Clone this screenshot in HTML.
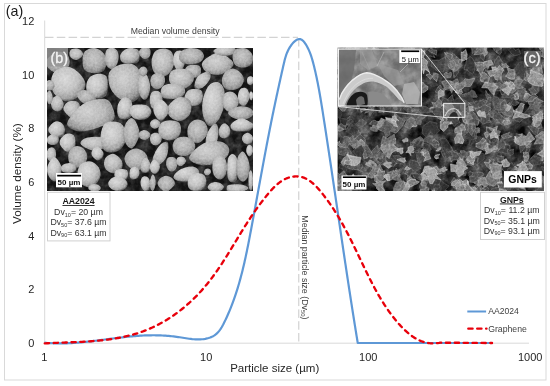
<!DOCTYPE html>
<html><head><meta charset="utf-8"><style>
html,body{margin:0;padding:0;background:#fff;width:550px;height:386px;overflow:hidden}
svg{display:block;filter:blur(0.3px)}
</style></head><body>
<svg width="550" height="386" viewBox="0 0 550 386" font-family="'Liberation Sans', Arial, sans-serif">
<defs>
<radialGradient id="pg" cx="0.42" cy="0.38" r="0.65">
<stop offset="0" stop-color="#d2d2d2"/><stop offset="0.55" stop-color="#bbbbbb"/><stop offset="0.85" stop-color="#989898"/><stop offset="1" stop-color="#5a5a5a"/>
</radialGradient>
<radialGradient id="pg2" cx="0.45" cy="0.4" r="0.65">
<stop offset="0" stop-color="#c8c8c8"/><stop offset="0.55" stop-color="#b0b0b0"/><stop offset="0.85" stop-color="#8e8e8e"/><stop offset="1" stop-color="#525252"/>
</radialGradient>
<radialGradient id="pg3" cx="0.4" cy="0.35" r="0.65">
<stop offset="0" stop-color="#dadada"/><stop offset="0.55" stop-color="#c4c4c4"/><stop offset="0.85" stop-color="#a2a2a2"/><stop offset="1" stop-color="#626262"/>
</radialGradient>
<clipPath id="cb"><rect x="47" y="48" width="206" height="143"/></clipPath>
<clipPath id="cc"><rect x="337.5" y="47.5" width="206.5" height="143.5"/></clipPath>
<clipPath id="ci"><rect x="338.5" y="49" width="83" height="57"/></clipPath>
<filter id="tb" x="0" y="0" width="1" height="1" color-interpolation-filters="sRGB">
<feTurbulence type="fractalNoise" baseFrequency="0.12" numOctaves="3" seed="4"/>
<feColorMatrix type="matrix" values="1.2 0 0 0 -0.42  1.2 0 0 0 -0.42  1.2 0 0 0 -0.42  0 0 0 0 1"/>
</filter>
<filter id="gr" x="0" y="0" width="1" height="1" color-interpolation-filters="sRGB">
<feTurbulence type="fractalNoise" baseFrequency="0.45" numOctaves="2" seed="2"/>
<feColorMatrix type="matrix" values="1 0 0 0 0  1 0 0 0 0  1 0 0 0 0  0 0 0 0 1"/>
</filter>
<filter id="tc" x="0" y="0" width="1" height="1" color-interpolation-filters="sRGB">
<feTurbulence type="fractalNoise" baseFrequency="0.07" numOctaves="4" seed="9"/>
<feColorMatrix type="matrix" values="1.5 0 0 0 -0.4  1.5 0 0 0 -0.4  1.5 0 0 0 -0.4  0 0 0 0 1"/>
</filter>
<filter id="bl" x="-0.1" y="-0.1" width="1.2" height="1.2"><feGaussianBlur stdDeviation="0.6"/></filter>
<filter id="bl2" x="0" y="0" width="1" height="1"><feGaussianBlur stdDeviation="0.55"/></filter>
</defs>
<rect x="4.5" y="3.5" width="541.5" height="376.5" fill="#fff" stroke="#d9d9d9" stroke-width="1"/>
<!-- axes -->
<line x1="44.7" y1="20.5" x2="44.7" y2="343.2" stroke="#d9d9d9" stroke-width="1"/>
<line x1="44.5" y1="343.2" x2="529" y2="343.2" stroke="#d9d9d9" stroke-width="1"/>
<!-- median lines -->
<line x1="45" y1="37.3" x2="298" y2="37.3" stroke="#c8c8c8" stroke-width="1" stroke-dasharray="8.5 3.3"/>
<line x1="298.8" y1="38" x2="298.8" y2="343" stroke="#c8c8c8" stroke-width="1" stroke-dasharray="8.5 3.3"/>
<text x="175.2" y="34" font-size="8.7" fill="#404040" text-anchor="middle">Median volume density</text>
<text transform="translate(302,215.3) rotate(90)" font-size="8.9" fill="#404040">Median particle size (Dv<tspan font-size="5.8" dy="1.5">50</tspan><tspan dy="-1.5">)</tspan></text>
<!-- tick labels -->
<g font-size="11" fill="#262626" text-anchor="end">
<text x="34.3" y="24.8">12</text><text x="34.3" y="78.5">10</text><text x="34.3" y="132.2">8</text>
<text x="34.3" y="185.9">6</text><text x="34.3" y="239.6">4</text><text x="34.3" y="293.3">2</text><text x="34.3" y="347">0</text>
</g>
<g font-size="11" fill="#262626" text-anchor="middle">
<text x="44.2" y="361">1</text><text x="206.2" y="361">10</text><text x="368.2" y="361">100</text><text x="530.2" y="361">1000</text>
</g>
<text x="274.7" y="371.9" font-size="11.5" fill="#262626" text-anchor="middle">Particle size (µm)</text>
<text transform="translate(20.5,173.6) rotate(-90)" font-size="11.7" fill="#262626" text-anchor="middle">Volume density (%)</text>
<text x="5.8" y="16" font-size="14.3" fill="#1a1a1a">(a)</text>
<!-- image b -->
<g clip-path="url(#cb)">
<rect x="47" y="48" width="206" height="143" fill="#1c1c1c"/>
<rect x="47" y="48" width="206" height="143" filter="url(#tb)" opacity="0.35"/>
<g filter="url(#bl)">
<path d="M69.8,62.0 C69.7,64.6 68.4,67.8 66.4,69.6 C64.4,71.5 60.8,73.1 58.0,73.1 C55.2,73.1 51.7,71.4 49.7,69.6 C47.7,67.7 45.6,64.3 45.8,62.0 C46.0,59.7 48.8,57.2 50.8,55.5 C52.8,53.8 55.4,52.1 58.0,51.9 C60.6,51.7 64.7,52.5 66.6,54.1 C68.6,55.8 69.8,59.4 69.8,62.0Z" fill="url(#pg2)"/>
<path d="M83.2,54.0 C83.1,55.3 81.5,57.0 80.3,58.0 C79.1,59.0 77.5,60.1 76.0,60.1 C74.5,60.1 72.7,59.1 71.5,58.1 C70.4,57.1 69.4,55.4 69.3,54.0 C69.3,52.6 70.1,50.5 71.2,49.6 C72.4,48.7 74.5,48.4 76.0,48.5 C77.5,48.5 79.2,49.0 80.4,49.9 C81.6,50.8 83.2,52.7 83.2,54.0Z" fill="url(#pg)"/>
<path d="M106.4,60.6 C106.7,63.6 106.2,68.3 104.1,70.4 C102.1,72.5 97.5,73.2 94.3,73.2 C91.1,73.1 86.6,72.3 84.7,70.2 C82.7,68.1 82.4,63.7 82.5,60.6 C82.5,57.5 82.9,53.4 84.9,51.3 C86.9,49.2 91.3,47.7 94.3,47.9 C97.3,48.0 100.8,50.1 102.8,52.2 C104.8,54.3 106.2,57.6 106.4,60.6Z" fill="url(#pg2)"/>
<path d="M118.7,58.0 C118.6,60.4 117.9,62.9 116.8,64.8 C115.6,66.7 113.7,69.0 112.0,69.2 C110.3,69.3 107.7,67.6 106.6,65.7 C105.4,63.9 105.2,60.6 105.2,58.0 C105.1,55.4 105.3,51.8 106.5,50.1 C107.6,48.4 110.2,47.7 112.0,47.7 C113.8,47.8 116.1,48.8 117.2,50.5 C118.3,52.2 118.8,55.6 118.7,58.0Z" fill="url(#pg)"/>
<path d="M139.6,56.0 C139.6,58.1 139.5,61.0 137.9,62.3 C136.3,63.6 132.6,63.7 130.0,63.7 C127.4,63.7 123.8,63.6 122.1,62.3 C120.5,61.0 119.8,57.9 120.0,56.0 C120.3,54.1 121.8,52.1 123.5,50.8 C125.1,49.4 127.6,48.2 130.0,48.0 C132.4,47.8 136.2,48.4 137.8,49.7 C139.4,51.1 139.5,53.9 139.6,56.0Z" fill="url(#pg)"/>
<path d="M150.6,53.0 C150.5,54.5 150.1,56.1 149.2,57.2 C148.2,58.2 146.3,59.3 145.0,59.2 C143.7,59.2 142.2,57.9 141.1,56.9 C140.0,55.9 138.7,54.3 138.7,53.0 C138.6,51.7 139.8,49.8 140.8,48.8 C141.9,47.8 143.5,47.2 145.0,47.1 C146.5,47.0 148.7,47.4 149.6,48.4 C150.5,49.4 150.7,51.5 150.6,53.0Z" fill="url(#pg2)"/>
<path d="M85.6,85.0 C85.6,88.8 82.1,93.3 79.1,96.1 C76.1,98.9 71.4,101.6 67.6,101.6 C63.8,101.6 58.9,98.8 56.1,96.1 C53.4,93.3 51.4,89.0 51.1,85.0 C50.8,81.0 51.5,75.2 54.3,72.1 C57.0,69.1 63.4,66.5 67.6,66.8 C71.8,67.0 76.5,70.5 79.5,73.5 C82.5,76.5 85.7,81.2 85.6,85.0Z" fill="url(#pg3)"/>
<path d="M107.8,86.0 C107.7,89.3 107.7,93.6 105.9,95.7 C104.1,97.8 99.9,98.7 97.0,98.6 C94.1,98.5 90.2,97.4 88.4,95.3 C86.6,93.2 86.1,88.9 86.2,86.0 C86.4,83.1 87.5,79.7 89.3,77.7 C91.1,75.6 94.2,74.2 97.0,73.9 C99.8,73.6 104.4,74.0 106.2,76.0 C108.0,78.0 107.8,82.7 107.8,86.0Z" fill="url(#pg3)"/>
<path d="M142.3,76.4 C143.8,80.7 144.0,86.1 142.6,90.3 C141.3,94.5 137.9,100.1 134.1,101.6 C130.4,103.1 124.0,101.4 120.1,99.1 C116.1,96.9 112.2,92.5 110.4,88.1 C108.6,83.6 107.5,76.5 109.2,72.6 C111.0,68.6 116.5,65.8 120.6,64.5 C124.8,63.2 130.3,62.9 133.9,64.8 C137.6,66.8 140.9,72.2 142.3,76.4Z" fill="url(#pg)"/>
<path d="M96.3,100.7 C95.7,102.0 92.9,102.5 90.8,102.9 C88.7,103.3 85.8,104.0 83.7,103.3 C81.7,102.5 79.6,100.1 78.4,98.5 C77.3,96.9 76.4,95.0 76.7,93.6 C77.1,92.3 78.7,90.8 80.6,90.3 C82.5,89.8 86.0,89.9 88.3,90.8 C90.5,91.6 92.7,93.8 94.0,95.5 C95.3,97.1 96.8,99.5 96.3,100.7Z" fill="url(#pg2)"/>
<path d="M63.8,104.2 C63.8,105.9 63.0,108.2 61.9,109.4 C60.8,110.6 58.8,111.4 57.3,111.4 C55.8,111.3 54.0,110.3 52.9,109.2 C51.9,108.0 51.1,106.0 51.0,104.2 C50.9,102.4 51.3,100.0 52.4,98.6 C53.4,97.2 55.7,95.7 57.3,95.8 C58.9,95.9 60.7,97.8 61.7,99.2 C62.8,100.6 63.8,102.5 63.8,104.2Z" fill="url(#pg)"/>
<path d="M80.1,108.8 C80.1,110.9 79.8,113.4 78.5,115.0 C77.2,116.5 74.2,118.2 72.3,118.1 C70.4,118.0 68.3,115.8 66.8,114.3 C65.3,112.7 63.4,110.7 63.3,108.8 C63.3,106.9 64.9,104.3 66.4,102.9 C67.9,101.6 70.3,100.7 72.3,100.7 C74.3,100.6 77.2,101.2 78.5,102.6 C79.8,103.9 80.2,106.7 80.1,108.8Z" fill="url(#pg)"/>
<path d="M113.0,108.4 C114.2,111.8 116.1,116.6 113.4,119.9 C110.6,123.2 102.1,126.2 96.4,128.2 C90.7,130.1 84.0,131.9 79.2,131.4 C74.4,130.9 68.4,128.1 67.4,124.9 C66.5,121.8 70.5,116.5 73.7,112.7 C77.0,108.9 81.5,104.2 86.9,102.0 C92.3,99.7 101.6,98.1 106.0,99.2 C110.3,100.3 111.7,104.9 113.0,108.4Z" fill="url(#pg)"/>
<path d="M132.5,109.3 C132.4,111.9 131.9,115.2 130.7,116.9 C129.4,118.6 127.0,119.3 125.0,119.4 C123.0,119.6 120.1,119.2 118.8,117.5 C117.5,115.9 117.1,111.9 117.2,109.3 C117.3,106.7 118.0,103.7 119.3,101.7 C120.6,99.7 123.0,97.4 125.0,97.3 C127.0,97.2 129.9,99.0 131.2,101.0 C132.4,103.0 132.6,106.7 132.5,109.3Z" fill="url(#pg3)"/>
<path d="M151.5,112.0 C151.4,114.0 149.6,116.7 147.7,118.0 C145.8,119.3 142.5,119.9 140.0,119.9 C137.5,119.8 134.6,118.8 132.9,117.5 C131.2,116.2 129.7,114.0 129.6,112.0 C129.4,110.0 130.2,107.0 132.0,105.8 C133.7,104.5 137.3,104.5 140.0,104.5 C142.7,104.5 146.0,104.6 147.9,105.9 C149.8,107.1 151.5,110.0 151.5,112.0Z" fill="url(#pg3)"/>
<path d="M150.3,87.0 C150.3,90.1 149.4,94.2 148.3,96.4 C147.3,98.5 145.4,100.0 144.0,99.8 C142.6,99.7 141.0,97.7 140.0,95.6 C139.1,93.5 138.3,90.1 138.2,87.0 C138.1,83.9 138.5,79.5 139.4,77.1 C140.4,74.7 142.5,72.6 144.0,72.8 C145.5,72.9 147.2,75.5 148.2,77.9 C149.3,80.3 150.3,83.9 150.3,87.0Z" fill="url(#pg)"/>
<path d="M147.5,71.3 C147.4,72.5 146.9,73.9 146.1,74.7 C145.4,75.5 144.0,76.3 143.0,76.2 C142.0,76.2 140.8,75.3 140.1,74.5 C139.3,73.7 138.5,72.4 138.5,71.3 C138.5,70.2 139.4,68.9 140.1,68.1 C140.8,67.3 142.0,66.7 143.0,66.6 C144.0,66.6 145.5,67.0 146.2,67.8 C146.9,68.6 147.5,70.1 147.5,71.3Z" fill="url(#pg2)"/>
<path d="M54.5,85.4 C54.5,86.7 53.5,88.4 52.8,89.3 C52.1,90.2 51.0,90.7 50.0,90.7 C49.0,90.8 47.6,90.6 46.9,89.7 C46.2,88.8 45.9,86.8 45.9,85.4 C45.9,84.0 46.3,82.1 47.0,81.1 C47.6,80.2 49.0,79.8 50.0,79.9 C51.0,80.0 52.0,80.6 52.8,81.5 C53.5,82.5 54.4,84.1 54.5,85.4Z" fill="url(#pg2)"/>
<path d="M52.8,97.5 C52.8,99.1 52.3,101.2 51.7,102.3 C51.2,103.5 50.2,104.6 49.5,104.5 C48.8,104.5 47.9,103.2 47.4,102.0 C46.9,100.9 46.4,99.1 46.4,97.5 C46.3,95.9 46.7,93.8 47.2,92.6 C47.8,91.4 48.8,90.4 49.5,90.4 C50.2,90.5 51.1,91.8 51.6,93.0 C52.1,94.1 52.7,95.9 52.8,97.5Z" fill="url(#pg2)"/>
<path d="M174.4,61.6 C174.4,65.0 172.7,69.2 170.7,71.8 C168.7,74.3 165.4,76.7 162.6,76.8 C159.8,76.9 155.9,74.8 154.1,72.3 C152.3,69.8 151.4,65.0 151.5,61.6 C151.7,58.2 152.9,53.9 154.8,51.7 C156.6,49.6 159.9,48.8 162.6,48.7 C165.3,48.6 168.9,49.0 170.9,51.1 C172.9,53.3 174.5,58.2 174.4,61.6Z" fill="url(#pg)"/>
<path d="M185.4,60.6 C185.2,63.0 184.4,65.4 183.5,67.2 C182.5,69.0 180.9,71.1 179.5,71.1 C178.1,71.2 176.3,69.5 175.2,67.7 C174.2,65.9 173.3,63.1 173.2,60.6 C173.2,58.1 173.8,54.5 174.8,52.8 C175.8,51.1 177.9,50.4 179.5,50.4 C181.1,50.4 183.2,51.1 184.2,52.8 C185.2,54.5 185.5,58.2 185.4,60.6Z" fill="url(#pg3)"/>
<path d="M204.0,56.0 C204.0,58.0 202.6,60.7 200.4,62.1 C198.2,63.5 193.9,64.4 190.7,64.4 C187.5,64.4 183.1,63.4 181.1,62.0 C179.2,60.6 178.8,57.9 179.0,56.0 C179.1,54.1 180.2,52.0 182.2,50.6 C184.1,49.3 187.7,48.0 190.7,47.9 C193.7,47.8 197.9,48.7 200.1,50.1 C202.3,51.4 203.9,54.0 204.0,56.0Z" fill="url(#pg2)"/>
<path d="M233.6,64.0 C233.6,66.3 230.4,69.1 227.8,71.0 C225.2,72.8 221.5,74.8 218.0,75.0 C214.5,75.2 209.2,74.0 206.5,72.2 C203.8,70.3 201.5,66.5 201.8,64.0 C202.1,61.5 205.5,59.0 208.2,57.1 C210.9,55.2 214.8,52.7 218.0,52.7 C221.2,52.7 225.1,55.3 227.6,57.1 C230.2,59.0 233.5,61.7 233.6,64.0Z" fill="url(#pg)"/>
<path d="M236.2,51.0 C236.1,52.2 234.9,53.8 233.0,54.6 C231.1,55.5 227.6,56.0 225.0,56.0 C222.4,56.0 219.2,55.3 217.3,54.5 C215.4,53.7 213.3,52.1 213.4,51.0 C213.5,49.9 215.8,48.5 217.7,47.7 C219.7,46.9 222.4,46.3 225.0,46.2 C227.6,46.1 231.4,46.4 233.3,47.2 C235.1,48.0 236.2,49.8 236.2,51.0Z" fill="url(#pg)"/>
<path d="M253.1,58.0 C253.2,60.3 252.5,63.5 250.8,65.1 C249.1,66.7 245.6,67.7 243.0,67.7 C240.4,67.7 236.9,66.7 235.2,65.1 C233.5,63.5 232.8,60.5 232.6,58.0 C232.5,55.5 232.8,52.0 234.5,50.3 C236.3,48.7 240.4,47.9 243.0,48.1 C245.6,48.2 248.5,49.8 250.2,51.5 C251.9,53.1 253.0,55.7 253.1,58.0Z" fill="url(#pg2)"/>
<path d="M201.0,71.4 C200.9,73.0 200.6,75.1 199.3,76.2 C198.1,77.3 195.4,77.9 193.5,77.9 C191.6,77.9 189.1,77.3 187.6,76.2 C186.2,75.2 184.6,73.1 184.6,71.4 C184.5,69.7 185.9,67.4 187.4,66.3 C188.8,65.2 191.5,64.8 193.5,64.8 C195.5,64.8 198.4,65.2 199.6,66.3 C200.9,67.4 201.1,69.8 201.0,71.4Z" fill="url(#pg2)"/>
<path d="M165.1,80.7 C165.0,82.7 163.8,85.0 162.5,86.4 C161.3,87.8 159.2,89.1 157.5,89.2 C155.8,89.2 153.3,88.2 152.1,86.8 C150.9,85.4 150.2,82.7 150.3,80.7 C150.4,78.7 151.3,76.3 152.5,75.0 C153.7,73.7 155.7,72.9 157.5,72.7 C159.3,72.6 162.0,72.8 163.3,74.2 C164.5,75.5 165.2,78.7 165.1,80.7Z" fill="url(#pg2)"/>
<path d="M194.0,78.5 C194.0,80.8 192.3,83.5 190.2,85.3 C188.1,87.1 184.4,89.3 181.4,89.3 C178.4,89.4 174.3,87.4 172.2,85.6 C170.1,83.8 169.0,81.0 168.9,78.5 C168.8,76.0 169.5,72.6 171.6,70.9 C173.6,69.2 178.3,68.3 181.4,68.4 C184.5,68.5 188.3,69.8 190.4,71.5 C192.5,73.2 194.1,76.2 194.0,78.5Z" fill="url(#pg)"/>
<path d="M206.7,83.9 C205.0,85.9 202.5,87.8 200.6,88.6 C198.7,89.4 196.2,89.7 195.2,88.8 C194.2,88.0 194.2,85.5 194.7,83.5 C195.1,81.4 196.2,78.3 197.8,76.4 C199.4,74.6 202.2,73.3 204.1,72.5 C206.0,71.8 208.3,71.2 209.4,71.9 C210.5,72.7 211.1,74.9 210.7,76.9 C210.2,78.9 208.4,81.9 206.7,83.9Z" fill="url(#pg)"/>
<path d="M243.9,79.4 C244.0,81.9 242.4,85.3 240.6,87.1 C238.7,88.8 235.6,89.9 232.9,90.0 C230.2,90.2 226.2,89.7 224.4,87.9 C222.5,86.2 221.7,82.1 221.9,79.4 C222.1,76.7 223.6,73.8 225.4,71.9 C227.3,70.1 230.5,68.4 232.9,68.4 C235.3,68.5 238.3,70.4 240.1,72.2 C241.9,74.0 243.8,76.9 243.9,79.4Z" fill="url(#pg2)"/>
<path d="M253.9,80.7 C253.9,81.8 253.4,83.0 252.8,83.8 C252.2,84.5 251.3,85.1 250.5,85.1 C249.7,85.2 248.6,84.8 248.0,84.0 C247.4,83.3 247.0,81.8 246.9,80.7 C246.9,79.6 247.4,78.0 247.9,77.3 C248.5,76.5 249.7,76.1 250.5,76.2 C251.3,76.2 252.4,76.6 253.0,77.3 C253.6,78.1 253.9,79.6 253.9,80.7Z" fill="url(#pg3)"/>
<path d="M185.2,91.5 C185.1,93.4 183.7,95.7 181.7,97.0 C179.6,98.3 176.1,99.0 173.0,99.1 C169.9,99.2 165.1,99.1 163.0,97.8 C161.0,96.6 160.6,93.5 160.7,91.5 C160.8,89.5 161.7,87.0 163.7,85.6 C165.8,84.3 169.9,83.4 173.0,83.4 C176.1,83.4 180.3,84.2 182.4,85.6 C184.4,86.9 185.3,89.6 185.2,91.5Z" fill="url(#pg)"/>
<path d="M162.5,100.0 C162.5,102.2 161.8,104.9 160.8,106.5 C159.8,108.1 158.0,109.4 156.5,109.6 C155.0,109.7 152.7,109.0 151.6,107.4 C150.5,105.8 149.7,102.5 149.7,100.0 C149.7,97.5 150.5,94.1 151.6,92.6 C152.7,91.1 154.9,90.9 156.5,91.0 C158.1,91.0 160.0,91.6 161.0,93.1 C162.0,94.7 162.5,97.8 162.5,100.0Z" fill="url(#pg)"/>
<path d="M202.8,97.2 C202.7,99.3 202.1,101.7 200.7,103.2 C199.3,104.7 196.7,106.0 194.5,106.1 C192.3,106.2 189.1,105.6 187.5,104.1 C185.8,102.6 184.5,99.4 184.6,97.2 C184.7,95.0 186.3,92.1 187.9,90.8 C189.6,89.4 192.3,89.1 194.5,89.1 C196.7,89.0 200.0,89.1 201.4,90.5 C202.7,91.9 202.9,95.1 202.8,97.2Z" fill="url(#pg)"/>
<path d="M224.2,104.9 C223.3,110.0 221.0,116.3 218.6,119.8 C216.1,123.3 212.2,126.5 209.6,126.0 C207.1,125.5 204.6,121.2 203.5,117.0 C202.3,112.9 201.7,106.3 202.6,101.0 C203.5,95.8 206.2,88.9 208.7,85.7 C211.2,82.5 214.8,81.5 217.4,82.0 C220.0,82.5 222.9,85.1 224.0,88.9 C225.1,92.7 225.2,99.7 224.2,104.9Z" fill="url(#pg3)"/>
<path d="M238.8,101.8 C238.8,104.2 237.2,107.1 235.7,108.8 C234.3,110.6 231.9,112.4 230.0,112.3 C228.1,112.3 225.7,110.3 224.5,108.6 C223.2,106.8 222.7,104.2 222.7,101.8 C222.6,99.4 222.7,96.0 223.9,94.3 C225.1,92.6 228.0,91.6 230.0,91.6 C232.0,91.7 234.5,92.8 235.9,94.5 C237.4,96.2 238.8,99.4 238.8,101.8Z" fill="url(#pg)"/>
<path d="M249.8,96.6 C249.7,98.8 248.4,101.3 247.4,102.9 C246.3,104.5 244.9,106.1 243.6,106.1 C242.3,106.2 240.5,105.0 239.5,103.4 C238.6,101.9 237.9,98.8 237.9,96.6 C237.9,94.4 238.7,91.5 239.7,90.0 C240.6,88.6 242.3,87.7 243.6,87.7 C244.9,87.6 246.7,88.2 247.7,89.7 C248.7,91.2 249.8,94.4 249.8,96.6Z" fill="url(#pg3)"/>
<path d="M191.4,109.0 C191.2,111.7 190.2,114.6 188.3,116.6 C186.4,118.7 182.9,121.0 180.0,121.2 C177.1,121.3 172.8,119.6 170.7,117.5 C168.5,115.5 166.9,111.6 167.1,109.0 C167.4,106.4 169.9,103.7 172.0,101.7 C174.2,99.7 177.1,97.3 180.0,97.1 C182.9,96.8 187.7,98.2 189.6,100.1 C191.5,102.1 191.6,106.3 191.4,109.0Z" fill="url(#pg)"/>
<path d="M169.2,110.2 C169.1,112.4 167.4,114.9 166.1,116.6 C164.8,118.4 162.9,120.8 161.2,120.9 C159.5,120.9 157.4,118.7 156.1,116.9 C154.8,115.1 153.5,112.6 153.3,110.2 C153.2,107.8 154.0,104.2 155.3,102.5 C156.6,100.8 159.4,99.6 161.2,99.8 C163.0,100.0 164.9,101.9 166.2,103.6 C167.5,105.4 169.2,108.0 169.2,110.2Z" fill="url(#pg3)"/>
<path d="M253.7,113.0 C253.7,114.7 251.7,116.9 249.5,118.0 C247.4,119.1 243.8,119.7 241.0,119.7 C238.2,119.6 235.1,118.8 232.9,117.7 C230.7,116.6 228.0,114.6 228.0,113.0 C228.1,111.4 230.9,109.5 233.1,108.4 C235.3,107.3 238.2,106.4 241.0,106.3 C243.8,106.2 247.6,106.8 249.8,107.9 C251.9,109.0 253.8,111.3 253.7,113.0Z" fill="url(#pg2)"/>
<path d="M253.3,95.7 C253.3,96.8 252.9,98.1 252.6,98.9 C252.2,99.8 251.7,100.6 251.2,100.6 C250.7,100.5 250.2,99.6 249.9,98.8 C249.5,98.0 249.2,96.8 249.2,95.7 C249.2,94.6 249.4,92.9 249.7,92.2 C250.1,91.5 250.7,91.3 251.2,91.4 C251.7,91.4 252.2,91.9 252.5,92.6 C252.9,93.3 253.3,94.6 253.3,95.7Z" fill="url(#pg3)"/>
<path d="M64.9,129.7 C65.0,131.7 64.4,134.7 63.1,136.0 C61.7,137.3 58.7,137.8 56.8,137.7 C54.9,137.5 53.0,136.3 51.5,135.0 C50.1,133.6 48.3,131.5 48.3,129.7 C48.3,127.9 50.0,125.7 51.4,124.3 C52.8,122.9 54.9,121.4 56.8,121.3 C58.7,121.3 61.2,122.5 62.6,123.9 C63.9,125.3 64.9,127.7 64.9,129.7Z" fill="url(#pg3)"/>
<path d="M58.9,139.6 C59.0,140.9 58.4,142.8 57.4,143.7 C56.5,144.6 54.5,145.0 53.0,145.0 C51.5,145.1 49.4,144.7 48.4,143.8 C47.3,142.9 46.7,140.9 46.8,139.6 C46.8,138.3 47.9,136.8 48.9,135.9 C50.0,135.0 51.6,134.2 53.0,134.2 C54.4,134.2 56.3,134.8 57.3,135.7 C58.3,136.6 58.9,138.3 58.9,139.6Z" fill="url(#pg)"/>
<path d="M75.6,142.4 C75.7,144.7 75.3,147.8 74.0,149.5 C72.7,151.1 69.9,152.4 68.0,152.3 C66.1,152.1 64.1,150.3 62.7,148.6 C61.3,147.0 59.6,144.5 59.6,142.4 C59.6,140.3 61.3,137.7 62.7,136.2 C64.1,134.7 66.1,133.6 68.0,133.5 C69.9,133.4 72.6,134.0 73.9,135.5 C75.2,137.0 75.6,140.1 75.6,142.4Z" fill="url(#pg3)"/>
<path d="M108.8,143.3 C108.6,144.9 107.1,146.8 104.8,148.0 C102.5,149.3 98.0,150.7 94.8,150.7 C91.6,150.6 87.9,148.9 85.5,147.7 C83.1,146.5 80.6,144.8 80.4,143.3 C80.3,141.8 82.2,139.6 84.6,138.5 C87.0,137.4 91.3,136.8 94.8,136.7 C98.3,136.7 103.3,137.1 105.6,138.2 C107.9,139.3 108.9,141.7 108.8,143.3Z" fill="url(#pg)"/>
<path d="M126.4,137.0 C126.3,140.9 124.0,145.5 121.8,148.1 C119.7,150.7 116.5,152.1 113.5,152.3 C110.5,152.6 106.0,152.4 103.9,149.9 C101.7,147.3 100.6,141.2 100.6,137.0 C100.7,132.8 102.0,127.1 104.1,124.5 C106.3,121.9 110.4,121.5 113.5,121.6 C116.6,121.6 120.4,122.4 122.5,125.0 C124.7,127.5 126.5,133.1 126.4,137.0Z" fill="url(#pg3)"/>
<path d="M139.5,133.0 C139.5,136.2 137.8,140.1 136.5,142.7 C135.1,145.3 133.1,148.4 131.3,148.5 C129.5,148.6 127.0,146.1 125.7,143.5 C124.3,140.9 123.1,136.4 123.2,133.0 C123.3,129.6 124.7,125.6 126.0,123.1 C127.4,120.7 129.5,118.1 131.3,118.1 C133.1,118.1 135.2,120.7 136.6,123.2 C137.9,125.7 139.5,129.8 139.5,133.0Z" fill="url(#pg2)"/>
<path d="M150.5,134.9 C150.5,136.0 149.4,137.4 148.4,138.2 C147.4,139.1 145.7,140.0 144.4,140.0 C143.1,140.0 141.3,139.2 140.3,138.3 C139.4,137.4 138.6,136.0 138.6,134.9 C138.6,133.8 139.3,132.3 140.3,131.5 C141.3,130.6 143.1,129.9 144.4,129.9 C145.7,129.9 147.3,130.7 148.4,131.6 C149.4,132.4 150.5,133.8 150.5,134.9Z" fill="url(#pg2)"/>
<path d="M56.1,154.6 C56.0,156.3 55.6,158.5 54.9,159.7 C54.2,160.9 52.8,161.7 51.7,161.8 C50.6,161.8 49.2,161.2 48.3,160.0 C47.4,158.8 46.5,156.4 46.5,154.6 C46.5,152.8 47.3,150.3 48.2,149.0 C49.1,147.8 50.6,147.1 51.7,147.2 C52.8,147.2 54.3,148.0 55.0,149.3 C55.8,150.5 56.1,152.9 56.1,154.6Z" fill="url(#pg)"/>
<path d="M87.3,156.5 C87.4,159.2 85.7,162.9 83.9,164.8 C82.2,166.6 79.3,167.8 77.0,167.8 C74.7,167.7 71.7,166.4 70.3,164.5 C68.8,162.6 68.1,159.1 68.2,156.5 C68.2,153.9 69.2,150.8 70.7,149.0 C72.2,147.2 74.8,145.9 77.0,145.9 C79.2,145.8 81.9,146.9 83.6,148.6 C85.3,150.4 87.3,153.8 87.3,156.5Z" fill="url(#pg2)"/>
<path d="M103.7,153.7 C103.8,155.2 102.6,157.2 101.6,158.4 C100.6,159.5 98.9,160.5 97.6,160.4 C96.3,160.3 94.9,159.1 93.9,158.0 C92.9,156.9 91.6,155.2 91.5,153.7 C91.4,152.2 92.3,149.9 93.4,148.8 C94.4,147.6 96.3,146.7 97.6,146.8 C98.9,147.0 100.2,148.3 101.3,149.4 C102.3,150.6 103.7,152.2 103.7,153.7Z" fill="url(#pg3)"/>
<path d="M122.7,164.0 C122.8,166.2 122.0,169.6 120.4,171.1 C118.8,172.7 115.3,173.4 113.0,173.2 C110.7,173.1 108.1,171.7 106.6,170.2 C105.0,168.6 104.1,166.2 104.0,164.0 C103.9,161.8 104.5,159.0 106.0,157.3 C107.5,155.6 110.7,153.7 113.0,153.7 C115.3,153.8 118.0,156.0 119.6,157.7 C121.2,159.4 122.5,161.8 122.7,164.0Z" fill="url(#pg)"/>
<path d="M147.8,158.8 C148.0,161.3 147.0,164.9 145.0,166.9 C143.1,168.8 138.9,170.5 136.0,170.3 C133.1,170.2 129.8,168.0 127.9,166.1 C125.9,164.1 124.4,161.2 124.4,158.8 C124.4,156.4 126.2,153.5 128.1,151.8 C130.0,150.0 133.4,148.4 136.0,148.4 C138.6,148.4 142.0,149.9 144.0,151.7 C146.0,153.4 147.7,156.3 147.8,158.8Z" fill="url(#pg2)"/>
<path d="M61.7,169.5 C61.8,172.2 60.5,175.9 59.3,177.9 C58.0,179.9 55.7,181.5 54.0,181.3 C52.3,181.2 50.4,179.0 49.3,177.1 C48.1,175.1 47.0,172.0 47.1,169.5 C47.1,167.0 48.2,164.2 49.4,162.1 C50.5,160.0 52.4,157.1 54.0,156.9 C55.6,156.8 57.7,159.4 59.0,161.5 C60.3,163.6 61.7,166.8 61.7,169.5Z" fill="url(#pg3)"/>
<path d="M76.6,168.2 C76.6,169.4 75.7,170.9 74.4,171.7 C73.2,172.5 70.9,173.0 69.0,173.0 C67.1,173.1 64.5,172.8 63.1,172.0 C61.7,171.2 60.4,169.4 60.5,168.2 C60.5,167.0 62.1,165.5 63.5,164.6 C64.9,163.7 67.1,163.0 69.0,162.9 C70.9,162.9 73.4,163.6 74.7,164.5 C76.0,165.4 76.7,167.0 76.6,168.2Z" fill="url(#pg)"/>
<path d="M100.7,174.2 C100.7,176.9 99.1,180.0 97.3,182.2 C95.4,184.4 92.4,187.2 89.6,187.5 C86.8,187.7 82.6,185.8 80.6,183.6 C78.6,181.4 77.5,177.4 77.5,174.2 C77.5,171.0 78.4,166.8 80.4,164.6 C82.4,162.5 86.7,161.0 89.6,161.2 C92.5,161.4 95.7,163.7 97.6,165.9 C99.5,168.0 100.8,171.5 100.7,174.2Z" fill="url(#pg3)"/>
<path d="M128.1,174.7 C128.0,176.2 127.6,178.0 126.5,179.1 C125.4,180.1 123.2,181.1 121.5,181.1 C119.8,181.2 117.5,180.3 116.3,179.2 C115.1,178.2 114.4,176.2 114.4,174.7 C114.3,173.2 115.0,171.0 116.2,170.1 C117.4,169.1 119.7,169.0 121.5,169.0 C123.3,169.0 125.8,169.1 126.9,170.0 C128.0,171.0 128.1,173.2 128.1,174.7Z" fill="url(#pg3)"/>
<path d="M139.6,173.3 C139.5,174.8 138.8,176.6 137.9,177.6 C137.1,178.6 135.8,179.2 134.5,179.3 C133.2,179.5 131.2,179.4 130.4,178.4 C129.6,177.4 129.5,174.9 129.5,173.3 C129.6,171.7 129.9,169.7 130.7,168.6 C131.6,167.5 133.2,166.8 134.5,166.8 C135.8,166.8 137.4,167.5 138.3,168.6 C139.1,169.7 139.7,171.8 139.6,173.3Z" fill="url(#pg3)"/>
<path d="M150.5,165.8 C150.5,167.7 149.8,170.4 148.9,171.5 C148.0,172.7 146.5,172.8 145.3,172.8 C144.1,172.9 142.3,172.9 141.6,171.7 C140.8,170.6 140.7,167.6 140.8,165.8 C140.9,164.0 141.5,162.2 142.2,160.9 C142.9,159.5 144.2,157.9 145.3,157.8 C146.4,157.7 147.9,158.9 148.8,160.3 C149.6,161.6 150.5,163.9 150.5,165.8Z" fill="url(#pg)"/>
<path d="M127.7,184.0 C127.7,185.6 126.4,187.8 124.8,189.0 C123.2,190.2 120.2,191.3 118.0,191.2 C115.8,191.2 113.0,190.1 111.4,188.9 C109.7,187.7 108.3,185.7 108.2,184.0 C108.1,182.3 109.3,180.0 110.9,178.7 C112.6,177.4 115.7,176.2 118.0,176.3 C120.3,176.3 122.9,177.9 124.5,179.1 C126.1,180.4 127.6,182.4 127.7,184.0Z" fill="url(#pg3)"/>
<path d="M150.5,183.5 C150.5,185.4 149.9,188.2 149.0,189.4 C148.2,190.7 146.4,191.4 145.3,191.2 C144.2,191.1 143.0,189.8 142.2,188.5 C141.4,187.2 140.6,185.3 140.5,183.5 C140.4,181.7 140.9,179.0 141.7,177.8 C142.5,176.6 144.1,176.1 145.3,176.2 C146.5,176.3 147.8,177.0 148.6,178.2 C149.5,179.4 150.4,181.6 150.5,183.5Z" fill="url(#pg3)"/>
<path d="M100.9,188.0 C100.9,188.9 100.1,190.0 99.1,190.6 C98.1,191.3 96.2,191.9 94.8,191.9 C93.4,191.9 91.6,191.3 90.5,190.6 C89.4,190.0 88.3,188.9 88.3,188.0 C88.2,187.1 89.0,185.7 90.0,185.1 C91.1,184.4 93.3,184.1 94.8,184.1 C96.3,184.2 98.1,184.7 99.1,185.4 C100.1,186.0 100.9,187.1 100.9,188.0Z" fill="url(#pg)"/>
<path d="M181.0,130.3 C180.9,132.8 179.9,135.6 178.0,137.3 C176.1,139.0 172.5,140.3 169.7,140.4 C166.9,140.4 163.0,139.2 161.1,137.5 C159.2,135.9 158.3,132.7 158.3,130.3 C158.2,127.9 159.1,124.7 161.0,123.0 C162.9,121.3 166.7,120.3 169.7,120.2 C172.7,120.1 177.1,120.8 178.9,122.5 C180.8,124.2 181.2,127.8 181.0,130.3Z" fill="url(#pg)"/>
<path d="M161.8,139.1 C161.7,140.7 160.8,142.5 159.8,143.6 C158.7,144.7 157.0,145.7 155.6,145.6 C154.2,145.6 152.4,144.7 151.5,143.6 C150.6,142.5 150.0,140.6 150.0,139.1 C149.9,137.6 150.4,135.5 151.3,134.4 C152.2,133.4 154.1,132.7 155.6,132.7 C157.1,132.7 159.0,133.2 160.0,134.3 C161.0,135.4 161.8,137.5 161.8,139.1Z" fill="url(#pg)"/>
<path d="M160.5,123.7 C160.5,124.8 159.5,126.1 158.6,126.9 C157.7,127.8 156.2,128.8 155.0,128.8 C153.8,128.8 152.2,127.9 151.3,127.0 C150.5,126.2 150.0,124.8 150.1,123.7 C150.1,122.6 150.8,121.4 151.6,120.6 C152.4,119.9 153.8,119.2 155.0,119.2 C156.2,119.2 157.7,119.7 158.6,120.5 C159.5,121.2 160.5,122.6 160.5,123.7Z" fill="url(#pg)"/>
<path d="M207.8,130.7 C207.8,133.3 206.2,136.3 204.4,138.4 C202.7,140.5 199.8,143.1 197.3,143.3 C194.8,143.4 191.1,141.3 189.4,139.2 C187.8,137.1 187.2,133.4 187.3,130.7 C187.5,128.0 188.5,124.9 190.2,123.0 C191.9,121.2 194.9,119.7 197.3,119.6 C199.7,119.6 203.1,120.7 204.9,122.5 C206.6,124.3 207.9,128.1 207.8,130.7Z" fill="url(#pg2)"/>
<path d="M195.3,146.2 C195.3,148.7 193.3,152.1 191.3,153.8 C189.3,155.5 185.9,156.2 183.3,156.1 C180.7,156.1 177.4,155.2 175.6,153.5 C173.8,151.9 172.6,148.6 172.6,146.2 C172.6,143.8 174.0,140.6 175.8,139.0 C177.6,137.4 180.7,136.8 183.3,136.7 C185.9,136.7 189.2,137.1 191.2,138.6 C193.2,140.2 195.3,143.7 195.3,146.2Z" fill="url(#pg2)"/>
<path d="M217.5,139.7 C216.5,142.8 214.5,145.9 213.0,147.9 C211.4,149.8 209.4,152.0 208.2,151.7 C207.0,151.4 206.2,148.6 205.8,146.1 C205.5,143.6 205.4,139.7 206.2,136.7 C206.9,133.6 208.9,130.0 210.5,127.8 C212.1,125.6 214.4,123.4 215.7,123.6 C217.0,123.9 218.3,126.6 218.5,129.3 C218.8,131.9 218.4,136.6 217.5,139.7Z" fill="url(#pg)"/>
<path d="M230.4,131.2 C230.5,132.9 229.8,135.3 228.8,136.6 C227.8,137.8 225.9,138.4 224.5,138.4 C223.1,138.5 221.0,137.9 220.1,136.7 C219.1,135.5 218.7,132.9 218.8,131.2 C218.9,129.5 219.6,127.6 220.6,126.3 C221.5,125.0 223.2,123.3 224.5,123.3 C225.8,123.3 227.5,124.8 228.5,126.2 C229.5,127.5 230.4,129.5 230.4,131.2Z" fill="url(#pg)"/>
<path d="M254.2,125.5 C254.3,127.0 252.0,129.3 249.9,130.3 C247.9,131.3 244.5,131.6 241.7,131.6 C238.9,131.6 235.0,131.5 233.1,130.5 C231.2,129.5 230.3,127.0 230.5,125.5 C230.7,124.0 232.5,122.4 234.3,121.2 C236.2,120.0 239.3,118.2 241.7,118.2 C244.1,118.2 246.9,120.0 249.0,121.2 C251.1,122.5 254.0,124.0 254.2,125.5Z" fill="url(#pg3)"/>
<path d="M253.1,138.6 C253.2,140.0 252.7,142.0 251.7,142.9 C250.8,143.9 248.8,144.3 247.4,144.2 C246.0,144.1 244.5,143.3 243.6,142.4 C242.7,141.5 241.9,139.9 241.9,138.6 C241.9,137.3 242.7,135.8 243.6,134.8 C244.5,133.8 246.1,132.8 247.4,132.8 C248.7,132.8 250.4,133.7 251.3,134.7 C252.3,135.6 253.0,137.2 253.1,138.6Z" fill="url(#pg)"/>
<path d="M228.8,147.7 C229.7,150.2 229.3,154.2 226.7,157.0 C224.1,159.7 217.9,163.0 213.1,164.2 C208.3,165.5 202.0,165.4 198.0,164.4 C194.0,163.4 189.5,160.9 189.1,158.3 C188.7,155.7 192.7,151.8 195.7,149.0 C198.7,146.3 202.8,143.1 207.1,141.9 C211.4,140.7 217.6,140.8 221.3,141.7 C224.9,142.7 227.9,145.1 228.8,147.7Z" fill="url(#pg)"/>
<path d="M166.0,157.9 C164.5,160.5 161.3,163.7 159.3,164.9 C157.4,166.1 155.4,165.9 154.2,165.1 C153.1,164.3 152.2,162.4 152.4,160.2 C152.6,158.0 153.9,154.5 155.4,151.8 C156.9,149.0 159.3,145.4 161.3,143.8 C163.3,142.2 166.4,141.2 167.5,142.1 C168.7,143.0 168.5,146.3 168.3,148.9 C168.0,151.6 167.4,155.2 166.0,157.9Z" fill="url(#pg)"/>
<path d="M177.2,164.0 C177.2,165.8 176.5,168.1 175.5,169.4 C174.6,170.7 172.8,171.8 171.5,171.7 C170.2,171.6 168.7,170.3 167.8,169.0 C166.9,167.7 166.2,165.8 166.1,164.0 C166.1,162.2 166.4,159.6 167.3,158.4 C168.2,157.2 170.1,156.9 171.5,157.0 C172.9,157.0 174.7,157.3 175.6,158.5 C176.6,159.7 177.2,162.2 177.2,164.0Z" fill="url(#pg2)"/>
<path d="M186.0,161.2 C185.9,162.3 184.8,163.4 184.0,164.3 C183.1,165.1 182.0,166.1 180.9,166.2 C179.8,166.2 178.2,165.5 177.4,164.7 C176.6,163.8 176.1,162.3 176.1,161.2 C176.1,160.1 176.7,158.6 177.5,157.8 C178.3,157.0 179.7,156.4 180.9,156.4 C182.1,156.3 183.6,156.9 184.4,157.7 C185.3,158.5 186.1,160.1 186.0,161.2Z" fill="url(#pg)"/>
<path d="M160.0,166.8 C160.0,168.4 159.2,170.6 158.3,171.8 C157.4,173.0 155.9,174.0 154.7,174.0 C153.5,174.0 152.0,172.9 151.2,171.7 C150.4,170.5 149.7,168.4 149.7,166.8 C149.8,165.2 150.5,163.2 151.3,162.1 C152.1,160.9 153.6,159.7 154.7,159.8 C155.8,159.8 157.1,161.1 158.0,162.2 C158.9,163.4 159.9,165.2 160.0,166.8Z" fill="url(#pg3)"/>
<path d="M227.2,167.7 C227.2,170.7 226.1,174.6 224.7,176.5 C223.4,178.5 221.0,179.7 219.3,179.6 C217.6,179.5 215.5,177.7 214.3,175.8 C213.2,173.8 212.3,170.5 212.3,167.7 C212.2,164.9 212.9,161.3 214.0,159.2 C215.2,157.0 217.5,155.2 219.3,155.1 C221.1,154.9 223.7,156.3 225.0,158.4 C226.3,160.6 227.3,164.7 227.2,167.7Z" fill="url(#pg)"/>
<path d="M237.9,168.7 C237.9,172.4 237.7,177.4 236.8,179.7 C235.9,181.9 233.8,182.4 232.4,182.3 C231.0,182.3 229.1,181.5 228.2,179.2 C227.3,177.0 227.2,172.2 227.2,168.7 C227.2,165.2 227.3,160.6 228.2,158.1 C229.0,155.6 231.0,154.0 232.4,153.9 C233.8,153.9 235.9,155.2 236.8,157.7 C237.7,160.1 237.9,165.0 237.9,168.7Z" fill="url(#pg3)"/>
<path d="M249.7,166.8 C249.8,170.2 248.9,175.1 247.8,177.6 C246.6,180.1 244.4,181.8 242.7,181.8 C241.0,181.7 238.9,179.6 237.8,177.1 C236.8,174.6 236.3,170.2 236.4,166.8 C236.4,163.4 236.9,159.2 237.9,156.7 C239.0,154.1 241.2,151.3 242.7,151.4 C244.2,151.5 246.0,154.7 247.2,157.2 C248.4,159.8 249.6,163.4 249.7,166.8Z" fill="url(#pg2)"/>
<path d="M253.0,150.9 C252.9,152.2 252.4,153.6 251.8,154.5 C251.3,155.5 250.4,156.5 249.7,156.5 C249.0,156.5 248.1,155.6 247.5,154.7 C246.9,153.7 246.3,152.3 246.2,150.9 C246.2,149.5 246.6,147.6 247.1,146.5 C247.7,145.5 248.9,144.7 249.7,144.7 C250.5,144.8 251.6,145.7 252.1,146.8 C252.7,147.8 253.0,149.6 253.0,150.9Z" fill="url(#pg3)"/>
<path d="M199.0,170.6 C199.6,172.2 199.4,174.7 197.8,176.5 C196.1,178.3 192.1,180.4 189.0,181.2 C185.9,182.0 181.8,181.9 179.2,181.3 C176.6,180.7 173.7,179.1 173.4,177.4 C173.1,175.8 175.4,173.1 177.4,171.4 C179.4,169.7 182.5,168.2 185.3,167.5 C188.1,166.7 191.9,166.3 194.2,166.9 C196.4,167.4 198.4,169.0 199.0,170.6Z" fill="url(#pg3)"/>
<path d="M175.0,183.6 C174.9,185.3 173.0,187.2 171.4,188.6 C169.9,189.9 167.7,191.9 165.9,191.9 C164.1,191.9 161.8,189.9 160.4,188.6 C159.0,187.2 157.5,185.3 157.5,183.6 C157.5,181.9 158.8,179.8 160.2,178.5 C161.6,177.2 163.9,175.8 165.9,175.7 C167.9,175.6 170.5,176.8 172.0,178.1 C173.6,179.4 175.1,181.9 175.0,183.6Z" fill="url(#pg2)"/>
<path d="M206.3,182.2 C206.2,184.4 205.2,187.0 203.6,188.5 C202.0,190.0 199.2,191.2 196.9,191.3 C194.6,191.4 191.1,190.7 189.6,189.1 C188.0,187.6 187.6,184.4 187.7,182.2 C187.8,180.0 188.9,177.6 190.4,176.1 C192.0,174.5 194.6,173.1 196.9,172.9 C199.2,172.8 202.7,173.6 204.3,175.2 C205.9,176.7 206.5,180.0 206.3,182.2Z" fill="url(#pg3)"/>
<path d="M224.0,187.0 C224.0,188.1 222.7,189.5 221.4,190.4 C220.0,191.2 217.9,191.8 216.0,191.9 C214.1,191.9 211.5,191.5 210.2,190.6 C208.8,189.8 207.7,188.2 207.7,187.0 C207.8,185.8 208.9,184.3 210.3,183.4 C211.7,182.6 214.2,182.0 216.0,182.1 C217.8,182.1 220.0,182.9 221.3,183.7 C222.6,184.5 224.0,185.9 224.0,187.0Z" fill="url(#pg)"/>
<path d="M155.8,183.0 C155.7,184.8 155.1,186.9 154.6,188.2 C154.1,189.5 153.5,190.9 152.8,191.0 C152.1,191.2 151.2,190.4 150.6,189.1 C150.1,187.7 149.6,184.9 149.7,183.0 C149.7,181.1 150.3,178.9 150.9,177.5 C151.4,176.1 152.1,174.4 152.8,174.4 C153.5,174.3 154.4,175.7 154.9,177.1 C155.4,178.6 155.8,181.2 155.8,183.0Z" fill="url(#pg2)"/>
<path d="M248.5,188.0 C248.6,189.0 246.5,190.2 244.6,191.0 C242.6,191.7 239.3,192.3 236.6,192.3 C233.9,192.3 229.9,191.8 228.3,191.1 C226.6,190.4 226.6,189.0 226.7,188.0 C226.7,187.0 226.9,185.6 228.5,185.0 C230.2,184.4 234.0,184.2 236.6,184.2 C239.2,184.3 242.2,184.6 244.1,185.2 C246.1,185.8 248.4,187.0 248.5,188.0Z" fill="url(#pg)"/>
<path d="M211.0,171.9 C211.0,172.7 210.4,173.5 209.8,174.1 C209.2,174.7 208.4,175.4 207.6,175.4 C206.8,175.5 205.7,175.0 205.1,174.4 C204.5,173.8 204.0,172.7 204.0,171.9 C204.0,171.1 204.5,170.0 205.1,169.4 C205.7,168.8 206.7,168.4 207.6,168.4 C208.5,168.4 209.6,168.7 210.2,169.3 C210.8,169.9 211.1,171.1 211.0,171.9Z" fill="url(#pg2)"/>
<path d="M253.1,181.2 C253.1,183.7 252.9,187.1 252.5,188.7 C252.1,190.3 251.3,190.7 250.7,190.6 C250.1,190.5 249.4,189.6 249.0,188.0 C248.6,186.5 248.4,183.6 248.4,181.2 C248.4,178.8 248.5,175.4 248.8,173.6 C249.2,171.8 250.1,170.2 250.7,170.2 C251.3,170.3 252.1,171.9 252.5,173.8 C252.9,175.6 253.1,178.7 253.1,181.2Z" fill="url(#pg)"/>
</g>
<rect x="47" y="48" width="206" height="143" filter="url(#gr)" opacity="0.25" style="mix-blend-mode:overlay"/>
<rect x="47" y="48" width="21" height="18.5" fill="#939393" opacity="0.85"/>
<text x="50.4" y="63" font-size="14.4" fill="#f4f4f4" stroke="#f4f4f4" stroke-width="0.3">(b)</text>
<rect x="56" y="173" width="26" height="14.3" fill="#fff"/>
<rect x="57.2" y="174.8" width="23.9" height="1.7" fill="#000"/>
<text x="69" y="184.8" font-size="8" font-weight="bold" fill="#111" text-anchor="middle">50 µm</text>
</g>
<!-- image c -->
<g clip-path="url(#cc)">
<rect x="337.5" y="47.5" width="206.5" height="143.5" fill="#0e0e0e"/>
<rect x="337.5" y="47.5" width="206.5" height="143.5" filter="url(#tc)" opacity="0.5"/>
<g filter="url(#bl2)">
<polygon points="422.0,132.8 423.0,126.3 426.1,124.0 429.7,121.5 437.1,123.1 437.1,126.9 439.6,130.9 435.0,135.2 430.1,132.1 426.5,137.6" fill="rgb(57,57,57)" fill-opacity="0.87" stroke="rgb(117,117,117)" stroke-opacity="0.55" stroke-width="0.7" stroke-linejoin="round"/>
<line x1="426.5" y1="137.6" x2="428.5" y2="133.4" stroke="rgb(117,117,117)" stroke-opacity="0.5" stroke-width="0.6"/>
<line x1="430.1" y1="132.1" x2="430.6" y2="129.6" stroke="rgb(117,117,117)" stroke-opacity="0.5" stroke-width="0.6"/>
<polygon points="395.6,45.3 393.6,45.1 396.2,43.9 397.0,43.3 398.0,42.9 398.1,44.1 398.4,45.4 397.1,45.9 395.9,47.6" fill="rgb(157,157,157)" fill-opacity="0.63" stroke="rgb(235,235,235)" stroke-opacity="0.55" stroke-width="0.7" stroke-linejoin="round"/>
<line x1="398.0" y1="42.9" x2="397.3" y2="44.1" stroke="rgb(235,235,235)" stroke-opacity="0.5" stroke-width="0.6"/>
<polygon points="404.1,48.9 400.1,51.3 397.4,48.7 396.0,42.7 399.2,42.7 403.7,41.0 406.1,44.9" fill="rgb(127,127,127)" fill-opacity="0.95" stroke="rgb(168,168,168)" stroke-opacity="0.55" stroke-width="0.7" stroke-linejoin="round"/>
<line x1="400.1" y1="51.3" x2="400.4" y2="48.1" stroke="rgb(168,168,168)" stroke-opacity="0.5" stroke-width="0.6"/>
<polygon points="517.2,143.2 516.5,142.2 515.0,142.0 514.8,139.4 516.1,138.3 518.0,139.1 519.5,140.4 518.0,141.7" fill="rgb(108,108,108)" fill-opacity="0.89" stroke="rgb(163,163,163)" stroke-opacity="0.55" stroke-width="0.7" stroke-linejoin="round"/>
<line x1="514.8" y1="139.4" x2="516.3" y2="140.5" stroke="rgb(163,163,163)" stroke-opacity="0.5" stroke-width="0.6"/>
<line x1="514.8" y1="139.4" x2="515.8" y2="140.2" stroke="rgb(163,163,163)" stroke-opacity="0.5" stroke-width="0.6"/>
<line x1="519.5" y1="140.4" x2="518.3" y2="140.7" stroke="rgb(163,163,163)" stroke-opacity="0.5" stroke-width="0.6"/>
<polygon points="460.7,107.2 460.6,105.3 463.9,105.8 467.5,107.3 465.8,108.3 463.5,109.8 462.2,108.7" fill="rgb(102,102,102)" fill-opacity="0.86" stroke="rgb(146,146,146)" stroke-opacity="0.55" stroke-width="0.7" stroke-linejoin="round"/>
<line x1="467.5" y1="107.3" x2="464.8" y2="107.5" stroke="rgb(146,146,146)" stroke-opacity="0.5" stroke-width="0.6"/>
<line x1="460.7" y1="107.2" x2="462.6" y2="107.6" stroke="rgb(146,146,146)" stroke-opacity="0.5" stroke-width="0.6"/>
<polygon points="387.2,129.5 386.4,123.4 391.7,121.8 394.8,113.4 405.0,120.4 402.5,126.0 396.0,133.3" fill="rgb(131,131,131)" fill-opacity="0.65" stroke="rgb(175,175,175)" stroke-opacity="0.55" stroke-width="0.7" stroke-linejoin="round"/>
<line x1="394.8" y1="113.4" x2="394.5" y2="119.7" stroke="rgb(175,175,175)" stroke-opacity="0.5" stroke-width="0.6"/>
<polygon points="493.2,172.5 499.9,177.1 499.5,181.7 493.8,186.3 489.9,185.1 485.6,183.2 484.7,179.6 489.5,171.3" fill="rgb(134,134,134)" fill-opacity="0.74" stroke="rgb(221,221,221)" stroke-opacity="0.55" stroke-width="0.7" stroke-linejoin="round"/>
<line x1="489.5" y1="171.3" x2="490.9" y2="176.7" stroke="rgb(221,221,221)" stroke-opacity="0.5" stroke-width="0.6"/>
<line x1="499.9" y1="177.1" x2="495.1" y2="178.8" stroke="rgb(221,221,221)" stroke-opacity="0.5" stroke-width="0.6"/>
<line x1="493.2" y1="172.5" x2="492.2" y2="177.5" stroke="rgb(221,221,221)" stroke-opacity="0.5" stroke-width="0.6"/>
<polygon points="347.4,46.5 348.1,44.5 354.3,43.4 361.6,42.0 358.9,50.2 353.0,52.4 349.4,50.5" fill="rgb(160,160,160)" fill-opacity="0.88" stroke="rgb(235,235,235)" stroke-opacity="0.55" stroke-width="0.7" stroke-linejoin="round"/>
<line x1="348.1" y1="44.5" x2="351.1" y2="46.4" stroke="rgb(235,235,235)" stroke-opacity="0.5" stroke-width="0.6"/>
<polygon points="458.1,93.3 454.8,92.2 455.9,91.5 457.3,88.1 458.7,88.7 461.3,88.9 462.1,91.2 462.7,92.6 461.0,94.2 458.5,94.1" fill="rgb(140,140,140)" fill-opacity="0.71" stroke="rgb(230,230,230)" stroke-opacity="0.55" stroke-width="0.7" stroke-linejoin="round"/>
<line x1="458.1" y1="93.3" x2="458.5" y2="92.5" stroke="rgb(230,230,230)" stroke-opacity="0.5" stroke-width="0.6"/>
<line x1="462.1" y1="91.2" x2="460.1" y2="91.6" stroke="rgb(230,230,230)" stroke-opacity="0.5" stroke-width="0.6"/>
<line x1="458.1" y1="93.3" x2="458.5" y2="92.5" stroke="rgb(230,230,230)" stroke-opacity="0.5" stroke-width="0.6"/>
<polygon points="382.5,164.1 385.8,157.1 389.7,156.4 392.9,159.4 399.0,161.9 394.1,164.7 388.6,168.4" fill="rgb(183,183,183)" fill-opacity="0.78" stroke="rgb(235,235,235)" stroke-opacity="0.55" stroke-width="0.7" stroke-linejoin="round"/>
<line x1="392.9" y1="159.4" x2="392.0" y2="160.5" stroke="rgb(235,235,235)" stroke-opacity="0.5" stroke-width="0.6"/>
<polygon points="488.0,82.8 485.1,82.2 481.0,81.5 480.2,78.1 481.1,76.7 479.9,73.0 482.8,72.8 485.0,72.7 489.5,77.4 489.0,79.6" fill="rgb(132,132,132)" fill-opacity="0.69" stroke="rgb(217,217,217)" stroke-opacity="0.55" stroke-width="0.7" stroke-linejoin="round"/>
<line x1="479.9" y1="73.0" x2="482.2" y2="75.9" stroke="rgb(217,217,217)" stroke-opacity="0.5" stroke-width="0.6"/>
<polygon points="339.6,95.6 339.9,94.6 340.1,92.5 342.8,94.1 347.3,94.1 346.9,96.8 343.5,98.0 341.1,97.0 338.9,97.9" fill="rgb(124,124,124)" fill-opacity="0.89" stroke="rgb(199,199,199)" stroke-opacity="0.55" stroke-width="0.7" stroke-linejoin="round"/>
<line x1="340.1" y1="92.5" x2="341.2" y2="94.4" stroke="rgb(199,199,199)" stroke-opacity="0.5" stroke-width="0.6"/>
<line x1="338.9" y1="97.9" x2="341.0" y2="96.3" stroke="rgb(199,199,199)" stroke-opacity="0.5" stroke-width="0.6"/>
<line x1="343.5" y1="98.0" x2="342.8" y2="97.0" stroke="rgb(199,199,199)" stroke-opacity="0.5" stroke-width="0.6"/>
<polygon points="522.8,135.6 523.4,137.7 520.4,137.5 517.1,138.3 515.1,137.3 517.1,134.4 520.1,134.4 522.3,133.6" fill="rgb(153,153,153)" fill-opacity="0.69" stroke="rgb(223,223,223)" stroke-opacity="0.55" stroke-width="0.7" stroke-linejoin="round"/>
<line x1="520.4" y1="137.5" x2="520.3" y2="136.5" stroke="rgb(223,223,223)" stroke-opacity="0.5" stroke-width="0.6"/>
<line x1="522.3" y1="133.6" x2="521.1" y2="135.0" stroke="rgb(223,223,223)" stroke-opacity="0.5" stroke-width="0.6"/>
<polygon points="358.6,108.3 357.9,110.2 356.3,109.0 355.9,107.5 356.0,106.5 356.5,105.7 357.5,104.9 358.8,106.3 359.7,107.7" fill="rgb(90,90,90)" fill-opacity="0.79" stroke="rgb(170,170,170)" stroke-opacity="0.55" stroke-width="0.7" stroke-linejoin="round"/>
<line x1="355.9" y1="107.5" x2="356.7" y2="107.4" stroke="rgb(170,170,170)" stroke-opacity="0.5" stroke-width="0.6"/>
<line x1="359.7" y1="107.7" x2="358.3" y2="107.5" stroke="rgb(170,170,170)" stroke-opacity="0.5" stroke-width="0.6"/>
<line x1="356.3" y1="109.0" x2="357.0" y2="107.8" stroke="rgb(170,170,170)" stroke-opacity="0.5" stroke-width="0.6"/>
<polygon points="484.3,161.9 491.0,162.7 495.1,163.2 497.5,163.0 502.8,169.3 497.3,173.8 492.9,174.4 489.3,168.5 486.5,166.3" fill="rgb(142,142,142)" fill-opacity="0.64" stroke="rgb(214,214,214)" stroke-opacity="0.55" stroke-width="0.7" stroke-linejoin="round"/>
<line x1="497.3" y1="173.8" x2="494.4" y2="169.4" stroke="rgb(214,214,214)" stroke-opacity="0.5" stroke-width="0.6"/>
<line x1="497.5" y1="163.0" x2="495.1" y2="164.6" stroke="rgb(214,214,214)" stroke-opacity="0.5" stroke-width="0.6"/>
<line x1="489.3" y1="168.5" x2="491.7" y2="166.9" stroke="rgb(214,214,214)" stroke-opacity="0.5" stroke-width="0.6"/>
<polygon points="338.9,128.1 338.3,126.8 339.8,124.2 341.3,123.5 343.2,125.6 346.3,125.8 345.5,127.4 346.4,129.5 343.5,129.2 340.7,130.0 336.4,130.8" fill="rgb(92,92,92)" fill-opacity="0.63" stroke="rgb(182,182,182)" stroke-opacity="0.55" stroke-width="0.7" stroke-linejoin="round"/>
<line x1="346.3" y1="125.8" x2="344.4" y2="126.5" stroke="rgb(182,182,182)" stroke-opacity="0.5" stroke-width="0.6"/>
<polygon points="500.4,147.8 503.1,146.7 503.8,144.1 509.7,145.1 510.2,149.7 511.0,153.0 508.3,153.5 506.3,153.6 502.0,152.2 497.5,151.8" fill="rgb(62,62,62)" fill-opacity="0.68" stroke="rgb(144,144,144)" stroke-opacity="0.55" stroke-width="0.7" stroke-linejoin="round"/>
<line x1="511.0" y1="153.0" x2="507.1" y2="151.1" stroke="rgb(144,144,144)" stroke-opacity="0.5" stroke-width="0.6"/>
<line x1="508.3" y1="153.5" x2="506.7" y2="151.7" stroke="rgb(144,144,144)" stroke-opacity="0.5" stroke-width="0.6"/>
<polygon points="447.7,99.2 452.3,94.7 453.7,100.2 452.6,104.3 449.6,106.9 444.9,113.1 441.4,104.8 442.2,97.3" fill="rgb(75,75,75)" fill-opacity="0.82" stroke="rgb(156,156,156)" stroke-opacity="0.55" stroke-width="0.7" stroke-linejoin="round"/>
<line x1="447.7" y1="99.2" x2="448.0" y2="101.5" stroke="rgb(156,156,156)" stroke-opacity="0.5" stroke-width="0.6"/>
<polygon points="527.5,100.5 529.9,98.1 533.4,95.8 537.7,98.4 543.5,101.5 538.3,103.6 539.4,108.4 535.1,107.9 532.6,104.7 529.0,104.5" fill="rgb(131,131,131)" fill-opacity="0.63" stroke="rgb(185,185,185)" stroke-opacity="0.55" stroke-width="0.7" stroke-linejoin="round"/>
<line x1="535.1" y1="107.9" x2="534.9" y2="104.0" stroke="rgb(185,185,185)" stroke-opacity="0.5" stroke-width="0.6"/>
<line x1="537.7" y1="98.4" x2="535.5" y2="101.4" stroke="rgb(185,185,185)" stroke-opacity="0.5" stroke-width="0.6"/>
<polygon points="359.3,166.0 360.2,170.4 356.1,169.6 352.4,169.5 346.6,167.7 350.8,163.5 354.5,160.3 360.4,161.4" fill="rgb(85,85,85)" fill-opacity="0.93" stroke="rgb(171,171,171)" stroke-opacity="0.55" stroke-width="0.7" stroke-linejoin="round"/>
<line x1="352.4" y1="169.5" x2="354.0" y2="167.6" stroke="rgb(171,171,171)" stroke-opacity="0.5" stroke-width="0.6"/>
<polygon points="440.1,96.6 439.5,93.6 435.4,91.9 437.9,87.0 440.1,84.9 442.7,88.6 443.4,89.4 444.5,90.8 444.8,95.6" fill="rgb(91,91,91)" fill-opacity="0.79" stroke="rgb(171,171,171)" stroke-opacity="0.55" stroke-width="0.7" stroke-linejoin="round"/>
<line x1="444.5" y1="90.8" x2="442.8" y2="90.7" stroke="rgb(171,171,171)" stroke-opacity="0.5" stroke-width="0.6"/>
<line x1="437.9" y1="87.0" x2="440.4" y2="89.4" stroke="rgb(171,171,171)" stroke-opacity="0.5" stroke-width="0.6"/>
<polygon points="430.8,65.7 432.3,60.1 439.2,60.2 445.5,56.7 445.1,64.8 443.5,72.1 438.1,71.7" fill="rgb(74,74,74)" fill-opacity="0.76" stroke="rgb(134,134,134)" stroke-opacity="0.55" stroke-width="0.7" stroke-linejoin="round"/>
<line x1="445.1" y1="64.8" x2="441.0" y2="64.3" stroke="rgb(134,134,134)" stroke-opacity="0.5" stroke-width="0.6"/>
<polygon points="458.2,109.2 459.6,113.6 459.2,117.9 457.0,122.4 453.6,123.6 449.9,124.2 451.0,119.0 451.4,113.4 455.1,113.2" fill="rgb(185,185,185)" fill-opacity="0.88" stroke="rgb(235,235,235)" stroke-opacity="0.55" stroke-width="0.7" stroke-linejoin="round"/>
<line x1="449.9" y1="124.2" x2="453.3" y2="119.2" stroke="rgb(235,235,235)" stroke-opacity="0.5" stroke-width="0.6"/>
<line x1="455.1" y1="113.2" x2="454.9" y2="116.0" stroke="rgb(235,235,235)" stroke-opacity="0.5" stroke-width="0.6"/>
<polygon points="408.5,97.0 410.1,96.9 412.0,96.7 413.7,96.2 417.0,99.9 413.4,100.1 413.3,101.9 411.8,104.7 408.2,102.1 407.1,99.8" fill="rgb(135,135,135)" fill-opacity="0.63" stroke="rgb(222,222,222)" stroke-opacity="0.55" stroke-width="0.7" stroke-linejoin="round"/>
<line x1="413.4" y1="100.1" x2="411.9" y2="99.4" stroke="rgb(222,222,222)" stroke-opacity="0.5" stroke-width="0.6"/>
<polygon points="469.3,72.2 467.3,69.9 464.0,69.6 465.9,63.4 466.6,59.3 470.1,56.5 472.6,58.4 475.2,63.5 474.9,69.5 472.6,74.3" fill="rgb(56,56,56)" fill-opacity="0.78" stroke="rgb(141,141,141)" stroke-opacity="0.55" stroke-width="0.7" stroke-linejoin="round"/>
<line x1="467.3" y1="69.9" x2="468.8" y2="67.3" stroke="rgb(141,141,141)" stroke-opacity="0.5" stroke-width="0.6"/>
<polygon points="421.1,60.2 423.6,57.6 427.7,61.6 426.8,65.8 429.8,72.7 424.9,68.9 423.6,73.7 422.2,68.7 419.0,66.4 419.8,62.3" fill="rgb(180,180,180)" fill-opacity="0.68" stroke="rgb(231,231,231)" stroke-opacity="0.55" stroke-width="0.7" stroke-linejoin="round"/>
<line x1="423.6" y1="73.7" x2="423.9" y2="68.1" stroke="rgb(231,231,231)" stroke-opacity="0.5" stroke-width="0.6"/>
<line x1="429.8" y1="72.7" x2="426.6" y2="69.1" stroke="rgb(231,231,231)" stroke-opacity="0.5" stroke-width="0.6"/>
<polygon points="540.8,121.9 542.2,128.0 538.7,128.4 537.0,136.0 534.2,134.0 531.6,130.5 527.7,126.0 532.7,125.9 533.4,121.8 538.9,119.3" fill="rgb(90,90,90)" fill-opacity="0.75" stroke="rgb(179,179,179)" stroke-opacity="0.55" stroke-width="0.7" stroke-linejoin="round"/>
<line x1="538.7" y1="128.4" x2="536.5" y2="127.5" stroke="rgb(179,179,179)" stroke-opacity="0.5" stroke-width="0.6"/>
<line x1="533.4" y1="121.8" x2="535.0" y2="125.8" stroke="rgb(179,179,179)" stroke-opacity="0.5" stroke-width="0.6"/>
<polygon points="497.9,142.1 490.2,143.4 489.9,139.5 490.4,135.9 491.6,132.8 496.8,134.6 496.4,138.6" fill="rgb(98,98,98)" fill-opacity="0.75" stroke="rgb(181,181,181)" stroke-opacity="0.55" stroke-width="0.7" stroke-linejoin="round"/>
<line x1="496.4" y1="138.6" x2="494.7" y2="138.1" stroke="rgb(181,181,181)" stroke-opacity="0.5" stroke-width="0.6"/>
<polygon points="382.8,124.1 385.7,129.6 379.3,128.6 377.9,129.1 372.6,127.6 372.9,122.5 376.2,121.9 382.4,120.9" fill="rgb(171,171,171)" fill-opacity="0.68" stroke="rgb(235,235,235)" stroke-opacity="0.55" stroke-width="0.7" stroke-linejoin="round"/>
<line x1="382.4" y1="120.9" x2="380.5" y2="123.5" stroke="rgb(235,235,235)" stroke-opacity="0.5" stroke-width="0.6"/>
<polygon points="520.5,178.7 516.5,178.8 515.8,174.1 513.6,174.2 512.9,171.6 512.4,168.1 515.4,166.1 517.5,168.3 519.5,169.5 520.7,171.4 519.9,172.4" fill="rgb(168,168,168)" fill-opacity="0.81" stroke="rgb(213,213,213)" stroke-opacity="0.55" stroke-width="0.7" stroke-linejoin="round"/>
<line x1="513.6" y1="174.2" x2="516.4" y2="172.1" stroke="rgb(213,213,213)" stroke-opacity="0.5" stroke-width="0.6"/>
<polygon points="552.0,105.9 552.8,110.9 548.2,112.3 545.0,111.9 540.0,115.0 537.4,109.8 540.2,106.7 543.1,106.2 548.1,103.4" fill="rgb(77,77,77)" fill-opacity="0.80" stroke="rgb(130,130,130)" stroke-opacity="0.55" stroke-width="0.7" stroke-linejoin="round"/>
<line x1="537.4" y1="109.8" x2="541.2" y2="109.7" stroke="rgb(130,130,130)" stroke-opacity="0.5" stroke-width="0.6"/>
<line x1="552.8" y1="110.9" x2="548.6" y2="110.1" stroke="rgb(130,130,130)" stroke-opacity="0.5" stroke-width="0.6"/>
<line x1="548.2" y1="112.3" x2="546.2" y2="110.3" stroke="rgb(130,130,130)" stroke-opacity="0.5" stroke-width="0.6"/>
<polygon points="443.8,88.7 445.6,87.6 448.7,87.6 450.8,86.7 450.4,88.1 452.9,88.1 452.0,89.7 450.8,90.7 449.6,90.4 448.0,90.1 445.8,89.9" fill="rgb(66,66,66)" fill-opacity="0.80" stroke="rgb(122,122,122)" stroke-opacity="0.55" stroke-width="0.7" stroke-linejoin="round"/>
<line x1="452.9" y1="88.1" x2="450.9" y2="88.6" stroke="rgb(122,122,122)" stroke-opacity="0.5" stroke-width="0.6"/>
<polygon points="360.1,171.1 359.2,170.1 358.4,169.6 356.7,164.7 359.4,165.6 361.7,164.0 363.0,166.0 361.7,169.0 362.7,170.9" fill="rgb(86,86,86)" fill-opacity="0.78" stroke="rgb(133,133,133)" stroke-opacity="0.55" stroke-width="0.7" stroke-linejoin="round"/>
<line x1="363.0" y1="166.0" x2="361.0" y2="167.8" stroke="rgb(133,133,133)" stroke-opacity="0.5" stroke-width="0.6"/>
<line x1="362.7" y1="170.9" x2="360.9" y2="169.1" stroke="rgb(133,133,133)" stroke-opacity="0.5" stroke-width="0.6"/>
<line x1="356.7" y1="164.7" x2="358.7" y2="166.9" stroke="rgb(133,133,133)" stroke-opacity="0.5" stroke-width="0.6"/>
<polygon points="403.6,142.3 402.0,140.1 404.1,139.4 405.7,137.8 408.0,138.8 408.0,141.3 405.9,141.6 404.1,142.6" fill="rgb(183,183,183)" fill-opacity="0.75" stroke="rgb(224,224,224)" stroke-opacity="0.55" stroke-width="0.7" stroke-linejoin="round"/>
<line x1="403.6" y1="142.3" x2="404.6" y2="141.4" stroke="rgb(224,224,224)" stroke-opacity="0.5" stroke-width="0.6"/>
<line x1="405.9" y1="141.6" x2="405.5" y2="141.3" stroke="rgb(224,224,224)" stroke-opacity="0.5" stroke-width="0.6"/>
<polygon points="464.1,155.8 466.9,156.4 463.5,157.8 462.7,160.4 460.8,162.4 457.8,162.1 457.2,160.1 458.4,158.2 460.5,156.6 461.7,154.8 462.3,155.8" fill="rgb(183,183,183)" fill-opacity="0.88" stroke="rgb(230,230,230)" stroke-opacity="0.55" stroke-width="0.7" stroke-linejoin="round"/>
<line x1="461.7" y1="154.8" x2="461.7" y2="156.0" stroke="rgb(230,230,230)" stroke-opacity="0.5" stroke-width="0.6"/>
<line x1="464.1" y1="155.8" x2="462.6" y2="157.0" stroke="rgb(230,230,230)" stroke-opacity="0.5" stroke-width="0.6"/>
<line x1="460.8" y1="162.4" x2="461.6" y2="158.6" stroke="rgb(230,230,230)" stroke-opacity="0.5" stroke-width="0.6"/>
<polygon points="368.9,111.9 364.7,113.2 367.1,109.7 369.9,105.2 371.4,107.9 374.8,105.2 373.7,109.7 373.9,111.2 372.5,112.0 370.0,116.5 369.1,115.1" fill="rgb(99,99,99)" fill-opacity="0.93" stroke="rgb(142,142,142)" stroke-opacity="0.55" stroke-width="0.7" stroke-linejoin="round"/>
<line x1="364.7" y1="113.2" x2="368.8" y2="111.4" stroke="rgb(142,142,142)" stroke-opacity="0.5" stroke-width="0.6"/>
<line x1="374.8" y1="105.2" x2="373.2" y2="107.4" stroke="rgb(142,142,142)" stroke-opacity="0.5" stroke-width="0.6"/>
<line x1="371.4" y1="107.9" x2="371.1" y2="109.1" stroke="rgb(142,142,142)" stroke-opacity="0.5" stroke-width="0.6"/>
<polygon points="483.4,65.8 482.7,64.5 483.6,61.8 486.0,61.5 490.5,60.0 491.5,60.6 493.6,65.1 489.5,65.4 488.1,68.7 485.0,66.8" fill="rgb(185,185,185)" fill-opacity="0.63" stroke="rgb(227,227,227)" stroke-opacity="0.55" stroke-width="0.7" stroke-linejoin="round"/>
<line x1="485.0" y1="66.8" x2="485.9" y2="65.4" stroke="rgb(227,227,227)" stroke-opacity="0.5" stroke-width="0.6"/>
<polygon points="448.5,112.0 446.2,109.8 442.3,104.8 445.7,104.4 450.5,103.5 453.6,106.0 454.1,108.1 450.8,111.9" fill="rgb(173,173,173)" fill-opacity="0.87" stroke="rgb(235,235,235)" stroke-opacity="0.55" stroke-width="0.7" stroke-linejoin="round"/>
<line x1="442.3" y1="104.8" x2="446.0" y2="106.5" stroke="rgb(235,235,235)" stroke-opacity="0.5" stroke-width="0.6"/>
<line x1="442.3" y1="104.8" x2="447.3" y2="107.2" stroke="rgb(235,235,235)" stroke-opacity="0.5" stroke-width="0.6"/>
<polygon points="427.8,139.7 431.0,140.8 429.6,145.0 431.3,149.5 427.6,152.3 425.9,147.9 423.0,147.7 423.0,143.2 423.8,139.2" fill="rgb(68,68,68)" fill-opacity="0.64" stroke="rgb(119,119,119)" stroke-opacity="0.55" stroke-width="0.7" stroke-linejoin="round"/>
<line x1="423.8" y1="139.2" x2="425.7" y2="142.5" stroke="rgb(119,119,119)" stroke-opacity="0.5" stroke-width="0.6"/>
<line x1="431.3" y1="149.5" x2="429.0" y2="147.0" stroke="rgb(119,119,119)" stroke-opacity="0.5" stroke-width="0.6"/>
<line x1="427.8" y1="139.7" x2="427.4" y2="143.2" stroke="rgb(119,119,119)" stroke-opacity="0.5" stroke-width="0.6"/>
<polygon points="344.3,85.0 346.2,87.9 347.9,89.4 348.2,93.9 345.6,94.9 343.6,98.3 338.7,98.7 338.0,96.3 340.0,91.2 339.3,87.6 342.8,88.9" fill="rgb(154,154,154)" fill-opacity="0.91" stroke="rgb(203,203,203)" stroke-opacity="0.55" stroke-width="0.7" stroke-linejoin="round"/>
<line x1="338.7" y1="98.7" x2="341.2" y2="94.5" stroke="rgb(203,203,203)" stroke-opacity="0.5" stroke-width="0.6"/>
<polygon points="435.6,190.7 432.3,195.2 431.7,188.7 429.4,182.8 430.6,182.6 434.0,181.5 435.1,176.2 439.2,180.5 439.8,185.0 441.9,188.2 439.9,192.7" fill="rgb(105,105,105)" fill-opacity="0.75" stroke="rgb(160,160,160)" stroke-opacity="0.55" stroke-width="0.7" stroke-linejoin="round"/>
<line x1="439.8" y1="185.0" x2="437.5" y2="185.1" stroke="rgb(160,160,160)" stroke-opacity="0.5" stroke-width="0.6"/>
<polygon points="433.2,104.9 431.9,102.4 435.8,102.5 439.0,98.1 441.9,102.3 442.0,105.5 440.5,108.2 437.1,106.8 433.4,109.3" fill="rgb(142,142,142)" fill-opacity="0.65" stroke="rgb(197,197,197)" stroke-opacity="0.55" stroke-width="0.7" stroke-linejoin="round"/>
<line x1="431.9" y1="102.4" x2="435.7" y2="104.0" stroke="rgb(197,197,197)" stroke-opacity="0.5" stroke-width="0.6"/>
<line x1="442.0" y1="105.5" x2="439.6" y2="105.0" stroke="rgb(197,197,197)" stroke-opacity="0.5" stroke-width="0.6"/>
<line x1="437.1" y1="106.8" x2="436.8" y2="105.0" stroke="rgb(197,197,197)" stroke-opacity="0.5" stroke-width="0.6"/>
<polygon points="519.9,87.4 521.5,86.9 523.8,89.7 526.9,91.5 527.9,95.8 526.1,97.0 524.6,98.3 520.4,99.6 519.6,95.8 518.2,93.9 520.1,91.3" fill="rgb(144,144,144)" fill-opacity="0.72" stroke="rgb(197,197,197)" stroke-opacity="0.55" stroke-width="0.7" stroke-linejoin="round"/>
<line x1="519.9" y1="87.4" x2="521.3" y2="90.0" stroke="rgb(197,197,197)" stroke-opacity="0.5" stroke-width="0.6"/>
<polygon points="492.8,114.7 493.7,115.7 494.8,116.2 495.1,117.4 494.7,118.0 494.7,119.0 493.3,117.9 492.9,117.0 492.8,115.9" fill="rgb(92,92,92)" fill-opacity="0.72" stroke="rgb(177,177,177)" stroke-opacity="0.55" stroke-width="0.7" stroke-linejoin="round"/>
<line x1="492.8" y1="115.9" x2="493.6" y2="116.7" stroke="rgb(177,177,177)" stroke-opacity="0.5" stroke-width="0.6"/>
<polygon points="407.4,112.3 405.9,109.0 403.0,108.6 404.6,107.6 405.8,105.8 406.6,103.3 407.3,106.2 409.0,105.9 411.0,106.9 409.8,110.0 408.5,109.9" fill="rgb(142,142,142)" fill-opacity="0.61" stroke="rgb(227,227,227)" stroke-opacity="0.55" stroke-width="0.7" stroke-linejoin="round"/>
<line x1="405.9" y1="109.0" x2="406.6" y2="108.3" stroke="rgb(227,227,227)" stroke-opacity="0.5" stroke-width="0.6"/>
<polygon points="473.2,108.8 470.2,110.6 466.0,108.5 463.6,107.8 462.1,106.2 464.1,104.2 465.4,102.3 471.3,102.7 470.6,104.5" fill="rgb(70,70,70)" fill-opacity="0.82" stroke="rgb(145,145,145)" stroke-opacity="0.55" stroke-width="0.7" stroke-linejoin="round"/>
<line x1="464.1" y1="104.2" x2="466.0" y2="105.5" stroke="rgb(145,145,145)" stroke-opacity="0.5" stroke-width="0.6"/>
<line x1="470.2" y1="110.6" x2="468.7" y2="108.6" stroke="rgb(145,145,145)" stroke-opacity="0.5" stroke-width="0.6"/>
<line x1="464.1" y1="104.2" x2="465.4" y2="105.1" stroke="rgb(145,145,145)" stroke-opacity="0.5" stroke-width="0.6"/>
<polygon points="380.0,101.1 380.4,102.7 380.9,104.6 378.6,105.7 377.5,106.2 376.3,105.6 377.5,103.7 378.1,102.5" fill="rgb(129,129,129)" fill-opacity="0.64" stroke="rgb(197,197,197)" stroke-opacity="0.55" stroke-width="0.7" stroke-linejoin="round"/>
<line x1="378.1" y1="102.5" x2="378.4" y2="103.6" stroke="rgb(197,197,197)" stroke-opacity="0.5" stroke-width="0.6"/>
<line x1="377.5" y1="103.7" x2="377.9" y2="103.7" stroke="rgb(197,197,197)" stroke-opacity="0.5" stroke-width="0.6"/>
<line x1="380.0" y1="101.1" x2="379.0" y2="102.9" stroke="rgb(197,197,197)" stroke-opacity="0.5" stroke-width="0.6"/>
<polygon points="418.3,150.8 420.6,148.8 424.4,154.5 422.7,157.9 421.6,162.0 418.0,163.1 417.2,159.6 416.1,155.2 417.3,154.1" fill="rgb(84,84,84)" fill-opacity="0.69" stroke="rgb(141,141,141)" stroke-opacity="0.55" stroke-width="0.7" stroke-linejoin="round"/>
<line x1="421.6" y1="162.0" x2="420.2" y2="158.5" stroke="rgb(141,141,141)" stroke-opacity="0.5" stroke-width="0.6"/>
<line x1="417.2" y1="159.6" x2="418.4" y2="157.1" stroke="rgb(141,141,141)" stroke-opacity="0.5" stroke-width="0.6"/>
<polygon points="481.5,62.4 481.5,65.0 480.0,68.0 478.3,66.6 477.1,66.8 477.6,63.4 479.2,62.0" fill="rgb(154,154,154)" fill-opacity="0.87" stroke="rgb(230,230,230)" stroke-opacity="0.55" stroke-width="0.7" stroke-linejoin="round"/>
<line x1="477.6" y1="63.4" x2="478.5" y2="64.2" stroke="rgb(230,230,230)" stroke-opacity="0.5" stroke-width="0.6"/>
<line x1="477.1" y1="66.8" x2="478.7" y2="65.5" stroke="rgb(230,230,230)" stroke-opacity="0.5" stroke-width="0.6"/>
<polygon points="523.1,109.1 522.5,110.5 522.0,112.5 519.9,114.3 517.6,115.7 515.6,113.8 516.1,112.1 515.7,109.0 516.9,108.9 520.8,103.2 524.3,104.0" fill="rgb(173,173,173)" fill-opacity="0.61" stroke="rgb(235,235,235)" stroke-opacity="0.55" stroke-width="0.7" stroke-linejoin="round"/>
<line x1="516.1" y1="112.1" x2="518.1" y2="111.3" stroke="rgb(235,235,235)" stroke-opacity="0.5" stroke-width="0.6"/>
<line x1="519.9" y1="114.3" x2="519.6" y2="112.2" stroke="rgb(235,235,235)" stroke-opacity="0.5" stroke-width="0.6"/>
<line x1="524.3" y1="104.0" x2="522.1" y2="107.2" stroke="rgb(235,235,235)" stroke-opacity="0.5" stroke-width="0.6"/>
<polygon points="392.8,72.9 389.6,73.2 388.5,74.1 386.3,74.6 384.9,72.3 386.7,71.6 387.0,68.2 390.0,69.8" fill="rgb(112,112,112)" fill-opacity="0.88" stroke="rgb(199,199,199)" stroke-opacity="0.55" stroke-width="0.7" stroke-linejoin="round"/>
<line x1="387.0" y1="68.2" x2="387.7" y2="71.1" stroke="rgb(199,199,199)" stroke-opacity="0.5" stroke-width="0.6"/>
<line x1="389.6" y1="73.2" x2="388.9" y2="72.9" stroke="rgb(199,199,199)" stroke-opacity="0.5" stroke-width="0.6"/>
<polygon points="441.1,171.0 441.5,173.6 437.8,174.0 435.9,173.7 432.8,174.6 434.7,171.2 431.7,169.1 433.3,167.2 437.2,166.4 438.1,168.9 440.2,169.2" fill="rgb(160,160,160)" fill-opacity="0.61" stroke="rgb(225,225,225)" stroke-opacity="0.55" stroke-width="0.7" stroke-linejoin="round"/>
<line x1="441.1" y1="171.0" x2="438.6" y2="170.9" stroke="rgb(225,225,225)" stroke-opacity="0.5" stroke-width="0.6"/>
<line x1="434.7" y1="171.2" x2="435.8" y2="171.1" stroke="rgb(225,225,225)" stroke-opacity="0.5" stroke-width="0.6"/>
<line x1="435.9" y1="173.7" x2="436.9" y2="171.4" stroke="rgb(225,225,225)" stroke-opacity="0.5" stroke-width="0.6"/>
<polygon points="375.1,54.4 377.4,56.1 373.9,56.4 370.0,60.1 369.4,56.4 363.6,56.9 365.0,54.0 366.6,51.0 369.2,49.8 375.4,49.1 376.0,51.6" fill="rgb(79,79,79)" fill-opacity="0.64" stroke="rgb(166,166,166)" stroke-opacity="0.55" stroke-width="0.7" stroke-linejoin="round"/>
<line x1="366.6" y1="51.0" x2="369.6" y2="52.9" stroke="rgb(166,166,166)" stroke-opacity="0.5" stroke-width="0.6"/>
<line x1="366.6" y1="51.0" x2="369.6" y2="52.9" stroke="rgb(166,166,166)" stroke-opacity="0.5" stroke-width="0.6"/>
<line x1="365.0" y1="54.0" x2="368.8" y2="54.0" stroke="rgb(166,166,166)" stroke-opacity="0.5" stroke-width="0.6"/>
<polygon points="413.1,125.6 412.9,124.5 415.1,124.3 417.0,125.0 416.6,126.7 414.4,126.7 411.6,126.8" fill="rgb(175,175,175)" fill-opacity="0.64" stroke="rgb(226,226,226)" stroke-opacity="0.55" stroke-width="0.7" stroke-linejoin="round"/>
<line x1="411.6" y1="126.8" x2="412.7" y2="126.3" stroke="rgb(226,226,226)" stroke-opacity="0.5" stroke-width="0.6"/>
<line x1="411.6" y1="126.8" x2="413.7" y2="126.0" stroke="rgb(226,226,226)" stroke-opacity="0.5" stroke-width="0.6"/>
<line x1="413.1" y1="125.6" x2="413.8" y2="125.7" stroke="rgb(226,226,226)" stroke-opacity="0.5" stroke-width="0.6"/>
<polygon points="546.8,61.1 543.3,56.8 539.5,56.1 540.2,51.5 545.4,47.0 548.5,44.7 554.5,50.7 555.8,55.8 548.7,57.5" fill="rgb(143,143,143)" fill-opacity="0.66" stroke="rgb(204,204,204)" stroke-opacity="0.55" stroke-width="0.7" stroke-linejoin="round"/>
<line x1="548.5" y1="44.7" x2="547.8" y2="48.5" stroke="rgb(204,204,204)" stroke-opacity="0.5" stroke-width="0.6"/>
<polygon points="375.7,91.5 374.5,90.1 376.2,86.3 379.2,82.5 380.4,82.4 382.1,85.8 384.2,85.8 384.3,88.2 384.7,91.2 382.0,89.9 379.2,91.5" fill="rgb(83,83,83)" fill-opacity="0.70" stroke="rgb(139,139,139)" stroke-opacity="0.55" stroke-width="0.7" stroke-linejoin="round"/>
<line x1="382.0" y1="89.9" x2="381.5" y2="88.6" stroke="rgb(139,139,139)" stroke-opacity="0.5" stroke-width="0.6"/>
<line x1="380.4" y1="82.4" x2="380.8" y2="86.1" stroke="rgb(139,139,139)" stroke-opacity="0.5" stroke-width="0.6"/>
<polygon points="548.8,145.7 552.0,147.0 550.4,150.9 548.3,151.5 545.4,154.5 541.6,151.6 543.4,148.5 543.4,140.6 546.2,141.6" fill="rgb(107,107,107)" fill-opacity="0.93" stroke="rgb(171,171,171)" stroke-opacity="0.55" stroke-width="0.7" stroke-linejoin="round"/>
<line x1="543.4" y1="148.5" x2="545.4" y2="148.5" stroke="rgb(171,171,171)" stroke-opacity="0.5" stroke-width="0.6"/>
<polygon points="425.0,51.4 426.9,49.7 430.1,50.2 435.3,51.5 433.3,54.3 435.1,57.6 429.8,56.0 427.2,56.2 424.5,55.0" fill="rgb(54,54,54)" fill-opacity="0.73" stroke="rgb(140,140,140)" stroke-opacity="0.55" stroke-width="0.7" stroke-linejoin="round"/>
<line x1="435.1" y1="57.6" x2="433.0" y2="56.1" stroke="rgb(140,140,140)" stroke-opacity="0.5" stroke-width="0.6"/>
<line x1="425.0" y1="51.4" x2="427.7" y2="52.6" stroke="rgb(140,140,140)" stroke-opacity="0.5" stroke-width="0.6"/>
<line x1="430.1" y1="50.2" x2="430.0" y2="52.4" stroke="rgb(140,140,140)" stroke-opacity="0.5" stroke-width="0.6"/>
<polygon points="416.5,115.4 413.3,116.0 411.7,115.8 410.4,118.1 407.0,115.0 407.5,112.8 408.2,112.0 410.3,111.3 411.0,110.5 413.9,111.0 416.4,114.5" fill="rgb(114,114,114)" fill-opacity="0.83" stroke="rgb(200,200,200)" stroke-opacity="0.55" stroke-width="0.7" stroke-linejoin="round"/>
<line x1="413.3" y1="116.0" x2="412.1" y2="114.9" stroke="rgb(200,200,200)" stroke-opacity="0.5" stroke-width="0.6"/>
<line x1="411.7" y1="115.8" x2="411.5" y2="114.5" stroke="rgb(200,200,200)" stroke-opacity="0.5" stroke-width="0.6"/>
<polygon points="526.3,193.7 518.0,189.9 512.1,188.3 513.4,185.9 514.8,180.6 519.2,182.2 524.3,185.4" fill="rgb(169,169,169)" fill-opacity="0.62" stroke="rgb(222,222,222)" stroke-opacity="0.55" stroke-width="0.7" stroke-linejoin="round"/>
<line x1="513.4" y1="185.9" x2="516.7" y2="186.4" stroke="rgb(222,222,222)" stroke-opacity="0.5" stroke-width="0.6"/>
<line x1="526.3" y1="193.7" x2="521.2" y2="189.3" stroke="rgb(222,222,222)" stroke-opacity="0.5" stroke-width="0.6"/>
<line x1="524.3" y1="185.4" x2="521.5" y2="185.9" stroke="rgb(222,222,222)" stroke-opacity="0.5" stroke-width="0.6"/>
<polygon points="503.0,119.2 505.6,118.3 506.3,118.8 508.8,117.5 508.8,119.3 508.7,120.0 509.6,120.6 508.6,122.6 507.0,121.2 506.5,121.1 505.8,120.7" fill="rgb(157,157,157)" fill-opacity="0.72" stroke="rgb(228,228,228)" stroke-opacity="0.55" stroke-width="0.7" stroke-linejoin="round"/>
<line x1="505.8" y1="120.7" x2="506.4" y2="120.4" stroke="rgb(228,228,228)" stroke-opacity="0.5" stroke-width="0.6"/>
<polygon points="449.2,67.9 447.9,64.9 452.3,60.6 457.5,59.1 462.9,59.8 459.5,66.6 452.6,70.3" fill="rgb(107,107,107)" fill-opacity="0.84" stroke="rgb(192,192,192)" stroke-opacity="0.55" stroke-width="0.7" stroke-linejoin="round"/>
<line x1="449.2" y1="67.9" x2="452.3" y2="65.8" stroke="rgb(192,192,192)" stroke-opacity="0.5" stroke-width="0.6"/>
<line x1="457.5" y1="59.1" x2="456.0" y2="61.5" stroke="rgb(192,192,192)" stroke-opacity="0.5" stroke-width="0.6"/>
<polygon points="440.6,128.7 440.2,121.8 441.8,119.5 444.2,116.7 448.4,119.7 451.5,122.0 447.9,125.3 447.9,127.2 443.8,131.7" fill="rgb(158,158,158)" fill-opacity="0.83" stroke="rgb(221,221,221)" stroke-opacity="0.55" stroke-width="0.7" stroke-linejoin="round"/>
<line x1="440.2" y1="121.8" x2="443.7" y2="123.0" stroke="rgb(221,221,221)" stroke-opacity="0.5" stroke-width="0.6"/>
<line x1="440.2" y1="121.8" x2="444.1" y2="123.1" stroke="rgb(221,221,221)" stroke-opacity="0.5" stroke-width="0.6"/>
<polygon points="546.6,171.9 544.3,172.7 543.8,170.8 542.3,169.8 541.4,166.3 543.7,167.1 545.5,165.6 546.6,168.8 549.2,172.1" fill="rgb(69,69,69)" fill-opacity="0.66" stroke="rgb(114,114,114)" stroke-opacity="0.55" stroke-width="0.7" stroke-linejoin="round"/>
<line x1="543.8" y1="170.8" x2="544.3" y2="170.0" stroke="rgb(114,114,114)" stroke-opacity="0.5" stroke-width="0.6"/>
<line x1="546.6" y1="168.8" x2="545.5" y2="169.2" stroke="rgb(114,114,114)" stroke-opacity="0.5" stroke-width="0.6"/>
<polygon points="509.8,102.4 514.1,110.8 511.9,116.8 504.8,115.3 501.8,112.8 501.3,110.3 504.9,106.8" fill="rgb(120,120,120)" fill-opacity="0.77" stroke="rgb(162,162,162)" stroke-opacity="0.55" stroke-width="0.7" stroke-linejoin="round"/>
<line x1="504.8" y1="115.3" x2="505.3" y2="112.3" stroke="rgb(162,162,162)" stroke-opacity="0.5" stroke-width="0.6"/>
<line x1="501.3" y1="110.3" x2="503.1" y2="110.7" stroke="rgb(162,162,162)" stroke-opacity="0.5" stroke-width="0.6"/>
<polygon points="443.8,150.5 441.3,151.3 439.2,151.5 436.1,150.1 435.1,148.0 437.1,145.4 438.4,144.2 441.4,145.5 442.2,146.9 444.9,148.0" fill="rgb(61,61,61)" fill-opacity="0.69" stroke="rgb(105,105,105)" stroke-opacity="0.55" stroke-width="0.7" stroke-linejoin="round"/>
<line x1="438.4" y1="144.2" x2="439.3" y2="146.9" stroke="rgb(105,105,105)" stroke-opacity="0.5" stroke-width="0.6"/>
<line x1="436.1" y1="150.1" x2="438.3" y2="148.9" stroke="rgb(105,105,105)" stroke-opacity="0.5" stroke-width="0.6"/>
<polygon points="457.2,132.1 460.3,128.4 464.5,126.1 466.4,122.1 469.2,123.9 474.9,121.9 476.0,129.0 475.1,130.8 468.6,131.7 464.3,135.2 460.8,135.5" fill="rgb(93,93,93)" fill-opacity="0.91" stroke="rgb(156,156,156)" stroke-opacity="0.55" stroke-width="0.7" stroke-linejoin="round"/>
<line x1="474.9" y1="121.9" x2="469.2" y2="126.2" stroke="rgb(156,156,156)" stroke-opacity="0.5" stroke-width="0.6"/>
<line x1="469.2" y1="123.9" x2="467.5" y2="126.5" stroke="rgb(156,156,156)" stroke-opacity="0.5" stroke-width="0.6"/>
<line x1="469.2" y1="123.9" x2="466.9" y2="127.4" stroke="rgb(156,156,156)" stroke-opacity="0.5" stroke-width="0.6"/>
<polygon points="410.1,73.8 405.4,77.5 407.2,69.0 404.9,64.2 410.5,65.9 413.8,61.1 417.4,65.7 416.0,73.5 412.2,75.1" fill="rgb(159,159,159)" fill-opacity="0.93" stroke="rgb(222,222,222)" stroke-opacity="0.55" stroke-width="0.7" stroke-linejoin="round"/>
<line x1="412.2" y1="75.1" x2="411.1" y2="71.5" stroke="rgb(222,222,222)" stroke-opacity="0.5" stroke-width="0.6"/>
<line x1="416.0" y1="73.5" x2="413.2" y2="71.7" stroke="rgb(222,222,222)" stroke-opacity="0.5" stroke-width="0.6"/>
<line x1="413.8" y1="61.1" x2="412.2" y2="65.7" stroke="rgb(222,222,222)" stroke-opacity="0.5" stroke-width="0.6"/>
<polygon points="540.4,116.6 541.2,120.0 537.3,120.9 534.1,126.6 533.8,124.0 533.2,122.0 532.2,118.9 534.0,118.2 537.4,114.4" fill="rgb(183,183,183)" fill-opacity="0.79" stroke="rgb(235,235,235)" stroke-opacity="0.55" stroke-width="0.7" stroke-linejoin="round"/>
<line x1="537.3" y1="120.9" x2="536.3" y2="120.5" stroke="rgb(235,235,235)" stroke-opacity="0.5" stroke-width="0.6"/>
<line x1="533.2" y1="122.0" x2="534.7" y2="121.1" stroke="rgb(235,235,235)" stroke-opacity="0.5" stroke-width="0.6"/>
<line x1="534.1" y1="126.6" x2="534.9" y2="123.8" stroke="rgb(235,235,235)" stroke-opacity="0.5" stroke-width="0.6"/>
<polygon points="357.5,65.8 357.1,67.1 356.5,67.4 354.7,68.3 353.8,65.6 351.4,64.4 352.9,61.7 356.2,61.6 357.5,63.1 359.3,62.7" fill="rgb(90,90,90)" fill-opacity="0.94" stroke="rgb(132,132,132)" stroke-opacity="0.55" stroke-width="0.7" stroke-linejoin="round"/>
<line x1="357.1" y1="67.1" x2="356.2" y2="65.7" stroke="rgb(132,132,132)" stroke-opacity="0.5" stroke-width="0.6"/>
<polygon points="400.8,188.7 403.8,191.8 400.4,193.5 398.8,199.7 395.9,196.4 395.1,194.6 393.3,192.0 396.9,188.8" fill="rgb(184,184,184)" fill-opacity="0.85" stroke="rgb(235,235,235)" stroke-opacity="0.55" stroke-width="0.7" stroke-linejoin="round"/>
<line x1="395.1" y1="194.6" x2="397.1" y2="193.7" stroke="rgb(235,235,235)" stroke-opacity="0.5" stroke-width="0.6"/>
<line x1="398.8" y1="199.7" x2="398.6" y2="196.9" stroke="rgb(235,235,235)" stroke-opacity="0.5" stroke-width="0.6"/>
<line x1="393.3" y1="192.0" x2="397.0" y2="192.8" stroke="rgb(235,235,235)" stroke-opacity="0.5" stroke-width="0.6"/>
<polygon points="368.0,87.4 364.9,87.1 363.9,84.9 361.8,82.5 364.2,79.6 365.0,78.9 368.0,77.1 370.0,81.5 370.6,83.7" fill="rgb(85,85,85)" fill-opacity="0.73" stroke="rgb(147,147,147)" stroke-opacity="0.55" stroke-width="0.7" stroke-linejoin="round"/>
<line x1="364.9" y1="87.1" x2="365.4" y2="85.1" stroke="rgb(147,147,147)" stroke-opacity="0.5" stroke-width="0.6"/>
<polygon points="414.4,68.9 409.1,66.3 409.9,60.3 414.3,58.9 418.5,61.4 420.6,64.2 424.7,67.7 416.5,74.0" fill="rgb(137,137,137)" fill-opacity="0.65" stroke="rgb(185,185,185)" stroke-opacity="0.55" stroke-width="0.7" stroke-linejoin="round"/>
<line x1="420.6" y1="64.2" x2="419.0" y2="64.3" stroke="rgb(185,185,185)" stroke-opacity="0.5" stroke-width="0.6"/>
<polygon points="372.3,66.7 366.7,65.2 369.7,61.4 372.5,61.2 376.1,60.2 380.7,58.6 382.6,62.3 378.1,65.2 376.2,66.8 372.0,72.9" fill="rgb(178,178,178)" fill-opacity="0.67" stroke="rgb(235,235,235)" stroke-opacity="0.55" stroke-width="0.7" stroke-linejoin="round"/>
<line x1="372.0" y1="72.9" x2="374.5" y2="66.5" stroke="rgb(235,235,235)" stroke-opacity="0.5" stroke-width="0.6"/>
<line x1="378.1" y1="65.2" x2="376.7" y2="64.9" stroke="rgb(235,235,235)" stroke-opacity="0.5" stroke-width="0.6"/>
<line x1="372.0" y1="72.9" x2="374.0" y2="67.7" stroke="rgb(235,235,235)" stroke-opacity="0.5" stroke-width="0.6"/>
<polygon points="465.5,175.5 462.9,176.2 461.8,173.1 457.5,170.5 462.0,169.7 462.9,165.2 464.7,170.7 466.4,171.8" fill="rgb(92,92,92)" fill-opacity="0.71" stroke="rgb(134,134,134)" stroke-opacity="0.55" stroke-width="0.7" stroke-linejoin="round"/>
<line x1="462.0" y1="169.7" x2="462.5" y2="170.6" stroke="rgb(134,134,134)" stroke-opacity="0.5" stroke-width="0.6"/>
<line x1="462.9" y1="165.2" x2="463.0" y2="168.6" stroke="rgb(134,134,134)" stroke-opacity="0.5" stroke-width="0.6"/>
<polygon points="390.1,153.8 390.1,156.0 388.5,157.8 386.2,160.1 386.0,157.3 383.2,156.4 386.4,155.1 388.2,154.1" fill="rgb(153,153,153)" fill-opacity="0.66" stroke="rgb(214,214,214)" stroke-opacity="0.55" stroke-width="0.7" stroke-linejoin="round"/>
<line x1="390.1" y1="156.0" x2="388.8" y2="156.1" stroke="rgb(214,214,214)" stroke-opacity="0.5" stroke-width="0.6"/>
<line x1="390.1" y1="153.8" x2="388.5" y2="155.4" stroke="rgb(214,214,214)" stroke-opacity="0.5" stroke-width="0.6"/>
<polygon points="450.2,113.5 452.5,109.4 455.3,116.2 459.8,115.2 457.7,118.8 460.2,122.5 456.7,123.7 454.2,126.7 451.6,121.4 446.7,121.3 448.1,117.7" fill="rgb(64,64,64)" fill-opacity="0.93" stroke="rgb(135,135,135)" stroke-opacity="0.55" stroke-width="0.7" stroke-linejoin="round"/>
<line x1="455.3" y1="116.2" x2="454.2" y2="118.2" stroke="rgb(135,135,135)" stroke-opacity="0.5" stroke-width="0.6"/>
<line x1="448.1" y1="117.7" x2="451.5" y2="118.5" stroke="rgb(135,135,135)" stroke-opacity="0.5" stroke-width="0.6"/>
<polygon points="409.5,70.1 411.1,71.7 411.8,74.5 411.4,75.8 408.2,76.0 406.4,75.1 404.9,75.3 403.5,73.0 403.9,69.8 406.9,71.9" fill="rgb(90,90,90)" fill-opacity="0.64" stroke="rgb(148,148,148)" stroke-opacity="0.55" stroke-width="0.7" stroke-linejoin="round"/>
<line x1="408.2" y1="76.0" x2="407.6" y2="74.4" stroke="rgb(148,148,148)" stroke-opacity="0.5" stroke-width="0.6"/>
<line x1="406.9" y1="71.9" x2="407.1" y2="72.8" stroke="rgb(148,148,148)" stroke-opacity="0.5" stroke-width="0.6"/>
<polygon points="496.1,187.6 500.3,187.3 499.7,191.7 501.3,198.6 497.1,199.7 492.7,199.7 488.8,192.8 491.8,188.9" fill="rgb(80,80,80)" fill-opacity="0.84" stroke="rgb(153,153,153)" stroke-opacity="0.55" stroke-width="0.7" stroke-linejoin="round"/>
<line x1="492.7" y1="199.7" x2="494.9" y2="195.4" stroke="rgb(153,153,153)" stroke-opacity="0.5" stroke-width="0.6"/>
<line x1="499.7" y1="191.7" x2="497.0" y2="192.5" stroke="rgb(153,153,153)" stroke-opacity="0.5" stroke-width="0.6"/>
<polygon points="394.8,158.2 395.2,161.7 392.2,162.5 391.2,163.4 390.1,161.5 388.1,160.4 388.1,158.6 390.4,158.8 392.0,158.7" fill="rgb(133,133,133)" fill-opacity="0.74" stroke="rgb(194,194,194)" stroke-opacity="0.55" stroke-width="0.7" stroke-linejoin="round"/>
<line x1="388.1" y1="160.4" x2="390.2" y2="160.5" stroke="rgb(194,194,194)" stroke-opacity="0.5" stroke-width="0.6"/>
<polygon points="511.5,177.8 513.7,174.1 516.1,169.4 520.1,168.7 524.7,170.2 522.8,172.8 518.8,176.9 516.7,178.5" fill="rgb(64,64,64)" fill-opacity="0.82" stroke="rgb(115,115,115)" stroke-opacity="0.55" stroke-width="0.7" stroke-linejoin="round"/>
<line x1="524.7" y1="170.2" x2="521.5" y2="171.7" stroke="rgb(115,115,115)" stroke-opacity="0.5" stroke-width="0.6"/>
<line x1="522.8" y1="172.8" x2="519.5" y2="173.2" stroke="rgb(115,115,115)" stroke-opacity="0.5" stroke-width="0.6"/>
<line x1="511.5" y1="177.8" x2="514.9" y2="175.5" stroke="rgb(115,115,115)" stroke-opacity="0.5" stroke-width="0.6"/>
<polygon points="432.4,112.3 432.0,112.0 429.6,111.2 429.7,108.4 430.5,107.8 431.2,107.3 432.3,107.2 432.9,107.2 433.8,109.1 433.4,110.8" fill="rgb(150,150,150)" fill-opacity="0.86" stroke="rgb(229,229,229)" stroke-opacity="0.55" stroke-width="0.7" stroke-linejoin="round"/>
<line x1="429.7" y1="108.4" x2="430.5" y2="108.8" stroke="rgb(229,229,229)" stroke-opacity="0.5" stroke-width="0.6"/>
<polygon points="518.6,116.1 522.3,119.4 519.8,122.2 515.3,120.6 514.7,119.9 512.8,118.5 513.7,115.7 515.4,114.5 518.1,110.7" fill="rgb(72,72,72)" fill-opacity="0.76" stroke="rgb(142,142,142)" stroke-opacity="0.55" stroke-width="0.7" stroke-linejoin="round"/>
<line x1="518.1" y1="110.7" x2="517.0" y2="114.9" stroke="rgb(142,142,142)" stroke-opacity="0.5" stroke-width="0.6"/>
<line x1="513.7" y1="115.7" x2="515.1" y2="116.6" stroke="rgb(142,142,142)" stroke-opacity="0.5" stroke-width="0.6"/>
<line x1="518.1" y1="110.7" x2="517.4" y2="113.5" stroke="rgb(142,142,142)" stroke-opacity="0.5" stroke-width="0.6"/>
<polygon points="498.9,110.8 497.6,107.0 498.7,103.3 500.4,98.9 504.5,100.3 504.5,103.5 508.7,106.2 505.4,109.9" fill="rgb(106,106,106)" fill-opacity="0.90" stroke="rgb(165,165,165)" stroke-opacity="0.55" stroke-width="0.7" stroke-linejoin="round"/>
<line x1="508.7" y1="106.2" x2="503.6" y2="105.0" stroke="rgb(165,165,165)" stroke-opacity="0.5" stroke-width="0.6"/>
<polygon points="463.7,170.8 462.5,173.5 458.9,176.2 456.1,171.3 450.9,171.7 450.5,163.9 457.1,165.2 460.0,162.5 463.3,164.9 467.8,168.1" fill="rgb(176,176,176)" fill-opacity="0.83" stroke="rgb(234,234,234)" stroke-opacity="0.55" stroke-width="0.7" stroke-linejoin="round"/>
<line x1="458.9" y1="176.2" x2="458.8" y2="170.0" stroke="rgb(234,234,234)" stroke-opacity="0.5" stroke-width="0.6"/>
<line x1="463.7" y1="170.8" x2="460.6" y2="169.1" stroke="rgb(234,234,234)" stroke-opacity="0.5" stroke-width="0.6"/>
<polygon points="445.5,197.4 441.3,194.8 444.0,191.2 445.5,190.0 448.3,191.3 452.3,189.8 451.4,193.2 451.0,199.9 447.8,196.9" fill="rgb(80,80,80)" fill-opacity="0.92" stroke="rgb(160,160,160)" stroke-opacity="0.55" stroke-width="0.7" stroke-linejoin="round"/>
<line x1="445.5" y1="190.0" x2="446.8" y2="192.5" stroke="rgb(160,160,160)" stroke-opacity="0.5" stroke-width="0.6"/>
<polygon points="440.7,146.8 441.5,147.6 440.3,149.4 439.1,150.6 437.3,151.2 435.7,151.1 437.3,149.3 438.2,148.1 439.4,147.2" fill="rgb(162,162,162)" fill-opacity="0.91" stroke="rgb(213,213,213)" stroke-opacity="0.55" stroke-width="0.7" stroke-linejoin="round"/>
<line x1="440.3" y1="149.4" x2="439.3" y2="149.1" stroke="rgb(213,213,213)" stroke-opacity="0.5" stroke-width="0.6"/>
<polygon points="466.4,93.1 466.1,96.0 465.2,97.9 462.8,102.1 461.5,99.6 459.3,100.2 458.7,94.9 462.7,94.3 463.6,94.1" fill="rgb(95,95,95)" fill-opacity="0.79" stroke="rgb(137,137,137)" stroke-opacity="0.55" stroke-width="0.7" stroke-linejoin="round"/>
<line x1="465.2" y1="97.9" x2="464.2" y2="97.2" stroke="rgb(137,137,137)" stroke-opacity="0.5" stroke-width="0.6"/>
<line x1="459.3" y1="100.2" x2="462.5" y2="97.4" stroke="rgb(137,137,137)" stroke-opacity="0.5" stroke-width="0.6"/>
<line x1="461.5" y1="99.6" x2="462.8" y2="97.4" stroke="rgb(137,137,137)" stroke-opacity="0.5" stroke-width="0.6"/>
<polygon points="337.8,83.7 337.6,82.8 337.6,81.9 338.0,80.6 338.8,78.5 340.1,79.4 340.2,80.7 340.0,82.4 338.6,83.1" fill="rgb(163,163,163)" fill-opacity="0.79" stroke="rgb(235,235,235)" stroke-opacity="0.55" stroke-width="0.7" stroke-linejoin="round"/>
<line x1="338.8" y1="78.5" x2="338.5" y2="81.0" stroke="rgb(235,235,235)" stroke-opacity="0.5" stroke-width="0.6"/>
<polygon points="389.2,51.9 392.6,47.5 392.1,43.5 396.6,43.9 400.9,43.2 406.8,44.8 402.2,48.2 402.7,51.0 401.1,53.7 398.5,52.9 392.0,55.5" fill="rgb(78,78,78)" fill-opacity="0.60" stroke="rgb(127,127,127)" stroke-opacity="0.55" stroke-width="0.7" stroke-linejoin="round"/>
<line x1="392.0" y1="55.5" x2="395.2" y2="52.2" stroke="rgb(127,127,127)" stroke-opacity="0.5" stroke-width="0.6"/>
<line x1="402.7" y1="51.0" x2="400.2" y2="49.7" stroke="rgb(127,127,127)" stroke-opacity="0.5" stroke-width="0.6"/>
<polygon points="543.1,111.1 539.7,114.0 534.3,116.3 529.4,116.5 528.3,111.3 527.3,110.7 530.1,104.8 532.5,105.7 535.1,101.6 541.6,103.9 538.8,108.5" fill="rgb(107,107,107)" fill-opacity="0.87" stroke="rgb(150,150,150)" stroke-opacity="0.55" stroke-width="0.7" stroke-linejoin="round"/>
<line x1="543.1" y1="111.1" x2="539.0" y2="110.4" stroke="rgb(150,150,150)" stroke-opacity="0.5" stroke-width="0.6"/>
<line x1="534.3" y1="116.3" x2="534.6" y2="113.2" stroke="rgb(150,150,150)" stroke-opacity="0.5" stroke-width="0.6"/>
<polygon points="472.3,150.6 472.1,153.6 479.0,158.2 476.6,162.7 469.2,162.0 465.4,160.5 466.4,156.2 465.5,153.0 468.0,152.4" fill="rgb(114,114,114)" fill-opacity="0.67" stroke="rgb(169,169,169)" stroke-opacity="0.55" stroke-width="0.7" stroke-linejoin="round"/>
<line x1="469.2" y1="162.0" x2="469.4" y2="159.3" stroke="rgb(169,169,169)" stroke-opacity="0.5" stroke-width="0.6"/>
<line x1="472.1" y1="153.6" x2="471.2" y2="154.5" stroke="rgb(169,169,169)" stroke-opacity="0.5" stroke-width="0.6"/>
<polygon points="473.5,139.0 475.6,138.0 474.5,135.4 478.8,136.9 481.4,137.2 479.8,139.6 479.6,140.9 476.0,141.5 475.4,140.1" fill="rgb(60,60,60)" fill-opacity="0.63" stroke="rgb(102,102,102)" stroke-opacity="0.55" stroke-width="0.7" stroke-linejoin="round"/>
<line x1="478.8" y1="136.9" x2="477.8" y2="138.1" stroke="rgb(102,102,102)" stroke-opacity="0.5" stroke-width="0.6"/>
<polygon points="381.5,104.0 383.8,107.7 384.1,109.5 383.9,113.1 382.5,112.0 378.6,112.4 380.4,109.2 379.9,107.8" fill="rgb(98,98,98)" fill-opacity="0.76" stroke="rgb(165,165,165)" stroke-opacity="0.55" stroke-width="0.7" stroke-linejoin="round"/>
<line x1="383.8" y1="107.7" x2="382.9" y2="108.8" stroke="rgb(165,165,165)" stroke-opacity="0.5" stroke-width="0.6"/>
<polygon points="367.4,70.8 366.2,70.6 368.8,68.0 370.2,63.4 372.9,64.0 373.6,67.8 375.7,68.4 375.1,71.5 369.4,75.5 368.2,74.4" fill="rgb(117,117,117)" fill-opacity="0.70" stroke="rgb(175,175,175)" stroke-opacity="0.55" stroke-width="0.7" stroke-linejoin="round"/>
<line x1="366.2" y1="70.6" x2="368.1" y2="70.0" stroke="rgb(175,175,175)" stroke-opacity="0.5" stroke-width="0.6"/>
<polygon points="533.2,66.7 533.9,69.8 536.0,71.6 533.8,75.4 531.9,78.9 529.9,76.4 530.3,72.7 529.1,71.2 529.6,68.1" fill="rgb(65,65,65)" fill-opacity="0.75" stroke="rgb(142,142,142)" stroke-opacity="0.55" stroke-width="0.7" stroke-linejoin="round"/>
<line x1="533.8" y1="75.4" x2="532.5" y2="73.2" stroke="rgb(142,142,142)" stroke-opacity="0.5" stroke-width="0.6"/>
<line x1="530.3" y1="72.7" x2="531.4" y2="72.2" stroke="rgb(142,142,142)" stroke-opacity="0.5" stroke-width="0.6"/>
<polygon points="432.6,181.0 429.3,179.7 423.3,177.4 422.3,173.3 424.7,166.3 428.8,165.9 431.6,167.4 438.0,174.1 435.6,176.2" fill="rgb(171,171,171)" fill-opacity="0.93" stroke="rgb(235,235,235)" stroke-opacity="0.55" stroke-width="0.7" stroke-linejoin="round"/>
<line x1="428.8" y1="165.9" x2="429.3" y2="170.3" stroke="rgb(235,235,235)" stroke-opacity="0.5" stroke-width="0.6"/>
<line x1="422.3" y1="173.3" x2="427.3" y2="173.4" stroke="rgb(235,235,235)" stroke-opacity="0.5" stroke-width="0.6"/>
<polygon points="496.0,112.7 499.2,115.3 496.6,119.8 491.4,117.4 488.2,116.2 488.1,112.8 491.8,110.9 494.4,110.1" fill="rgb(115,115,115)" fill-opacity="0.79" stroke="rgb(178,178,178)" stroke-opacity="0.55" stroke-width="0.7" stroke-linejoin="round"/>
<line x1="496.0" y1="112.7" x2="494.2" y2="113.4" stroke="rgb(178,178,178)" stroke-opacity="0.5" stroke-width="0.6"/>
<polygon points="340.3,77.5 342.1,77.9 340.3,79.8 339.2,80.4 337.8,81.0 338.5,79.2 338.5,77.9 339.6,77.1" fill="rgb(158,158,158)" fill-opacity="0.76" stroke="rgb(198,198,198)" stroke-opacity="0.55" stroke-width="0.7" stroke-linejoin="round"/>
<line x1="339.6" y1="77.1" x2="339.5" y2="77.8" stroke="rgb(198,198,198)" stroke-opacity="0.5" stroke-width="0.6"/>
<line x1="339.6" y1="77.1" x2="339.5" y2="77.9" stroke="rgb(198,198,198)" stroke-opacity="0.5" stroke-width="0.6"/>
<polygon points="441.0,124.4 441.9,121.3 441.8,119.9 442.9,117.7 445.7,118.2 446.1,120.5 444.1,121.5 442.6,123.5" fill="rgb(88,88,88)" fill-opacity="0.76" stroke="rgb(164,164,164)" stroke-opacity="0.55" stroke-width="0.7" stroke-linejoin="round"/>
<line x1="441.9" y1="121.3" x2="442.5" y2="121.2" stroke="rgb(164,164,164)" stroke-opacity="0.5" stroke-width="0.6"/>
<line x1="441.8" y1="119.9" x2="442.6" y2="120.6" stroke="rgb(164,164,164)" stroke-opacity="0.5" stroke-width="0.6"/>
<polygon points="396.2,95.4 398.0,96.0 402.2,100.5 399.3,102.5 398.0,104.1 395.0,102.7 392.8,102.1 395.3,97.2" fill="rgb(59,59,59)" fill-opacity="0.94" stroke="rgb(120,120,120)" stroke-opacity="0.55" stroke-width="0.7" stroke-linejoin="round"/>
<line x1="392.8" y1="102.1" x2="394.7" y2="101.0" stroke="rgb(120,120,120)" stroke-opacity="0.5" stroke-width="0.6"/>
<line x1="399.3" y1="102.5" x2="398.3" y2="101.1" stroke="rgb(120,120,120)" stroke-opacity="0.5" stroke-width="0.6"/>
<polygon points="531.4,69.7 534.9,71.9 530.7,72.9 527.2,76.3 527.1,72.5 526.2,71.8 523.8,69.1 529.0,68.4 530.9,68.0" fill="rgb(93,93,93)" fill-opacity="0.81" stroke="rgb(149,149,149)" stroke-opacity="0.55" stroke-width="0.7" stroke-linejoin="round"/>
<line x1="526.2" y1="71.8" x2="527.7" y2="71.3" stroke="rgb(149,149,149)" stroke-opacity="0.5" stroke-width="0.6"/>
<polygon points="523.7,188.3 520.5,188.6 518.4,186.5 515.4,183.8 518.9,183.8 521.1,183.5 523.5,186.1" fill="rgb(160,160,160)" fill-opacity="0.74" stroke="rgb(235,235,235)" stroke-opacity="0.55" stroke-width="0.7" stroke-linejoin="round"/>
<line x1="515.4" y1="183.8" x2="517.6" y2="184.6" stroke="rgb(235,235,235)" stroke-opacity="0.5" stroke-width="0.6"/>
<line x1="523.7" y1="188.3" x2="521.6" y2="186.8" stroke="rgb(235,235,235)" stroke-opacity="0.5" stroke-width="0.6"/>
<polygon points="412.4,93.1 412.6,95.7 414.6,102.4 410.1,102.2 407.6,100.9 401.3,99.6 405.9,96.0 409.8,92.8" fill="rgb(67,67,67)" fill-opacity="0.72" stroke="rgb(137,137,137)" stroke-opacity="0.55" stroke-width="0.7" stroke-linejoin="round"/>
<line x1="407.6" y1="100.9" x2="408.4" y2="99.3" stroke="rgb(137,137,137)" stroke-opacity="0.5" stroke-width="0.6"/>
<polygon points="504.2,87.8 506.1,87.6 510.8,87.6 510.8,89.6 508.9,93.3 507.3,94.4 501.6,94.9 499.7,89.7" fill="rgb(81,81,81)" fill-opacity="0.64" stroke="rgb(161,161,161)" stroke-opacity="0.55" stroke-width="0.7" stroke-linejoin="round"/>
<line x1="510.8" y1="87.6" x2="508.3" y2="89.0" stroke="rgb(161,161,161)" stroke-opacity="0.5" stroke-width="0.6"/>
<polygon points="354.0,61.4 352.2,60.9 352.9,58.0 354.0,55.9 356.8,51.9 358.9,55.7 357.8,60.0 355.6,63.2" fill="rgb(163,163,163)" fill-opacity="0.63" stroke="rgb(212,212,212)" stroke-opacity="0.55" stroke-width="0.7" stroke-linejoin="round"/>
<line x1="354.0" y1="61.4" x2="354.4" y2="59.8" stroke="rgb(212,212,212)" stroke-opacity="0.5" stroke-width="0.6"/>
<line x1="356.8" y1="51.9" x2="355.3" y2="56.5" stroke="rgb(212,212,212)" stroke-opacity="0.5" stroke-width="0.6"/>
<line x1="352.9" y1="58.0" x2="354.1" y2="58.0" stroke="rgb(212,212,212)" stroke-opacity="0.5" stroke-width="0.6"/>
<polygon points="460.1,90.0 458.4,93.9 453.9,90.1 448.6,87.1 451.1,84.2 449.7,80.6 454.6,83.6 457.2,82.5 461.2,87.1" fill="rgb(175,175,175)" fill-opacity="0.60" stroke="rgb(228,228,228)" stroke-opacity="0.55" stroke-width="0.7" stroke-linejoin="round"/>
<line x1="454.6" y1="83.6" x2="454.7" y2="85.0" stroke="rgb(228,228,228)" stroke-opacity="0.5" stroke-width="0.6"/>
<line x1="457.2" y1="82.5" x2="456.1" y2="84.2" stroke="rgb(228,228,228)" stroke-opacity="0.5" stroke-width="0.6"/>
<line x1="457.2" y1="82.5" x2="455.4" y2="85.2" stroke="rgb(228,228,228)" stroke-opacity="0.5" stroke-width="0.6"/>
<polygon points="489.0,159.2 495.1,164.5 502.9,164.4 500.4,167.9 499.7,174.1 496.8,177.4 491.9,173.4 489.6,164.7" fill="rgb(133,133,133)" fill-opacity="0.94" stroke="rgb(217,217,217)" stroke-opacity="0.55" stroke-width="0.7" stroke-linejoin="round"/>
<line x1="502.9" y1="164.4" x2="497.3" y2="166.8" stroke="rgb(217,217,217)" stroke-opacity="0.5" stroke-width="0.6"/>
<polygon points="418.3,96.8 418.5,98.2 418.4,100.5 415.9,101.0 414.9,98.7 415.2,97.4 417.0,95.3" fill="rgb(97,97,97)" fill-opacity="0.85" stroke="rgb(187,187,187)" stroke-opacity="0.55" stroke-width="0.7" stroke-linejoin="round"/>
<line x1="418.5" y1="98.2" x2="417.3" y2="98.2" stroke="rgb(187,187,187)" stroke-opacity="0.5" stroke-width="0.6"/>
<polygon points="405.0,160.5 405.3,167.2 402.3,164.0 397.5,163.7 393.3,161.5 393.4,155.9 398.9,155.6 403.3,158.1 406.0,158.9" fill="rgb(72,72,72)" fill-opacity="0.91" stroke="rgb(144,144,144)" stroke-opacity="0.55" stroke-width="0.7" stroke-linejoin="round"/>
<line x1="405.0" y1="160.5" x2="402.6" y2="160.2" stroke="rgb(144,144,144)" stroke-opacity="0.5" stroke-width="0.6"/>
<polygon points="526.3,164.5 529.3,162.3 530.7,164.1 533.2,165.6 531.3,169.2 528.1,168.7 524.9,168.2" fill="rgb(135,135,135)" fill-opacity="0.80" stroke="rgb(225,225,225)" stroke-opacity="0.55" stroke-width="0.7" stroke-linejoin="round"/>
<line x1="526.3" y1="164.5" x2="528.4" y2="165.4" stroke="rgb(225,225,225)" stroke-opacity="0.5" stroke-width="0.6"/>
<line x1="526.3" y1="164.5" x2="528.7" y2="165.5" stroke="rgb(225,225,225)" stroke-opacity="0.5" stroke-width="0.6"/>
<polygon points="494.8,67.1 495.5,65.7 496.8,64.9 499.7,66.1 499.2,67.2 499.1,69.2 497.0,71.8 495.5,69.5 492.7,70.9 491.5,66.7" fill="rgb(182,182,182)" fill-opacity="0.89" stroke="rgb(225,225,225)" stroke-opacity="0.55" stroke-width="0.7" stroke-linejoin="round"/>
<line x1="492.7" y1="70.9" x2="494.7" y2="69.1" stroke="rgb(225,225,225)" stroke-opacity="0.5" stroke-width="0.6"/>
<line x1="494.8" y1="67.1" x2="495.6" y2="67.5" stroke="rgb(225,225,225)" stroke-opacity="0.5" stroke-width="0.6"/>
<line x1="496.8" y1="64.9" x2="496.5" y2="66.7" stroke="rgb(225,225,225)" stroke-opacity="0.5" stroke-width="0.6"/>
<polygon points="541.1,64.3 541.5,69.9 541.6,73.9 536.2,74.9 530.0,72.9 532.1,68.7 534.8,64.0 537.7,66.2" fill="rgb(163,163,163)" fill-opacity="0.77" stroke="rgb(224,224,224)" stroke-opacity="0.55" stroke-width="0.7" stroke-linejoin="round"/>
<line x1="541.5" y1="69.9" x2="538.9" y2="69.3" stroke="rgb(224,224,224)" stroke-opacity="0.5" stroke-width="0.6"/>
<polygon points="415.8,119.3 411.2,118.0 409.4,113.2 412.4,104.9 418.5,105.2 418.7,110.4 422.2,114.6 418.2,118.4" fill="rgb(125,125,125)" fill-opacity="0.71" stroke="rgb(166,166,166)" stroke-opacity="0.55" stroke-width="0.7" stroke-linejoin="round"/>
<line x1="411.2" y1="118.0" x2="413.1" y2="116.2" stroke="rgb(166,166,166)" stroke-opacity="0.5" stroke-width="0.6"/>
<polygon points="555.0,192.6 548.0,193.0 543.1,193.6 542.2,187.2 536.9,181.8 543.6,179.4 549.5,183.5 549.8,188.4" fill="rgb(115,115,115)" fill-opacity="0.94" stroke="rgb(168,168,168)" stroke-opacity="0.55" stroke-width="0.7" stroke-linejoin="round"/>
<line x1="542.2" y1="187.2" x2="544.1" y2="187.5" stroke="rgb(168,168,168)" stroke-opacity="0.5" stroke-width="0.6"/>
<polygon points="360.7,47.0 366.6,47.6 361.3,50.9 364.1,54.3 358.6,58.2 354.5,53.5 352.0,51.6 354.3,47.8 357.2,47.1 360.4,42.3" fill="rgb(153,153,153)" fill-opacity="0.76" stroke="rgb(206,206,206)" stroke-opacity="0.55" stroke-width="0.7" stroke-linejoin="round"/>
<line x1="354.3" y1="47.8" x2="357.1" y2="49.0" stroke="rgb(206,206,206)" stroke-opacity="0.5" stroke-width="0.6"/>
<polygon points="513.6,149.1 513.2,152.9 513.4,154.1 510.2,155.7 509.2,154.4 508.6,153.2 507.4,151.7 507.7,148.7 509.7,150.6 511.2,149.4" fill="rgb(68,68,68)" fill-opacity="0.94" stroke="rgb(137,137,137)" stroke-opacity="0.55" stroke-width="0.7" stroke-linejoin="round"/>
<line x1="513.6" y1="149.1" x2="511.6" y2="150.8" stroke="rgb(137,137,137)" stroke-opacity="0.5" stroke-width="0.6"/>
<line x1="511.2" y1="149.4" x2="510.5" y2="150.8" stroke="rgb(137,137,137)" stroke-opacity="0.5" stroke-width="0.6"/>
<polygon points="516.1,133.1 518.5,134.6 520.7,135.9 522.3,139.7 519.8,140.5 517.5,137.4 515.9,135.8" fill="rgb(66,66,66)" fill-opacity="0.84" stroke="rgb(112,112,112)" stroke-opacity="0.55" stroke-width="0.7" stroke-linejoin="round"/>
<line x1="520.7" y1="135.9" x2="519.7" y2="136.1" stroke="rgb(112,112,112)" stroke-opacity="0.5" stroke-width="0.6"/>
<line x1="517.5" y1="137.4" x2="518.4" y2="136.7" stroke="rgb(112,112,112)" stroke-opacity="0.5" stroke-width="0.6"/>
<line x1="519.8" y1="140.5" x2="519.1" y2="138.1" stroke="rgb(112,112,112)" stroke-opacity="0.5" stroke-width="0.6"/>
<polygon points="405.0,48.5 407.4,45.7 412.3,45.8 416.4,50.5 415.0,53.0 412.3,57.4 407.1,55.0 407.2,50.6" fill="rgb(129,129,129)" fill-opacity="0.86" stroke="rgb(172,172,172)" stroke-opacity="0.55" stroke-width="0.7" stroke-linejoin="round"/>
<line x1="412.3" y1="45.8" x2="411.0" y2="49.4" stroke="rgb(172,172,172)" stroke-opacity="0.5" stroke-width="0.6"/>
<line x1="407.4" y1="45.7" x2="408.8" y2="48.1" stroke="rgb(172,172,172)" stroke-opacity="0.5" stroke-width="0.6"/>
<polygon points="547.9,162.8 548.0,165.0 546.0,163.6 543.0,162.5 544.3,161.5 543.0,160.1 542.9,157.8 545.9,158.3 546.6,158.1 549.4,160.3 548.9,161.6" fill="rgb(69,69,69)" fill-opacity="0.77" stroke="rgb(141,141,141)" stroke-opacity="0.55" stroke-width="0.7" stroke-linejoin="round"/>
<line x1="546.0" y1="163.6" x2="545.8" y2="161.8" stroke="rgb(141,141,141)" stroke-opacity="0.5" stroke-width="0.6"/>
<line x1="546.6" y1="158.1" x2="546.1" y2="159.8" stroke="rgb(141,141,141)" stroke-opacity="0.5" stroke-width="0.6"/>
<line x1="546.0" y1="163.6" x2="545.8" y2="161.6" stroke="rgb(141,141,141)" stroke-opacity="0.5" stroke-width="0.6"/>
<polygon points="518.0,168.3 519.2,166.4 523.4,164.6 524.3,164.2 529.7,164.8 528.7,166.7 528.8,171.2 524.7,170.4 523.4,170.9 518.6,171.6" fill="rgb(75,75,75)" fill-opacity="0.94" stroke="rgb(163,163,163)" stroke-opacity="0.55" stroke-width="0.7" stroke-linejoin="round"/>
<line x1="524.7" y1="170.4" x2="524.0" y2="168.2" stroke="rgb(163,163,163)" stroke-opacity="0.5" stroke-width="0.6"/>
<line x1="523.4" y1="164.6" x2="523.5" y2="165.9" stroke="rgb(163,163,163)" stroke-opacity="0.5" stroke-width="0.6"/>
<line x1="518.6" y1="171.6" x2="522.0" y2="168.9" stroke="rgb(163,163,163)" stroke-opacity="0.5" stroke-width="0.6"/>
<polygon points="418.6,197.9 416.3,196.8 415.5,193.4 416.1,190.8 417.4,192.6 420.4,192.9 420.3,195.9" fill="rgb(109,109,109)" fill-opacity="0.71" stroke="rgb(195,195,195)" stroke-opacity="0.55" stroke-width="0.7" stroke-linejoin="round"/>
<line x1="416.3" y1="196.8" x2="417.1" y2="195.2" stroke="rgb(195,195,195)" stroke-opacity="0.5" stroke-width="0.6"/>
<polygon points="437.6,118.0 440.0,117.8 441.4,116.5 442.9,118.6 443.6,119.4 443.7,120.8 441.3,119.8 440.5,119.3" fill="rgb(163,163,163)" fill-opacity="0.63" stroke="rgb(235,235,235)" stroke-opacity="0.55" stroke-width="0.7" stroke-linejoin="round"/>
<line x1="440.5" y1="119.3" x2="441.1" y2="119.1" stroke="rgb(235,235,235)" stroke-opacity="0.5" stroke-width="0.6"/>
<line x1="442.9" y1="118.6" x2="442.2" y2="118.8" stroke="rgb(235,235,235)" stroke-opacity="0.5" stroke-width="0.6"/>
<polygon points="504.5,81.4 507.6,81.9 509.8,80.5 511.8,82.0 514.8,82.9 513.4,84.2 513.9,89.8 509.9,88.1 508.0,86.1 502.9,85.8" fill="rgb(103,103,103)" fill-opacity="0.95" stroke="rgb(158,158,158)" stroke-opacity="0.55" stroke-width="0.7" stroke-linejoin="round"/>
<line x1="509.9" y1="88.1" x2="510.2" y2="85.0" stroke="rgb(158,158,158)" stroke-opacity="0.5" stroke-width="0.6"/>
<polygon points="508.2,134.8 511.6,136.8 504.3,138.8 502.1,137.7 501.2,135.7 505.0,134.0 509.6,132.3" fill="rgb(97,97,97)" fill-opacity="0.89" stroke="rgb(183,183,183)" stroke-opacity="0.55" stroke-width="0.7" stroke-linejoin="round"/>
<line x1="504.3" y1="138.8" x2="505.4" y2="136.6" stroke="rgb(183,183,183)" stroke-opacity="0.5" stroke-width="0.6"/>
<polygon points="343.3,166.2 341.0,162.5 343.7,158.0 345.3,157.3 348.3,152.5 348.1,157.8 347.9,160.0 347.0,161.5" fill="rgb(156,156,156)" fill-opacity="0.77" stroke="rgb(209,209,209)" stroke-opacity="0.55" stroke-width="0.7" stroke-linejoin="round"/>
<line x1="341.0" y1="162.5" x2="343.3" y2="161.1" stroke="rgb(209,209,209)" stroke-opacity="0.5" stroke-width="0.6"/>
<line x1="347.0" y1="161.5" x2="346.4" y2="160.3" stroke="rgb(209,209,209)" stroke-opacity="0.5" stroke-width="0.6"/>
<line x1="343.3" y1="166.2" x2="344.5" y2="163.4" stroke="rgb(209,209,209)" stroke-opacity="0.5" stroke-width="0.6"/>
<polygon points="358.7,130.1 360.5,134.2 361.7,135.7 365.3,139.2 364.5,146.0 361.7,147.8 358.6,143.9 357.8,141.3 354.8,137.9 358.2,135.7" fill="rgb(90,90,90)" fill-opacity="0.62" stroke="rgb(165,165,165)" stroke-opacity="0.55" stroke-width="0.7" stroke-linejoin="round"/>
<line x1="358.6" y1="143.9" x2="359.3" y2="141.1" stroke="rgb(165,165,165)" stroke-opacity="0.5" stroke-width="0.6"/>
<line x1="354.8" y1="137.9" x2="358.7" y2="137.9" stroke="rgb(165,165,165)" stroke-opacity="0.5" stroke-width="0.6"/>
<polygon points="378.8,47.9 378.4,49.4 377.2,47.3 376.6,46.4 376.5,45.4 376.4,43.8 377.7,44.8 378.9,45.3 379.4,46.0 378.9,47.0" fill="rgb(60,60,60)" fill-opacity="0.80" stroke="rgb(115,115,115)" stroke-opacity="0.55" stroke-width="0.7" stroke-linejoin="round"/>
<line x1="378.4" y1="49.4" x2="378.0" y2="47.1" stroke="rgb(115,115,115)" stroke-opacity="0.5" stroke-width="0.6"/>
<polygon points="504.4,71.4 498.6,69.1 496.4,67.6 493.3,65.3 494.6,61.1 498.7,55.7 502.4,62.2 507.4,65.4 503.6,66.8" fill="rgb(84,84,84)" fill-opacity="0.90" stroke="rgb(159,159,159)" stroke-opacity="0.55" stroke-width="0.7" stroke-linejoin="round"/>
<line x1="503.6" y1="66.8" x2="502.1" y2="66.2" stroke="rgb(159,159,159)" stroke-opacity="0.5" stroke-width="0.6"/>
<line x1="503.6" y1="66.8" x2="500.9" y2="65.7" stroke="rgb(159,159,159)" stroke-opacity="0.5" stroke-width="0.6"/>
<polygon points="375.7,169.3 372.6,168.1 368.7,166.2 365.3,164.6 367.3,161.5 368.6,159.7 370.7,160.2 373.1,161.4 376.2,164.3" fill="rgb(172,172,172)" fill-opacity="0.76" stroke="rgb(221,221,221)" stroke-opacity="0.55" stroke-width="0.7" stroke-linejoin="round"/>
<line x1="376.2" y1="164.3" x2="372.9" y2="163.4" stroke="rgb(221,221,221)" stroke-opacity="0.5" stroke-width="0.6"/>
<line x1="376.2" y1="164.3" x2="372.3" y2="163.2" stroke="rgb(221,221,221)" stroke-opacity="0.5" stroke-width="0.6"/>
<polygon points="491.0,138.4 485.9,137.6 483.8,133.4 486.9,131.6 486.4,126.7 490.0,127.8 492.4,128.3 497.7,126.2 495.6,133.2 498.9,139.7 494.9,141.7" fill="rgb(142,142,142)" fill-opacity="0.83" stroke="rgb(217,217,217)" stroke-opacity="0.55" stroke-width="0.7" stroke-linejoin="round"/>
<line x1="485.9" y1="137.6" x2="488.2" y2="135.2" stroke="rgb(217,217,217)" stroke-opacity="0.5" stroke-width="0.6"/>
<line x1="495.6" y1="133.2" x2="493.2" y2="132.8" stroke="rgb(217,217,217)" stroke-opacity="0.5" stroke-width="0.6"/>
<polygon points="423.9,192.1 419.4,191.4 422.2,187.6 425.8,187.1 429.4,187.7 428.6,190.6 426.5,192.5 423.3,197.1" fill="rgb(141,141,141)" fill-opacity="0.73" stroke="rgb(199,199,199)" stroke-opacity="0.55" stroke-width="0.7" stroke-linejoin="round"/>
<line x1="423.3" y1="197.1" x2="424.4" y2="194.0" stroke="rgb(199,199,199)" stroke-opacity="0.5" stroke-width="0.6"/>
<polygon points="339.3,127.4 336.5,130.4 335.5,132.9 333.5,131.5 330.8,130.9 330.3,127.6 333.0,125.3 337.8,124.6" fill="rgb(95,95,95)" fill-opacity="0.68" stroke="rgb(178,178,178)" stroke-opacity="0.55" stroke-width="0.7" stroke-linejoin="round"/>
<line x1="330.3" y1="127.6" x2="333.2" y2="128.7" stroke="rgb(178,178,178)" stroke-opacity="0.5" stroke-width="0.6"/>
<line x1="333.0" y1="125.3" x2="333.9" y2="127.3" stroke="rgb(178,178,178)" stroke-opacity="0.5" stroke-width="0.6"/>
<line x1="333.0" y1="125.3" x2="334.0" y2="127.7" stroke="rgb(178,178,178)" stroke-opacity="0.5" stroke-width="0.6"/>
<polygon points="550.6,131.1 551.7,134.1 552.6,138.2 547.2,138.2 545.4,138.1 542.3,142.1 544.1,136.8 542.0,135.1 546.1,133.6 546.7,133.4" fill="rgb(63,63,63)" fill-opacity="0.74" stroke="rgb(133,133,133)" stroke-opacity="0.55" stroke-width="0.7" stroke-linejoin="round"/>
<line x1="546.7" y1="133.4" x2="546.6" y2="134.7" stroke="rgb(133,133,133)" stroke-opacity="0.5" stroke-width="0.6"/>
<line x1="547.2" y1="138.2" x2="546.8" y2="136.8" stroke="rgb(133,133,133)" stroke-opacity="0.5" stroke-width="0.6"/>
<polygon points="526.8,148.3 526.8,146.5 526.3,143.8 528.1,144.1 529.6,144.0 531.4,143.8 530.4,145.5 529.8,147.8 528.4,147.3" fill="rgb(111,111,111)" fill-opacity="0.95" stroke="rgb(180,180,180)" stroke-opacity="0.55" stroke-width="0.7" stroke-linejoin="round"/>
<line x1="528.4" y1="147.3" x2="528.6" y2="146.4" stroke="rgb(180,180,180)" stroke-opacity="0.5" stroke-width="0.6"/>
<polygon points="397.0,161.9 388.4,162.1 384.3,158.8 380.9,152.1 381.8,149.1 388.3,149.9 393.7,156.4" fill="rgb(54,54,54)" fill-opacity="0.87" stroke="rgb(100,100,100)" stroke-opacity="0.55" stroke-width="0.7" stroke-linejoin="round"/>
<line x1="397.0" y1="161.9" x2="391.5" y2="158.5" stroke="rgb(100,100,100)" stroke-opacity="0.5" stroke-width="0.6"/>
<polygon points="369.9,129.5 370.1,127.4 372.2,127.1 374.7,123.5 375.9,126.9 376.7,128.5 377.6,131.2 375.2,131.8 372.4,130.8" fill="rgb(114,114,114)" fill-opacity="0.91" stroke="rgb(155,155,155)" stroke-opacity="0.55" stroke-width="0.7" stroke-linejoin="round"/>
<line x1="376.7" y1="128.5" x2="374.9" y2="128.6" stroke="rgb(155,155,155)" stroke-opacity="0.5" stroke-width="0.6"/>
<polygon points="423.0,146.2 421.5,143.3 426.2,143.7 428.8,145.0 429.1,147.2 428.2,148.1 427.0,151.7 425.6,148.4 421.3,147.5" fill="rgb(61,61,61)" fill-opacity="0.79" stroke="rgb(130,130,130)" stroke-opacity="0.55" stroke-width="0.7" stroke-linejoin="round"/>
<line x1="425.6" y1="148.4" x2="426.0" y2="147.6" stroke="rgb(130,130,130)" stroke-opacity="0.5" stroke-width="0.6"/>
<polygon points="504.3,159.8 504.7,161.9 502.7,163.4 499.9,162.4 497.7,161.8 497.3,160.3 498.0,158.5 499.3,158.7 501.3,155.7 503.1,157.7 502.4,159.3" fill="rgb(123,123,123)" fill-opacity="0.69" stroke="rgb(202,202,202)" stroke-opacity="0.55" stroke-width="0.7" stroke-linejoin="round"/>
<line x1="501.3" y1="155.7" x2="500.9" y2="158.3" stroke="rgb(202,202,202)" stroke-opacity="0.5" stroke-width="0.6"/>
<polygon points="411.8,177.8 412.7,179.9 410.3,183.0 407.2,183.2 406.9,180.5 407.2,178.7 409.7,176.5" fill="rgb(156,156,156)" fill-opacity="0.68" stroke="rgb(229,229,229)" stroke-opacity="0.55" stroke-width="0.7" stroke-linejoin="round"/>
<line x1="410.3" y1="183.0" x2="409.8" y2="180.9" stroke="rgb(229,229,229)" stroke-opacity="0.5" stroke-width="0.6"/>
<line x1="409.7" y1="176.5" x2="409.6" y2="178.9" stroke="rgb(229,229,229)" stroke-opacity="0.5" stroke-width="0.6"/>
<polygon points="436.3,183.4 437.4,186.1 437.7,189.7 435.7,191.7 434.6,190.3 434.0,188.3 434.4,184.6" fill="rgb(124,124,124)" fill-opacity="0.83" stroke="rgb(173,173,173)" stroke-opacity="0.55" stroke-width="0.7" stroke-linejoin="round"/>
<line x1="437.7" y1="189.7" x2="436.8" y2="188.7" stroke="rgb(173,173,173)" stroke-opacity="0.5" stroke-width="0.6"/>
<line x1="434.6" y1="190.3" x2="435.3" y2="188.8" stroke="rgb(173,173,173)" stroke-opacity="0.5" stroke-width="0.6"/>
<polygon points="474.5,129.6 475.9,128.0 479.9,129.9 476.6,133.4 476.9,136.8 476.5,138.8 472.1,138.6 472.1,134.3 470.8,132.1 471.2,129.3" fill="rgb(88,88,88)" fill-opacity="0.86" stroke="rgb(140,140,140)" stroke-opacity="0.55" stroke-width="0.7" stroke-linejoin="round"/>
<line x1="472.1" y1="138.6" x2="474.1" y2="134.0" stroke="rgb(140,140,140)" stroke-opacity="0.5" stroke-width="0.6"/>
<polygon points="441.0,151.8 444.9,149.7 449.3,150.4 449.2,155.5 448.4,157.3 447.3,158.9 444.6,158.1 442.9,156.1" fill="rgb(73,73,73)" fill-opacity="0.70" stroke="rgb(163,163,163)" stroke-opacity="0.55" stroke-width="0.7" stroke-linejoin="round"/>
<line x1="448.4" y1="157.3" x2="447.4" y2="156.3" stroke="rgb(163,163,163)" stroke-opacity="0.5" stroke-width="0.6"/>
<line x1="444.6" y1="158.1" x2="445.4" y2="156.9" stroke="rgb(163,163,163)" stroke-opacity="0.5" stroke-width="0.6"/>
<polygon points="382.9,56.7 382.5,59.4 382.3,63.6 379.9,65.8 376.2,63.8 371.6,61.2 375.7,58.2 377.3,56.4 380.0,55.6" fill="rgb(164,164,164)" fill-opacity="0.68" stroke="rgb(235,235,235)" stroke-opacity="0.55" stroke-width="0.7" stroke-linejoin="round"/>
<line x1="371.6" y1="61.2" x2="376.0" y2="60.3" stroke="rgb(235,235,235)" stroke-opacity="0.5" stroke-width="0.6"/>
<line x1="379.9" y1="65.8" x2="378.6" y2="61.1" stroke="rgb(235,235,235)" stroke-opacity="0.5" stroke-width="0.6"/>
<polygon points="487.7,135.9 493.3,135.5 496.4,139.0 498.5,141.4 497.8,146.8 495.7,151.9 489.0,150.2 486.5,145.3 484.5,141.6" fill="rgb(90,90,90)" fill-opacity="0.70" stroke="rgb(180,180,180)" stroke-opacity="0.55" stroke-width="0.7" stroke-linejoin="round"/>
<line x1="484.5" y1="141.6" x2="488.8" y2="142.5" stroke="rgb(180,180,180)" stroke-opacity="0.5" stroke-width="0.6"/>
<line x1="497.8" y1="146.8" x2="494.5" y2="144.5" stroke="rgb(180,180,180)" stroke-opacity="0.5" stroke-width="0.6"/>
<line x1="487.7" y1="135.9" x2="490.3" y2="139.8" stroke="rgb(180,180,180)" stroke-opacity="0.5" stroke-width="0.6"/>
<polygon points="334.6,71.1 338.4,68.6 340.7,68.8 343.2,68.9 350.3,66.7 353.0,74.8 343.9,75.4 342.6,82.4 339.0,78.2 336.5,76.1" fill="rgb(124,124,124)" fill-opacity="0.72" stroke="rgb(193,193,193)" stroke-opacity="0.55" stroke-width="0.7" stroke-linejoin="round"/>
<line x1="353.0" y1="74.8" x2="344.1" y2="73.4" stroke="rgb(193,193,193)" stroke-opacity="0.5" stroke-width="0.6"/>
<polygon points="351.8,190.0 349.6,192.2 343.3,191.3 339.7,192.9 335.0,193.1 337.1,190.1 334.0,187.2 337.3,185.5 342.8,183.1 344.9,186.4 347.9,187.0" fill="rgb(149,149,149)" fill-opacity="0.73" stroke="rgb(235,235,235)" stroke-opacity="0.55" stroke-width="0.7" stroke-linejoin="round"/>
<line x1="351.8" y1="190.0" x2="346.6" y2="189.6" stroke="rgb(235,235,235)" stroke-opacity="0.5" stroke-width="0.6"/>
<line x1="343.3" y1="191.3" x2="342.3" y2="189.9" stroke="rgb(235,235,235)" stroke-opacity="0.5" stroke-width="0.6"/>
<polygon points="450.9,152.0 451.0,146.6 453.3,151.7 457.2,152.9 459.4,155.9 460.6,160.7 456.2,159.7 452.6,160.1 451.0,162.0 449.9,156.4 446.9,153.0" fill="rgb(92,92,92)" fill-opacity="0.71" stroke="rgb(173,173,173)" stroke-opacity="0.55" stroke-width="0.7" stroke-linejoin="round"/>
<line x1="446.9" y1="153.0" x2="451.4" y2="154.2" stroke="rgb(173,173,173)" stroke-opacity="0.5" stroke-width="0.6"/>
<polygon points="498.6,140.6 495.2,146.7 495.4,150.8 486.4,151.5 482.8,150.2 481.1,144.0 487.6,138.2 491.4,139.3" fill="rgb(78,78,78)" fill-opacity="0.82" stroke="rgb(142,142,142)" stroke-opacity="0.55" stroke-width="0.7" stroke-linejoin="round"/>
<line x1="495.2" y1="146.7" x2="493.0" y2="145.8" stroke="rgb(142,142,142)" stroke-opacity="0.5" stroke-width="0.6"/>
<line x1="486.4" y1="151.5" x2="489.1" y2="146.8" stroke="rgb(142,142,142)" stroke-opacity="0.5" stroke-width="0.6"/>
<polygon points="493.0,177.9 493.6,173.4 497.0,171.9 498.9,170.9 501.4,171.4 501.5,173.7 502.2,177.2 497.2,179.3" fill="rgb(164,164,164)" fill-opacity="0.78" stroke="rgb(204,204,204)" stroke-opacity="0.55" stroke-width="0.7" stroke-linejoin="round"/>
<line x1="502.2" y1="177.2" x2="499.9" y2="175.5" stroke="rgb(204,204,204)" stroke-opacity="0.5" stroke-width="0.6"/>
<line x1="501.5" y1="173.7" x2="499.8" y2="174.1" stroke="rgb(204,204,204)" stroke-opacity="0.5" stroke-width="0.6"/>
<polygon points="536.6,74.5 541.5,78.2 538.8,84.7 538.8,91.7 534.9,94.9 530.3,93.1 532.9,87.0 529.3,80.1 532.4,75.9" fill="rgb(85,85,85)" fill-opacity="0.88" stroke="rgb(129,129,129)" stroke-opacity="0.55" stroke-width="0.7" stroke-linejoin="round"/>
<line x1="534.9" y1="94.9" x2="535.1" y2="90.8" stroke="rgb(129,129,129)" stroke-opacity="0.5" stroke-width="0.6"/>
<line x1="536.6" y1="74.5" x2="535.8" y2="81.7" stroke="rgb(129,129,129)" stroke-opacity="0.5" stroke-width="0.6"/>
<line x1="538.8" y1="91.7" x2="536.9" y2="88.0" stroke="rgb(129,129,129)" stroke-opacity="0.5" stroke-width="0.6"/>
<polygon points="408.8,107.2 410.1,108.2 410.8,106.6 412.5,108.6 415.6,109.7 412.7,111.3 412.7,112.2 410.3,114.2 409.6,111.9 407.7,110.7 408.4,108.9" fill="rgb(131,131,131)" fill-opacity="0.73" stroke="rgb(188,188,188)" stroke-opacity="0.55" stroke-width="0.7" stroke-linejoin="round"/>
<line x1="408.4" y1="108.9" x2="410.2" y2="109.6" stroke="rgb(188,188,188)" stroke-opacity="0.5" stroke-width="0.6"/>
<line x1="410.8" y1="106.6" x2="410.8" y2="108.0" stroke="rgb(188,188,188)" stroke-opacity="0.5" stroke-width="0.6"/>
<polygon points="479.6,182.7 480.2,184.7 482.1,187.8 485.7,189.4 481.3,194.2 477.1,197.2 475.6,193.4 475.6,188.7 474.3,185.9 476.5,185.2 477.1,184.6" fill="rgb(93,93,93)" fill-opacity="0.93" stroke="rgb(182,182,182)" stroke-opacity="0.55" stroke-width="0.7" stroke-linejoin="round"/>
<line x1="477.1" y1="197.2" x2="477.9" y2="189.9" stroke="rgb(182,182,182)" stroke-opacity="0.5" stroke-width="0.6"/>
<line x1="480.2" y1="184.7" x2="479.0" y2="186.5" stroke="rgb(182,182,182)" stroke-opacity="0.5" stroke-width="0.6"/>
<line x1="485.7" y1="189.4" x2="481.5" y2="188.4" stroke="rgb(182,182,182)" stroke-opacity="0.5" stroke-width="0.6"/>
<polygon points="452.3,71.8 453.6,69.8 453.8,68.1 456.2,68.0 457.1,69.2 458.1,71.0 454.5,73.7" fill="rgb(53,53,53)" fill-opacity="0.81" stroke="rgb(140,140,140)" stroke-opacity="0.55" stroke-width="0.7" stroke-linejoin="round"/>
<line x1="452.3" y1="71.8" x2="454.1" y2="70.5" stroke="rgb(140,140,140)" stroke-opacity="0.5" stroke-width="0.6"/>
<polygon points="405.7,187.6 405.3,185.8 407.5,181.5 411.3,178.9 415.6,179.1 414.7,183.9 412.2,186.5 408.3,187.0" fill="rgb(160,160,160)" fill-opacity="0.68" stroke="rgb(226,226,226)" stroke-opacity="0.55" stroke-width="0.7" stroke-linejoin="round"/>
<line x1="408.3" y1="187.0" x2="409.2" y2="185.4" stroke="rgb(226,226,226)" stroke-opacity="0.5" stroke-width="0.6"/>
<polygon points="459.2,111.2 463.8,114.0 469.2,112.4 472.6,118.8 469.4,119.8 468.2,124.1 463.8,122.3 462.3,118.9 462.0,116.4" fill="rgb(169,169,169)" fill-opacity="0.63" stroke="rgb(218,218,218)" stroke-opacity="0.55" stroke-width="0.7" stroke-linejoin="round"/>
<line x1="469.2" y1="112.4" x2="466.5" y2="115.2" stroke="rgb(218,218,218)" stroke-opacity="0.5" stroke-width="0.6"/>
<line x1="462.0" y1="116.4" x2="463.6" y2="116.7" stroke="rgb(218,218,218)" stroke-opacity="0.5" stroke-width="0.6"/>
<polygon points="335.4,99.9 337.7,99.6 339.0,102.1 340.6,105.0 336.6,107.9 334.3,104.2 333.2,103.3 330.4,99.4 333.5,99.2" fill="rgb(57,57,57)" fill-opacity="0.69" stroke="rgb(128,128,128)" stroke-opacity="0.55" stroke-width="0.7" stroke-linejoin="round"/>
<line x1="333.5" y1="99.2" x2="334.2" y2="100.4" stroke="rgb(128,128,128)" stroke-opacity="0.5" stroke-width="0.6"/>
<polygon points="495.3,145.7 498.1,148.9 492.3,150.5 489.9,152.8 485.3,154.3 486.1,151.4 484.1,148.2 485.7,145.0 487.1,142.7 491.6,146.0" fill="rgb(163,163,163)" fill-opacity="0.81" stroke="rgb(235,235,235)" stroke-opacity="0.55" stroke-width="0.7" stroke-linejoin="round"/>
<line x1="487.1" y1="142.7" x2="488.3" y2="145.9" stroke="rgb(235,235,235)" stroke-opacity="0.5" stroke-width="0.6"/>
<polygon points="395.7,138.6 393.6,145.1 398.6,148.7 391.7,152.9 389.1,158.7 384.4,153.9 380.7,148.3 381.2,145.1 387.6,141.2" fill="rgb(174,174,174)" fill-opacity="0.70" stroke="rgb(233,233,233)" stroke-opacity="0.55" stroke-width="0.7" stroke-linejoin="round"/>
<line x1="398.6" y1="148.7" x2="394.4" y2="148.6" stroke="rgb(233,233,233)" stroke-opacity="0.5" stroke-width="0.6"/>
<line x1="387.6" y1="141.2" x2="389.4" y2="146.7" stroke="rgb(233,233,233)" stroke-opacity="0.5" stroke-width="0.6"/>
<polygon points="466.2,164.5 462.5,158.8 461.6,156.2 464.6,151.9 468.6,152.0 470.2,152.2 472.1,155.1 474.3,160.1 471.4,165.7" fill="rgb(87,87,87)" fill-opacity="0.77" stroke="rgb(159,159,159)" stroke-opacity="0.55" stroke-width="0.7" stroke-linejoin="round"/>
<line x1="471.4" y1="165.7" x2="468.8" y2="158.0" stroke="rgb(159,159,159)" stroke-opacity="0.5" stroke-width="0.6"/>
<polygon points="473.4,187.6 473.4,189.2 471.6,189.2 467.6,189.5 469.0,188.2 469.1,186.3 471.0,187.0 473.2,185.7" fill="rgb(82,82,82)" fill-opacity="0.78" stroke="rgb(166,166,166)" stroke-opacity="0.55" stroke-width="0.7" stroke-linejoin="round"/>
<line x1="467.6" y1="189.5" x2="469.2" y2="188.8" stroke="rgb(166,166,166)" stroke-opacity="0.5" stroke-width="0.6"/>
<line x1="471.6" y1="189.2" x2="471.3" y2="188.6" stroke="rgb(166,166,166)" stroke-opacity="0.5" stroke-width="0.6"/>
<polygon points="366.5,109.5 366.1,110.2 364.7,110.6 363.4,111.0 360.8,112.5 361.0,110.8 360.6,110.7 359.9,109.6 362.7,108.8 364.4,108.6 365.6,108.8" fill="rgb(111,111,111)" fill-opacity="0.86" stroke="rgb(174,174,174)" stroke-opacity="0.55" stroke-width="0.7" stroke-linejoin="round"/>
<line x1="363.4" y1="111.0" x2="363.4" y2="110.3" stroke="rgb(174,174,174)" stroke-opacity="0.5" stroke-width="0.6"/>
<polygon points="410.5,113.0 413.7,112.1 413.1,115.1 411.9,118.2 410.1,119.9 408.2,119.6 406.6,120.6 402.8,120.9 402.8,114.8 406.5,114.9 408.0,111.5" fill="rgb(95,95,95)" fill-opacity="0.89" stroke="rgb(139,139,139)" stroke-opacity="0.55" stroke-width="0.7" stroke-linejoin="round"/>
<line x1="410.5" y1="113.0" x2="409.1" y2="116.0" stroke="rgb(139,139,139)" stroke-opacity="0.5" stroke-width="0.6"/>
<polygon points="404.4,107.3 404.7,106.7 406.3,107.7 408.0,108.4 407.2,109.2 408.0,111.0 406.9,111.4 404.5,109.6 404.3,108.2" fill="rgb(78,78,78)" fill-opacity="0.77" stroke="rgb(129,129,129)" stroke-opacity="0.55" stroke-width="0.7" stroke-linejoin="round"/>
<line x1="404.3" y1="108.2" x2="405.5" y2="108.6" stroke="rgb(129,129,129)" stroke-opacity="0.5" stroke-width="0.6"/>
<line x1="404.4" y1="107.3" x2="405.3" y2="108.1" stroke="rgb(129,129,129)" stroke-opacity="0.5" stroke-width="0.6"/>
<line x1="404.4" y1="107.3" x2="405.2" y2="107.9" stroke="rgb(129,129,129)" stroke-opacity="0.5" stroke-width="0.6"/>
<polygon points="472.8,187.8 474.7,187.0 477.0,189.2 480.6,194.8 480.3,197.5 476.9,196.4 474.5,194.2 473.2,192.5 469.1,186.8" fill="rgb(172,172,172)" fill-opacity="0.65" stroke="rgb(228,228,228)" stroke-opacity="0.55" stroke-width="0.7" stroke-linejoin="round"/>
<line x1="474.7" y1="187.0" x2="474.7" y2="190.2" stroke="rgb(228,228,228)" stroke-opacity="0.5" stroke-width="0.6"/>
<line x1="477.0" y1="189.2" x2="475.6" y2="190.9" stroke="rgb(228,228,228)" stroke-opacity="0.5" stroke-width="0.6"/>
<polygon points="514.2,95.1 515.5,98.2 515.1,100.0 508.9,97.4 501.7,98.3 501.9,95.9 505.2,92.1 508.5,91.8 514.3,89.6 513.8,93.9" fill="rgb(85,85,85)" fill-opacity="0.85" stroke="rgb(138,138,138)" stroke-opacity="0.55" stroke-width="0.7" stroke-linejoin="round"/>
<line x1="514.2" y1="95.1" x2="511.5" y2="95.0" stroke="rgb(138,138,138)" stroke-opacity="0.5" stroke-width="0.6"/>
<polygon points="391.0,88.2 391.9,82.3 393.8,78.1 397.7,79.8 399.3,79.2 404.3,78.7 407.0,84.7 405.4,89.0 400.8,90.6 398.5,89.1 395.6,86.6" fill="rgb(86,86,86)" fill-opacity="0.73" stroke="rgb(141,141,141)" stroke-opacity="0.55" stroke-width="0.7" stroke-linejoin="round"/>
<line x1="391.0" y1="88.2" x2="395.0" y2="85.6" stroke="rgb(141,141,141)" stroke-opacity="0.5" stroke-width="0.6"/>
<polygon points="409.6,184.2 409.3,187.5 409.1,188.7 406.5,192.7 402.6,193.3 403.2,188.5 400.9,186.9 403.9,184.7 403.5,181.4 408.3,184.0" fill="rgb(184,184,184)" fill-opacity="0.64" stroke="rgb(235,235,235)" stroke-opacity="0.55" stroke-width="0.7" stroke-linejoin="round"/>
<line x1="403.5" y1="181.4" x2="405.1" y2="185.2" stroke="rgb(235,235,235)" stroke-opacity="0.5" stroke-width="0.6"/>
<polygon points="498.4,136.6 498.9,138.0 497.2,143.1 496.3,145.3 492.4,146.9 492.3,143.4 489.9,142.6 490.0,138.9 494.6,135.4" fill="rgb(66,66,66)" fill-opacity="0.68" stroke="rgb(146,146,146)" stroke-opacity="0.55" stroke-width="0.7" stroke-linejoin="round"/>
<line x1="492.3" y1="143.4" x2="493.3" y2="142.5" stroke="rgb(146,146,146)" stroke-opacity="0.5" stroke-width="0.6"/>
<line x1="498.4" y1="136.6" x2="495.0" y2="140.6" stroke="rgb(146,146,146)" stroke-opacity="0.5" stroke-width="0.6"/>
<line x1="494.6" y1="135.4" x2="494.2" y2="140.3" stroke="rgb(146,146,146)" stroke-opacity="0.5" stroke-width="0.6"/>
<polygon points="416.3,180.7 419.4,181.9 416.1,184.4 412.1,185.5 408.4,183.8 408.0,181.2 410.8,179.7 414.4,179.4" fill="rgb(124,124,124)" fill-opacity="0.92" stroke="rgb(208,208,208)" stroke-opacity="0.55" stroke-width="0.7" stroke-linejoin="round"/>
<line x1="419.4" y1="181.9" x2="415.6" y2="181.9" stroke="rgb(208,208,208)" stroke-opacity="0.5" stroke-width="0.6"/>
<line x1="414.4" y1="179.4" x2="413.9" y2="180.4" stroke="rgb(208,208,208)" stroke-opacity="0.5" stroke-width="0.6"/>
<polygon points="502.8,136.7 504.3,141.8 505.8,143.6 504.0,148.9 501.3,147.9 498.1,150.6 497.5,143.7 499.2,142.4" fill="rgb(88,88,88)" fill-opacity="0.76" stroke="rgb(153,153,153)" stroke-opacity="0.55" stroke-width="0.7" stroke-linejoin="round"/>
<line x1="498.1" y1="150.6" x2="500.5" y2="146.3" stroke="rgb(153,153,153)" stroke-opacity="0.5" stroke-width="0.6"/>
<line x1="498.1" y1="150.6" x2="499.5" y2="148.1" stroke="rgb(153,153,153)" stroke-opacity="0.5" stroke-width="0.6"/>
<line x1="502.8" y1="136.7" x2="501.8" y2="141.9" stroke="rgb(153,153,153)" stroke-opacity="0.5" stroke-width="0.6"/>
<polygon points="456.9,188.6 454.0,188.0 450.8,182.5 454.0,177.2 457.2,181.6 458.7,182.8 461.7,186.5" fill="rgb(102,102,102)" fill-opacity="0.68" stroke="rgb(184,184,184)" stroke-opacity="0.55" stroke-width="0.7" stroke-linejoin="round"/>
<line x1="461.7" y1="186.5" x2="459.4" y2="185.5" stroke="rgb(184,184,184)" stroke-opacity="0.5" stroke-width="0.6"/>
<polygon points="339.6,147.1 339.2,143.2 344.1,140.2 345.3,145.9 348.4,147.9 351.5,153.1 345.5,152.0 344.7,156.1 339.0,154.3 337.4,148.3" fill="rgb(90,90,90)" fill-opacity="0.77" stroke="rgb(143,143,143)" stroke-opacity="0.55" stroke-width="0.7" stroke-linejoin="round"/>
<line x1="339.6" y1="147.1" x2="342.2" y2="147.9" stroke="rgb(143,143,143)" stroke-opacity="0.5" stroke-width="0.6"/>
<line x1="339.0" y1="154.3" x2="341.3" y2="150.7" stroke="rgb(143,143,143)" stroke-opacity="0.5" stroke-width="0.6"/>
<polygon points="534.5,108.8 531.6,111.4 531.9,113.6 528.9,113.8 523.9,113.7 526.3,110.7 529.4,108.8 530.9,109.3" fill="rgb(57,57,57)" fill-opacity="0.89" stroke="rgb(98,98,98)" stroke-opacity="0.55" stroke-width="0.7" stroke-linejoin="round"/>
<line x1="534.5" y1="108.8" x2="531.7" y2="110.2" stroke="rgb(98,98,98)" stroke-opacity="0.5" stroke-width="0.6"/>
<line x1="531.6" y1="111.4" x2="530.5" y2="111.2" stroke="rgb(98,98,98)" stroke-opacity="0.5" stroke-width="0.6"/>
<polygon points="513.8,175.1 512.2,174.9 511.7,173.0 513.4,171.3 514.6,169.1 516.3,171.6 517.0,171.7 518.0,174.1 518.8,176.9 516.0,176.4 514.2,177.1" fill="rgb(178,178,178)" fill-opacity="0.92" stroke="rgb(235,235,235)" stroke-opacity="0.55" stroke-width="0.7" stroke-linejoin="round"/>
<line x1="511.7" y1="173.0" x2="513.3" y2="173.3" stroke="rgb(235,235,235)" stroke-opacity="0.5" stroke-width="0.6"/>
<line x1="513.4" y1="171.3" x2="514.5" y2="172.8" stroke="rgb(235,235,235)" stroke-opacity="0.5" stroke-width="0.6"/>
<line x1="514.2" y1="177.1" x2="514.7" y2="175.2" stroke="rgb(235,235,235)" stroke-opacity="0.5" stroke-width="0.6"/>
<polygon points="529.3,161.8 528.7,163.8 526.6,163.6 525.9,163.8 524.7,164.5 522.4,164.5 524.2,162.8 523.2,161.9 525.0,161.2 526.3,161.0 527.8,161.2" fill="rgb(62,62,62)" fill-opacity="0.67" stroke="rgb(136,136,136)" stroke-opacity="0.55" stroke-width="0.7" stroke-linejoin="round"/>
<line x1="526.3" y1="161.0" x2="525.9" y2="162.3" stroke="rgb(136,136,136)" stroke-opacity="0.5" stroke-width="0.6"/>
<line x1="525.0" y1="161.2" x2="525.3" y2="161.8" stroke="rgb(136,136,136)" stroke-opacity="0.5" stroke-width="0.6"/>
<polygon points="489.2,134.5 491.8,135.4 495.9,134.8 496.4,138.3 495.9,141.4 492.4,143.2 487.3,138.4" fill="rgb(54,54,54)" fill-opacity="0.73" stroke="rgb(141,141,141)" stroke-opacity="0.55" stroke-width="0.7" stroke-linejoin="round"/>
<line x1="495.9" y1="141.4" x2="494.2" y2="139.2" stroke="rgb(141,141,141)" stroke-opacity="0.5" stroke-width="0.6"/>
<line x1="492.4" y1="143.2" x2="492.6" y2="140.7" stroke="rgb(141,141,141)" stroke-opacity="0.5" stroke-width="0.6"/>
<line x1="491.8" y1="135.4" x2="492.5" y2="136.6" stroke="rgb(141,141,141)" stroke-opacity="0.5" stroke-width="0.6"/>
<polygon points="424.9,149.7 425.7,149.7 426.3,151.6 426.0,153.5 424.9,153.7 423.7,154.9 423.1,152.5 421.6,151.9 421.6,151.0 422.5,149.4 424.0,148.7" fill="rgb(128,128,128)" fill-opacity="0.91" stroke="rgb(198,198,198)" stroke-opacity="0.55" stroke-width="0.7" stroke-linejoin="round"/>
<line x1="423.1" y1="152.5" x2="423.9" y2="151.6" stroke="rgb(198,198,198)" stroke-opacity="0.5" stroke-width="0.6"/>
<line x1="424.0" y1="148.7" x2="424.1" y2="150.8" stroke="rgb(198,198,198)" stroke-opacity="0.5" stroke-width="0.6"/>
<polygon points="449.9,156.5 446.8,158.7 444.1,154.0 445.2,150.7 446.7,148.6 450.1,149.9 452.8,156.6" fill="rgb(66,66,66)" fill-opacity="0.83" stroke="rgb(139,139,139)" stroke-opacity="0.55" stroke-width="0.7" stroke-linejoin="round"/>
<line x1="450.1" y1="149.9" x2="448.4" y2="152.7" stroke="rgb(139,139,139)" stroke-opacity="0.5" stroke-width="0.6"/>
<polygon points="466.9,94.4 468.8,92.8 468.5,95.3 467.6,97.1 467.3,98.6 466.2,97.9 464.7,100.5 463.7,97.9 464.0,95.5 464.5,95.1 466.0,93.0" fill="rgb(90,90,90)" fill-opacity="0.72" stroke="rgb(138,138,138)" stroke-opacity="0.55" stroke-width="0.7" stroke-linejoin="round"/>
<line x1="463.7" y1="97.9" x2="465.4" y2="96.8" stroke="rgb(138,138,138)" stroke-opacity="0.5" stroke-width="0.6"/>
<line x1="466.9" y1="94.4" x2="466.3" y2="95.8" stroke="rgb(138,138,138)" stroke-opacity="0.5" stroke-width="0.6"/>
<line x1="467.3" y1="98.6" x2="466.4" y2="96.9" stroke="rgb(138,138,138)" stroke-opacity="0.5" stroke-width="0.6"/>
<polygon points="483.6,60.6 480.1,57.6 480.1,55.1 480.3,52.8 480.9,47.2 483.4,51.5 485.5,52.8 486.1,53.9 485.0,56.5" fill="rgb(81,81,81)" fill-opacity="0.76" stroke="rgb(134,134,134)" stroke-opacity="0.55" stroke-width="0.7" stroke-linejoin="round"/>
<line x1="480.1" y1="57.6" x2="482.1" y2="55.2" stroke="rgb(134,134,134)" stroke-opacity="0.5" stroke-width="0.6"/>
<line x1="485.5" y1="52.8" x2="484.5" y2="53.3" stroke="rgb(134,134,134)" stroke-opacity="0.5" stroke-width="0.6"/>
<line x1="480.1" y1="55.1" x2="482.4" y2="54.3" stroke="rgb(134,134,134)" stroke-opacity="0.5" stroke-width="0.6"/>
<polygon points="526.1,89.0 522.5,91.4 519.8,93.8 517.3,91.1 515.0,92.5 514.3,90.4 513.0,89.0 516.4,87.9 515.7,86.0 519.2,87.9 522.9,87.1" fill="rgb(78,78,78)" fill-opacity="0.73" stroke="rgb(146,146,146)" stroke-opacity="0.55" stroke-width="0.7" stroke-linejoin="round"/>
<line x1="517.3" y1="91.1" x2="517.9" y2="90.1" stroke="rgb(146,146,146)" stroke-opacity="0.5" stroke-width="0.6"/>
<polygon points="457.4,78.8 458.9,82.8 455.4,86.8 451.6,92.6 449.3,88.1 443.1,90.8 444.1,87.0 441.5,81.8 446.7,80.4 450.1,81.1 452.4,81.2" fill="rgb(140,140,140)" fill-opacity="0.61" stroke="rgb(186,186,186)" stroke-opacity="0.55" stroke-width="0.7" stroke-linejoin="round"/>
<line x1="451.6" y1="92.6" x2="450.6" y2="87.4" stroke="rgb(186,186,186)" stroke-opacity="0.5" stroke-width="0.6"/>
<polygon points="540.9,59.5 537.7,58.1 534.3,56.5 533.4,53.1 533.6,50.9 537.6,52.1 538.7,51.0 542.3,52.3 540.5,56.1" fill="rgb(52,52,52)" fill-opacity="0.91" stroke="rgb(96,96,96)" stroke-opacity="0.55" stroke-width="0.7" stroke-linejoin="round"/>
<line x1="540.9" y1="59.5" x2="539.4" y2="56.9" stroke="rgb(96,96,96)" stroke-opacity="0.5" stroke-width="0.6"/>
<polygon points="528.5,81.6 525.3,80.6 524.0,78.8 526.7,76.0 526.7,72.7 528.8,74.3 529.8,75.6 530.5,76.0 533.2,78.1 530.8,79.3" fill="rgb(136,136,136)" fill-opacity="0.75" stroke="rgb(179,179,179)" stroke-opacity="0.55" stroke-width="0.7" stroke-linejoin="round"/>
<line x1="533.2" y1="78.1" x2="531.0" y2="77.4" stroke="rgb(179,179,179)" stroke-opacity="0.5" stroke-width="0.6"/>
<line x1="530.5" y1="76.0" x2="529.3" y2="76.5" stroke="rgb(179,179,179)" stroke-opacity="0.5" stroke-width="0.6"/>
<line x1="526.7" y1="72.7" x2="527.6" y2="74.5" stroke="rgb(179,179,179)" stroke-opacity="0.5" stroke-width="0.6"/>
<polygon points="526.7,156.3 529.0,157.9 527.3,160.6 526.5,162.3 524.2,161.1 524.0,158.7 523.5,155.7" fill="rgb(142,142,142)" fill-opacity="0.78" stroke="rgb(189,189,189)" stroke-opacity="0.55" stroke-width="0.7" stroke-linejoin="round"/>
<line x1="524.2" y1="161.1" x2="525.1" y2="159.9" stroke="rgb(189,189,189)" stroke-opacity="0.5" stroke-width="0.6"/>
<line x1="524.0" y1="158.7" x2="525.2" y2="159.0" stroke="rgb(189,189,189)" stroke-opacity="0.5" stroke-width="0.6"/>
<polygon points="352.4,124.6 351.4,126.6 350.3,129.1 348.7,130.3 347.1,129.0 347.4,127.2 348.4,126.4 349.9,123.7" fill="rgb(77,77,77)" fill-opacity="0.87" stroke="rgb(126,126,126)" stroke-opacity="0.55" stroke-width="0.7" stroke-linejoin="round"/>
<line x1="348.4" y1="126.4" x2="348.8" y2="126.7" stroke="rgb(126,126,126)" stroke-opacity="0.5" stroke-width="0.6"/>
<polygon points="509.3,66.6 505.6,67.3 504.9,67.5 501.5,69.1 503.1,66.6 502.1,65.4 501.6,63.4 504.2,64.7 505.9,63.1 506.8,65.0" fill="rgb(136,136,136)" fill-opacity="0.74" stroke="rgb(185,185,185)" stroke-opacity="0.55" stroke-width="0.7" stroke-linejoin="round"/>
<line x1="506.8" y1="65.0" x2="505.3" y2="65.8" stroke="rgb(185,185,185)" stroke-opacity="0.5" stroke-width="0.6"/>
<line x1="501.5" y1="69.1" x2="503.5" y2="67.3" stroke="rgb(185,185,185)" stroke-opacity="0.5" stroke-width="0.6"/>
<line x1="504.2" y1="64.7" x2="504.4" y2="65.8" stroke="rgb(185,185,185)" stroke-opacity="0.5" stroke-width="0.6"/>
<polygon points="449.3,115.4 447.9,111.1 448.6,109.6 451.5,108.5 452.4,110.1 453.4,112.6 451.4,114.7" fill="rgb(152,152,152)" fill-opacity="0.79" stroke="rgb(235,235,235)" stroke-opacity="0.55" stroke-width="0.7" stroke-linejoin="round"/>
<line x1="451.4" y1="114.7" x2="451.2" y2="112.9" stroke="rgb(235,235,235)" stroke-opacity="0.5" stroke-width="0.6"/>
<line x1="451.5" y1="108.5" x2="451.3" y2="109.8" stroke="rgb(235,235,235)" stroke-opacity="0.5" stroke-width="0.6"/>
<polygon points="504.3,104.0 506.9,104.3 511.0,106.8 510.2,108.7 509.8,109.8 507.5,111.5 503.8,108.1" fill="rgb(180,180,180)" fill-opacity="0.85" stroke="rgb(226,226,226)" stroke-opacity="0.55" stroke-width="0.7" stroke-linejoin="round"/>
<line x1="510.2" y1="108.7" x2="509.3" y2="108.3" stroke="rgb(226,226,226)" stroke-opacity="0.5" stroke-width="0.6"/>
<line x1="511.0" y1="106.8" x2="509.8" y2="107.4" stroke="rgb(226,226,226)" stroke-opacity="0.5" stroke-width="0.6"/>
<polygon points="502.8,195.2 499.8,195.3 499.3,192.3 499.1,188.7 497.1,182.7 501.6,181.3 503.8,186.5 507.6,191.9 505.7,193.2" fill="rgb(179,179,179)" fill-opacity="0.84" stroke="rgb(235,235,235)" stroke-opacity="0.55" stroke-width="0.7" stroke-linejoin="round"/>
<line x1="501.6" y1="181.3" x2="501.7" y2="186.9" stroke="rgb(235,235,235)" stroke-opacity="0.5" stroke-width="0.6"/>
<polygon points="364.3,120.5 366.8,123.0 361.8,126.6 356.4,128.8 352.3,126.6 357.5,122.5 359.2,120.7 361.1,118.6" fill="rgb(95,95,95)" fill-opacity="0.65" stroke="rgb(136,136,136)" stroke-opacity="0.55" stroke-width="0.7" stroke-linejoin="round"/>
<line x1="359.2" y1="120.7" x2="359.4" y2="121.7" stroke="rgb(136,136,136)" stroke-opacity="0.5" stroke-width="0.6"/>
<line x1="356.4" y1="128.8" x2="358.4" y2="125.3" stroke="rgb(136,136,136)" stroke-opacity="0.5" stroke-width="0.6"/>
<line x1="366.8" y1="123.0" x2="362.5" y2="123.0" stroke="rgb(136,136,136)" stroke-opacity="0.5" stroke-width="0.6"/>
<polygon points="456.6,115.9 455.4,117.3 451.1,117.3 444.7,115.2 445.3,112.4 452.7,109.0 455.1,112.9" fill="rgb(149,149,149)" fill-opacity="0.66" stroke="rgb(235,235,235)" stroke-opacity="0.55" stroke-width="0.7" stroke-linejoin="round"/>
<line x1="445.3" y1="112.4" x2="450.6" y2="114.1" stroke="rgb(235,235,235)" stroke-opacity="0.5" stroke-width="0.6"/>
<line x1="452.7" y1="109.0" x2="452.4" y2="112.0" stroke="rgb(235,235,235)" stroke-opacity="0.5" stroke-width="0.6"/>
<polygon points="361.7,84.4 361.2,86.7 360.3,86.8 355.2,86.8 352.5,84.5 356.3,82.2 355.7,77.7 360.2,77.2 362.1,78.3 364.4,81.1" fill="rgb(114,114,114)" fill-opacity="0.73" stroke="rgb(164,164,164)" stroke-opacity="0.55" stroke-width="0.7" stroke-linejoin="round"/>
<line x1="352.5" y1="84.5" x2="356.1" y2="83.9" stroke="rgb(164,164,164)" stroke-opacity="0.5" stroke-width="0.6"/>
<line x1="362.1" y1="78.3" x2="360.7" y2="81.0" stroke="rgb(164,164,164)" stroke-opacity="0.5" stroke-width="0.6"/>
<line x1="356.3" y1="82.2" x2="358.2" y2="82.9" stroke="rgb(164,164,164)" stroke-opacity="0.5" stroke-width="0.6"/>
<polygon points="466.3,160.3 470.5,154.3 476.5,151.2 484.3,154.0 484.2,158.9 478.4,163.5 473.3,167.3" fill="rgb(70,70,70)" fill-opacity="0.63" stroke="rgb(130,130,130)" stroke-opacity="0.55" stroke-width="0.7" stroke-linejoin="round"/>
<line x1="476.5" y1="151.2" x2="476.2" y2="155.7" stroke="rgb(130,130,130)" stroke-opacity="0.5" stroke-width="0.6"/>
<line x1="466.3" y1="160.3" x2="472.6" y2="158.9" stroke="rgb(130,130,130)" stroke-opacity="0.5" stroke-width="0.6"/>
<polygon points="414.9,106.9 413.5,108.1 412.4,109.5 411.0,107.3 409.1,105.4 411.5,105.4 412.9,105.4 415.5,105.0" fill="rgb(55,55,55)" fill-opacity="0.84" stroke="rgb(97,97,97)" stroke-opacity="0.55" stroke-width="0.7" stroke-linejoin="round"/>
<line x1="414.9" y1="106.9" x2="413.3" y2="106.6" stroke="rgb(97,97,97)" stroke-opacity="0.5" stroke-width="0.6"/>
<polygon points="414.9,103.1 414.8,101.7 414.8,101.5 414.5,99.7 416.0,99.2 416.8,100.0 418.6,99.1 419.2,101.0 418.0,103.4 416.7,103.5 415.3,104.7" fill="rgb(100,100,100)" fill-opacity="0.85" stroke="rgb(165,165,165)" stroke-opacity="0.55" stroke-width="0.7" stroke-linejoin="round"/>
<line x1="415.3" y1="104.7" x2="415.7" y2="103.1" stroke="rgb(165,165,165)" stroke-opacity="0.5" stroke-width="0.6"/>
<line x1="415.3" y1="104.7" x2="415.6" y2="103.3" stroke="rgb(165,165,165)" stroke-opacity="0.5" stroke-width="0.6"/>
<line x1="414.5" y1="99.7" x2="415.7" y2="100.9" stroke="rgb(165,165,165)" stroke-opacity="0.5" stroke-width="0.6"/>
<polygon points="379.7,167.2 378.3,171.3 377.3,174.9 374.9,174.6 372.4,173.4 374.3,170.2 376.3,168.9" fill="rgb(171,171,171)" fill-opacity="0.65" stroke="rgb(235,235,235)" stroke-opacity="0.55" stroke-width="0.7" stroke-linejoin="round"/>
<line x1="374.9" y1="174.6" x2="375.7" y2="172.7" stroke="rgb(235,235,235)" stroke-opacity="0.5" stroke-width="0.6"/>
<polygon points="364.6,98.9 363.4,94.8 369.3,96.1 373.0,89.5 378.6,94.6 378.2,99.0 381.1,103.7 373.4,106.3 370.5,103.1 362.2,103.0" fill="rgb(144,144,144)" fill-opacity="0.62" stroke="rgb(210,210,210)" stroke-opacity="0.55" stroke-width="0.7" stroke-linejoin="round"/>
<line x1="373.0" y1="89.5" x2="371.8" y2="96.7" stroke="rgb(210,210,210)" stroke-opacity="0.5" stroke-width="0.6"/>
<line x1="378.2" y1="99.0" x2="373.1" y2="98.6" stroke="rgb(210,210,210)" stroke-opacity="0.5" stroke-width="0.6"/>
<line x1="373.0" y1="89.5" x2="371.8" y2="96.6" stroke="rgb(210,210,210)" stroke-opacity="0.5" stroke-width="0.6"/>
<polygon points="373.6,177.7 370.3,176.6 363.2,174.7 370.0,171.8 370.8,165.2 376.6,172.0 379.9,178.3" fill="rgb(77,77,77)" fill-opacity="0.63" stroke="rgb(117,117,117)" stroke-opacity="0.55" stroke-width="0.7" stroke-linejoin="round"/>
<line x1="363.2" y1="174.7" x2="369.3" y2="174.2" stroke="rgb(117,117,117)" stroke-opacity="0.5" stroke-width="0.6"/>
<line x1="370.3" y1="176.6" x2="371.2" y2="175.4" stroke="rgb(117,117,117)" stroke-opacity="0.5" stroke-width="0.6"/>
<line x1="370.3" y1="176.6" x2="371.8" y2="174.6" stroke="rgb(117,117,117)" stroke-opacity="0.5" stroke-width="0.6"/>
<polygon points="538.7,67.2 542.0,69.1 543.6,75.0 544.5,80.7 543.3,81.3 539.4,84.4 536.4,78.8 537.2,74.3 539.4,73.7" fill="rgb(119,119,119)" fill-opacity="0.77" stroke="rgb(207,207,207)" stroke-opacity="0.55" stroke-width="0.7" stroke-linejoin="round"/>
<line x1="538.7" y1="67.2" x2="539.8" y2="71.8" stroke="rgb(207,207,207)" stroke-opacity="0.5" stroke-width="0.6"/>
<line x1="544.5" y1="80.7" x2="541.6" y2="77.0" stroke="rgb(207,207,207)" stroke-opacity="0.5" stroke-width="0.6"/>
<polygon points="401.4,168.5 401.5,170.9 401.4,171.7 400.5,172.6 399.3,172.9 399.1,172.5 397.3,171.9 398.5,169.8 400.3,168.6" fill="rgb(69,69,69)" fill-opacity="0.94" stroke="rgb(122,122,122)" stroke-opacity="0.55" stroke-width="0.7" stroke-linejoin="round"/>
<line x1="401.4" y1="171.7" x2="400.3" y2="171.7" stroke="rgb(122,122,122)" stroke-opacity="0.5" stroke-width="0.6"/>
<line x1="400.5" y1="172.6" x2="400.0" y2="171.9" stroke="rgb(122,122,122)" stroke-opacity="0.5" stroke-width="0.6"/>
<line x1="400.3" y1="168.6" x2="400.0" y2="170.2" stroke="rgb(122,122,122)" stroke-opacity="0.5" stroke-width="0.6"/>
<polygon points="539.3,84.6 537.6,82.5 541.2,83.1 546.0,83.2 544.3,85.4 541.4,85.8 539.7,85.5" fill="rgb(131,131,131)" fill-opacity="0.68" stroke="rgb(217,217,217)" stroke-opacity="0.55" stroke-width="0.7" stroke-linejoin="round"/>
<line x1="546.0" y1="83.2" x2="544.0" y2="83.8" stroke="rgb(217,217,217)" stroke-opacity="0.5" stroke-width="0.6"/>
<polygon points="388.7,68.6 385.7,69.9 386.7,65.8 386.2,60.5 389.5,63.3 392.9,60.6 392.1,63.1 393.5,66.5 394.8,69.0 390.6,68.3" fill="rgb(118,118,118)" fill-opacity="0.95" stroke="rgb(203,203,203)" stroke-opacity="0.55" stroke-width="0.7" stroke-linejoin="round"/>
<line x1="388.7" y1="68.6" x2="389.4" y2="66.6" stroke="rgb(203,203,203)" stroke-opacity="0.5" stroke-width="0.6"/>
<line x1="392.1" y1="63.1" x2="390.4" y2="64.9" stroke="rgb(203,203,203)" stroke-opacity="0.5" stroke-width="0.6"/>
<line x1="388.7" y1="68.6" x2="389.1" y2="67.4" stroke="rgb(203,203,203)" stroke-opacity="0.5" stroke-width="0.6"/>
<polygon points="361.1,139.1 364.8,142.9 364.7,150.0 358.5,149.7 354.3,148.0 352.3,145.8 356.5,142.4" fill="rgb(142,142,142)" fill-opacity="0.85" stroke="rgb(211,211,211)" stroke-opacity="0.55" stroke-width="0.7" stroke-linejoin="round"/>
<line x1="361.1" y1="139.1" x2="359.9" y2="142.1" stroke="rgb(211,211,211)" stroke-opacity="0.5" stroke-width="0.6"/>
<polygon points="519.3,96.8 517.9,96.2 515.2,93.9 517.2,92.3 517.9,91.9 519.0,91.3 520.7,93.0 521.0,96.3" fill="rgb(166,166,166)" fill-opacity="0.63" stroke="rgb(213,213,213)" stroke-opacity="0.55" stroke-width="0.7" stroke-linejoin="round"/>
<line x1="517.2" y1="92.3" x2="517.9" y2="93.5" stroke="rgb(213,213,213)" stroke-opacity="0.5" stroke-width="0.6"/>
<polygon points="367.1,99.2 365.9,98.0 364.9,97.2 363.4,95.9 364.7,93.6 365.5,93.5 365.2,90.4 367.0,90.3 368.0,95.3 369.5,97.4 368.3,99.4" fill="rgb(144,144,144)" fill-opacity="0.68" stroke="rgb(222,222,222)" stroke-opacity="0.55" stroke-width="0.7" stroke-linejoin="round"/>
<line x1="367.1" y1="99.2" x2="366.8" y2="97.7" stroke="rgb(222,222,222)" stroke-opacity="0.5" stroke-width="0.6"/>
<line x1="365.5" y1="93.5" x2="366.0" y2="94.9" stroke="rgb(222,222,222)" stroke-opacity="0.5" stroke-width="0.6"/>
<polygon points="498.2,194.7 496.3,196.4 494.6,196.5 492.5,196.8 492.2,195.3 491.9,194.3 492.1,191.7 494.1,193.4 495.5,193.4" fill="rgb(52,52,52)" fill-opacity="0.88" stroke="rgb(93,93,93)" stroke-opacity="0.55" stroke-width="0.7" stroke-linejoin="round"/>
<line x1="495.5" y1="193.4" x2="494.6" y2="194.3" stroke="rgb(93,93,93)" stroke-opacity="0.5" stroke-width="0.6"/>
<polygon points="443.3,192.2 439.3,192.2 435.3,191.3 433.6,186.8 435.7,184.5 437.0,177.2 443.4,182.7 449.2,186.0" fill="rgb(53,53,53)" fill-opacity="0.74" stroke="rgb(112,112,112)" stroke-opacity="0.55" stroke-width="0.7" stroke-linejoin="round"/>
<line x1="435.7" y1="184.5" x2="437.7" y2="186.4" stroke="rgb(112,112,112)" stroke-opacity="0.5" stroke-width="0.6"/>
<polygon points="436.0,116.1 434.6,114.9 432.3,112.4 433.2,109.0 435.7,107.8 438.7,107.6 441.9,108.1 443.1,109.7 445.7,113.7 443.1,117.4 439.0,119.2" fill="rgb(85,85,85)" fill-opacity="0.86" stroke="rgb(156,156,156)" stroke-opacity="0.55" stroke-width="0.7" stroke-linejoin="round"/>
<line x1="435.7" y1="107.8" x2="437.4" y2="111.5" stroke="rgb(156,156,156)" stroke-opacity="0.5" stroke-width="0.6"/>
<polygon points="335.8,174.9 338.5,174.9 339.9,182.2 338.4,185.2 335.5,182.0 332.5,181.8 335.2,177.0" fill="rgb(73,73,73)" fill-opacity="0.67" stroke="rgb(124,124,124)" stroke-opacity="0.55" stroke-width="0.7" stroke-linejoin="round"/>
<line x1="332.5" y1="181.8" x2="334.7" y2="180.3" stroke="rgb(124,124,124)" stroke-opacity="0.5" stroke-width="0.6"/>
<line x1="338.4" y1="185.2" x2="336.8" y2="180.7" stroke="rgb(124,124,124)" stroke-opacity="0.5" stroke-width="0.6"/>
<line x1="338.4" y1="185.2" x2="336.8" y2="180.8" stroke="rgb(124,124,124)" stroke-opacity="0.5" stroke-width="0.6"/>
<polygon points="498.4,136.1 497.6,136.7 495.9,137.8 495.0,134.6 495.7,132.8 496.7,131.9 497.7,130.4 500.4,131.5 499.2,134.3 499.4,136.0" fill="rgb(130,130,130)" fill-opacity="0.68" stroke="rgb(204,204,204)" stroke-opacity="0.55" stroke-width="0.7" stroke-linejoin="round"/>
<line x1="496.7" y1="131.9" x2="497.4" y2="133.7" stroke="rgb(204,204,204)" stroke-opacity="0.5" stroke-width="0.6"/>
<line x1="495.7" y1="132.8" x2="496.7" y2="133.6" stroke="rgb(204,204,204)" stroke-opacity="0.5" stroke-width="0.6"/>
<polygon points="343.7,40.3 349.3,41.3 346.2,48.1 348.7,49.5 344.8,52.1 344.5,59.2 341.3,54.8 338.0,51.6 338.6,47.3 341.2,43.1" fill="rgb(143,143,143)" fill-opacity="0.71" stroke="rgb(213,213,213)" stroke-opacity="0.55" stroke-width="0.7" stroke-linejoin="round"/>
<line x1="341.3" y1="54.8" x2="342.8" y2="50.4" stroke="rgb(213,213,213)" stroke-opacity="0.5" stroke-width="0.6"/>
<line x1="348.7" y1="49.5" x2="344.8" y2="48.7" stroke="rgb(213,213,213)" stroke-opacity="0.5" stroke-width="0.6"/>
<line x1="344.8" y1="52.1" x2="344.3" y2="50.5" stroke="rgb(213,213,213)" stroke-opacity="0.5" stroke-width="0.6"/>
<polygon points="385.9,87.7 386.9,89.2 385.4,90.4 380.4,93.2 379.5,91.2 380.2,87.5 386.4,84.6" fill="rgb(83,83,83)" fill-opacity="0.71" stroke="rgb(123,123,123)" stroke-opacity="0.55" stroke-width="0.7" stroke-linejoin="round"/>
<line x1="385.4" y1="90.4" x2="384.9" y2="89.8" stroke="rgb(123,123,123)" stroke-opacity="0.5" stroke-width="0.6"/>
<polygon points="499.3,117.8 500.0,113.9 503.9,117.8 507.9,121.6 505.5,122.9 501.4,124.4 497.4,121.3" fill="rgb(95,95,95)" fill-opacity="0.92" stroke="rgb(159,159,159)" stroke-opacity="0.55" stroke-width="0.7" stroke-linejoin="round"/>
<line x1="501.4" y1="124.4" x2="502.1" y2="120.7" stroke="rgb(159,159,159)" stroke-opacity="0.5" stroke-width="0.6"/>
<line x1="507.9" y1="121.6" x2="503.9" y2="120.3" stroke="rgb(159,159,159)" stroke-opacity="0.5" stroke-width="0.6"/>
<polygon points="469.4,92.3 471.3,90.0 471.8,89.7 474.8,91.4 475.4,93.2 477.3,96.6 476.4,97.6 472.6,97.6 469.4,96.4 466.4,93.6" fill="rgb(91,91,91)" fill-opacity="0.86" stroke="rgb(133,133,133)" stroke-opacity="0.55" stroke-width="0.7" stroke-linejoin="round"/>
<line x1="475.4" y1="93.2" x2="473.6" y2="93.6" stroke="rgb(133,133,133)" stroke-opacity="0.5" stroke-width="0.6"/>
<line x1="476.4" y1="97.6" x2="474.8" y2="95.9" stroke="rgb(133,133,133)" stroke-opacity="0.5" stroke-width="0.6"/>
<polygon points="475.9,143.6 479.7,141.9 483.1,137.6 485.8,140.5 487.8,147.1 482.6,149.6 479.3,148.6 475.9,146.8" fill="rgb(136,136,136)" fill-opacity="0.67" stroke="rgb(205,205,205)" stroke-opacity="0.55" stroke-width="0.7" stroke-linejoin="round"/>
<line x1="485.8" y1="140.5" x2="482.7" y2="142.8" stroke="rgb(205,205,205)" stroke-opacity="0.5" stroke-width="0.6"/>
<line x1="482.6" y1="149.6" x2="481.7" y2="146.9" stroke="rgb(205,205,205)" stroke-opacity="0.5" stroke-width="0.6"/>
<line x1="475.9" y1="143.6" x2="478.3" y2="143.9" stroke="rgb(205,205,205)" stroke-opacity="0.5" stroke-width="0.6"/>
<polygon points="487.6,78.1 487.0,80.5 486.7,81.7 484.7,82.9 483.9,82.3 483.8,79.9 485.4,78.3" fill="rgb(79,79,79)" fill-opacity="0.94" stroke="rgb(132,132,132)" stroke-opacity="0.55" stroke-width="0.7" stroke-linejoin="round"/>
<line x1="487.0" y1="80.5" x2="486.2" y2="80.7" stroke="rgb(132,132,132)" stroke-opacity="0.5" stroke-width="0.6"/>
<line x1="485.4" y1="78.3" x2="485.6" y2="79.8" stroke="rgb(132,132,132)" stroke-opacity="0.5" stroke-width="0.6"/>
<polygon points="504.4,191.7 506.6,191.4 507.3,193.2 508.9,200.4 505.7,200.0 502.5,199.1 500.5,197.0 500.8,190.3" fill="rgb(63,63,63)" fill-opacity="0.64" stroke="rgb(112,112,112)" stroke-opacity="0.55" stroke-width="0.7" stroke-linejoin="round"/>
<line x1="504.4" y1="191.7" x2="504.4" y2="193.9" stroke="rgb(112,112,112)" stroke-opacity="0.5" stroke-width="0.6"/>
<line x1="508.9" y1="200.4" x2="506.7" y2="197.7" stroke="rgb(112,112,112)" stroke-opacity="0.5" stroke-width="0.6"/>
<line x1="507.3" y1="193.2" x2="505.4" y2="194.3" stroke="rgb(112,112,112)" stroke-opacity="0.5" stroke-width="0.6"/>
<polygon points="339.5,118.2 342.3,118.3 346.4,119.3 350.1,115.9 349.2,121.2 349.5,124.8 347.0,125.2 344.5,125.7 342.9,125.1 340.4,122.6" fill="rgb(58,58,58)" fill-opacity="0.69" stroke="rgb(127,127,127)" stroke-opacity="0.55" stroke-width="0.7" stroke-linejoin="round"/>
<line x1="350.1" y1="115.9" x2="347.9" y2="118.8" stroke="rgb(127,127,127)" stroke-opacity="0.5" stroke-width="0.6"/>
<line x1="350.1" y1="115.9" x2="347.5" y2="119.4" stroke="rgb(127,127,127)" stroke-opacity="0.5" stroke-width="0.6"/>
<polygon points="345.6,85.2 347.1,84.4 347.4,83.2 349.3,82.5 350.9,83.6 351.4,85.3 349.3,86.5 347.6,86.6 346.1,86.9" fill="rgb(185,185,185)" fill-opacity="0.88" stroke="rgb(228,228,228)" stroke-opacity="0.55" stroke-width="0.7" stroke-linejoin="round"/>
<line x1="345.6" y1="85.2" x2="347.2" y2="84.9" stroke="rgb(228,228,228)" stroke-opacity="0.5" stroke-width="0.6"/>
<line x1="347.6" y1="86.6" x2="348.0" y2="85.4" stroke="rgb(228,228,228)" stroke-opacity="0.5" stroke-width="0.6"/>
<line x1="347.6" y1="86.6" x2="348.0" y2="85.5" stroke="rgb(228,228,228)" stroke-opacity="0.5" stroke-width="0.6"/>
<polygon points="510.4,175.2 511.1,179.1 506.5,176.3 505.6,172.2 500.9,168.4 505.7,166.9 508.1,165.6 512.0,162.5 515.2,168.5 515.0,174.1" fill="rgb(57,57,57)" fill-opacity="0.70" stroke="rgb(134,134,134)" stroke-opacity="0.55" stroke-width="0.7" stroke-linejoin="round"/>
<line x1="506.5" y1="176.3" x2="507.4" y2="173.6" stroke="rgb(134,134,134)" stroke-opacity="0.5" stroke-width="0.6"/>
<line x1="515.2" y1="168.5" x2="512.3" y2="169.5" stroke="rgb(134,134,134)" stroke-opacity="0.5" stroke-width="0.6"/>
<polygon points="511.2,167.8 512.1,170.6 510.0,171.9 508.3,173.2 506.2,174.4 507.1,170.6 508.0,168.4" fill="rgb(68,68,68)" fill-opacity="0.72" stroke="rgb(123,123,123)" stroke-opacity="0.55" stroke-width="0.7" stroke-linejoin="round"/>
<line x1="512.1" y1="170.6" x2="509.8" y2="171.1" stroke="rgb(123,123,123)" stroke-opacity="0.5" stroke-width="0.6"/>
<line x1="512.1" y1="170.6" x2="510.4" y2="170.9" stroke="rgb(123,123,123)" stroke-opacity="0.5" stroke-width="0.6"/>
<polygon points="387.4,153.9 386.1,157.4 385.5,160.8 382.0,159.2 378.6,160.9 376.2,159.7 375.8,158.3 376.7,154.8 380.2,151.5 381.8,153.4 387.7,151.0" fill="rgb(108,108,108)" fill-opacity="0.82" stroke="rgb(172,172,172)" stroke-opacity="0.55" stroke-width="0.7" stroke-linejoin="round"/>
<line x1="378.6" y1="160.9" x2="379.9" y2="158.9" stroke="rgb(172,172,172)" stroke-opacity="0.5" stroke-width="0.6"/>
<line x1="385.5" y1="160.8" x2="382.4" y2="157.3" stroke="rgb(172,172,172)" stroke-opacity="0.5" stroke-width="0.6"/>
<line x1="385.5" y1="160.8" x2="382.7" y2="157.5" stroke="rgb(172,172,172)" stroke-opacity="0.5" stroke-width="0.6"/>
<polygon points="358.6,158.3 352.5,150.9 361.2,144.9 367.9,149.7 373.5,155.3 367.3,162.6 360.8,158.8" fill="rgb(62,62,62)" fill-opacity="0.94" stroke="rgb(109,109,109)" stroke-opacity="0.55" stroke-width="0.7" stroke-linejoin="round"/>
<line x1="373.5" y1="155.3" x2="368.0" y2="155.1" stroke="rgb(109,109,109)" stroke-opacity="0.5" stroke-width="0.6"/>
<polygon points="503.5,158.8 503.1,159.8 502.2,161.3 499.1,161.8 498.6,159.8 496.4,157.9 497.6,155.4 501.1,156.7 501.9,156.7 504.1,156.4" fill="rgb(70,70,70)" fill-opacity="0.73" stroke="rgb(152,152,152)" stroke-opacity="0.55" stroke-width="0.7" stroke-linejoin="round"/>
<line x1="496.4" y1="157.9" x2="499.8" y2="158.1" stroke="rgb(152,152,152)" stroke-opacity="0.5" stroke-width="0.6"/>
<line x1="501.1" y1="156.7" x2="501.1" y2="157.6" stroke="rgb(152,152,152)" stroke-opacity="0.5" stroke-width="0.6"/>
<line x1="502.2" y1="161.3" x2="501.7" y2="159.9" stroke="rgb(152,152,152)" stroke-opacity="0.5" stroke-width="0.6"/>
<polygon points="460.7,185.4 460.3,183.7 457.3,181.8 459.7,179.0 462.5,181.3 466.2,179.5 469.2,181.9 465.3,184.5 463.6,185.5 463.1,187.1 461.9,186.6" fill="rgb(168,168,168)" fill-opacity="0.72" stroke="rgb(227,227,227)" stroke-opacity="0.55" stroke-width="0.7" stroke-linejoin="round"/>
<line x1="460.7" y1="185.4" x2="462.0" y2="184.4" stroke="rgb(227,227,227)" stroke-opacity="0.5" stroke-width="0.6"/>
<line x1="457.3" y1="181.8" x2="461.2" y2="183.2" stroke="rgb(227,227,227)" stroke-opacity="0.5" stroke-width="0.6"/>
<line x1="462.5" y1="181.3" x2="462.6" y2="182.4" stroke="rgb(227,227,227)" stroke-opacity="0.5" stroke-width="0.6"/>
<polygon points="366.9,74.7 369.6,77.1 368.0,81.2 367.4,84.5 365.3,84.1 361.4,86.6 363.6,82.5 363.1,79.4 365.1,77.7" fill="rgb(72,72,72)" fill-opacity="0.69" stroke="rgb(116,116,116)" stroke-opacity="0.55" stroke-width="0.7" stroke-linejoin="round"/>
<line x1="363.1" y1="79.4" x2="364.3" y2="80.4" stroke="rgb(116,116,116)" stroke-opacity="0.5" stroke-width="0.6"/>
<polygon points="509.3,174.8 510.0,173.6 511.5,172.1 512.6,172.4 514.0,173.3 516.5,173.7 512.8,175.4 512.0,175.0 509.2,176.0" fill="rgb(124,124,124)" fill-opacity="0.70" stroke="rgb(214,214,214)" stroke-opacity="0.55" stroke-width="0.7" stroke-linejoin="round"/>
<line x1="516.5" y1="173.7" x2="514.2" y2="173.9" stroke="rgb(214,214,214)" stroke-opacity="0.5" stroke-width="0.6"/>
<line x1="511.5" y1="172.1" x2="511.8" y2="173.5" stroke="rgb(214,214,214)" stroke-opacity="0.5" stroke-width="0.6"/>
<line x1="512.8" y1="175.4" x2="512.4" y2="174.8" stroke="rgb(214,214,214)" stroke-opacity="0.5" stroke-width="0.6"/>
<polygon points="370.8,45.0 375.4,48.7 378.3,49.2 381.0,50.0 380.9,57.4 379.1,60.7 377.1,60.6 369.4,57.8 366.5,56.2 366.0,47.9" fill="rgb(169,169,169)" fill-opacity="0.93" stroke="rgb(229,229,229)" stroke-opacity="0.55" stroke-width="0.7" stroke-linejoin="round"/>
<line x1="378.3" y1="49.2" x2="376.9" y2="51.0" stroke="rgb(229,229,229)" stroke-opacity="0.5" stroke-width="0.6"/>
<polygon points="483.4,117.0 479.2,114.4 479.0,106.3 483.6,105.6 485.5,105.7 490.5,103.3 489.8,106.9 490.6,110.8 485.5,111.7" fill="rgb(95,95,95)" fill-opacity="0.81" stroke="rgb(152,152,152)" stroke-opacity="0.55" stroke-width="0.7" stroke-linejoin="round"/>
<line x1="483.6" y1="105.6" x2="484.7" y2="108.0" stroke="rgb(152,152,152)" stroke-opacity="0.5" stroke-width="0.6"/>
<polygon points="503.8,70.0 501.3,73.8 501.3,79.9 495.5,79.7 493.7,75.7 490.2,76.5 487.2,71.3 493.0,70.0 496.1,69.6 499.6,65.5" fill="rgb(168,168,168)" fill-opacity="0.68" stroke="rgb(235,235,235)" stroke-opacity="0.55" stroke-width="0.7" stroke-linejoin="round"/>
<line x1="493.7" y1="75.7" x2="494.7" y2="74.6" stroke="rgb(235,235,235)" stroke-opacity="0.5" stroke-width="0.6"/>
<line x1="493.7" y1="75.7" x2="495.2" y2="74.0" stroke="rgb(235,235,235)" stroke-opacity="0.5" stroke-width="0.6"/>
<polygon points="549.9,175.9 549.2,177.5 553.8,178.5 549.2,181.5 546.4,183.3 542.0,188.0 544.5,181.3 540.7,180.8 543.5,177.0 544.2,175.4 548.5,173.7" fill="rgb(140,140,140)" fill-opacity="0.66" stroke="rgb(204,204,204)" stroke-opacity="0.55" stroke-width="0.7" stroke-linejoin="round"/>
<line x1="553.8" y1="178.5" x2="550.7" y2="178.9" stroke="rgb(204,204,204)" stroke-opacity="0.5" stroke-width="0.6"/>
<line x1="549.2" y1="177.5" x2="548.2" y2="178.3" stroke="rgb(204,204,204)" stroke-opacity="0.5" stroke-width="0.6"/>
<line x1="546.4" y1="183.3" x2="546.7" y2="180.6" stroke="rgb(204,204,204)" stroke-opacity="0.5" stroke-width="0.6"/>
<polygon points="416.5,93.7 415.8,87.2 414.5,81.8 417.3,82.3 423.4,82.5 424.1,84.0 428.2,86.7 427.7,89.8 423.7,92.7 421.0,92.6" fill="rgb(135,135,135)" fill-opacity="0.79" stroke="rgb(192,192,192)" stroke-opacity="0.55" stroke-width="0.7" stroke-linejoin="round"/>
<line x1="428.2" y1="86.7" x2="424.4" y2="86.9" stroke="rgb(192,192,192)" stroke-opacity="0.5" stroke-width="0.6"/>
<line x1="415.8" y1="87.2" x2="420.6" y2="87.0" stroke="rgb(192,192,192)" stroke-opacity="0.5" stroke-width="0.6"/>
<line x1="423.7" y1="92.7" x2="422.2" y2="88.2" stroke="rgb(192,192,192)" stroke-opacity="0.5" stroke-width="0.6"/>
<polygon points="433.7,72.7 436.0,73.2 438.4,74.1 437.9,77.8 436.6,81.7 433.8,78.8 431.8,76.6 433.2,75.3" fill="rgb(127,127,127)" fill-opacity="0.63" stroke="rgb(176,176,176)" stroke-opacity="0.55" stroke-width="0.7" stroke-linejoin="round"/>
<line x1="433.8" y1="78.8" x2="434.3" y2="77.6" stroke="rgb(176,176,176)" stroke-opacity="0.5" stroke-width="0.6"/>
<line x1="436.6" y1="81.7" x2="435.5" y2="78.1" stroke="rgb(176,176,176)" stroke-opacity="0.5" stroke-width="0.6"/>
<line x1="438.4" y1="74.1" x2="436.7" y2="75.0" stroke="rgb(176,176,176)" stroke-opacity="0.5" stroke-width="0.6"/>
<polygon points="519.9,84.5 523.2,87.5 517.3,89.3 512.1,93.4 507.1,91.0 512.3,85.7 516.1,79.4 523.7,79.5" fill="rgb(119,119,119)" fill-opacity="0.91" stroke="rgb(190,190,190)" stroke-opacity="0.55" stroke-width="0.7" stroke-linejoin="round"/>
<line x1="512.3" y1="85.7" x2="514.3" y2="86.0" stroke="rgb(190,190,190)" stroke-opacity="0.5" stroke-width="0.6"/>
<line x1="516.1" y1="79.4" x2="516.3" y2="83.4" stroke="rgb(190,190,190)" stroke-opacity="0.5" stroke-width="0.6"/>
<polygon points="516.5,105.0 515.5,105.5 513.4,105.1 510.8,102.6 512.9,100.9 511.4,99.0 513.2,96.7 515.0,99.9 515.6,100.3 517.3,101.5 519.4,103.1" fill="rgb(66,66,66)" fill-opacity="0.82" stroke="rgb(155,155,155)" stroke-opacity="0.55" stroke-width="0.7" stroke-linejoin="round"/>
<line x1="519.4" y1="103.1" x2="515.9" y2="102.0" stroke="rgb(155,155,155)" stroke-opacity="0.5" stroke-width="0.6"/>
<polygon points="417.7,146.9 413.5,147.6 412.2,144.1 412.6,141.5 414.3,139.4 416.3,138.7 420.5,136.2 423.1,139.0 423.3,145.5 419.1,146.7" fill="rgb(105,105,105)" fill-opacity="0.92" stroke="rgb(157,157,157)" stroke-opacity="0.55" stroke-width="0.7" stroke-linejoin="round"/>
<line x1="423.1" y1="139.0" x2="419.6" y2="140.7" stroke="rgb(157,157,157)" stroke-opacity="0.5" stroke-width="0.6"/>
<line x1="414.3" y1="139.4" x2="415.7" y2="140.9" stroke="rgb(157,157,157)" stroke-opacity="0.5" stroke-width="0.6"/>
<polygon points="476.6,70.5 478.2,67.5 477.1,64.4 482.0,62.0 483.4,62.7 488.6,60.7 489.0,65.7 484.8,67.8 483.0,69.8 478.4,71.2" fill="rgb(132,132,132)" fill-opacity="0.94" stroke="rgb(193,193,193)" stroke-opacity="0.55" stroke-width="0.7" stroke-linejoin="round"/>
<line x1="477.1" y1="64.4" x2="479.4" y2="65.4" stroke="rgb(193,193,193)" stroke-opacity="0.5" stroke-width="0.6"/>
<line x1="483.0" y1="69.8" x2="482.5" y2="68.3" stroke="rgb(193,193,193)" stroke-opacity="0.5" stroke-width="0.6"/>
<polygon points="369.5,34.3 372.1,43.0 372.8,45.1 371.5,53.5 368.4,49.3 368.0,46.2 368.3,41.1" fill="rgb(83,83,83)" fill-opacity="0.65" stroke="rgb(123,123,123)" stroke-opacity="0.55" stroke-width="0.7" stroke-linejoin="round"/>
<line x1="368.3" y1="41.1" x2="369.6" y2="43.3" stroke="rgb(123,123,123)" stroke-opacity="0.5" stroke-width="0.6"/>
<polygon points="540.1,160.1 539.4,160.0 537.4,160.5 535.6,158.5 536.6,154.8 538.7,156.4 540.3,155.1 541.8,156.1 543.3,159.0 542.3,161.1" fill="rgb(163,163,163)" fill-opacity="0.63" stroke="rgb(228,228,228)" stroke-opacity="0.55" stroke-width="0.7" stroke-linejoin="round"/>
<line x1="535.6" y1="158.5" x2="538.4" y2="158.2" stroke="rgb(228,228,228)" stroke-opacity="0.5" stroke-width="0.6"/>
<line x1="540.3" y1="155.1" x2="539.8" y2="156.8" stroke="rgb(228,228,228)" stroke-opacity="0.5" stroke-width="0.6"/>
<polygon points="455.9,68.4 457.5,69.9 458.9,72.3 457.0,73.6 456.3,75.9 453.9,77.7 453.3,74.3 453.8,71.3 454.3,70.6" fill="rgb(61,61,61)" fill-opacity="0.72" stroke="rgb(149,149,149)" stroke-opacity="0.55" stroke-width="0.7" stroke-linejoin="round"/>
<line x1="453.9" y1="77.7" x2="455.0" y2="74.1" stroke="rgb(149,149,149)" stroke-opacity="0.5" stroke-width="0.6"/>
<polygon points="438.4,98.3 438.0,95.7 438.4,91.5 440.4,89.4 443.2,91.0 444.3,94.8 440.3,97.0" fill="rgb(179,179,179)" fill-opacity="0.70" stroke="rgb(230,230,230)" stroke-opacity="0.55" stroke-width="0.7" stroke-linejoin="round"/>
<line x1="443.2" y1="91.0" x2="441.6" y2="92.6" stroke="rgb(230,230,230)" stroke-opacity="0.5" stroke-width="0.6"/>
<line x1="438.4" y1="98.3" x2="439.2" y2="96.1" stroke="rgb(230,230,230)" stroke-opacity="0.5" stroke-width="0.6"/>
<polygon points="427.0,74.3 428.3,74.3 429.4,73.1 432.2,76.2 431.6,78.6 430.2,79.4 428.2,76.9 427.1,75.8 426.0,75.0" fill="rgb(125,125,125)" fill-opacity="0.72" stroke="rgb(194,194,194)" stroke-opacity="0.55" stroke-width="0.7" stroke-linejoin="round"/>
<line x1="426.0" y1="75.0" x2="427.5" y2="75.4" stroke="rgb(194,194,194)" stroke-opacity="0.5" stroke-width="0.6"/>
<polygon points="356.8,92.0 361.9,89.5 362.8,84.2 367.4,88.2 368.4,90.2 374.1,93.0 373.1,94.8 369.4,97.9 362.1,100.3 358.2,95.6" fill="rgb(149,149,149)" fill-opacity="0.78" stroke="rgb(198,198,198)" stroke-opacity="0.55" stroke-width="0.7" stroke-linejoin="round"/>
<line x1="356.8" y1="92.0" x2="362.2" y2="92.0" stroke="rgb(198,198,198)" stroke-opacity="0.5" stroke-width="0.6"/>
<line x1="358.2" y1="95.6" x2="361.3" y2="94.1" stroke="rgb(198,198,198)" stroke-opacity="0.5" stroke-width="0.6"/>
<polygon points="511.9,69.7 517.3,68.6 515.2,72.8 514.4,79.0 511.2,79.4 505.6,76.3 508.5,71.9 506.8,67.1" fill="rgb(155,155,155)" fill-opacity="0.66" stroke="rgb(217,217,217)" stroke-opacity="0.55" stroke-width="0.7" stroke-linejoin="round"/>
<line x1="506.8" y1="67.1" x2="510.3" y2="71.0" stroke="rgb(217,217,217)" stroke-opacity="0.5" stroke-width="0.6"/>
<polygon points="418.2,55.8 417.4,53.1 419.6,51.4 424.5,50.7 424.8,53.4 423.1,57.9 419.2,57.0" fill="rgb(156,156,156)" fill-opacity="0.84" stroke="rgb(235,235,235)" stroke-opacity="0.55" stroke-width="0.7" stroke-linejoin="round"/>
<line x1="424.5" y1="50.7" x2="422.4" y2="52.7" stroke="rgb(235,235,235)" stroke-opacity="0.5" stroke-width="0.6"/>
<line x1="419.2" y1="57.0" x2="419.9" y2="55.6" stroke="rgb(235,235,235)" stroke-opacity="0.5" stroke-width="0.6"/>
<line x1="419.2" y1="57.0" x2="419.8" y2="55.8" stroke="rgb(235,235,235)" stroke-opacity="0.5" stroke-width="0.6"/>
<polygon points="544.5,152.8 542.4,155.7 541.4,157.4 540.5,158.9 537.4,163.3 533.0,162.9 529.9,159.0 533.6,155.6 536.0,153.2 539.2,153.3 544.5,149.9" fill="rgb(59,59,59)" fill-opacity="0.92" stroke="rgb(137,137,137)" stroke-opacity="0.55" stroke-width="0.7" stroke-linejoin="round"/>
<line x1="540.5" y1="158.9" x2="539.8" y2="157.6" stroke="rgb(137,137,137)" stroke-opacity="0.5" stroke-width="0.6"/>
<polygon points="508.3,193.1 506.9,192.6 510.3,189.1 512.5,187.2 514.3,185.5 515.7,187.7 518.3,190.6 513.8,193.3 509.4,196.8" fill="rgb(56,56,56)" fill-opacity="0.62" stroke="rgb(145,145,145)" stroke-opacity="0.55" stroke-width="0.7" stroke-linejoin="round"/>
<line x1="514.3" y1="185.5" x2="513.3" y2="187.9" stroke="rgb(145,145,145)" stroke-opacity="0.5" stroke-width="0.6"/>
<line x1="513.8" y1="193.3" x2="512.7" y2="191.1" stroke="rgb(145,145,145)" stroke-opacity="0.5" stroke-width="0.6"/>
<line x1="512.5" y1="187.2" x2="512.4" y2="188.4" stroke="rgb(145,145,145)" stroke-opacity="0.5" stroke-width="0.6"/>
<polygon points="453.7,62.5 449.5,59.3 448.1,58.3 444.3,52.4 447.1,52.8 452.0,54.6 454.1,58.6" fill="rgb(103,103,103)" fill-opacity="0.69" stroke="rgb(190,190,190)" stroke-opacity="0.55" stroke-width="0.7" stroke-linejoin="round"/>
<line x1="444.3" y1="52.4" x2="447.6" y2="55.4" stroke="rgb(190,190,190)" stroke-opacity="0.5" stroke-width="0.6"/>
<polygon points="360.4,178.7 362.0,175.9 365.6,172.9 367.3,175.0 366.7,177.1 367.1,179.2 363.6,179.2" fill="rgb(91,91,91)" fill-opacity="0.85" stroke="rgb(153,153,153)" stroke-opacity="0.55" stroke-width="0.7" stroke-linejoin="round"/>
<line x1="362.0" y1="175.9" x2="364.1" y2="177.2" stroke="rgb(153,153,153)" stroke-opacity="0.5" stroke-width="0.6"/>
<line x1="366.7" y1="177.1" x2="365.5" y2="177.3" stroke="rgb(153,153,153)" stroke-opacity="0.5" stroke-width="0.6"/>
<line x1="362.0" y1="175.9" x2="363.2" y2="176.6" stroke="rgb(153,153,153)" stroke-opacity="0.5" stroke-width="0.6"/>
<polygon points="531.1,157.9 533.8,155.9 536.9,156.7 540.9,158.4 540.8,164.0 533.8,165.4 532.5,159.7" fill="rgb(71,71,71)" fill-opacity="0.73" stroke="rgb(112,112,112)" stroke-opacity="0.55" stroke-width="0.7" stroke-linejoin="round"/>
<line x1="533.8" y1="155.9" x2="534.8" y2="157.9" stroke="rgb(112,112,112)" stroke-opacity="0.5" stroke-width="0.6"/>
<polygon points="403.2,68.5 399.7,69.9 394.0,70.6 394.6,66.8 394.0,60.9 398.4,61.8 400.1,62.5 405.7,65.1" fill="rgb(148,148,148)" fill-opacity="0.82" stroke="rgb(235,235,235)" stroke-opacity="0.55" stroke-width="0.7" stroke-linejoin="round"/>
<line x1="405.7" y1="65.1" x2="400.2" y2="65.4" stroke="rgb(235,235,235)" stroke-opacity="0.5" stroke-width="0.6"/>
<line x1="394.0" y1="60.9" x2="396.4" y2="63.3" stroke="rgb(235,235,235)" stroke-opacity="0.5" stroke-width="0.6"/>
<line x1="403.2" y1="68.5" x2="399.8" y2="66.2" stroke="rgb(235,235,235)" stroke-opacity="0.5" stroke-width="0.6"/>
<polygon points="425.9,179.9 427.9,182.3 426.2,183.6 425.6,188.9 424.0,188.7 420.6,190.1 419.6,186.9 420.1,183.8 423.1,181.1 425.5,178.4" fill="rgb(91,91,91)" fill-opacity="0.89" stroke="rgb(176,176,176)" stroke-opacity="0.55" stroke-width="0.7" stroke-linejoin="round"/>
<line x1="423.1" y1="181.1" x2="423.7" y2="183.0" stroke="rgb(176,176,176)" stroke-opacity="0.5" stroke-width="0.6"/>
<line x1="420.1" y1="183.8" x2="422.3" y2="183.6" stroke="rgb(176,176,176)" stroke-opacity="0.5" stroke-width="0.6"/>
<line x1="420.1" y1="183.8" x2="422.1" y2="183.7" stroke="rgb(176,176,176)" stroke-opacity="0.5" stroke-width="0.6"/>
<polygon points="406.6,93.8 410.0,92.8 412.6,96.1 413.2,99.1 408.5,103.5 407.1,99.4 402.6,97.1" fill="rgb(92,92,92)" fill-opacity="0.74" stroke="rgb(169,169,169)" stroke-opacity="0.55" stroke-width="0.7" stroke-linejoin="round"/>
<line x1="407.1" y1="99.4" x2="407.8" y2="98.3" stroke="rgb(169,169,169)" stroke-opacity="0.5" stroke-width="0.6"/>
<polygon points="509.3,120.8 510.3,123.2 508.0,123.9 507.1,124.5 504.6,125.2 504.3,123.3 502.5,122.6 503.9,120.0 505.6,120.0 506.9,120.6" fill="rgb(139,139,139)" fill-opacity="0.92" stroke="rgb(198,198,198)" stroke-opacity="0.55" stroke-width="0.7" stroke-linejoin="round"/>
<line x1="503.9" y1="120.0" x2="505.3" y2="121.3" stroke="rgb(198,198,198)" stroke-opacity="0.5" stroke-width="0.6"/>
<polygon points="352.5,174.8 353.4,173.8 354.6,177.0 356.1,178.0 354.9,179.1 354.5,179.7 352.5,179.4 352.3,177.9 352.2,176.9" fill="rgb(162,162,162)" fill-opacity="0.76" stroke="rgb(235,235,235)" stroke-opacity="0.55" stroke-width="0.7" stroke-linejoin="round"/>
<line x1="354.5" y1="179.7" x2="354.1" y2="178.4" stroke="rgb(235,235,235)" stroke-opacity="0.5" stroke-width="0.6"/>
<line x1="352.3" y1="177.9" x2="353.2" y2="177.8" stroke="rgb(235,235,235)" stroke-opacity="0.5" stroke-width="0.6"/>
<line x1="352.5" y1="174.8" x2="353.1" y2="176.1" stroke="rgb(235,235,235)" stroke-opacity="0.5" stroke-width="0.6"/>
<polygon points="361.7,77.0 358.5,73.9 362.4,69.1 364.9,64.6 367.1,69.7 370.5,70.2 371.5,73.5 366.4,75.3 364.9,76.0" fill="rgb(177,177,177)" fill-opacity="0.65" stroke="rgb(235,235,235)" stroke-opacity="0.55" stroke-width="0.7" stroke-linejoin="round"/>
<line x1="366.4" y1="75.3" x2="365.9" y2="73.6" stroke="rgb(235,235,235)" stroke-opacity="0.5" stroke-width="0.6"/>
<polygon points="466.9,109.9 464.9,109.1 467.9,107.5 468.3,106.1 469.7,106.7 473.8,106.0 472.3,108.5 474.0,110.5 471.3,110.9 468.6,112.7" fill="rgb(158,158,158)" fill-opacity="0.94" stroke="rgb(235,235,235)" stroke-opacity="0.55" stroke-width="0.7" stroke-linejoin="round"/>
<line x1="473.8" y1="106.0" x2="471.4" y2="107.4" stroke="rgb(235,235,235)" stroke-opacity="0.5" stroke-width="0.6"/>
<line x1="468.3" y1="106.1" x2="469.0" y2="107.4" stroke="rgb(235,235,235)" stroke-opacity="0.5" stroke-width="0.6"/>
<polygon points="426.4,179.0 422.1,181.5 418.7,177.1 421.0,173.7 423.3,172.3 429.3,171.1 429.9,176.1" fill="rgb(173,173,173)" fill-opacity="0.89" stroke="rgb(235,235,235)" stroke-opacity="0.55" stroke-width="0.7" stroke-linejoin="round"/>
<line x1="429.3" y1="171.1" x2="426.6" y2="173.3" stroke="rgb(235,235,235)" stroke-opacity="0.5" stroke-width="0.6"/>
<line x1="421.0" y1="173.7" x2="422.4" y2="174.5" stroke="rgb(235,235,235)" stroke-opacity="0.5" stroke-width="0.6"/>
<polygon points="423.7,156.7 421.9,155.7 421.0,155.9 421.3,153.8 420.3,152.0 422.0,152.0 423.0,151.8 424.1,152.6 423.9,153.6 423.7,155.0" fill="rgb(172,172,172)" fill-opacity="0.69" stroke="rgb(235,235,235)" stroke-opacity="0.55" stroke-width="0.7" stroke-linejoin="round"/>
<line x1="420.3" y1="152.0" x2="421.3" y2="152.8" stroke="rgb(235,235,235)" stroke-opacity="0.5" stroke-width="0.6"/>
<line x1="423.7" y1="155.0" x2="423.0" y2="154.4" stroke="rgb(235,235,235)" stroke-opacity="0.5" stroke-width="0.6"/>
<polygon points="502.7,108.4 501.5,111.8 498.2,115.6 495.6,114.2 490.5,110.9 493.2,108.5 495.8,105.4 499.7,103.6 503.5,103.5" fill="rgb(83,83,83)" fill-opacity="0.70" stroke="rgb(137,137,137)" stroke-opacity="0.55" stroke-width="0.7" stroke-linejoin="round"/>
<line x1="501.5" y1="111.8" x2="499.1" y2="110.2" stroke="rgb(137,137,137)" stroke-opacity="0.5" stroke-width="0.6"/>
<polygon points="522.4,172.4 517.3,170.9 519.7,166.5 516.5,165.1 521.5,163.1 522.6,161.1 525.5,163.3 526.2,165.8 528.1,169.4 525.0,172.3" fill="rgb(180,180,180)" fill-opacity="0.76" stroke="rgb(235,235,235)" stroke-opacity="0.55" stroke-width="0.7" stroke-linejoin="round"/>
<line x1="516.5" y1="165.1" x2="521.0" y2="166.3" stroke="rgb(235,235,235)" stroke-opacity="0.5" stroke-width="0.6"/>
<line x1="522.6" y1="161.1" x2="522.6" y2="164.4" stroke="rgb(235,235,235)" stroke-opacity="0.5" stroke-width="0.6"/>
<polygon points="497.1,119.1 494.0,119.7 493.9,118.4 493.9,114.8 495.9,111.3 497.9,114.7 500.3,114.4 501.6,118.3 500.1,119.7" fill="rgb(63,63,63)" fill-opacity="0.73" stroke="rgb(115,115,115)" stroke-opacity="0.55" stroke-width="0.7" stroke-linejoin="round"/>
<line x1="493.9" y1="114.8" x2="496.6" y2="116.0" stroke="rgb(115,115,115)" stroke-opacity="0.5" stroke-width="0.6"/>
<line x1="500.1" y1="119.7" x2="498.1" y2="117.2" stroke="rgb(115,115,115)" stroke-opacity="0.5" stroke-width="0.6"/>
<polygon points="394.5,172.0 394.6,171.0 395.2,170.4 397.6,170.8 398.8,171.0 397.9,172.1 397.9,173.9 397.8,174.3 395.1,173.6 393.6,173.1" fill="rgb(164,164,164)" fill-opacity="0.74" stroke="rgb(233,233,233)" stroke-opacity="0.55" stroke-width="0.7" stroke-linejoin="round"/>
<line x1="397.6" y1="170.8" x2="396.5" y2="171.7" stroke="rgb(233,233,233)" stroke-opacity="0.5" stroke-width="0.6"/>
<line x1="394.6" y1="171.0" x2="395.3" y2="171.4" stroke="rgb(233,233,233)" stroke-opacity="0.5" stroke-width="0.6"/>
<line x1="398.8" y1="171.0" x2="397.7" y2="171.4" stroke="rgb(233,233,233)" stroke-opacity="0.5" stroke-width="0.6"/>
<polygon points="544.5,86.0 542.4,85.7 541.3,84.1 543.3,82.7 545.3,81.8 547.7,82.9 546.6,85.3" fill="rgb(86,86,86)" fill-opacity="0.91" stroke="rgb(168,168,168)" stroke-opacity="0.55" stroke-width="0.7" stroke-linejoin="round"/>
<line x1="544.5" y1="86.0" x2="544.3" y2="85.1" stroke="rgb(168,168,168)" stroke-opacity="0.5" stroke-width="0.6"/>
<line x1="542.4" y1="85.7" x2="543.7" y2="84.7" stroke="rgb(168,168,168)" stroke-opacity="0.5" stroke-width="0.6"/>
<line x1="545.3" y1="81.8" x2="544.6" y2="83.3" stroke="rgb(168,168,168)" stroke-opacity="0.5" stroke-width="0.6"/>
<polygon points="444.4,77.2 444.8,75.5 444.6,73.5 445.8,72.2 448.4,73.5 450.8,72.0 451.7,73.1 451.5,75.3 450.3,77.7 446.9,77.8 446.3,78.6" fill="rgb(125,125,125)" fill-opacity="0.68" stroke="rgb(175,175,175)" stroke-opacity="0.55" stroke-width="0.7" stroke-linejoin="round"/>
<line x1="450.3" y1="77.7" x2="448.6" y2="76.4" stroke="rgb(175,175,175)" stroke-opacity="0.5" stroke-width="0.6"/>
<line x1="445.8" y1="72.2" x2="446.7" y2="73.9" stroke="rgb(175,175,175)" stroke-opacity="0.5" stroke-width="0.6"/>
<polygon points="527.5,153.0 526.6,151.7 526.3,149.7 528.1,149.2 528.8,148.4 530.1,149.8 528.9,152.1" fill="rgb(71,71,71)" fill-opacity="0.61" stroke="rgb(134,134,134)" stroke-opacity="0.55" stroke-width="0.7" stroke-linejoin="round"/>
<line x1="526.3" y1="149.7" x2="527.0" y2="150.1" stroke="rgb(134,134,134)" stroke-opacity="0.5" stroke-width="0.6"/>
<line x1="526.3" y1="149.7" x2="527.5" y2="150.4" stroke="rgb(134,134,134)" stroke-opacity="0.5" stroke-width="0.6"/>
<line x1="530.1" y1="149.8" x2="529.0" y2="150.3" stroke="rgb(134,134,134)" stroke-opacity="0.5" stroke-width="0.6"/>
<polygon points="468.1,158.6 469.1,159.5 470.2,161.1 468.8,162.8 467.3,162.7 467.1,160.3 466.7,158.5" fill="rgb(156,156,156)" fill-opacity="0.86" stroke="rgb(215,215,215)" stroke-opacity="0.55" stroke-width="0.7" stroke-linejoin="round"/>
<line x1="468.1" y1="158.6" x2="468.1" y2="159.2" stroke="rgb(215,215,215)" stroke-opacity="0.5" stroke-width="0.6"/>
<line x1="469.1" y1="159.5" x2="468.7" y2="159.8" stroke="rgb(215,215,215)" stroke-opacity="0.5" stroke-width="0.6"/>
<polygon points="407.5,58.6 405.9,59.3 405.7,57.2 406.9,54.5 407.8,55.3 409.5,54.5 410.6,56.8 409.7,58.5 408.7,60.4" fill="rgb(177,177,177)" fill-opacity="0.66" stroke="rgb(231,231,231)" stroke-opacity="0.55" stroke-width="0.7" stroke-linejoin="round"/>
<line x1="410.6" y1="56.8" x2="409.0" y2="57.1" stroke="rgb(231,231,231)" stroke-opacity="0.5" stroke-width="0.6"/>
<line x1="405.7" y1="57.2" x2="407.3" y2="57.2" stroke="rgb(231,231,231)" stroke-opacity="0.5" stroke-width="0.6"/>
<polygon points="512.0,88.4 510.3,91.3 508.3,95.4 502.9,90.9 499.3,87.0 506.5,81.7 511.3,84.3" fill="rgb(180,180,180)" fill-opacity="0.83" stroke="rgb(235,235,235)" stroke-opacity="0.55" stroke-width="0.7" stroke-linejoin="round"/>
<line x1="506.5" y1="81.7" x2="507.4" y2="85.5" stroke="rgb(235,235,235)" stroke-opacity="0.5" stroke-width="0.6"/>
<polygon points="413.3,168.3 416.2,170.3 415.5,173.7 411.8,173.3 408.2,179.1 407.5,174.9 404.7,173.7 405.9,171.2 408.7,168.5 409.8,167.9 412.9,166.7" fill="rgb(102,102,102)" fill-opacity="0.65" stroke="rgb(183,183,183)" stroke-opacity="0.55" stroke-width="0.7" stroke-linejoin="round"/>
<line x1="404.7" y1="173.7" x2="408.0" y2="172.3" stroke="rgb(183,183,183)" stroke-opacity="0.5" stroke-width="0.6"/>
<line x1="416.2" y1="170.3" x2="412.0" y2="170.9" stroke="rgb(183,183,183)" stroke-opacity="0.5" stroke-width="0.6"/>
<polygon points="461.4,129.3 461.6,135.4 462.6,137.3 464.0,140.5 462.5,143.9 458.7,143.1 455.2,143.5 454.5,138.4 457.2,133.8 458.6,134.1" fill="rgb(153,153,153)" fill-opacity="0.90" stroke="rgb(229,229,229)" stroke-opacity="0.55" stroke-width="0.7" stroke-linejoin="round"/>
<line x1="458.7" y1="143.1" x2="459.6" y2="138.5" stroke="rgb(229,229,229)" stroke-opacity="0.5" stroke-width="0.6"/>
<line x1="462.5" y1="143.9" x2="461.2" y2="140.7" stroke="rgb(229,229,229)" stroke-opacity="0.5" stroke-width="0.6"/>
<polygon points="461.3,83.0 465.4,78.5 469.1,79.6 474.6,78.0 473.9,81.1 472.3,83.4 470.4,86.5 463.3,86.5" fill="rgb(132,132,132)" fill-opacity="0.77" stroke="rgb(195,195,195)" stroke-opacity="0.55" stroke-width="0.7" stroke-linejoin="round"/>
<line x1="461.3" y1="83.0" x2="466.1" y2="82.4" stroke="rgb(195,195,195)" stroke-opacity="0.5" stroke-width="0.6"/>
<polygon points="393.5,192.5 393.6,188.3 396.2,182.1 403.4,180.8 405.3,186.1 402.3,190.5 396.4,197.4" fill="rgb(121,121,121)" fill-opacity="0.91" stroke="rgb(178,178,178)" stroke-opacity="0.55" stroke-width="0.7" stroke-linejoin="round"/>
<line x1="403.4" y1="180.8" x2="400.2" y2="186.8" stroke="rgb(178,178,178)" stroke-opacity="0.5" stroke-width="0.6"/>
<polygon points="380.2,163.4 377.1,162.8 380.4,161.0 381.4,159.9 384.6,155.2 385.2,157.6 385.3,159.8 385.5,162.1 382.6,163.7 381.7,164.7" fill="rgb(62,62,62)" fill-opacity="0.82" stroke="rgb(134,134,134)" stroke-opacity="0.55" stroke-width="0.7" stroke-linejoin="round"/>
<line x1="381.7" y1="164.7" x2="382.0" y2="162.4" stroke="rgb(134,134,134)" stroke-opacity="0.5" stroke-width="0.6"/>
<line x1="385.3" y1="159.8" x2="384.0" y2="160.4" stroke="rgb(134,134,134)" stroke-opacity="0.5" stroke-width="0.6"/>
<line x1="385.2" y1="157.6" x2="383.5" y2="159.6" stroke="rgb(134,134,134)" stroke-opacity="0.5" stroke-width="0.6"/>
<polygon points="385.6,117.4 393.0,118.7 395.4,121.3 397.7,126.9 391.9,125.3 388.9,127.1 387.0,122.6" fill="rgb(177,177,177)" fill-opacity="0.92" stroke="rgb(227,227,227)" stroke-opacity="0.55" stroke-width="0.7" stroke-linejoin="round"/>
<line x1="393.0" y1="118.7" x2="392.1" y2="120.9" stroke="rgb(227,227,227)" stroke-opacity="0.5" stroke-width="0.6"/>
<line x1="385.6" y1="117.4" x2="389.0" y2="120.1" stroke="rgb(227,227,227)" stroke-opacity="0.5" stroke-width="0.6"/>
<polygon points="333.9,191.6 333.5,187.9 335.4,187.1 337.4,185.7 340.5,187.8 338.1,190.5 336.1,192.4" fill="rgb(96,96,96)" fill-opacity="0.92" stroke="rgb(151,151,151)" stroke-opacity="0.55" stroke-width="0.7" stroke-linejoin="round"/>
<line x1="336.1" y1="192.4" x2="336.0" y2="190.2" stroke="rgb(151,151,151)" stroke-opacity="0.5" stroke-width="0.6"/>
<polygon points="435.4,47.8 437.8,44.6 437.6,44.0 439.3,42.8 440.8,42.5 443.4,42.8 443.8,44.8 441.0,46.1 439.0,46.9 438.0,46.3" fill="rgb(142,142,142)" fill-opacity="0.90" stroke="rgb(225,225,225)" stroke-opacity="0.55" stroke-width="0.7" stroke-linejoin="round"/>
<line x1="441.0" y1="46.1" x2="440.2" y2="45.1" stroke="rgb(225,225,225)" stroke-opacity="0.5" stroke-width="0.6"/>
<line x1="437.8" y1="44.6" x2="439.3" y2="44.6" stroke="rgb(225,225,225)" stroke-opacity="0.5" stroke-width="0.6"/>
<polygon points="546.5,149.9 548.4,151.9 546.5,153.3 546.6,155.7 544.6,154.3 544.5,153.8 542.8,152.3 545.4,151.5" fill="rgb(97,97,97)" fill-opacity="0.64" stroke="rgb(177,177,177)" stroke-opacity="0.55" stroke-width="0.7" stroke-linejoin="round"/>
<line x1="546.5" y1="153.3" x2="545.7" y2="153.1" stroke="rgb(177,177,177)" stroke-opacity="0.5" stroke-width="0.6"/>
<line x1="544.6" y1="154.3" x2="545.3" y2="153.3" stroke="rgb(177,177,177)" stroke-opacity="0.5" stroke-width="0.6"/>
<polygon points="549.0,134.7 545.0,137.4 543.4,139.1 541.7,139.1 538.4,137.6 541.1,136.4 543.1,135.2 547.3,134.2" fill="rgb(125,125,125)" fill-opacity="0.84" stroke="rgb(187,187,187)" stroke-opacity="0.55" stroke-width="0.7" stroke-linejoin="round"/>
<line x1="543.1" y1="135.2" x2="543.2" y2="135.9" stroke="rgb(187,187,187)" stroke-opacity="0.5" stroke-width="0.6"/>
<polygon points="395.6,112.6 399.7,111.2 401.9,107.1 408.4,107.3 412.1,107.7 411.8,111.3 416.3,112.6 413.5,116.5 408.9,117.2 400.7,118.2 397.1,116.0" fill="rgb(62,62,62)" fill-opacity="0.64" stroke="rgb(144,144,144)" stroke-opacity="0.55" stroke-width="0.7" stroke-linejoin="round"/>
<line x1="408.4" y1="107.3" x2="407.3" y2="110.6" stroke="rgb(144,144,144)" stroke-opacity="0.5" stroke-width="0.6"/>
<polygon points="391.9,127.6 388.0,129.7 384.4,131.4 379.2,129.6 376.6,126.2 381.1,118.0 384.5,119.6 389.3,120.0 393.8,123.7" fill="rgb(148,148,148)" fill-opacity="0.88" stroke="rgb(191,191,191)" stroke-opacity="0.55" stroke-width="0.7" stroke-linejoin="round"/>
<line x1="384.5" y1="119.6" x2="385.8" y2="123.7" stroke="rgb(191,191,191)" stroke-opacity="0.5" stroke-width="0.6"/>
<line x1="389.3" y1="120.0" x2="388.1" y2="122.7" stroke="rgb(191,191,191)" stroke-opacity="0.5" stroke-width="0.6"/>
<polygon points="339.2,176.7 337.4,177.5 331.9,175.7 332.9,173.9 333.2,169.5 335.8,171.7 338.3,174.2" fill="rgb(166,166,166)" fill-opacity="0.76" stroke="rgb(208,208,208)" stroke-opacity="0.55" stroke-width="0.7" stroke-linejoin="round"/>
<line x1="339.2" y1="176.7" x2="337.2" y2="175.3" stroke="rgb(208,208,208)" stroke-opacity="0.5" stroke-width="0.6"/>
<line x1="337.4" y1="177.5" x2="336.1" y2="175.2" stroke="rgb(208,208,208)" stroke-opacity="0.5" stroke-width="0.6"/>
<polygon points="470.0,160.0 466.7,155.7 470.9,153.1 476.3,156.8 477.5,158.8 476.9,164.4 472.6,162.7" fill="rgb(60,60,60)" fill-opacity="0.94" stroke="rgb(146,146,146)" stroke-opacity="0.55" stroke-width="0.7" stroke-linejoin="round"/>
<line x1="470.9" y1="153.1" x2="472.4" y2="157.2" stroke="rgb(146,146,146)" stroke-opacity="0.5" stroke-width="0.6"/>
<line x1="476.3" y1="156.8" x2="474.3" y2="158.4" stroke="rgb(146,146,146)" stroke-opacity="0.5" stroke-width="0.6"/>
<polygon points="350.4,137.7 352.4,135.4 355.2,140.0 358.0,140.1 355.3,142.5 355.7,144.7 353.7,148.7 352.1,146.6 349.7,143.9 348.7,142.2 347.9,139.3" fill="rgb(125,125,125)" fill-opacity="0.71" stroke="rgb(165,165,165)" stroke-opacity="0.55" stroke-width="0.7" stroke-linejoin="round"/>
<line x1="352.1" y1="146.6" x2="352.8" y2="143.1" stroke="rgb(165,165,165)" stroke-opacity="0.5" stroke-width="0.6"/>
<polygon points="370.2,158.1 371.4,154.4 369.2,151.8 371.9,151.2 377.5,145.0 378.2,149.1 382.1,147.3 376.7,153.8 377.6,158.5 374.3,157.3 372.4,157.5" fill="rgb(95,95,95)" fill-opacity="0.79" stroke="rgb(164,164,164)" stroke-opacity="0.55" stroke-width="0.7" stroke-linejoin="round"/>
<line x1="371.9" y1="151.2" x2="372.8" y2="152.2" stroke="rgb(164,164,164)" stroke-opacity="0.5" stroke-width="0.6"/>
<line x1="374.3" y1="157.3" x2="374.3" y2="155.2" stroke="rgb(164,164,164)" stroke-opacity="0.5" stroke-width="0.6"/>
<line x1="377.6" y1="158.5" x2="376.1" y2="156.5" stroke="rgb(164,164,164)" stroke-opacity="0.5" stroke-width="0.6"/>
<polygon points="465.9,119.7 460.1,113.8 467.7,113.0 470.4,110.2 474.6,112.9 479.4,120.2 477.9,125.3 467.9,124.2" fill="rgb(120,120,120)" fill-opacity="0.63" stroke="rgb(200,200,200)" stroke-opacity="0.55" stroke-width="0.7" stroke-linejoin="round"/>
<line x1="467.7" y1="113.0" x2="469.7" y2="115.6" stroke="rgb(200,200,200)" stroke-opacity="0.5" stroke-width="0.6"/>
<line x1="479.4" y1="120.2" x2="475.7" y2="118.7" stroke="rgb(200,200,200)" stroke-opacity="0.5" stroke-width="0.6"/>
<polygon points="546.5,184.5 546.2,186.2 542.8,185.6 541.5,184.7 537.8,181.5 540.0,178.9 539.8,173.4 543.1,176.2 547.1,178.6 551.9,181.6" fill="rgb(115,115,115)" fill-opacity="0.86" stroke="rgb(159,159,159)" stroke-opacity="0.55" stroke-width="0.7" stroke-linejoin="round"/>
<line x1="537.8" y1="181.5" x2="540.2" y2="181.7" stroke="rgb(159,159,159)" stroke-opacity="0.5" stroke-width="0.6"/>
<polygon points="492.2,132.3 494.0,129.1 494.8,133.2 496.7,133.4 498.2,138.4 494.8,137.4 493.6,137.5 490.7,138.7 490.3,136.5 489.5,133.7" fill="rgb(172,172,172)" fill-opacity="0.87" stroke="rgb(234,234,234)" stroke-opacity="0.55" stroke-width="0.7" stroke-linejoin="round"/>
<line x1="496.7" y1="133.4" x2="494.2" y2="134.6" stroke="rgb(234,234,234)" stroke-opacity="0.5" stroke-width="0.6"/>
<line x1="498.2" y1="138.4" x2="494.7" y2="135.8" stroke="rgb(234,234,234)" stroke-opacity="0.5" stroke-width="0.6"/>
<polygon points="509.2,189.2 506.4,189.8 504.7,189.8 502.0,188.4 498.9,188.1 499.5,186.1 497.0,183.8 501.7,183.6 503.5,183.9 505.7,185.4 507.6,186.5" fill="rgb(68,68,68)" fill-opacity="0.68" stroke="rgb(113,113,113)" stroke-opacity="0.55" stroke-width="0.7" stroke-linejoin="round"/>
<line x1="509.2" y1="189.2" x2="506.2" y2="187.8" stroke="rgb(113,113,113)" stroke-opacity="0.5" stroke-width="0.6"/>
<line x1="499.5" y1="186.1" x2="501.8" y2="186.5" stroke="rgb(113,113,113)" stroke-opacity="0.5" stroke-width="0.6"/>
<polygon points="338.9,179.3 338.8,175.1 343.9,170.9 347.2,175.9 351.4,182.4 342.8,184.6 337.8,185.2" fill="rgb(110,110,110)" fill-opacity="0.89" stroke="rgb(194,194,194)" stroke-opacity="0.55" stroke-width="0.7" stroke-linejoin="round"/>
<line x1="347.2" y1="175.9" x2="344.7" y2="177.4" stroke="rgb(194,194,194)" stroke-opacity="0.5" stroke-width="0.6"/>
<line x1="347.2" y1="175.9" x2="344.5" y2="177.5" stroke="rgb(194,194,194)" stroke-opacity="0.5" stroke-width="0.6"/>
<polygon points="358.1,94.0 357.6,91.8 361.6,91.8 363.7,93.8 365.5,94.3 367.6,97.9 364.4,98.6 360.4,101.5 358.8,100.6 359.4,96.5" fill="rgb(184,184,184)" fill-opacity="0.64" stroke="rgb(224,224,224)" stroke-opacity="0.55" stroke-width="0.7" stroke-linejoin="round"/>
<line x1="358.8" y1="100.6" x2="361.0" y2="96.9" stroke="rgb(224,224,224)" stroke-opacity="0.5" stroke-width="0.6"/>
<line x1="364.4" y1="98.6" x2="363.3" y2="97.5" stroke="rgb(224,224,224)" stroke-opacity="0.5" stroke-width="0.6"/>
<polygon points="467.2,185.5 467.6,180.7 469.8,187.2 475.1,191.5 473.8,193.4 473.0,196.2 469.2,192.8 467.4,193.4 467.1,190.1 462.3,183.5" fill="rgb(174,174,174)" fill-opacity="0.71" stroke="rgb(235,235,235)" stroke-opacity="0.55" stroke-width="0.7" stroke-linejoin="round"/>
<line x1="467.2" y1="185.5" x2="468.3" y2="187.8" stroke="rgb(235,235,235)" stroke-opacity="0.5" stroke-width="0.6"/>
<line x1="467.6" y1="180.7" x2="468.5" y2="185.6" stroke="rgb(235,235,235)" stroke-opacity="0.5" stroke-width="0.6"/>
<line x1="467.6" y1="180.7" x2="468.4" y2="185.1" stroke="rgb(235,235,235)" stroke-opacity="0.5" stroke-width="0.6"/>
<polygon points="410.4,143.9 410.6,142.1 413.7,142.8 415.5,142.9 414.0,144.2 413.2,145.6 410.3,145.1" fill="rgb(68,68,68)" fill-opacity="0.75" stroke="rgb(148,148,148)" stroke-opacity="0.55" stroke-width="0.7" stroke-linejoin="round"/>
<line x1="410.3" y1="145.1" x2="412.1" y2="144.1" stroke="rgb(148,148,148)" stroke-opacity="0.5" stroke-width="0.6"/>
<polygon points="525.2,175.1 522.5,180.5 522.7,182.7 518.8,183.9 512.3,189.3 510.4,188.8 513.1,183.4 513.4,180.8 515.6,179.6 520.0,173.9 522.6,176.0" fill="rgb(126,126,126)" fill-opacity="0.86" stroke="rgb(204,204,204)" stroke-opacity="0.55" stroke-width="0.7" stroke-linejoin="round"/>
<line x1="513.1" y1="183.4" x2="515.8" y2="182.0" stroke="rgb(204,204,204)" stroke-opacity="0.5" stroke-width="0.6"/>
<polygon points="500.6,87.5 499.0,88.3 496.0,88.9 491.6,85.8 494.3,83.6 499.4,82.6 502.6,85.0" fill="rgb(159,159,159)" fill-opacity="0.70" stroke="rgb(219,219,219)" stroke-opacity="0.55" stroke-width="0.7" stroke-linejoin="round"/>
<line x1="499.0" y1="88.3" x2="498.4" y2="87.5" stroke="rgb(219,219,219)" stroke-opacity="0.5" stroke-width="0.6"/>
<line x1="496.0" y1="88.9" x2="497.0" y2="87.8" stroke="rgb(219,219,219)" stroke-opacity="0.5" stroke-width="0.6"/>
<polygon points="389.3,127.5 386.9,127.4 385.1,127.9 384.3,128.9 382.7,127.6 381.7,127.2 382.6,126.5 381.2,124.0 382.2,123.5 386.1,125.4 385.8,126.3" fill="rgb(96,96,96)" fill-opacity="0.75" stroke="rgb(158,158,158)" stroke-opacity="0.55" stroke-width="0.7" stroke-linejoin="round"/>
<line x1="382.7" y1="127.6" x2="383.4" y2="127.3" stroke="rgb(158,158,158)" stroke-opacity="0.5" stroke-width="0.6"/>
<line x1="384.3" y1="128.9" x2="384.3" y2="127.3" stroke="rgb(158,158,158)" stroke-opacity="0.5" stroke-width="0.6"/>
<polygon points="371.7,53.4 372.1,53.0 372.4,51.5 373.7,50.7 376.5,49.9 376.4,51.6 375.3,52.8 374.7,54.2 374.0,54.2 371.8,54.2" fill="rgb(80,80,80)" fill-opacity="0.62" stroke="rgb(147,147,147)" stroke-opacity="0.55" stroke-width="0.7" stroke-linejoin="round"/>
<line x1="371.8" y1="54.2" x2="372.7" y2="53.5" stroke="rgb(147,147,147)" stroke-opacity="0.5" stroke-width="0.6"/>
<polygon points="397.5,94.1 402.5,93.6 405.9,89.3 408.9,94.6 409.6,96.4 410.3,100.6 407.9,100.1 405.5,100.2 402.9,97.9 401.6,97.8" fill="rgb(121,121,121)" fill-opacity="0.67" stroke="rgb(184,184,184)" stroke-opacity="0.55" stroke-width="0.7" stroke-linejoin="round"/>
<line x1="397.5" y1="94.1" x2="402.0" y2="95.7" stroke="rgb(184,184,184)" stroke-opacity="0.5" stroke-width="0.6"/>
<line x1="409.6" y1="96.4" x2="407.5" y2="96.6" stroke="rgb(184,184,184)" stroke-opacity="0.5" stroke-width="0.6"/>
<polygon points="437.0,141.3 437.3,142.9 435.8,145.7 432.6,145.6 431.1,144.3 432.7,143.0 433.8,141.8 435.8,139.8" fill="rgb(69,69,69)" fill-opacity="0.76" stroke="rgb(143,143,143)" stroke-opacity="0.55" stroke-width="0.7" stroke-linejoin="round"/>
<line x1="437.0" y1="141.3" x2="435.5" y2="142.3" stroke="rgb(143,143,143)" stroke-opacity="0.5" stroke-width="0.6"/>
<polygon points="410.0,129.0 404.4,126.3 407.2,120.1 411.0,117.4 414.1,119.0 415.9,122.0 415.9,126.2 413.0,125.2" fill="rgb(113,113,113)" fill-opacity="0.95" stroke="rgb(174,174,174)" stroke-opacity="0.55" stroke-width="0.7" stroke-linejoin="round"/>
<line x1="414.1" y1="119.0" x2="412.6" y2="121.3" stroke="rgb(174,174,174)" stroke-opacity="0.5" stroke-width="0.6"/>
<polygon points="392.9,91.5 391.4,91.6 390.2,88.5 391.5,88.1 392.9,85.3 394.3,88.2 393.3,90.5" fill="rgb(155,155,155)" fill-opacity="0.71" stroke="rgb(203,203,203)" stroke-opacity="0.55" stroke-width="0.7" stroke-linejoin="round"/>
<line x1="390.2" y1="88.5" x2="391.7" y2="89.3" stroke="rgb(203,203,203)" stroke-opacity="0.5" stroke-width="0.6"/>
<polygon points="475.3,200.0 474.6,196.7 475.8,193.3 475.2,190.2 477.2,187.8 479.3,186.2 481.2,190.2 481.1,191.7 481.6,193.5 479.7,195.0 478.8,196.2" fill="rgb(105,105,105)" fill-opacity="0.70" stroke="rgb(176,176,176)" stroke-opacity="0.55" stroke-width="0.7" stroke-linejoin="round"/>
<line x1="474.6" y1="196.7" x2="477.4" y2="194.3" stroke="rgb(176,176,176)" stroke-opacity="0.5" stroke-width="0.6"/>
<line x1="475.8" y1="193.3" x2="477.6" y2="193.4" stroke="rgb(176,176,176)" stroke-opacity="0.5" stroke-width="0.6"/>
<polygon points="515.1,138.7 514.8,136.2 516.7,139.5 517.5,140.2 518.1,140.7 518.5,142.1 517.6,142.7 516.0,142.6 514.2,141.8 514.2,140.1 513.7,139.2" fill="rgb(177,177,177)" fill-opacity="0.63" stroke="rgb(235,235,235)" stroke-opacity="0.55" stroke-width="0.7" stroke-linejoin="round"/>
<line x1="514.8" y1="136.2" x2="515.7" y2="138.7" stroke="rgb(235,235,235)" stroke-opacity="0.5" stroke-width="0.6"/>
<line x1="514.8" y1="136.2" x2="516.0" y2="139.4" stroke="rgb(235,235,235)" stroke-opacity="0.5" stroke-width="0.6"/>
<line x1="515.1" y1="138.7" x2="516.0" y2="139.9" stroke="rgb(235,235,235)" stroke-opacity="0.5" stroke-width="0.6"/>
<polygon points="528.9,115.2 530.4,115.0 529.5,113.3 532.1,113.2 532.6,115.2 534.2,115.1 534.4,116.3 532.5,117.0 532.1,118.3 530.0,116.6 529.4,116.6" fill="rgb(59,59,59)" fill-opacity="0.89" stroke="rgb(119,119,119)" stroke-opacity="0.55" stroke-width="0.7" stroke-linejoin="round"/>
<line x1="532.6" y1="115.2" x2="531.8" y2="115.5" stroke="rgb(119,119,119)" stroke-opacity="0.5" stroke-width="0.6"/>
<line x1="532.1" y1="113.2" x2="531.6" y2="114.8" stroke="rgb(119,119,119)" stroke-opacity="0.5" stroke-width="0.6"/>
<polygon points="361.1,80.0 362.5,80.0 364.8,78.6 367.4,80.2 364.8,81.6 365.6,82.8 363.1,82.6 361.9,81.8" fill="rgb(153,153,153)" fill-opacity="0.77" stroke="rgb(219,219,219)" stroke-opacity="0.55" stroke-width="0.7" stroke-linejoin="round"/>
<line x1="362.5" y1="80.0" x2="363.0" y2="80.5" stroke="rgb(219,219,219)" stroke-opacity="0.5" stroke-width="0.6"/>
<polygon points="509.8,163.3 509.2,166.2 503.3,166.9 502.6,164.2 501.3,161.5 503.6,160.3 506.1,158.6 507.3,161.0" fill="rgb(178,178,178)" fill-opacity="0.79" stroke="rgb(235,235,235)" stroke-opacity="0.55" stroke-width="0.7" stroke-linejoin="round"/>
<line x1="503.3" y1="166.9" x2="504.5" y2="163.8" stroke="rgb(235,235,235)" stroke-opacity="0.5" stroke-width="0.6"/>
<polygon points="478.3,70.9 476.7,68.3 474.6,62.6 481.2,62.1 483.4,63.0 484.4,68.0 481.2,74.7" fill="rgb(114,114,114)" fill-opacity="0.80" stroke="rgb(202,202,202)" stroke-opacity="0.55" stroke-width="0.7" stroke-linejoin="round"/>
<line x1="474.6" y1="62.6" x2="477.8" y2="65.9" stroke="rgb(202,202,202)" stroke-opacity="0.5" stroke-width="0.6"/>
<line x1="483.4" y1="63.0" x2="481.3" y2="65.4" stroke="rgb(202,202,202)" stroke-opacity="0.5" stroke-width="0.6"/>
<polygon points="433.7,139.5 436.3,140.4 438.9,142.8 438.7,145.1 439.4,149.0 434.9,147.7 433.6,146.3 431.7,143.5" fill="rgb(86,86,86)" fill-opacity="0.69" stroke="rgb(175,175,175)" stroke-opacity="0.55" stroke-width="0.7" stroke-linejoin="round"/>
<line x1="438.7" y1="145.1" x2="437.5" y2="144.5" stroke="rgb(175,175,175)" stroke-opacity="0.5" stroke-width="0.6"/>
<polygon points="485.3,66.5 486.0,66.3 487.6,67.0 487.4,69.7 488.7,71.3 487.4,71.6 486.4,71.3 485.7,71.2 485.6,69.9 484.0,67.9 484.3,65.7" fill="rgb(93,93,93)" fill-opacity="0.62" stroke="rgb(154,154,154)" stroke-opacity="0.55" stroke-width="0.7" stroke-linejoin="round"/>
<line x1="486.0" y1="66.3" x2="486.1" y2="67.5" stroke="rgb(154,154,154)" stroke-opacity="0.5" stroke-width="0.6"/>
<line x1="486.4" y1="71.3" x2="486.2" y2="69.8" stroke="rgb(154,154,154)" stroke-opacity="0.5" stroke-width="0.6"/>
<line x1="485.7" y1="71.2" x2="485.9" y2="70.3" stroke="rgb(154,154,154)" stroke-opacity="0.5" stroke-width="0.6"/>
<polygon points="485.3,42.9 486.9,43.4 486.8,50.2 487.9,52.8 485.9,55.1 484.3,56.5 483.1,52.3 482.5,49.6 481.6,46.3" fill="rgb(158,158,158)" fill-opacity="0.89" stroke="rgb(206,206,206)" stroke-opacity="0.55" stroke-width="0.7" stroke-linejoin="round"/>
<line x1="481.6" y1="46.3" x2="483.8" y2="48.9" stroke="rgb(206,206,206)" stroke-opacity="0.5" stroke-width="0.6"/>
<line x1="486.9" y1="43.4" x2="485.5" y2="48.2" stroke="rgb(206,206,206)" stroke-opacity="0.5" stroke-width="0.6"/>
<polygon points="527.5,98.7 525.2,100.4 519.1,100.2 518.3,96.4 518.3,94.3 517.4,90.8 521.3,91.0 525.0,88.5 524.9,93.1 529.1,96.8" fill="rgb(81,81,81)" fill-opacity="0.65" stroke="rgb(146,146,146)" stroke-opacity="0.55" stroke-width="0.7" stroke-linejoin="round"/>
<line x1="525.2" y1="100.4" x2="523.7" y2="97.5" stroke="rgb(146,146,146)" stroke-opacity="0.5" stroke-width="0.6"/>
<line x1="518.3" y1="96.4" x2="520.6" y2="95.1" stroke="rgb(146,146,146)" stroke-opacity="0.5" stroke-width="0.6"/>
<polygon points="456.5,188.6 454.6,185.4 451.2,185.5 452.2,182.1 455.2,180.4 457.1,179.6 459.9,181.1 460.4,184.0 460.8,189.2" fill="rgb(158,158,158)" fill-opacity="0.89" stroke="rgb(227,227,227)" stroke-opacity="0.55" stroke-width="0.7" stroke-linejoin="round"/>
<line x1="454.6" y1="185.4" x2="455.8" y2="184.2" stroke="rgb(227,227,227)" stroke-opacity="0.5" stroke-width="0.6"/>
<polygon points="507.9,86.0 503.5,88.5 500.3,90.5 492.8,91.4 495.9,84.8 498.9,76.3 502.5,82.4" fill="rgb(80,80,80)" fill-opacity="0.62" stroke="rgb(147,147,147)" stroke-opacity="0.55" stroke-width="0.7" stroke-linejoin="round"/>
<line x1="500.3" y1="90.5" x2="500.3" y2="87.1" stroke="rgb(147,147,147)" stroke-opacity="0.5" stroke-width="0.6"/>
<line x1="507.9" y1="86.0" x2="502.5" y2="85.7" stroke="rgb(147,147,147)" stroke-opacity="0.5" stroke-width="0.6"/>
<line x1="503.5" y1="88.5" x2="501.8" y2="86.9" stroke="rgb(147,147,147)" stroke-opacity="0.5" stroke-width="0.6"/>
<polygon points="530.5,95.6 527.9,96.8 526.7,96.3 524.2,96.9 524.9,94.8 525.0,93.5 527.0,93.6 530.0,94.4" fill="rgb(173,173,173)" fill-opacity="0.75" stroke="rgb(232,232,232)" stroke-opacity="0.55" stroke-width="0.7" stroke-linejoin="round"/>
<line x1="524.9" y1="94.8" x2="526.5" y2="95.4" stroke="rgb(232,232,232)" stroke-opacity="0.5" stroke-width="0.6"/>
<line x1="527.0" y1="93.6" x2="527.0" y2="94.5" stroke="rgb(232,232,232)" stroke-opacity="0.5" stroke-width="0.6"/>
<polygon points="360.4,63.2 363.3,56.2 369.0,58.5 376.0,53.1 378.7,59.0 376.9,62.4 373.1,65.2 367.2,64.4" fill="rgb(122,122,122)" fill-opacity="0.61" stroke="rgb(163,163,163)" stroke-opacity="0.55" stroke-width="0.7" stroke-linejoin="round"/>
<line x1="376.9" y1="62.4" x2="371.9" y2="61.1" stroke="rgb(163,163,163)" stroke-opacity="0.5" stroke-width="0.6"/>
<line x1="363.3" y1="56.2" x2="367.0" y2="58.6" stroke="rgb(163,163,163)" stroke-opacity="0.5" stroke-width="0.6"/>
<polygon points="454.0,101.6 459.2,99.6 466.7,96.1 470.6,97.3 473.4,101.6 468.2,104.5 461.8,102.8" fill="rgb(129,129,129)" fill-opacity="0.69" stroke="rgb(172,172,172)" stroke-opacity="0.55" stroke-width="0.7" stroke-linejoin="round"/>
<line x1="466.7" y1="96.1" x2="465.5" y2="98.4" stroke="rgb(172,172,172)" stroke-opacity="0.5" stroke-width="0.6"/>
<line x1="473.4" y1="101.6" x2="466.2" y2="101.1" stroke="rgb(172,172,172)" stroke-opacity="0.5" stroke-width="0.6"/>
<line x1="468.2" y1="104.5" x2="466.5" y2="103.0" stroke="rgb(172,172,172)" stroke-opacity="0.5" stroke-width="0.6"/>
<polygon points="374.7,169.9 372.8,167.2 372.2,166.2 370.9,163.5 373.7,163.6 375.6,163.9 375.0,166.7" fill="rgb(67,67,67)" fill-opacity="0.73" stroke="rgb(152,152,152)" stroke-opacity="0.55" stroke-width="0.7" stroke-linejoin="round"/>
<line x1="374.7" y1="169.9" x2="374.1" y2="167.7" stroke="rgb(152,152,152)" stroke-opacity="0.5" stroke-width="0.6"/>
<line x1="372.8" y1="167.2" x2="373.3" y2="166.4" stroke="rgb(152,152,152)" stroke-opacity="0.5" stroke-width="0.6"/>
<line x1="374.7" y1="169.9" x2="373.9" y2="166.9" stroke="rgb(152,152,152)" stroke-opacity="0.5" stroke-width="0.6"/>
<polygon points="522.3,184.9 517.7,184.6 515.7,181.3 514.0,177.3 514.6,169.8 516.9,169.5 521.6,172.5 527.8,172.2 527.0,178.1 529.0,180.6" fill="rgb(153,153,153)" fill-opacity="0.71" stroke="rgb(216,216,216)" stroke-opacity="0.55" stroke-width="0.7" stroke-linejoin="round"/>
<line x1="527.8" y1="172.2" x2="522.3" y2="175.8" stroke="rgb(216,216,216)" stroke-opacity="0.5" stroke-width="0.6"/>
<line x1="517.7" y1="184.6" x2="519.7" y2="179.7" stroke="rgb(216,216,216)" stroke-opacity="0.5" stroke-width="0.6"/>
<polygon points="525.1,184.4 521.4,184.6 518.3,187.9 516.5,181.9 515.6,178.5 517.0,176.1 521.8,177.9 524.0,179.8 527.2,180.8" fill="rgb(106,106,106)" fill-opacity="0.95" stroke="rgb(166,166,166)" stroke-opacity="0.55" stroke-width="0.7" stroke-linejoin="round"/>
<line x1="521.4" y1="184.6" x2="521.0" y2="183.1" stroke="rgb(166,166,166)" stroke-opacity="0.5" stroke-width="0.6"/>
<polygon points="364.0,200.8 359.5,200.3 352.9,199.2 354.7,194.0 351.2,189.3 354.7,190.1 357.1,189.8 361.1,190.0 364.4,197.5" fill="rgb(60,60,60)" fill-opacity="0.67" stroke="rgb(129,129,129)" stroke-opacity="0.55" stroke-width="0.7" stroke-linejoin="round"/>
<line x1="357.1" y1="189.8" x2="357.1" y2="192.0" stroke="rgb(129,129,129)" stroke-opacity="0.5" stroke-width="0.6"/>
<line x1="364.0" y1="200.8" x2="359.7" y2="196.7" stroke="rgb(129,129,129)" stroke-opacity="0.5" stroke-width="0.6"/>
<line x1="364.0" y1="200.8" x2="358.7" y2="195.9" stroke="rgb(129,129,129)" stroke-opacity="0.5" stroke-width="0.6"/>
<polygon points="483.2,178.6 483.1,184.3 477.9,185.5 474.5,183.5 472.4,180.8 476.9,176.6 480.9,177.9" fill="rgb(120,120,120)" fill-opacity="0.85" stroke="rgb(195,195,195)" stroke-opacity="0.55" stroke-width="0.7" stroke-linejoin="round"/>
<line x1="477.9" y1="185.5" x2="478.3" y2="181.9" stroke="rgb(195,195,195)" stroke-opacity="0.5" stroke-width="0.6"/>
<line x1="480.9" y1="177.9" x2="479.7" y2="179.2" stroke="rgb(195,195,195)" stroke-opacity="0.5" stroke-width="0.6"/>
<line x1="477.9" y1="185.5" x2="478.4" y2="181.5" stroke="rgb(195,195,195)" stroke-opacity="0.5" stroke-width="0.6"/>
<polygon points="496.8,41.0 498.8,43.7 498.6,46.4 502.1,47.4 499.9,51.4 499.4,53.6 496.7,52.6 495.3,49.0 494.9,48.5 494.0,45.3 495.0,41.2" fill="rgb(138,138,138)" fill-opacity="0.92" stroke="rgb(210,210,210)" stroke-opacity="0.55" stroke-width="0.7" stroke-linejoin="round"/>
<line x1="498.6" y1="46.4" x2="497.6" y2="47.2" stroke="rgb(210,210,210)" stroke-opacity="0.5" stroke-width="0.6"/>
<line x1="496.7" y1="52.6" x2="497.0" y2="49.1" stroke="rgb(210,210,210)" stroke-opacity="0.5" stroke-width="0.6"/>
<polygon points="413.0,77.0 413.0,72.5 415.9,75.9 417.8,76.6 421.0,77.1 421.6,81.1 416.9,80.6 414.2,81.8 413.0,79.6 412.7,77.6" fill="rgb(90,90,90)" fill-opacity="0.67" stroke="rgb(163,163,163)" stroke-opacity="0.55" stroke-width="0.7" stroke-linejoin="round"/>
<line x1="414.2" y1="81.8" x2="415.3" y2="79.2" stroke="rgb(163,163,163)" stroke-opacity="0.5" stroke-width="0.6"/>
<line x1="417.8" y1="76.6" x2="416.2" y2="77.9" stroke="rgb(163,163,163)" stroke-opacity="0.5" stroke-width="0.6"/>
<polygon points="339.1,77.4 334.5,71.8 338.5,68.0 340.7,65.4 350.0,63.7 350.8,70.5 348.8,72.9 342.5,77.6" fill="rgb(54,54,54)" fill-opacity="0.81" stroke="rgb(129,129,129)" stroke-opacity="0.55" stroke-width="0.7" stroke-linejoin="round"/>
<line x1="338.5" y1="68.0" x2="341.1" y2="69.8" stroke="rgb(129,129,129)" stroke-opacity="0.5" stroke-width="0.6"/>
<line x1="348.8" y1="72.9" x2="346.3" y2="72.1" stroke="rgb(129,129,129)" stroke-opacity="0.5" stroke-width="0.6"/>
<line x1="350.8" y1="70.5" x2="345.6" y2="70.8" stroke="rgb(129,129,129)" stroke-opacity="0.5" stroke-width="0.6"/>
<polygon points="470.1,192.5 466.4,190.1 464.9,190.1 465.2,187.7 466.1,186.0 467.0,184.7 469.6,186.4 471.6,190.6" fill="rgb(118,118,118)" fill-opacity="0.79" stroke="rgb(160,160,160)" stroke-opacity="0.55" stroke-width="0.7" stroke-linejoin="round"/>
<line x1="466.4" y1="190.1" x2="466.8" y2="188.5" stroke="rgb(160,160,160)" stroke-opacity="0.5" stroke-width="0.6"/>
<line x1="467.0" y1="184.7" x2="467.0" y2="187.0" stroke="rgb(160,160,160)" stroke-opacity="0.5" stroke-width="0.6"/>
<line x1="464.9" y1="190.1" x2="466.4" y2="188.5" stroke="rgb(160,160,160)" stroke-opacity="0.5" stroke-width="0.6"/>
<polygon points="411.8,85.2 407.8,90.9 407.1,84.4 407.9,81.7 407.3,77.7 411.3,73.5 414.2,76.1 415.9,81.0 416.6,84.8 414.0,84.4" fill="rgb(55,55,55)" fill-opacity="0.83" stroke="rgb(144,144,144)" stroke-opacity="0.55" stroke-width="0.7" stroke-linejoin="round"/>
<line x1="407.1" y1="84.4" x2="409.9" y2="82.7" stroke="rgb(144,144,144)" stroke-opacity="0.5" stroke-width="0.6"/>
<polygon points="376.6,160.3 376.6,159.7 377.3,159.4 378.1,157.6 379.8,159.2 383.1,158.4 382.8,160.9 381.9,162.5 379.9,162.5 378.0,161.3 377.2,160.9" fill="rgb(65,65,65)" fill-opacity="0.85" stroke="rgb(148,148,148)" stroke-opacity="0.55" stroke-width="0.7" stroke-linejoin="round"/>
<line x1="377.2" y1="160.9" x2="378.1" y2="160.5" stroke="rgb(148,148,148)" stroke-opacity="0.5" stroke-width="0.6"/>
<polygon points="444.3,174.0 443.2,174.8 441.6,172.9 442.2,171.7 442.9,170.5 444.7,170.6 445.3,171.4 445.3,173.7" fill="rgb(87,87,87)" fill-opacity="0.92" stroke="rgb(131,131,131)" stroke-opacity="0.55" stroke-width="0.7" stroke-linejoin="round"/>
<line x1="442.9" y1="170.5" x2="443.5" y2="171.8" stroke="rgb(131,131,131)" stroke-opacity="0.5" stroke-width="0.6"/>
<line x1="442.9" y1="170.5" x2="443.4" y2="171.6" stroke="rgb(131,131,131)" stroke-opacity="0.5" stroke-width="0.6"/>
<polygon points="413.6,69.1 412.4,73.6 413.6,74.4 412.1,78.7 408.7,80.2 407.7,79.9 406.5,76.1 403.9,76.6 409.1,72.8 409.7,71.0 412.4,69.4" fill="rgb(100,100,100)" fill-opacity="0.62" stroke="rgb(178,178,178)" stroke-opacity="0.55" stroke-width="0.7" stroke-linejoin="round"/>
<line x1="413.6" y1="74.4" x2="411.0" y2="74.2" stroke="rgb(178,178,178)" stroke-opacity="0.5" stroke-width="0.6"/>
<polygon points="487.3,100.7 485.1,104.7 491.4,108.3 486.7,113.0 482.0,112.0 478.1,114.3 475.3,109.1 477.1,104.5 477.8,102.9 482.9,99.5" fill="rgb(86,86,86)" fill-opacity="0.85" stroke="rgb(167,167,167)" stroke-opacity="0.55" stroke-width="0.7" stroke-linejoin="round"/>
<line x1="485.1" y1="104.7" x2="483.1" y2="105.9" stroke="rgb(167,167,167)" stroke-opacity="0.5" stroke-width="0.6"/>
<line x1="482.0" y1="112.0" x2="481.9" y2="109.1" stroke="rgb(167,167,167)" stroke-opacity="0.5" stroke-width="0.6"/>
<line x1="475.3" y1="109.1" x2="479.3" y2="107.6" stroke="rgb(167,167,167)" stroke-opacity="0.5" stroke-width="0.6"/>
<polygon points="408.5,152.5 405.9,152.6 407.9,149.6 408.0,147.2 410.9,146.1 413.3,146.7 413.9,150.1 413.3,153.0 411.1,152.3 411.0,155.7" fill="rgb(182,182,182)" fill-opacity="0.80" stroke="rgb(235,235,235)" stroke-opacity="0.55" stroke-width="0.7" stroke-linejoin="round"/>
<line x1="407.9" y1="149.6" x2="409.6" y2="150.5" stroke="rgb(235,235,235)" stroke-opacity="0.5" stroke-width="0.6"/>
<polygon points="420.8,121.4 418.2,120.1 414.6,118.7 411.0,114.8 414.9,113.6 417.1,112.9 420.1,113.0 421.3,117.5" fill="rgb(78,78,78)" fill-opacity="0.78" stroke="rgb(118,118,118)" stroke-opacity="0.55" stroke-width="0.7" stroke-linejoin="round"/>
<line x1="411.0" y1="114.8" x2="414.9" y2="115.5" stroke="rgb(118,118,118)" stroke-opacity="0.5" stroke-width="0.6"/>
<line x1="420.8" y1="121.4" x2="418.2" y2="117.3" stroke="rgb(118,118,118)" stroke-opacity="0.5" stroke-width="0.6"/>
<line x1="411.0" y1="114.8" x2="415.9" y2="115.7" stroke="rgb(118,118,118)" stroke-opacity="0.5" stroke-width="0.6"/>
<polygon points="479.4,129.9 479.7,130.9 479.5,132.6 477.1,133.1 475.0,131.9 474.7,129.1 476.9,128.0 478.1,127.4 479.5,128.2" fill="rgb(118,118,118)" fill-opacity="0.75" stroke="rgb(165,165,165)" stroke-opacity="0.55" stroke-width="0.7" stroke-linejoin="round"/>
<line x1="479.7" y1="130.9" x2="478.2" y2="130.1" stroke="rgb(165,165,165)" stroke-opacity="0.5" stroke-width="0.6"/>
<line x1="479.5" y1="132.6" x2="478.6" y2="131.2" stroke="rgb(165,165,165)" stroke-opacity="0.5" stroke-width="0.6"/>
<line x1="479.5" y1="128.2" x2="478.5" y2="129.2" stroke="rgb(165,165,165)" stroke-opacity="0.5" stroke-width="0.6"/>
<polygon points="428.3,179.0 426.5,177.4 430.0,177.9 432.0,176.2 432.0,177.9 432.6,178.9 431.2,179.7 429.3,181.1 427.5,180.9" fill="rgb(100,100,100)" fill-opacity="0.82" stroke="rgb(155,155,155)" stroke-opacity="0.55" stroke-width="0.7" stroke-linejoin="round"/>
<line x1="430.0" y1="177.9" x2="430.2" y2="178.6" stroke="rgb(155,155,155)" stroke-opacity="0.5" stroke-width="0.6"/>
<line x1="427.5" y1="180.9" x2="429.5" y2="179.4" stroke="rgb(155,155,155)" stroke-opacity="0.5" stroke-width="0.6"/>
<polygon points="514.1,88.8 511.2,88.3 508.6,87.3 508.6,84.6 510.1,81.6 512.3,82.1 514.1,84.3 515.2,86.9" fill="rgb(157,157,157)" fill-opacity="0.81" stroke="rgb(235,235,235)" stroke-opacity="0.55" stroke-width="0.7" stroke-linejoin="round"/>
<line x1="514.1" y1="88.8" x2="512.4" y2="86.6" stroke="rgb(235,235,235)" stroke-opacity="0.5" stroke-width="0.6"/>
<line x1="514.1" y1="84.3" x2="512.4" y2="84.8" stroke="rgb(235,235,235)" stroke-opacity="0.5" stroke-width="0.6"/>
<polygon points="343.0,91.4 340.9,91.3 335.8,91.4 334.8,89.5 334.5,86.6 333.7,84.2 333.6,80.2 339.7,81.3 339.5,85.1 343.8,88.7" fill="rgb(123,123,123)" fill-opacity="0.65" stroke="rgb(202,202,202)" stroke-opacity="0.55" stroke-width="0.7" stroke-linejoin="round"/>
<line x1="343.8" y1="88.7" x2="340.7" y2="87.9" stroke="rgb(202,202,202)" stroke-opacity="0.5" stroke-width="0.6"/>
<line x1="333.6" y1="80.2" x2="335.8" y2="84.2" stroke="rgb(202,202,202)" stroke-opacity="0.5" stroke-width="0.6"/>
<polygon points="514.9,113.9 513.0,110.3 519.9,112.4 523.3,113.7 529.0,115.1 530.5,116.6 524.3,118.2 519.2,116.9 512.7,118.5" fill="rgb(174,174,174)" fill-opacity="0.73" stroke="rgb(235,235,235)" stroke-opacity="0.55" stroke-width="0.7" stroke-linejoin="round"/>
<line x1="523.3" y1="113.7" x2="522.4" y2="114.2" stroke="rgb(235,235,235)" stroke-opacity="0.5" stroke-width="0.6"/>
<polygon points="470.1,177.2 468.7,176.0 468.9,174.3 468.7,172.6 470.1,171.1 472.1,172.3 473.4,174.5 473.3,176.5" fill="rgb(72,72,72)" fill-opacity="0.75" stroke="rgb(121,121,121)" stroke-opacity="0.55" stroke-width="0.7" stroke-linejoin="round"/>
<line x1="473.4" y1="174.5" x2="472.0" y2="174.4" stroke="rgb(121,121,121)" stroke-opacity="0.5" stroke-width="0.6"/>
<line x1="470.1" y1="171.1" x2="470.2" y2="173.4" stroke="rgb(121,121,121)" stroke-opacity="0.5" stroke-width="0.6"/>
<line x1="468.9" y1="174.3" x2="469.7" y2="174.3" stroke="rgb(121,121,121)" stroke-opacity="0.5" stroke-width="0.6"/>
<polygon points="491.2,43.6 495.1,43.1 498.7,45.2 500.8,50.2 497.5,52.9 494.2,50.3 492.4,47.0" fill="rgb(67,67,67)" fill-opacity="0.87" stroke="rgb(151,151,151)" stroke-opacity="0.55" stroke-width="0.7" stroke-linejoin="round"/>
<line x1="494.2" y1="50.3" x2="494.8" y2="48.9" stroke="rgb(151,151,151)" stroke-opacity="0.5" stroke-width="0.6"/>
<line x1="491.2" y1="43.6" x2="494.0" y2="46.0" stroke="rgb(151,151,151)" stroke-opacity="0.5" stroke-width="0.6"/>
<line x1="497.5" y1="52.9" x2="496.0" y2="48.5" stroke="rgb(151,151,151)" stroke-opacity="0.5" stroke-width="0.6"/>
<polygon points="370.9,122.1 371.9,121.2 374.9,120.2 378.0,122.2 376.8,125.6 372.5,125.3 369.4,124.1" fill="rgb(71,71,71)" fill-opacity="0.85" stroke="rgb(161,161,161)" stroke-opacity="0.55" stroke-width="0.7" stroke-linejoin="round"/>
<line x1="369.4" y1="124.1" x2="371.4" y2="123.2" stroke="rgb(161,161,161)" stroke-opacity="0.5" stroke-width="0.6"/>
<line x1="370.9" y1="122.1" x2="372.0" y2="122.3" stroke="rgb(161,161,161)" stroke-opacity="0.5" stroke-width="0.6"/>
<line x1="374.9" y1="120.2" x2="373.9" y2="121.3" stroke="rgb(161,161,161)" stroke-opacity="0.5" stroke-width="0.6"/>
<polygon points="370.0,105.9 369.0,100.0 367.5,99.1 368.6,95.2 369.5,93.3 373.4,88.2 374.8,89.9 373.9,96.5 372.4,99.2 372.7,102.5" fill="rgb(130,130,130)" fill-opacity="0.78" stroke="rgb(208,208,208)" stroke-opacity="0.55" stroke-width="0.7" stroke-linejoin="round"/>
<line x1="372.4" y1="99.2" x2="371.7" y2="98.2" stroke="rgb(208,208,208)" stroke-opacity="0.5" stroke-width="0.6"/>
<polygon points="397.1,53.2 393.8,49.5 388.3,48.7 391.1,44.4 394.1,43.5 397.0,43.5 398.3,46.3" fill="rgb(58,58,58)" fill-opacity="0.89" stroke="rgb(112,112,112)" stroke-opacity="0.55" stroke-width="0.7" stroke-linejoin="round"/>
<line x1="397.0" y1="43.5" x2="395.9" y2="44.8" stroke="rgb(112,112,112)" stroke-opacity="0.5" stroke-width="0.6"/>
<line x1="391.1" y1="44.4" x2="393.0" y2="45.8" stroke="rgb(112,112,112)" stroke-opacity="0.5" stroke-width="0.6"/>
<line x1="397.1" y1="53.2" x2="395.4" y2="49.6" stroke="rgb(112,112,112)" stroke-opacity="0.5" stroke-width="0.6"/>
<polygon points="349.8,125.1 348.6,124.9 346.2,124.7 347.5,120.8 349.2,120.4 350.7,118.8 353.6,120.9 351.9,123.3 353.4,126.7" fill="rgb(76,76,76)" fill-opacity="0.61" stroke="rgb(144,144,144)" stroke-opacity="0.55" stroke-width="0.7" stroke-linejoin="round"/>
<line x1="346.2" y1="124.7" x2="349.0" y2="123.3" stroke="rgb(144,144,144)" stroke-opacity="0.5" stroke-width="0.6"/>
<line x1="347.5" y1="120.8" x2="348.7" y2="121.9" stroke="rgb(144,144,144)" stroke-opacity="0.5" stroke-width="0.6"/>
<line x1="349.8" y1="125.1" x2="349.8" y2="123.7" stroke="rgb(144,144,144)" stroke-opacity="0.5" stroke-width="0.6"/>
<polygon points="472.6,54.0 471.4,47.8 472.8,44.5 473.8,39.8 477.4,38.3 481.1,37.0 484.0,40.3 479.3,45.6 478.6,49.1 476.1,49.1" fill="rgb(90,90,90)" fill-opacity="0.78" stroke="rgb(138,138,138)" stroke-opacity="0.55" stroke-width="0.7" stroke-linejoin="round"/>
<line x1="484.0" y1="40.3" x2="480.8" y2="42.4" stroke="rgb(138,138,138)" stroke-opacity="0.5" stroke-width="0.6"/>
<polygon points="479.5,115.9 482.7,115.6 484.6,115.2 489.8,114.2 489.8,117.9 489.2,119.2 491.4,122.3 487.5,122.7 482.8,124.1 480.6,122.0 481.5,118.4" fill="rgb(85,85,85)" fill-opacity="0.80" stroke="rgb(156,156,156)" stroke-opacity="0.55" stroke-width="0.7" stroke-linejoin="round"/>
<line x1="491.4" y1="122.3" x2="487.8" y2="120.1" stroke="rgb(156,156,156)" stroke-opacity="0.5" stroke-width="0.6"/>
<line x1="489.8" y1="117.9" x2="487.6" y2="118.4" stroke="rgb(156,156,156)" stroke-opacity="0.5" stroke-width="0.6"/>
<line x1="479.5" y1="115.9" x2="482.8" y2="117.4" stroke="rgb(156,156,156)" stroke-opacity="0.5" stroke-width="0.6"/>
<polygon points="385.4,174.3 387.5,174.2 388.0,176.3 388.1,177.6 388.2,180.2 384.9,178.1 383.5,176.6" fill="rgb(182,182,182)" fill-opacity="0.87" stroke="rgb(235,235,235)" stroke-opacity="0.55" stroke-width="0.7" stroke-linejoin="round"/>
<line x1="388.0" y1="176.3" x2="386.9" y2="176.6" stroke="rgb(235,235,235)" stroke-opacity="0.5" stroke-width="0.6"/>
<polygon points="414.0,108.1 417.8,106.4 420.7,105.9 423.2,106.1 426.1,106.4 430.0,109.7 432.4,112.0 427.9,112.8 421.9,113.2 419.9,110.1 413.3,109.7" fill="rgb(80,80,80)" fill-opacity="0.75" stroke="rgb(124,124,124)" stroke-opacity="0.55" stroke-width="0.7" stroke-linejoin="round"/>
<line x1="423.2" y1="106.1" x2="422.2" y2="107.9" stroke="rgb(124,124,124)" stroke-opacity="0.5" stroke-width="0.6"/>
<polygon points="372.7,70.0 371.0,70.9 370.7,71.2 368.3,73.3 368.0,71.8 366.9,69.6 367.0,68.1 369.9,69.0 371.4,68.3" fill="rgb(145,145,145)" fill-opacity="0.80" stroke="rgb(235,235,235)" stroke-opacity="0.55" stroke-width="0.7" stroke-linejoin="round"/>
<line x1="371.0" y1="70.9" x2="370.3" y2="70.5" stroke="rgb(235,235,235)" stroke-opacity="0.5" stroke-width="0.6"/>
<polygon points="488.7,164.0 490.0,162.1 490.4,161.3 490.9,159.2 492.4,159.2 492.7,159.3 493.9,159.9 494.1,161.0 492.8,162.2 492.9,163.7 491.4,164.5" fill="rgb(78,78,78)" fill-opacity="0.72" stroke="rgb(162,162,162)" stroke-opacity="0.55" stroke-width="0.7" stroke-linejoin="round"/>
<line x1="492.4" y1="159.2" x2="492.2" y2="160.4" stroke="rgb(162,162,162)" stroke-opacity="0.5" stroke-width="0.6"/>
<polygon points="399.9,177.2 401.7,180.6 395.5,180.3 392.7,179.3 387.5,180.9 389.6,176.3 387.2,172.9 393.5,170.4 395.3,174.0 400.3,174.5" fill="rgb(120,120,120)" fill-opacity="0.85" stroke="rgb(178,178,178)" stroke-opacity="0.55" stroke-width="0.7" stroke-linejoin="round"/>
<line x1="393.5" y1="170.4" x2="393.9" y2="175.3" stroke="rgb(178,178,178)" stroke-opacity="0.5" stroke-width="0.6"/>
<line x1="387.2" y1="172.9" x2="391.6" y2="175.5" stroke="rgb(178,178,178)" stroke-opacity="0.5" stroke-width="0.6"/>
<polygon points="443.9,138.1 445.9,138.8 448.6,142.7 452.7,149.1 450.9,151.3 446.6,151.9 445.1,154.5 442.2,148.6 441.5,145.0 439.6,139.0" fill="rgb(63,63,63)" fill-opacity="0.65" stroke="rgb(121,121,121)" stroke-opacity="0.55" stroke-width="0.7" stroke-linejoin="round"/>
<line x1="439.6" y1="139.0" x2="442.4" y2="142.2" stroke="rgb(121,121,121)" stroke-opacity="0.5" stroke-width="0.6"/>
<line x1="446.6" y1="151.9" x2="446.1" y2="148.8" stroke="rgb(121,121,121)" stroke-opacity="0.5" stroke-width="0.6"/>
<polygon points="454.9,132.8 454.4,131.1 455.2,128.1 459.4,126.4 461.8,123.4 464.0,125.3 465.8,129.9 461.0,130.5 462.0,134.1 457.1,132.6" fill="rgb(135,135,135)" fill-opacity="0.90" stroke="rgb(207,207,207)" stroke-opacity="0.55" stroke-width="0.7" stroke-linejoin="round"/>
<line x1="462.0" y1="134.1" x2="460.9" y2="132.1" stroke="rgb(207,207,207)" stroke-opacity="0.5" stroke-width="0.6"/>
<line x1="455.2" y1="128.1" x2="456.9" y2="128.6" stroke="rgb(207,207,207)" stroke-opacity="0.5" stroke-width="0.6"/>
<line x1="461.0" y1="130.5" x2="460.2" y2="129.9" stroke="rgb(207,207,207)" stroke-opacity="0.5" stroke-width="0.6"/>
<polygon points="397.3,169.8 400.0,169.9 400.1,172.3 399.1,175.6 397.3,174.7 395.2,176.2 392.3,178.2 392.0,174.3 392.4,172.0 395.7,170.3 396.2,168.1" fill="rgb(110,110,110)" fill-opacity="0.65" stroke="rgb(182,182,182)" stroke-opacity="0.55" stroke-width="0.7" stroke-linejoin="round"/>
<line x1="397.3" y1="169.8" x2="396.6" y2="171.4" stroke="rgb(182,182,182)" stroke-opacity="0.5" stroke-width="0.6"/>
<line x1="392.3" y1="178.2" x2="395.2" y2="173.7" stroke="rgb(182,182,182)" stroke-opacity="0.5" stroke-width="0.6"/>
<line x1="392.4" y1="172.0" x2="394.9" y2="172.1" stroke="rgb(182,182,182)" stroke-opacity="0.5" stroke-width="0.6"/>
<polygon points="384.8,145.6 380.9,144.0 383.1,136.0 387.3,138.5 394.3,134.2 394.9,137.5 396.0,143.6 389.3,144.0 387.7,144.3" fill="rgb(116,116,116)" fill-opacity="0.86" stroke="rgb(163,163,163)" stroke-opacity="0.55" stroke-width="0.7" stroke-linejoin="round"/>
<line x1="389.3" y1="144.0" x2="388.7" y2="142.7" stroke="rgb(163,163,163)" stroke-opacity="0.5" stroke-width="0.6"/>
<polygon points="391.5,103.2 390.3,105.4 387.0,104.9 382.1,101.1 383.8,100.0 379.7,95.8 385.3,96.5 386.3,96.8 388.7,94.0 391.0,98.9 393.4,100.2" fill="rgb(80,80,80)" fill-opacity="0.71" stroke="rgb(122,122,122)" stroke-opacity="0.55" stroke-width="0.7" stroke-linejoin="round"/>
<line x1="383.8" y1="100.0" x2="385.4" y2="99.6" stroke="rgb(122,122,122)" stroke-opacity="0.5" stroke-width="0.6"/>
<line x1="393.4" y1="100.2" x2="388.9" y2="99.4" stroke="rgb(122,122,122)" stroke-opacity="0.5" stroke-width="0.6"/>
<polygon points="436.3,109.5 435.1,110.4 433.8,111.4 430.7,110.4 431.2,108.8 432.9,108.4 435.5,107.5" fill="rgb(63,63,63)" fill-opacity="0.91" stroke="rgb(108,108,108)" stroke-opacity="0.55" stroke-width="0.7" stroke-linejoin="round"/>
<line x1="431.2" y1="108.8" x2="432.2" y2="109.1" stroke="rgb(108,108,108)" stroke-opacity="0.5" stroke-width="0.6"/>
<line x1="436.3" y1="109.5" x2="435.0" y2="109.5" stroke="rgb(108,108,108)" stroke-opacity="0.5" stroke-width="0.6"/>
<line x1="430.7" y1="110.4" x2="432.5" y2="109.9" stroke="rgb(108,108,108)" stroke-opacity="0.5" stroke-width="0.6"/>
<polygon points="473.3,160.8 474.9,160.0 473.5,162.9 473.9,164.8 471.9,164.8 471.4,163.7 469.7,163.3 471.3,161.8 472.4,159.6" fill="rgb(177,177,177)" fill-opacity="0.76" stroke="rgb(235,235,235)" stroke-opacity="0.55" stroke-width="0.7" stroke-linejoin="round"/>
<line x1="473.5" y1="162.9" x2="473.0" y2="162.7" stroke="rgb(235,235,235)" stroke-opacity="0.5" stroke-width="0.6"/>
<polygon points="365.3,158.6 363.6,159.1 363.6,157.6 363.4,154.4 365.2,154.5 366.2,154.8 367.5,157.9 365.9,158.2" fill="rgb(102,102,102)" fill-opacity="0.83" stroke="rgb(166,166,166)" stroke-opacity="0.55" stroke-width="0.7" stroke-linejoin="round"/>
<line x1="366.2" y1="154.8" x2="365.7" y2="155.8" stroke="rgb(166,166,166)" stroke-opacity="0.5" stroke-width="0.6"/>
<line x1="363.4" y1="154.4" x2="364.7" y2="156.5" stroke="rgb(166,166,166)" stroke-opacity="0.5" stroke-width="0.6"/>
<line x1="367.5" y1="157.9" x2="365.9" y2="157.5" stroke="rgb(166,166,166)" stroke-opacity="0.5" stroke-width="0.6"/>
<polygon points="418.8,179.6 416.8,178.3 415.3,177.8 413.6,177.0 412.4,173.8 415.4,172.5 418.6,174.2 420.0,173.7 421.8,176.3 421.8,180.1" fill="rgb(78,78,78)" fill-opacity="0.67" stroke="rgb(139,139,139)" stroke-opacity="0.55" stroke-width="0.7" stroke-linejoin="round"/>
<line x1="415.4" y1="172.5" x2="416.4" y2="174.2" stroke="rgb(139,139,139)" stroke-opacity="0.5" stroke-width="0.6"/>
<polygon points="339.1,176.7 338.3,179.4 334.4,177.9 332.3,179.0 332.5,177.7 332.5,176.1 333.0,175.0 333.6,173.2 336.2,172.4 339.1,173.8" fill="rgb(70,70,70)" fill-opacity="0.89" stroke="rgb(153,153,153)" stroke-opacity="0.55" stroke-width="0.7" stroke-linejoin="round"/>
<line x1="332.5" y1="177.7" x2="334.0" y2="176.5" stroke="rgb(153,153,153)" stroke-opacity="0.5" stroke-width="0.6"/>
<polygon points="394.5,166.1 393.2,166.6 390.3,164.8 392.1,163.1 391.8,160.6 393.0,160.2 394.4,161.8 396.3,163.3 394.9,164.2" fill="rgb(57,57,57)" fill-opacity="0.87" stroke="rgb(133,133,133)" stroke-opacity="0.55" stroke-width="0.7" stroke-linejoin="round"/>
<line x1="393.0" y1="160.2" x2="393.2" y2="161.5" stroke="rgb(133,133,133)" stroke-opacity="0.5" stroke-width="0.6"/>
<line x1="391.8" y1="160.6" x2="392.7" y2="161.9" stroke="rgb(133,133,133)" stroke-opacity="0.5" stroke-width="0.6"/>
<line x1="394.4" y1="161.8" x2="393.8" y2="162.9" stroke="rgb(133,133,133)" stroke-opacity="0.5" stroke-width="0.6"/>
<polygon points="415.4,152.5 421.1,152.9 423.2,155.4 426.5,158.1 424.2,160.6 423.8,162.1 420.3,162.2 419.1,158.1" fill="rgb(72,72,72)" fill-opacity="0.77" stroke="rgb(126,126,126)" stroke-opacity="0.55" stroke-width="0.7" stroke-linejoin="round"/>
<line x1="421.1" y1="152.9" x2="421.5" y2="155.0" stroke="rgb(126,126,126)" stroke-opacity="0.5" stroke-width="0.6"/>
<polygon points="489.5,141.6 491.2,143.1 492.9,142.7 492.9,144.5 493.4,145.7 492.4,147.3 491.8,147.9 489.7,148.8 488.6,146.5 487.8,145.4 489.6,144.7" fill="rgb(59,59,59)" fill-opacity="0.67" stroke="rgb(130,130,130)" stroke-opacity="0.55" stroke-width="0.7" stroke-linejoin="round"/>
<line x1="489.5" y1="141.6" x2="490.5" y2="144.3" stroke="rgb(130,130,130)" stroke-opacity="0.5" stroke-width="0.6"/>
<polygon points="470.0,182.2 469.5,176.7 473.1,174.0 472.5,172.0 477.5,172.0 481.0,172.0 483.3,173.2 483.2,175.6 478.7,177.5 477.2,181.6 473.0,182.4" fill="rgb(87,87,87)" fill-opacity="0.92" stroke="rgb(163,163,163)" stroke-opacity="0.55" stroke-width="0.7" stroke-linejoin="round"/>
<line x1="478.7" y1="177.5" x2="477.0" y2="176.7" stroke="rgb(163,163,163)" stroke-opacity="0.5" stroke-width="0.6"/>
<line x1="477.5" y1="172.0" x2="476.7" y2="174.9" stroke="rgb(163,163,163)" stroke-opacity="0.5" stroke-width="0.6"/>
<line x1="469.5" y1="176.7" x2="474.7" y2="176.4" stroke="rgb(163,163,163)" stroke-opacity="0.5" stroke-width="0.6"/>
<polygon points="485.0,81.9 490.1,83.0 493.8,82.8 494.9,85.3 498.2,86.5 495.6,90.2 493.9,95.6 490.2,91.6 487.8,87.9 481.6,87.7" fill="rgb(164,164,164)" fill-opacity="0.73" stroke="rgb(221,221,221)" stroke-opacity="0.55" stroke-width="0.7" stroke-linejoin="round"/>
<line x1="485.0" y1="81.9" x2="488.3" y2="84.1" stroke="rgb(221,221,221)" stroke-opacity="0.5" stroke-width="0.6"/>
<line x1="495.6" y1="90.2" x2="494.0" y2="88.6" stroke="rgb(221,221,221)" stroke-opacity="0.5" stroke-width="0.6"/>
<line x1="487.8" y1="87.9" x2="489.8" y2="87.2" stroke="rgb(221,221,221)" stroke-opacity="0.5" stroke-width="0.6"/>
<polygon points="376.3,177.2 379.8,181.8 385.7,180.8 382.7,184.0 383.0,186.6 384.6,190.6 381.2,192.7 376.5,188.6 376.6,187.0 372.6,183.4 376.4,183.2" fill="rgb(149,149,149)" fill-opacity="0.88" stroke="rgb(219,219,219)" stroke-opacity="0.55" stroke-width="0.7" stroke-linejoin="round"/>
<line x1="384.6" y1="190.6" x2="381.2" y2="187.0" stroke="rgb(219,219,219)" stroke-opacity="0.5" stroke-width="0.6"/>
<line x1="382.7" y1="184.0" x2="381.0" y2="184.5" stroke="rgb(219,219,219)" stroke-opacity="0.5" stroke-width="0.6"/>
<polygon points="370.6,67.9 372.1,66.1 374.0,62.9 377.8,67.4 379.8,70.1 377.5,74.3 373.2,77.9 370.3,76.1 368.9,69.7" fill="rgb(139,139,139)" fill-opacity="0.87" stroke="rgb(224,224,224)" stroke-opacity="0.55" stroke-width="0.7" stroke-linejoin="round"/>
<line x1="372.1" y1="66.1" x2="373.1" y2="68.3" stroke="rgb(224,224,224)" stroke-opacity="0.5" stroke-width="0.6"/>
<line x1="377.8" y1="67.4" x2="375.6" y2="68.5" stroke="rgb(224,224,224)" stroke-opacity="0.5" stroke-width="0.6"/>
<line x1="373.2" y1="77.9" x2="373.4" y2="73.4" stroke="rgb(224,224,224)" stroke-opacity="0.5" stroke-width="0.6"/>
<polygon points="497.5,103.0 500.7,103.2 505.0,99.4 507.1,105.3 505.8,109.7 504.3,112.9 498.8,112.8 497.2,106.4 497.4,104.6" fill="rgb(83,83,83)" fill-opacity="0.62" stroke="rgb(164,164,164)" stroke-opacity="0.55" stroke-width="0.7" stroke-linejoin="round"/>
<line x1="497.4" y1="104.6" x2="499.4" y2="105.5" stroke="rgb(164,164,164)" stroke-opacity="0.5" stroke-width="0.6"/>
<line x1="507.1" y1="105.3" x2="502.2" y2="105.7" stroke="rgb(164,164,164)" stroke-opacity="0.5" stroke-width="0.6"/>
<polygon points="421.7,186.0 421.2,182.6 421.6,181.2 424.6,178.6 426.2,179.7 429.0,180.7 427.9,182.9 426.7,184.0 425.5,186.2" fill="rgb(144,144,144)" fill-opacity="0.60" stroke="rgb(197,197,197)" stroke-opacity="0.55" stroke-width="0.7" stroke-linejoin="round"/>
<line x1="421.2" y1="182.6" x2="422.7" y2="182.5" stroke="rgb(197,197,197)" stroke-opacity="0.5" stroke-width="0.6"/>
<line x1="426.2" y1="179.7" x2="425.3" y2="181.6" stroke="rgb(197,197,197)" stroke-opacity="0.5" stroke-width="0.6"/>
<polygon points="454.7,85.4 459.0,84.0 460.2,83.0 465.6,83.5 464.2,87.1 462.8,88.2 461.3,88.9 458.4,90.8 455.3,88.3" fill="rgb(113,113,113)" fill-opacity="0.81" stroke="rgb(202,202,202)" stroke-opacity="0.55" stroke-width="0.7" stroke-linejoin="round"/>
<line x1="462.8" y1="88.2" x2="461.5" y2="87.3" stroke="rgb(202,202,202)" stroke-opacity="0.5" stroke-width="0.6"/>
<line x1="460.2" y1="83.0" x2="460.5" y2="85.4" stroke="rgb(202,202,202)" stroke-opacity="0.5" stroke-width="0.6"/>
<line x1="454.7" y1="85.4" x2="459.3" y2="86.4" stroke="rgb(202,202,202)" stroke-opacity="0.5" stroke-width="0.6"/>
<polygon points="481.1,177.8 485.0,177.1 486.6,180.5 486.5,182.6 487.7,185.5 485.1,186.7 484.3,187.4 482.6,185.1 480.4,184.5 478.7,182.1 478.2,180.2" fill="rgb(135,135,135)" fill-opacity="0.92" stroke="rgb(192,192,192)" stroke-opacity="0.55" stroke-width="0.7" stroke-linejoin="round"/>
<line x1="478.2" y1="180.2" x2="481.3" y2="181.9" stroke="rgb(192,192,192)" stroke-opacity="0.5" stroke-width="0.6"/>
<polygon points="358.1,132.0 361.4,133.0 358.4,135.5 357.0,136.8 356.0,138.3 352.7,139.3 353.1,137.3 354.2,134.8 354.1,132.1 355.6,131.9" fill="rgb(89,89,89)" fill-opacity="0.74" stroke="rgb(161,161,161)" stroke-opacity="0.55" stroke-width="0.7" stroke-linejoin="round"/>
<line x1="361.4" y1="133.0" x2="358.8" y2="134.1" stroke="rgb(161,161,161)" stroke-opacity="0.5" stroke-width="0.6"/>
<polygon points="352.4,59.1 357.6,58.7 359.1,61.5 362.9,65.4 362.5,68.8 360.7,71.9 357.1,68.9 353.6,65.7 352.7,61.6" fill="rgb(182,182,182)" fill-opacity="0.67" stroke="rgb(235,235,235)" stroke-opacity="0.55" stroke-width="0.7" stroke-linejoin="round"/>
<line x1="357.1" y1="68.9" x2="357.3" y2="66.0" stroke="rgb(235,235,235)" stroke-opacity="0.5" stroke-width="0.6"/>
<polygon points="383.2,83.0 379.2,86.5 376.5,87.0 374.9,84.2 373.8,81.7 375.0,78.6 377.8,77.5 380.3,80.8" fill="rgb(58,58,58)" fill-opacity="0.82" stroke="rgb(144,144,144)" stroke-opacity="0.55" stroke-width="0.7" stroke-linejoin="round"/>
<line x1="374.9" y1="84.2" x2="376.1" y2="83.5" stroke="rgb(144,144,144)" stroke-opacity="0.5" stroke-width="0.6"/>
<polygon points="326.2,196.9 331.6,193.2 334.4,189.3 337.6,191.8 340.5,194.8 337.6,197.5 330.9,200.3" fill="rgb(84,84,84)" fill-opacity="0.61" stroke="rgb(140,140,140)" stroke-opacity="0.55" stroke-width="0.7" stroke-linejoin="round"/>
<line x1="331.6" y1="193.2" x2="333.5" y2="194.2" stroke="rgb(140,140,140)" stroke-opacity="0.5" stroke-width="0.6"/>
<line x1="326.2" y1="196.9" x2="329.8" y2="195.8" stroke="rgb(140,140,140)" stroke-opacity="0.5" stroke-width="0.6"/>
<line x1="337.6" y1="197.5" x2="335.8" y2="196.0" stroke="rgb(140,140,140)" stroke-opacity="0.5" stroke-width="0.6"/>
<polygon points="338.6,117.9 335.4,118.4 334.4,116.0 335.6,109.7 338.0,109.1 341.8,113.2 340.9,117.4" fill="rgb(52,52,52)" fill-opacity="0.77" stroke="rgb(95,95,95)" stroke-opacity="0.55" stroke-width="0.7" stroke-linejoin="round"/>
<line x1="334.4" y1="116.0" x2="336.4" y2="115.5" stroke="rgb(95,95,95)" stroke-opacity="0.5" stroke-width="0.6"/>
<line x1="335.6" y1="109.7" x2="337.0" y2="112.6" stroke="rgb(95,95,95)" stroke-opacity="0.5" stroke-width="0.6"/>
<line x1="340.9" y1="117.4" x2="339.1" y2="115.8" stroke="rgb(95,95,95)" stroke-opacity="0.5" stroke-width="0.6"/>
<polygon points="469.2,128.3 472.1,130.7 474.0,131.3 474.6,136.5 474.2,139.5 471.2,139.6 469.1,144.6 468.9,137.8 465.8,138.9 467.3,134.2 468.2,128.2" fill="rgb(61,61,61)" fill-opacity="0.95" stroke="rgb(105,105,105)" stroke-opacity="0.55" stroke-width="0.7" stroke-linejoin="round"/>
<line x1="474.6" y1="136.5" x2="472.2" y2="136.3" stroke="rgb(105,105,105)" stroke-opacity="0.5" stroke-width="0.6"/>
<line x1="471.2" y1="139.6" x2="470.8" y2="138.2" stroke="rgb(105,105,105)" stroke-opacity="0.5" stroke-width="0.6"/>
<polygon points="499.9,54.6 498.4,54.2 497.3,52.6 496.7,50.2 498.7,50.4 499.3,49.3 500.5,49.6 501.2,49.5 501.4,52.4 500.9,53.2" fill="rgb(58,58,58)" fill-opacity="0.94" stroke="rgb(143,143,143)" stroke-opacity="0.55" stroke-width="0.7" stroke-linejoin="round"/>
<line x1="501.4" y1="52.4" x2="500.4" y2="51.9" stroke="rgb(143,143,143)" stroke-opacity="0.5" stroke-width="0.6"/>
<line x1="498.4" y1="54.2" x2="499.0" y2="52.4" stroke="rgb(143,143,143)" stroke-opacity="0.5" stroke-width="0.6"/>
<polygon points="453.7,72.1 451.4,67.6 450.7,64.6 449.8,61.1 453.5,61.0 456.5,57.1 457.2,61.9 462.5,65.0 459.5,68.0 457.3,70.3" fill="rgb(125,125,125)" fill-opacity="0.88" stroke="rgb(169,169,169)" stroke-opacity="0.55" stroke-width="0.7" stroke-linejoin="round"/>
<line x1="451.4" y1="67.6" x2="453.4" y2="65.8" stroke="rgb(169,169,169)" stroke-opacity="0.5" stroke-width="0.6"/>
<line x1="453.7" y1="72.1" x2="454.6" y2="66.0" stroke="rgb(169,169,169)" stroke-opacity="0.5" stroke-width="0.6"/>
<polygon points="461.6,193.4 459.9,193.7 456.2,189.9 456.4,187.9 458.6,186.2 460.4,185.4 463.6,184.7 464.9,187.5 463.4,191.2" fill="rgb(130,130,130)" fill-opacity="0.75" stroke="rgb(190,190,190)" stroke-opacity="0.55" stroke-width="0.7" stroke-linejoin="round"/>
<line x1="458.6" y1="186.2" x2="460.3" y2="188.3" stroke="rgb(190,190,190)" stroke-opacity="0.5" stroke-width="0.6"/>
<line x1="461.6" y1="193.4" x2="461.1" y2="190.6" stroke="rgb(190,190,190)" stroke-opacity="0.5" stroke-width="0.6"/>
<line x1="458.6" y1="186.2" x2="460.3" y2="188.3" stroke="rgb(190,190,190)" stroke-opacity="0.5" stroke-width="0.6"/>
<polygon points="432.8,142.7 434.8,141.8 436.6,140.6 437.5,141.4 438.2,141.5 438.5,142.6 439.7,144.1 435.7,144.0 432.7,144.2" fill="rgb(70,70,70)" fill-opacity="0.66" stroke="rgb(156,156,156)" stroke-opacity="0.55" stroke-width="0.7" stroke-linejoin="round"/>
<line x1="432.8" y1="142.7" x2="435.4" y2="142.3" stroke="rgb(156,156,156)" stroke-opacity="0.5" stroke-width="0.6"/>
<line x1="438.2" y1="141.5" x2="437.3" y2="141.9" stroke="rgb(156,156,156)" stroke-opacity="0.5" stroke-width="0.6"/>
<line x1="438.2" y1="141.5" x2="437.0" y2="142.0" stroke="rgb(156,156,156)" stroke-opacity="0.5" stroke-width="0.6"/>
<polygon points="529.8,138.6 531.2,143.8 526.7,144.7 520.8,152.9 519.2,146.9 519.9,142.9 517.1,136.8 523.7,134.8" fill="rgb(76,76,76)" fill-opacity="0.84" stroke="rgb(145,145,145)" stroke-opacity="0.55" stroke-width="0.7" stroke-linejoin="round"/>
<line x1="523.7" y1="134.8" x2="524.0" y2="139.2" stroke="rgb(145,145,145)" stroke-opacity="0.5" stroke-width="0.6"/>
<line x1="517.1" y1="136.8" x2="521.8" y2="140.3" stroke="rgb(145,145,145)" stroke-opacity="0.5" stroke-width="0.6"/>
<line x1="529.8" y1="138.6" x2="525.6" y2="141.3" stroke="rgb(145,145,145)" stroke-opacity="0.5" stroke-width="0.6"/>
<polygon points="379.8,164.4 381.6,168.2 384.1,171.8 379.1,174.2 376.1,177.3 371.4,178.3 366.8,176.3 371.9,170.0 374.2,164.3 377.4,165.9" fill="rgb(130,130,130)" fill-opacity="0.81" stroke="rgb(173,173,173)" stroke-opacity="0.55" stroke-width="0.7" stroke-linejoin="round"/>
<line x1="371.4" y1="178.3" x2="374.6" y2="173.4" stroke="rgb(173,173,173)" stroke-opacity="0.5" stroke-width="0.6"/>
<line x1="379.1" y1="174.2" x2="376.9" y2="171.9" stroke="rgb(173,173,173)" stroke-opacity="0.5" stroke-width="0.6"/>
<line x1="374.2" y1="164.3" x2="375.5" y2="168.9" stroke="rgb(173,173,173)" stroke-opacity="0.5" stroke-width="0.6"/>
<polygon points="339.3,105.7 343.2,105.8 346.7,107.1 345.1,110.5 344.2,111.0 342.4,111.3 338.6,107.4" fill="rgb(114,114,114)" fill-opacity="0.71" stroke="rgb(197,197,197)" stroke-opacity="0.55" stroke-width="0.7" stroke-linejoin="round"/>
<line x1="339.3" y1="105.7" x2="341.9" y2="107.8" stroke="rgb(197,197,197)" stroke-opacity="0.5" stroke-width="0.6"/>
<line x1="339.3" y1="105.7" x2="341.2" y2="107.3" stroke="rgb(197,197,197)" stroke-opacity="0.5" stroke-width="0.6"/>
<polygon points="533.9,85.3 529.4,83.0 527.5,79.4 530.8,74.4 530.0,69.7 536.5,72.7 542.1,74.8 544.0,79.3 542.1,86.6" fill="rgb(168,168,168)" fill-opacity="0.77" stroke="rgb(235,235,235)" stroke-opacity="0.55" stroke-width="0.7" stroke-linejoin="round"/>
<line x1="533.9" y1="85.3" x2="534.5" y2="81.2" stroke="rgb(235,235,235)" stroke-opacity="0.5" stroke-width="0.6"/>
<line x1="544.0" y1="79.3" x2="537.0" y2="78.6" stroke="rgb(235,235,235)" stroke-opacity="0.5" stroke-width="0.6"/>
<polygon points="517.8,172.5 516.0,174.4 513.3,173.6 509.6,173.1 512.0,171.3 512.5,170.6 515.5,169.7 516.8,170.6" fill="rgb(72,72,72)" fill-opacity="0.86" stroke="rgb(141,141,141)" stroke-opacity="0.55" stroke-width="0.7" stroke-linejoin="round"/>
<line x1="512.0" y1="171.3" x2="513.2" y2="171.7" stroke="rgb(141,141,141)" stroke-opacity="0.5" stroke-width="0.6"/>
<line x1="513.3" y1="173.6" x2="513.9" y2="172.4" stroke="rgb(141,141,141)" stroke-opacity="0.5" stroke-width="0.6"/>
<polygon points="519.4,75.9 516.4,75.9 514.6,68.9 519.2,62.4 523.3,61.5 524.4,65.4 526.9,67.7 524.6,73.4 523.4,80.9" fill="rgb(63,63,63)" fill-opacity="0.87" stroke="rgb(121,121,121)" stroke-opacity="0.55" stroke-width="0.7" stroke-linejoin="round"/>
<line x1="514.6" y1="68.9" x2="520.0" y2="70.3" stroke="rgb(121,121,121)" stroke-opacity="0.5" stroke-width="0.6"/>
<polygon points="529.0,157.5 528.4,159.0 526.0,157.2 523.1,156.7 523.8,154.7 522.9,151.9 524.3,152.4 525.5,151.7 528.4,152.8 528.9,156.1" fill="rgb(125,125,125)" fill-opacity="0.85" stroke="rgb(196,196,196)" stroke-opacity="0.55" stroke-width="0.7" stroke-linejoin="round"/>
<line x1="528.9" y1="156.1" x2="526.7" y2="155.4" stroke="rgb(196,196,196)" stroke-opacity="0.5" stroke-width="0.6"/>
<line x1="525.5" y1="151.7" x2="525.8" y2="153.8" stroke="rgb(196,196,196)" stroke-opacity="0.5" stroke-width="0.6"/>
<line x1="526.0" y1="157.2" x2="526.0" y2="156.4" stroke="rgb(196,196,196)" stroke-opacity="0.5" stroke-width="0.6"/>
<polygon points="396.7,149.7 399.2,148.6 400.5,148.0 403.1,147.9 402.6,150.0 403.3,152.2 402.6,153.2 400.9,154.3 399.2,151.7 396.6,151.2" fill="rgb(185,185,185)" fill-opacity="0.80" stroke="rgb(235,235,235)" stroke-opacity="0.55" stroke-width="0.7" stroke-linejoin="round"/>
<line x1="399.2" y1="148.6" x2="400.0" y2="149.6" stroke="rgb(235,235,235)" stroke-opacity="0.5" stroke-width="0.6"/>
<polygon points="551.3,135.3 543.2,139.7 544.1,143.3 533.9,144.2 536.8,139.1 535.1,136.5 537.4,135.3 541.4,131.4 547.5,132.2" fill="rgb(146,146,146)" fill-opacity="0.73" stroke="rgb(194,194,194)" stroke-opacity="0.55" stroke-width="0.7" stroke-linejoin="round"/>
<line x1="541.4" y1="131.4" x2="541.0" y2="134.3" stroke="rgb(194,194,194)" stroke-opacity="0.5" stroke-width="0.6"/>
<line x1="543.2" y1="139.7" x2="541.2" y2="138.4" stroke="rgb(194,194,194)" stroke-opacity="0.5" stroke-width="0.6"/>
<polygon points="375.5,173.8 374.5,171.5 376.7,171.9 379.2,172.4 382.3,175.4 382.1,177.2 380.0,177.3 376.8,175.6 373.8,175.7 374.6,173.9" fill="rgb(91,91,91)" fill-opacity="0.88" stroke="rgb(154,154,154)" stroke-opacity="0.55" stroke-width="0.7" stroke-linejoin="round"/>
<line x1="379.2" y1="172.4" x2="378.0" y2="173.5" stroke="rgb(154,154,154)" stroke-opacity="0.5" stroke-width="0.6"/>
<polygon points="403.6,69.3 402.4,70.9 399.8,68.0 400.4,66.8 400.7,65.3 402.1,64.9 404.8,66.7 406.0,69.4" fill="rgb(131,131,131)" fill-opacity="0.70" stroke="rgb(176,176,176)" stroke-opacity="0.55" stroke-width="0.7" stroke-linejoin="round"/>
<line x1="403.6" y1="69.3" x2="402.9" y2="68.4" stroke="rgb(176,176,176)" stroke-opacity="0.5" stroke-width="0.6"/>
<polygon points="538.8,187.0 541.4,182.6 545.4,185.1 546.6,187.9 546.6,189.3 550.9,192.2 548.3,196.6 545.0,194.9 541.9,193.3 536.8,193.4 536.3,191.4" fill="rgb(84,84,84)" fill-opacity="0.87" stroke="rgb(132,132,132)" stroke-opacity="0.55" stroke-width="0.7" stroke-linejoin="round"/>
<line x1="538.8" y1="187.0" x2="542.7" y2="189.9" stroke="rgb(132,132,132)" stroke-opacity="0.5" stroke-width="0.6"/>
<polygon points="470.0,154.4 471.3,151.9 475.3,156.8 474.4,161.0 471.4,163.3 469.6,161.2 466.6,159.9 468.0,156.7" fill="rgb(144,144,144)" fill-opacity="0.84" stroke="rgb(209,209,209)" stroke-opacity="0.55" stroke-width="0.7" stroke-linejoin="round"/>
<line x1="475.3" y1="156.8" x2="473.2" y2="157.3" stroke="rgb(209,209,209)" stroke-opacity="0.5" stroke-width="0.6"/>
<line x1="466.6" y1="159.9" x2="468.6" y2="158.9" stroke="rgb(209,209,209)" stroke-opacity="0.5" stroke-width="0.6"/>
<polygon points="349.9,159.2 346.8,154.2 352.4,156.1 361.1,157.6 359.8,162.4 357.8,164.7 354.2,166.1 350.3,165.1 349.7,161.4" fill="rgb(183,183,183)" fill-opacity="0.88" stroke="rgb(235,235,235)" stroke-opacity="0.55" stroke-width="0.7" stroke-linejoin="round"/>
<line x1="349.9" y1="159.2" x2="352.4" y2="160.2" stroke="rgb(235,235,235)" stroke-opacity="0.5" stroke-width="0.6"/>
<line x1="346.8" y1="154.2" x2="349.4" y2="156.8" stroke="rgb(235,235,235)" stroke-opacity="0.5" stroke-width="0.6"/>
<line x1="354.2" y1="166.1" x2="353.5" y2="162.2" stroke="rgb(235,235,235)" stroke-opacity="0.5" stroke-width="0.6"/>
<polygon points="426.2,183.6 424.6,180.9 432.3,179.4 437.4,178.3 441.0,180.5 439.1,184.5 439.4,188.0 435.7,187.9 432.5,189.3 429.4,189.1 427.1,187.1" fill="rgb(59,59,59)" fill-opacity="0.73" stroke="rgb(138,138,138)" stroke-opacity="0.55" stroke-width="0.7" stroke-linejoin="round"/>
<line x1="439.1" y1="184.5" x2="434.4" y2="185.0" stroke="rgb(138,138,138)" stroke-opacity="0.5" stroke-width="0.6"/>
<polygon points="468.6,102.6 468.4,104.9 469.5,112.5 464.8,112.7 461.1,110.0 460.4,106.5 460.1,98.7 465.3,97.3" fill="rgb(76,76,76)" fill-opacity="0.66" stroke="rgb(127,127,127)" stroke-opacity="0.55" stroke-width="0.7" stroke-linejoin="round"/>
<line x1="468.4" y1="104.9" x2="465.9" y2="105.3" stroke="rgb(127,127,127)" stroke-opacity="0.5" stroke-width="0.6"/>
<line x1="465.3" y1="97.3" x2="465.0" y2="103.1" stroke="rgb(127,127,127)" stroke-opacity="0.5" stroke-width="0.6"/>
<line x1="465.3" y1="97.3" x2="465.0" y2="103.1" stroke="rgb(127,127,127)" stroke-opacity="0.5" stroke-width="0.6"/>
<polygon points="527.0,191.1 521.2,195.1 517.7,194.8 514.9,192.7 509.6,188.9 515.7,184.0 519.2,187.7" fill="rgb(58,58,58)" fill-opacity="0.72" stroke="rgb(114,114,114)" stroke-opacity="0.55" stroke-width="0.7" stroke-linejoin="round"/>
<line x1="515.7" y1="184.0" x2="516.6" y2="187.4" stroke="rgb(114,114,114)" stroke-opacity="0.5" stroke-width="0.6"/>
<line x1="519.2" y1="187.7" x2="518.0" y2="189.8" stroke="rgb(114,114,114)" stroke-opacity="0.5" stroke-width="0.6"/>
<polygon points="435.6,169.1 436.6,171.2 432.6,173.6 430.8,176.0 425.9,175.8 423.7,173.3 427.1,169.9 431.7,169.8" fill="rgb(94,94,94)" fill-opacity="0.70" stroke="rgb(169,169,169)" stroke-opacity="0.55" stroke-width="0.7" stroke-linejoin="round"/>
<line x1="435.6" y1="169.1" x2="432.1" y2="171.5" stroke="rgb(169,169,169)" stroke-opacity="0.5" stroke-width="0.6"/>
<line x1="431.7" y1="169.8" x2="431.2" y2="171.3" stroke="rgb(169,169,169)" stroke-opacity="0.5" stroke-width="0.6"/>
<line x1="427.1" y1="169.9" x2="430.1" y2="171.9" stroke="rgb(169,169,169)" stroke-opacity="0.5" stroke-width="0.6"/>
<polygon points="340.3,184.1 339.0,181.6 340.5,179.9 342.0,176.8 345.3,176.9 348.3,178.5 346.2,182.7 342.3,182.8" fill="rgb(116,116,116)" fill-opacity="0.72" stroke="rgb(180,180,180)" stroke-opacity="0.55" stroke-width="0.7" stroke-linejoin="round"/>
<line x1="339.0" y1="181.6" x2="340.8" y2="181.1" stroke="rgb(180,180,180)" stroke-opacity="0.5" stroke-width="0.6"/>
<line x1="340.5" y1="179.9" x2="341.7" y2="180.2" stroke="rgb(180,180,180)" stroke-opacity="0.5" stroke-width="0.6"/>
<line x1="346.2" y1="182.7" x2="344.7" y2="181.8" stroke="rgb(180,180,180)" stroke-opacity="0.5" stroke-width="0.6"/>
<polygon points="417.6,82.5 417.7,83.4 415.1,83.3 413.4,83.1 412.7,82.5 413.4,81.9 414.6,80.9 415.8,81.6" fill="rgb(162,162,162)" fill-opacity="0.73" stroke="rgb(235,235,235)" stroke-opacity="0.55" stroke-width="0.7" stroke-linejoin="round"/>
<line x1="415.1" y1="83.3" x2="415.0" y2="82.9" stroke="rgb(235,235,235)" stroke-opacity="0.5" stroke-width="0.6"/>
<line x1="414.6" y1="80.9" x2="414.9" y2="82.1" stroke="rgb(235,235,235)" stroke-opacity="0.5" stroke-width="0.6"/>
<polygon points="351.1,162.7 351.6,165.2 348.9,164.4 347.1,164.5 344.1,163.1 345.2,160.3 349.4,160.2 351.2,160.1" fill="rgb(141,141,141)" fill-opacity="0.81" stroke="rgb(221,221,221)" stroke-opacity="0.55" stroke-width="0.7" stroke-linejoin="round"/>
<line x1="351.1" y1="162.7" x2="349.7" y2="162.7" stroke="rgb(221,221,221)" stroke-opacity="0.5" stroke-width="0.6"/>
<line x1="351.6" y1="165.2" x2="350.4" y2="164.0" stroke="rgb(221,221,221)" stroke-opacity="0.5" stroke-width="0.6"/>
<line x1="349.4" y1="160.2" x2="349.1" y2="161.4" stroke="rgb(221,221,221)" stroke-opacity="0.5" stroke-width="0.6"/>
<polygon points="411.3,72.8 412.6,73.1 413.5,74.6 414.7,75.4 415.3,78.6 413.1,80.1 411.3,77.0 409.7,76.1 408.7,74.4" fill="rgb(108,108,108)" fill-opacity="0.76" stroke="rgb(163,163,163)" stroke-opacity="0.55" stroke-width="0.7" stroke-linejoin="round"/>
<line x1="413.1" y1="80.1" x2="412.4" y2="77.0" stroke="rgb(163,163,163)" stroke-opacity="0.5" stroke-width="0.6"/>
<line x1="411.3" y1="77.0" x2="411.6" y2="76.4" stroke="rgb(163,163,163)" stroke-opacity="0.5" stroke-width="0.6"/>
<line x1="413.1" y1="80.1" x2="412.4" y2="77.0" stroke="rgb(163,163,163)" stroke-opacity="0.5" stroke-width="0.6"/>
<polygon points="392.4,116.3 395.4,115.7 396.1,115.8 396.2,118.6 399.0,120.5 396.2,120.1 395.9,122.2 394.8,120.7 394.4,120.5 391.1,120.1 392.2,118.9" fill="rgb(180,180,180)" fill-opacity="0.76" stroke="rgb(235,235,235)" stroke-opacity="0.55" stroke-width="0.7" stroke-linejoin="round"/>
<line x1="394.4" y1="120.5" x2="394.7" y2="120.1" stroke="rgb(235,235,235)" stroke-opacity="0.5" stroke-width="0.6"/>
<line x1="395.9" y1="122.2" x2="395.4" y2="120.6" stroke="rgb(235,235,235)" stroke-opacity="0.5" stroke-width="0.6"/>
<polygon points="396.9,63.3 402.9,66.4 405.0,66.1 407.3,68.1 412.5,69.3 410.8,75.3 408.1,73.6 404.3,75.6 398.7,72.9 401.1,68.3" fill="rgb(144,144,144)" fill-opacity="0.91" stroke="rgb(203,203,203)" stroke-opacity="0.55" stroke-width="0.7" stroke-linejoin="round"/>
<line x1="412.5" y1="69.3" x2="408.4" y2="69.2" stroke="rgb(203,203,203)" stroke-opacity="0.5" stroke-width="0.6"/>
<polygon points="387.6,180.5 386.4,179.9 386.8,177.8 386.6,174.7 389.2,174.4 389.4,177.1 389.9,180.6" fill="rgb(167,167,167)" fill-opacity="0.73" stroke="rgb(218,218,218)" stroke-opacity="0.55" stroke-width="0.7" stroke-linejoin="round"/>
<line x1="389.2" y1="174.4" x2="388.3" y2="176.8" stroke="rgb(218,218,218)" stroke-opacity="0.5" stroke-width="0.6"/>
<line x1="387.6" y1="180.5" x2="387.6" y2="179.3" stroke="rgb(218,218,218)" stroke-opacity="0.5" stroke-width="0.6"/>
<line x1="386.4" y1="179.9" x2="387.4" y2="178.6" stroke="rgb(218,218,218)" stroke-opacity="0.5" stroke-width="0.6"/>
<polygon points="406.3,161.2 404.0,161.4 404.3,162.6 401.1,161.6 400.0,161.0 396.9,159.6 398.2,159.0 401.3,158.2 401.7,158.4 405.3,157.8 404.1,159.1" fill="rgb(180,180,180)" fill-opacity="0.70" stroke="rgb(235,235,235)" stroke-opacity="0.55" stroke-width="0.7" stroke-linejoin="round"/>
<line x1="401.1" y1="161.6" x2="401.9" y2="160.3" stroke="rgb(235,235,235)" stroke-opacity="0.5" stroke-width="0.6"/>
<polygon points="416.4,119.0 417.7,117.4 421.5,114.5 426.7,116.0 421.8,119.8 420.6,124.8 414.2,123.7" fill="rgb(111,111,111)" fill-opacity="0.73" stroke="rgb(151,151,151)" stroke-opacity="0.55" stroke-width="0.7" stroke-linejoin="round"/>
<line x1="426.7" y1="116.0" x2="422.7" y2="117.8" stroke="rgb(151,151,151)" stroke-opacity="0.5" stroke-width="0.6"/>
<polygon points="460.4,152.6 460.6,150.8 463.9,150.5 467.3,153.4 466.2,157.4 463.0,156.7 462.1,159.5 459.5,156.8 457.7,154.3" fill="rgb(88,88,88)" fill-opacity="0.93" stroke="rgb(168,168,168)" stroke-opacity="0.55" stroke-width="0.7" stroke-linejoin="round"/>
<line x1="460.6" y1="150.8" x2="461.6" y2="153.5" stroke="rgb(168,168,168)" stroke-opacity="0.5" stroke-width="0.6"/>
<line x1="460.6" y1="150.8" x2="461.6" y2="153.5" stroke="rgb(168,168,168)" stroke-opacity="0.5" stroke-width="0.6"/>
<polygon points="515.2,143.0 516.8,138.6 521.8,135.6 525.9,136.7 529.3,131.7 534.9,138.9 531.4,141.5 526.7,145.9 525.1,144.9 520.2,145.5" fill="rgb(153,153,153)" fill-opacity="0.83" stroke="rgb(219,219,219)" stroke-opacity="0.55" stroke-width="0.7" stroke-linejoin="round"/>
<line x1="525.1" y1="144.9" x2="524.8" y2="142.8" stroke="rgb(219,219,219)" stroke-opacity="0.5" stroke-width="0.6"/>
<line x1="531.4" y1="141.5" x2="526.2" y2="141.3" stroke="rgb(219,219,219)" stroke-opacity="0.5" stroke-width="0.6"/>
<line x1="531.4" y1="141.5" x2="528.5" y2="141.4" stroke="rgb(219,219,219)" stroke-opacity="0.5" stroke-width="0.6"/>
<polygon points="347.1,75.3 346.1,80.7 346.1,85.7 341.6,88.9 340.5,86.4 340.9,83.0 342.4,80.5" fill="rgb(102,102,102)" fill-opacity="0.81" stroke="rgb(188,188,188)" stroke-opacity="0.55" stroke-width="0.7" stroke-linejoin="round"/>
<line x1="346.1" y1="80.7" x2="344.0" y2="82.1" stroke="rgb(188,188,188)" stroke-opacity="0.5" stroke-width="0.6"/>
<polygon points="487.8,42.5 485.9,44.8 484.1,48.0 486.2,52.5 478.1,54.7 474.0,54.8 474.8,52.2 477.2,48.1 478.7,43.5 481.8,38.4 482.5,44.0" fill="rgb(122,122,122)" fill-opacity="0.78" stroke="rgb(188,188,188)" stroke-opacity="0.55" stroke-width="0.7" stroke-linejoin="round"/>
<line x1="487.8" y1="42.5" x2="484.2" y2="45.1" stroke="rgb(188,188,188)" stroke-opacity="0.5" stroke-width="0.6"/>
<line x1="487.8" y1="42.5" x2="484.5" y2="44.9" stroke="rgb(188,188,188)" stroke-opacity="0.5" stroke-width="0.6"/>
<line x1="474.0" y1="54.8" x2="479.5" y2="49.1" stroke="rgb(188,188,188)" stroke-opacity="0.5" stroke-width="0.6"/>
<polygon points="384.9,61.2 382.2,64.7 379.7,66.5 376.3,68.5 373.9,67.7 375.7,62.0 381.6,58.8" fill="rgb(150,150,150)" fill-opacity="0.88" stroke="rgb(221,221,221)" stroke-opacity="0.55" stroke-width="0.7" stroke-linejoin="round"/>
<line x1="382.2" y1="64.7" x2="379.9" y2="64.9" stroke="rgb(221,221,221)" stroke-opacity="0.5" stroke-width="0.6"/>
<line x1="379.7" y1="66.5" x2="379.5" y2="65.8" stroke="rgb(221,221,221)" stroke-opacity="0.5" stroke-width="0.6"/>
<polygon points="343.3,137.4 344.4,136.1 348.9,137.1 350.7,141.1 352.5,142.9 349.1,144.1 346.9,147.9 342.1,147.1 343.1,142.7 342.7,141.0" fill="rgb(111,111,111)" fill-opacity="0.79" stroke="rgb(167,167,167)" stroke-opacity="0.55" stroke-width="0.7" stroke-linejoin="round"/>
<line x1="343.1" y1="142.7" x2="344.7" y2="142.2" stroke="rgb(167,167,167)" stroke-opacity="0.5" stroke-width="0.6"/>
<line x1="350.7" y1="141.1" x2="348.6" y2="141.4" stroke="rgb(167,167,167)" stroke-opacity="0.5" stroke-width="0.6"/>
<line x1="342.1" y1="147.1" x2="345.5" y2="143.2" stroke="rgb(167,167,167)" stroke-opacity="0.5" stroke-width="0.6"/>
<polygon points="487.3,128.2 488.4,127.9 490.6,130.3 491.9,131.8 490.2,133.6 488.8,133.0 487.9,132.1 486.3,130.8" fill="rgb(51,51,51)" fill-opacity="0.87" stroke="rgb(141,141,141)" stroke-opacity="0.55" stroke-width="0.7" stroke-linejoin="round"/>
<line x1="490.6" y1="130.3" x2="489.9" y2="130.7" stroke="rgb(141,141,141)" stroke-opacity="0.5" stroke-width="0.6"/>
<line x1="486.3" y1="130.8" x2="488.4" y2="131.1" stroke="rgb(141,141,141)" stroke-opacity="0.5" stroke-width="0.6"/>
<line x1="487.3" y1="128.2" x2="488.0" y2="129.5" stroke="rgb(141,141,141)" stroke-opacity="0.5" stroke-width="0.6"/>
<polygon points="410.5,168.6 409.5,169.5 407.4,169.9 404.5,169.3 405.7,167.4 406.0,166.9 407.6,166.6 408.0,167.1" fill="rgb(178,178,178)" fill-opacity="0.77" stroke="rgb(232,232,232)" stroke-opacity="0.55" stroke-width="0.7" stroke-linejoin="round"/>
<line x1="406.0" y1="166.9" x2="406.7" y2="167.5" stroke="rgb(232,232,232)" stroke-opacity="0.5" stroke-width="0.6"/>
<polygon points="434.6,190.1 434.5,193.1 435.1,194.7 434.4,196.0 432.5,200.9 431.0,197.0 426.9,198.6 429.1,193.4 430.4,192.1 433.1,190.1" fill="rgb(157,157,157)" fill-opacity="0.69" stroke="rgb(205,205,205)" stroke-opacity="0.55" stroke-width="0.7" stroke-linejoin="round"/>
<line x1="434.6" y1="190.1" x2="433.2" y2="192.8" stroke="rgb(205,205,205)" stroke-opacity="0.5" stroke-width="0.6"/>
<line x1="434.5" y1="193.1" x2="433.0" y2="193.9" stroke="rgb(205,205,205)" stroke-opacity="0.5" stroke-width="0.6"/>
<line x1="435.1" y1="194.7" x2="433.9" y2="194.5" stroke="rgb(205,205,205)" stroke-opacity="0.5" stroke-width="0.6"/>
<polygon points="340.3,143.1 339.7,142.8 339.3,141.4 340.1,140.1 340.7,138.1 341.4,136.0 343.2,138.0 344.9,139.2 343.4,141.2 343.1,144.1 341.3,144.6" fill="rgb(61,61,61)" fill-opacity="0.81" stroke="rgb(119,119,119)" stroke-opacity="0.55" stroke-width="0.7" stroke-linejoin="round"/>
<line x1="343.4" y1="141.2" x2="342.4" y2="141.1" stroke="rgb(119,119,119)" stroke-opacity="0.5" stroke-width="0.6"/>
<line x1="343.1" y1="144.1" x2="342.3" y2="142.7" stroke="rgb(119,119,119)" stroke-opacity="0.5" stroke-width="0.6"/>
<line x1="344.9" y1="139.2" x2="343.1" y2="140.1" stroke="rgb(119,119,119)" stroke-opacity="0.5" stroke-width="0.6"/>
<polygon points="380.8,92.0 381.1,89.1 381.1,88.4 379.8,87.2 381.2,86.0 382.6,85.9 383.4,85.1 384.6,86.2 383.5,87.9 383.6,89.6 382.4,89.5" fill="rgb(64,64,64)" fill-opacity="0.90" stroke="rgb(148,148,148)" stroke-opacity="0.55" stroke-width="0.7" stroke-linejoin="round"/>
<line x1="383.6" y1="89.6" x2="382.7" y2="88.6" stroke="rgb(148,148,148)" stroke-opacity="0.5" stroke-width="0.6"/>
<line x1="383.5" y1="87.9" x2="382.9" y2="87.9" stroke="rgb(148,148,148)" stroke-opacity="0.5" stroke-width="0.6"/>
<polygon points="341.8,146.6 340.6,147.2 338.5,146.1 337.1,143.9 337.0,142.3 338.7,142.8 339.2,141.0 339.9,143.3 341.7,144.0" fill="rgb(119,119,119)" fill-opacity="0.89" stroke="rgb(188,188,188)" stroke-opacity="0.55" stroke-width="0.7" stroke-linejoin="round"/>
<line x1="337.0" y1="142.3" x2="338.1" y2="143.1" stroke="rgb(188,188,188)" stroke-opacity="0.5" stroke-width="0.6"/>
<line x1="339.2" y1="141.0" x2="339.2" y2="142.3" stroke="rgb(188,188,188)" stroke-opacity="0.5" stroke-width="0.6"/>
<polygon points="402.4,71.2 400.6,70.2 401.6,68.5 403.7,63.3 406.2,66.8 407.9,64.9 407.6,69.5 410.7,71.2 407.3,72.7 404.7,71.8" fill="rgb(156,156,156)" fill-opacity="0.74" stroke="rgb(226,226,226)" stroke-opacity="0.55" stroke-width="0.7" stroke-linejoin="round"/>
<line x1="407.3" y1="72.7" x2="405.6" y2="70.4" stroke="rgb(226,226,226)" stroke-opacity="0.5" stroke-width="0.6"/>
<line x1="410.7" y1="71.2" x2="408.3" y2="70.5" stroke="rgb(226,226,226)" stroke-opacity="0.5" stroke-width="0.6"/>
<polygon points="417.6,161.9 419.2,164.4 420.8,168.6 416.4,170.8 414.4,171.7 409.4,166.0 410.0,159.8" fill="rgb(71,71,71)" fill-opacity="0.88" stroke="rgb(130,130,130)" stroke-opacity="0.55" stroke-width="0.7" stroke-linejoin="round"/>
<line x1="420.8" y1="168.6" x2="417.0" y2="167.4" stroke="rgb(130,130,130)" stroke-opacity="0.5" stroke-width="0.6"/>
<line x1="420.8" y1="168.6" x2="418.2" y2="167.8" stroke="rgb(130,130,130)" stroke-opacity="0.5" stroke-width="0.6"/>
<polygon points="546.8,149.1 545.6,152.2 543.8,152.9 540.6,149.5 539.8,149.0 540.0,147.1 541.6,145.7 544.9,146.0 546.4,148.4" fill="rgb(91,91,91)" fill-opacity="0.81" stroke="rgb(151,151,151)" stroke-opacity="0.55" stroke-width="0.7" stroke-linejoin="round"/>
<line x1="546.8" y1="149.1" x2="545.0" y2="148.9" stroke="rgb(151,151,151)" stroke-opacity="0.5" stroke-width="0.6"/>
<polygon points="368.2,177.5 366.8,177.4 365.4,175.2 363.8,172.9 366.2,173.3 368.2,173.3 368.4,175.3" fill="rgb(94,94,94)" fill-opacity="0.65" stroke="rgb(159,159,159)" stroke-opacity="0.55" stroke-width="0.7" stroke-linejoin="round"/>
<line x1="368.2" y1="177.5" x2="367.3" y2="175.9" stroke="rgb(159,159,159)" stroke-opacity="0.5" stroke-width="0.6"/>
<polygon points="366.6,144.7 369.3,148.9 370.2,150.3 372.4,153.6 371.5,157.5 368.8,156.7 364.4,158.5 362.8,154.9 364.7,150.1 362.4,146.0" fill="rgb(100,100,100)" fill-opacity="0.69" stroke="rgb(181,181,181)" stroke-opacity="0.55" stroke-width="0.7" stroke-linejoin="round"/>
<line x1="364.4" y1="158.5" x2="366.6" y2="153.6" stroke="rgb(181,181,181)" stroke-opacity="0.5" stroke-width="0.6"/>
<line x1="364.7" y1="150.1" x2="365.9" y2="150.9" stroke="rgb(181,181,181)" stroke-opacity="0.5" stroke-width="0.6"/>
<polygon points="387.1,74.9 384.0,78.2 380.7,75.5 376.8,70.6 379.3,67.9 383.3,68.8 385.2,72.6" fill="rgb(182,182,182)" fill-opacity="0.86" stroke="rgb(235,235,235)" stroke-opacity="0.55" stroke-width="0.7" stroke-linejoin="round"/>
<line x1="379.3" y1="67.9" x2="381.1" y2="70.7" stroke="rgb(235,235,235)" stroke-opacity="0.5" stroke-width="0.6"/>
<line x1="376.8" y1="70.6" x2="379.5" y2="71.8" stroke="rgb(235,235,235)" stroke-opacity="0.5" stroke-width="0.6"/>
<polygon points="345.4,171.8 342.0,168.9 338.9,167.8 339.9,164.2 342.9,164.9 344.8,166.4 347.4,168.3" fill="rgb(59,59,59)" fill-opacity="0.71" stroke="rgb(109,109,109)" stroke-opacity="0.55" stroke-width="0.7" stroke-linejoin="round"/>
<line x1="339.9" y1="164.2" x2="341.6" y2="166.2" stroke="rgb(109,109,109)" stroke-opacity="0.5" stroke-width="0.6"/>
<line x1="342.0" y1="168.9" x2="342.4" y2="168.1" stroke="rgb(109,109,109)" stroke-opacity="0.5" stroke-width="0.6"/>
<line x1="342.9" y1="164.9" x2="342.8" y2="166.1" stroke="rgb(109,109,109)" stroke-opacity="0.5" stroke-width="0.6"/>
<polygon points="488.4,97.3 488.0,100.0 486.0,96.0 485.1,94.0 486.0,93.5 485.8,90.4 487.6,93.8 489.9,95.4 491.0,97.8" fill="rgb(110,110,110)" fill-opacity="0.63" stroke="rgb(158,158,158)" stroke-opacity="0.55" stroke-width="0.7" stroke-linejoin="round"/>
<line x1="487.6" y1="93.8" x2="487.5" y2="94.8" stroke="rgb(158,158,158)" stroke-opacity="0.5" stroke-width="0.6"/>
<line x1="488.4" y1="97.3" x2="487.7" y2="95.9" stroke="rgb(158,158,158)" stroke-opacity="0.5" stroke-width="0.6"/>
<polygon points="389.9,134.2 385.6,138.6 384.6,132.5 377.2,128.9 381.5,126.7 385.1,120.5 386.7,120.6 393.5,124.9 391.9,128.6 389.7,131.8" fill="rgb(89,89,89)" fill-opacity="0.93" stroke="rgb(146,146,146)" stroke-opacity="0.55" stroke-width="0.7" stroke-linejoin="round"/>
<line x1="385.6" y1="138.6" x2="386.8" y2="131.7" stroke="rgb(146,146,146)" stroke-opacity="0.5" stroke-width="0.6"/>
<line x1="381.5" y1="126.7" x2="384.6" y2="128.5" stroke="rgb(146,146,146)" stroke-opacity="0.5" stroke-width="0.6"/>
<polygon points="374.6,175.4 377.0,174.6 379.3,168.4 381.6,171.8 384.7,170.8 383.8,174.9 383.9,177.8 382.6,180.0 378.8,182.4 374.7,181.2" fill="rgb(137,137,137)" fill-opacity="0.70" stroke="rgb(214,214,214)" stroke-opacity="0.55" stroke-width="0.7" stroke-linejoin="round"/>
<line x1="374.6" y1="175.4" x2="379.1" y2="175.6" stroke="rgb(214,214,214)" stroke-opacity="0.5" stroke-width="0.6"/>
<line x1="377.0" y1="174.6" x2="378.6" y2="175.0" stroke="rgb(214,214,214)" stroke-opacity="0.5" stroke-width="0.6"/>
<polygon points="462.7,52.2 465.8,49.4 467.3,54.5 466.8,59.4 465.5,59.6 464.0,60.7 461.1,61.3 461.1,56.2 461.2,52.0" fill="rgb(166,166,166)" fill-opacity="0.76" stroke="rgb(232,232,232)" stroke-opacity="0.55" stroke-width="0.7" stroke-linejoin="round"/>
<line x1="466.8" y1="59.4" x2="465.1" y2="57.8" stroke="rgb(232,232,232)" stroke-opacity="0.5" stroke-width="0.6"/>
<line x1="467.3" y1="54.5" x2="465.4" y2="55.6" stroke="rgb(232,232,232)" stroke-opacity="0.5" stroke-width="0.6"/>
<line x1="465.5" y1="59.6" x2="464.3" y2="57.3" stroke="rgb(232,232,232)" stroke-opacity="0.5" stroke-width="0.6"/>
<polygon points="415.8,147.6 413.1,147.3 413.9,142.9 417.8,140.1 419.3,141.4 424.1,140.1 421.8,144.3 421.9,145.8 420.5,147.8 418.0,150.3 412.4,152.1" fill="rgb(57,57,57)" fill-opacity="0.79" stroke="rgb(137,137,137)" stroke-opacity="0.55" stroke-width="0.7" stroke-linejoin="round"/>
<line x1="419.3" y1="141.4" x2="418.9" y2="144.5" stroke="rgb(137,137,137)" stroke-opacity="0.5" stroke-width="0.6"/>
<line x1="413.9" y1="142.9" x2="417.8" y2="144.9" stroke="rgb(137,137,137)" stroke-opacity="0.5" stroke-width="0.6"/>
<polygon points="470.0,102.6 468.5,103.2 466.4,100.8 461.6,98.5 461.3,96.4 465.9,96.4 466.6,93.4 470.2,95.6 473.3,99.8 473.3,103.5" fill="rgb(54,54,54)" fill-opacity="0.90" stroke="rgb(99,99,99)" stroke-opacity="0.55" stroke-width="0.7" stroke-linejoin="round"/>
<line x1="466.4" y1="100.8" x2="467.2" y2="99.6" stroke="rgb(99,99,99)" stroke-opacity="0.5" stroke-width="0.6"/>
<line x1="466.6" y1="93.4" x2="467.2" y2="97.5" stroke="rgb(99,99,99)" stroke-opacity="0.5" stroke-width="0.6"/>
<line x1="461.6" y1="98.5" x2="465.3" y2="99.0" stroke="rgb(99,99,99)" stroke-opacity="0.5" stroke-width="0.6"/>
<polygon points="545.6,47.6 542.1,48.8 540.5,50.2 539.1,48.1 538.0,46.1 539.1,44.4 541.8,43.2 543.4,45.8" fill="rgb(141,141,141)" fill-opacity="0.85" stroke="rgb(231,231,231)" stroke-opacity="0.55" stroke-width="0.7" stroke-linejoin="round"/>
<line x1="545.6" y1="47.6" x2="542.0" y2="47.0" stroke="rgb(231,231,231)" stroke-opacity="0.5" stroke-width="0.6"/>
<line x1="538.0" y1="46.1" x2="539.7" y2="46.5" stroke="rgb(231,231,231)" stroke-opacity="0.5" stroke-width="0.6"/>
<polygon points="356.9,130.5 357.1,134.9 352.0,134.9 345.7,131.1 350.9,128.5 349.6,125.6 352.1,120.8 357.5,126.3 359.2,129.0" fill="rgb(63,63,63)" fill-opacity="0.77" stroke="rgb(103,103,103)" stroke-opacity="0.55" stroke-width="0.7" stroke-linejoin="round"/>
<line x1="345.7" y1="131.1" x2="350.5" y2="130.1" stroke="rgb(103,103,103)" stroke-opacity="0.5" stroke-width="0.6"/>
<line x1="352.0" y1="134.9" x2="353.1" y2="132.0" stroke="rgb(103,103,103)" stroke-opacity="0.5" stroke-width="0.6"/>
<polygon points="437.3,154.4 437.7,154.6 439.7,154.2 438.2,156.7 438.6,158.3 437.2,158.5 436.8,159.1 434.8,158.1 434.4,156.2 435.7,155.1 436.8,154.8" fill="rgb(184,184,184)" fill-opacity="0.65" stroke="rgb(234,234,234)" stroke-opacity="0.55" stroke-width="0.7" stroke-linejoin="round"/>
<line x1="435.7" y1="155.1" x2="436.4" y2="155.6" stroke="rgb(234,234,234)" stroke-opacity="0.5" stroke-width="0.6"/>
<line x1="436.8" y1="159.1" x2="437.0" y2="157.7" stroke="rgb(234,234,234)" stroke-opacity="0.5" stroke-width="0.6"/>
<polygon points="535.2,94.4 538.0,96.9 533.7,99.1 532.3,101.8 527.6,101.3 526.0,101.7 523.8,99.1 523.7,97.8 528.1,92.9 529.9,95.8 534.9,93.0" fill="rgb(111,111,111)" fill-opacity="0.64" stroke="rgb(184,184,184)" stroke-opacity="0.55" stroke-width="0.7" stroke-linejoin="round"/>
<line x1="523.7" y1="97.8" x2="527.4" y2="97.9" stroke="rgb(184,184,184)" stroke-opacity="0.5" stroke-width="0.6"/>
<line x1="523.7" y1="97.8" x2="526.5" y2="97.9" stroke="rgb(184,184,184)" stroke-opacity="0.5" stroke-width="0.6"/>
<polygon points="397.5,80.9 402.2,79.1 399.2,73.4 404.6,73.9 409.2,72.0 409.7,77.3 412.3,82.8 410.6,84.4 403.4,87.7 399.8,87.0" fill="rgb(183,183,183)" fill-opacity="0.94" stroke="rgb(235,235,235)" stroke-opacity="0.55" stroke-width="0.7" stroke-linejoin="round"/>
<line x1="399.8" y1="87.0" x2="403.1" y2="82.8" stroke="rgb(235,235,235)" stroke-opacity="0.5" stroke-width="0.6"/>
<line x1="399.8" y1="87.0" x2="403.5" y2="82.3" stroke="rgb(235,235,235)" stroke-opacity="0.5" stroke-width="0.6"/>
<line x1="409.2" y1="72.0" x2="407.0" y2="76.5" stroke="rgb(235,235,235)" stroke-opacity="0.5" stroke-width="0.6"/>
<polygon points="479.8,110.0 481.8,112.4 484.6,111.2 485.4,114.1 485.9,117.5 482.3,116.5 480.6,116.2 478.5,116.0 476.9,112.4" fill="rgb(180,180,180)" fill-opacity="0.91" stroke="rgb(235,235,235)" stroke-opacity="0.55" stroke-width="0.7" stroke-linejoin="round"/>
<line x1="481.8" y1="112.4" x2="481.6" y2="113.4" stroke="rgb(235,235,235)" stroke-opacity="0.5" stroke-width="0.6"/>
<polygon points="361.1,169.1 361.7,168.3 363.3,167.0 365.9,169.0 365.9,171.0 363.8,170.7 362.9,171.6 361.6,171.1 359.9,170.9" fill="rgb(92,92,92)" fill-opacity="0.74" stroke="rgb(155,155,155)" stroke-opacity="0.55" stroke-width="0.7" stroke-linejoin="round"/>
<line x1="361.7" y1="168.3" x2="362.4" y2="169.5" stroke="rgb(155,155,155)" stroke-opacity="0.5" stroke-width="0.6"/>
<polygon points="485.6,102.9 482.7,105.8 479.8,107.8 475.7,108.1 472.3,106.8 472.5,105.6 468.0,102.5 473.9,102.8 476.1,101.2 482.2,100.5" fill="rgb(75,75,75)" fill-opacity="0.61" stroke="rgb(165,165,165)" stroke-opacity="0.55" stroke-width="0.7" stroke-linejoin="round"/>
<line x1="472.3" y1="106.8" x2="473.8" y2="106.0" stroke="rgb(165,165,165)" stroke-opacity="0.5" stroke-width="0.6"/>
<line x1="473.9" y1="102.8" x2="474.8" y2="103.9" stroke="rgb(165,165,165)" stroke-opacity="0.5" stroke-width="0.6"/>
<line x1="479.8" y1="107.8" x2="477.5" y2="106.1" stroke="rgb(165,165,165)" stroke-opacity="0.5" stroke-width="0.6"/>
<polygon points="489.2,189.0 488.7,191.4 486.0,194.4 483.0,194.2 480.0,191.0 482.8,187.8 486.6,186.2" fill="rgb(101,101,101)" fill-opacity="0.64" stroke="rgb(181,181,181)" stroke-opacity="0.55" stroke-width="0.7" stroke-linejoin="round"/>
<line x1="482.8" y1="187.8" x2="484.2" y2="188.9" stroke="rgb(181,181,181)" stroke-opacity="0.5" stroke-width="0.6"/>
<line x1="486.0" y1="194.4" x2="485.9" y2="191.6" stroke="rgb(181,181,181)" stroke-opacity="0.5" stroke-width="0.6"/>
<line x1="488.7" y1="191.4" x2="487.1" y2="190.8" stroke="rgb(181,181,181)" stroke-opacity="0.5" stroke-width="0.6"/>
<polygon points="441.3,179.9 435.3,178.5 432.4,183.9 429.9,183.4 428.1,178.5 428.2,176.0 424.2,171.0 424.9,169.6 434.3,168.0 437.1,171.4 435.3,174.8" fill="rgb(165,165,165)" fill-opacity="0.90" stroke="rgb(221,221,221)" stroke-opacity="0.55" stroke-width="0.7" stroke-linejoin="round"/>
<line x1="424.9" y1="169.6" x2="429.5" y2="174.0" stroke="rgb(221,221,221)" stroke-opacity="0.5" stroke-width="0.6"/>
<polygon points="458.9,177.2 455.6,172.3 457.4,167.6 456.5,162.7 459.7,159.5 463.0,160.0 466.5,165.8 462.8,169.7 464.4,173.4" fill="rgb(157,157,157)" fill-opacity="0.90" stroke="rgb(209,209,209)" stroke-opacity="0.55" stroke-width="0.7" stroke-linejoin="round"/>
<line x1="455.6" y1="172.3" x2="458.8" y2="168.7" stroke="rgb(209,209,209)" stroke-opacity="0.5" stroke-width="0.6"/>
<line x1="466.5" y1="165.8" x2="461.7" y2="167.1" stroke="rgb(209,209,209)" stroke-opacity="0.5" stroke-width="0.6"/>
<polygon points="423.7,161.3 425.4,157.3 422.7,154.9 428.0,150.9 428.9,153.1 430.0,156.4 430.9,158.7 426.9,159.9" fill="rgb(149,149,149)" fill-opacity="0.74" stroke="rgb(219,219,219)" stroke-opacity="0.55" stroke-width="0.7" stroke-linejoin="round"/>
<line x1="426.9" y1="159.9" x2="427.0" y2="158.5" stroke="rgb(219,219,219)" stroke-opacity="0.5" stroke-width="0.6"/>
<line x1="425.4" y1="157.3" x2="426.4" y2="157.1" stroke="rgb(219,219,219)" stroke-opacity="0.5" stroke-width="0.6"/>
<line x1="425.4" y1="157.3" x2="426.5" y2="157.0" stroke="rgb(219,219,219)" stroke-opacity="0.5" stroke-width="0.6"/>
<polygon points="342.0,78.5 339.4,78.6 337.8,78.2 337.8,74.6 338.7,73.2 339.0,72.3 342.4,71.9 344.6,73.1 342.7,76.6" fill="rgb(175,175,175)" fill-opacity="0.67" stroke="rgb(235,235,235)" stroke-opacity="0.55" stroke-width="0.7" stroke-linejoin="round"/>
<line x1="344.6" y1="73.1" x2="341.2" y2="74.5" stroke="rgb(235,235,235)" stroke-opacity="0.5" stroke-width="0.6"/>
<polygon points="410.2,56.5 408.4,54.3 407.8,53.6 406.4,52.2 406.5,50.0 408.2,50.4 409.1,51.3 410.0,52.0 410.3,53.0 410.1,53.5" fill="rgb(175,175,175)" fill-opacity="0.69" stroke="rgb(219,219,219)" stroke-opacity="0.55" stroke-width="0.7" stroke-linejoin="round"/>
<line x1="408.4" y1="54.3" x2="408.7" y2="53.2" stroke="rgb(219,219,219)" stroke-opacity="0.5" stroke-width="0.6"/>
<line x1="409.1" y1="51.3" x2="409.0" y2="52.1" stroke="rgb(219,219,219)" stroke-opacity="0.5" stroke-width="0.6"/>
<polygon points="522.8,197.2 525.7,194.3 529.9,191.9 535.7,190.7 536.9,193.8 531.1,196.4 526.1,198.3" fill="rgb(153,153,153)" fill-opacity="0.71" stroke="rgb(233,233,233)" stroke-opacity="0.55" stroke-width="0.7" stroke-linejoin="round"/>
<line x1="525.7" y1="194.3" x2="528.6" y2="194.5" stroke="rgb(233,233,233)" stroke-opacity="0.5" stroke-width="0.6"/>
<polygon points="431.2,47.8 433.4,49.7 436.5,50.2 436.8,51.9 436.3,55.4 433.3,53.2 431.2,52.9 428.8,50.4" fill="rgb(94,94,94)" fill-opacity="0.77" stroke="rgb(179,179,179)" stroke-opacity="0.55" stroke-width="0.7" stroke-linejoin="round"/>
<line x1="431.2" y1="52.9" x2="432.6" y2="52.1" stroke="rgb(179,179,179)" stroke-opacity="0.5" stroke-width="0.6"/>
<polygon points="531.6,124.4 534.1,119.7 532.2,116.8 536.3,114.3 539.9,116.3 543.3,115.9 542.1,119.9 540.0,125.0 536.9,127.2" fill="rgb(153,153,153)" fill-opacity="0.63" stroke="rgb(222,222,222)" stroke-opacity="0.55" stroke-width="0.7" stroke-linejoin="round"/>
<line x1="532.2" y1="116.8" x2="534.8" y2="118.1" stroke="rgb(222,222,222)" stroke-opacity="0.5" stroke-width="0.6"/>
<line x1="532.2" y1="116.8" x2="535.1" y2="118.2" stroke="rgb(222,222,222)" stroke-opacity="0.5" stroke-width="0.6"/>
<polygon points="384.2,63.4 385.2,62.5 387.0,64.7 389.2,65.6 390.7,67.6 389.4,69.9 387.5,69.9 385.5,68.8 383.0,68.4 381.2,65.7" fill="rgb(101,101,101)" fill-opacity="0.73" stroke="rgb(191,191,191)" stroke-opacity="0.55" stroke-width="0.7" stroke-linejoin="round"/>
<line x1="389.2" y1="65.6" x2="387.9" y2="66.1" stroke="rgb(191,191,191)" stroke-opacity="0.5" stroke-width="0.6"/>
<line x1="390.7" y1="67.6" x2="388.3" y2="67.2" stroke="rgb(191,191,191)" stroke-opacity="0.5" stroke-width="0.6"/>
<polygon points="535.7,94.7 533.5,93.9 530.4,91.4 528.6,89.0 531.6,88.4 532.3,85.3 533.8,88.8 537.0,92.2" fill="rgb(92,92,92)" fill-opacity="0.83" stroke="rgb(149,149,149)" stroke-opacity="0.55" stroke-width="0.7" stroke-linejoin="round"/>
<line x1="535.7" y1="94.7" x2="534.4" y2="92.6" stroke="rgb(149,149,149)" stroke-opacity="0.5" stroke-width="0.6"/>
<polygon points="552.4,147.2 551.4,153.5 548.4,160.1 542.9,156.8 537.1,154.1 543.0,150.2 544.2,145.0" fill="rgb(183,183,183)" fill-opacity="0.73" stroke="rgb(235,235,235)" stroke-opacity="0.55" stroke-width="0.7" stroke-linejoin="round"/>
<line x1="551.4" y1="153.5" x2="547.9" y2="153.0" stroke="rgb(235,235,235)" stroke-opacity="0.5" stroke-width="0.6"/>
<line x1="552.4" y1="147.2" x2="548.1" y2="150.7" stroke="rgb(235,235,235)" stroke-opacity="0.5" stroke-width="0.6"/>
<line x1="548.4" y1="160.1" x2="546.9" y2="155.7" stroke="rgb(235,235,235)" stroke-opacity="0.5" stroke-width="0.6"/>
<polygon points="467.9,114.4 466.7,115.4 463.5,114.7 461.8,114.3 462.0,112.3 461.9,111.6 463.3,111.3 464.8,110.2 467.7,112.5" fill="rgb(94,94,94)" fill-opacity="0.86" stroke="rgb(154,154,154)" stroke-opacity="0.55" stroke-width="0.7" stroke-linejoin="round"/>
<line x1="463.5" y1="114.7" x2="463.7" y2="113.4" stroke="rgb(154,154,154)" stroke-opacity="0.5" stroke-width="0.6"/>
<line x1="466.7" y1="115.4" x2="464.9" y2="113.6" stroke="rgb(154,154,154)" stroke-opacity="0.5" stroke-width="0.6"/>
<polygon points="481.5,151.0 479.3,155.2 475.7,155.8 472.3,158.5 470.5,156.2 470.3,154.7 469.7,151.3 473.3,151.7 474.9,152.2" fill="rgb(176,176,176)" fill-opacity="0.85" stroke="rgb(235,235,235)" stroke-opacity="0.55" stroke-width="0.7" stroke-linejoin="round"/>
<line x1="474.9" y1="152.2" x2="474.2" y2="153.7" stroke="rgb(235,235,235)" stroke-opacity="0.5" stroke-width="0.6"/>
<line x1="469.7" y1="151.3" x2="472.8" y2="153.3" stroke="rgb(235,235,235)" stroke-opacity="0.5" stroke-width="0.6"/>
<polygon points="467.7,123.4 472.3,123.4 472.1,128.4 473.3,131.6 471.8,135.7 468.3,131.3 467.7,130.0 468.2,127.2" fill="rgb(102,102,102)" fill-opacity="0.66" stroke="rgb(176,176,176)" stroke-opacity="0.55" stroke-width="0.7" stroke-linejoin="round"/>
<line x1="472.1" y1="128.4" x2="471.0" y2="128.9" stroke="rgb(176,176,176)" stroke-opacity="0.5" stroke-width="0.6"/>
<line x1="468.2" y1="127.2" x2="469.0" y2="128.5" stroke="rgb(176,176,176)" stroke-opacity="0.5" stroke-width="0.6"/>
<line x1="473.3" y1="131.6" x2="470.5" y2="130.0" stroke="rgb(176,176,176)" stroke-opacity="0.5" stroke-width="0.6"/>
<polygon points="463.3,100.7 463.4,104.0 458.9,103.7 452.5,104.0 451.0,101.1 455.8,99.2 458.6,98.6 460.4,99.3" fill="rgb(50,50,50)" fill-opacity="0.95" stroke="rgb(92,92,92)" stroke-opacity="0.55" stroke-width="0.7" stroke-linejoin="round"/>
<line x1="452.5" y1="104.0" x2="455.6" y2="102.3" stroke="rgb(92,92,92)" stroke-opacity="0.5" stroke-width="0.6"/>
<line x1="451.0" y1="101.1" x2="456.3" y2="100.7" stroke="rgb(92,92,92)" stroke-opacity="0.5" stroke-width="0.6"/>
<line x1="455.8" y1="99.2" x2="457.2" y2="99.9" stroke="rgb(92,92,92)" stroke-opacity="0.5" stroke-width="0.6"/>
<polygon points="415.3,86.5 417.5,86.7 419.0,84.1 420.7,87.6 421.9,89.3 419.8,90.2 419.2,92.5 416.9,91.4 414.3,91.0 416.0,87.7" fill="rgb(82,82,82)" fill-opacity="0.85" stroke="rgb(134,134,134)" stroke-opacity="0.55" stroke-width="0.7" stroke-linejoin="round"/>
<line x1="420.7" y1="87.6" x2="418.9" y2="88.4" stroke="rgb(134,134,134)" stroke-opacity="0.5" stroke-width="0.6"/>
<line x1="419.0" y1="84.1" x2="418.5" y2="86.5" stroke="rgb(134,134,134)" stroke-opacity="0.5" stroke-width="0.6"/>
<line x1="420.7" y1="87.6" x2="419.5" y2="88.2" stroke="rgb(134,134,134)" stroke-opacity="0.5" stroke-width="0.6"/>
<polygon points="453.9,152.2 454.0,151.1 455.7,150.3 456.8,151.0 457.2,151.4 457.3,152.9 455.8,152.5" fill="rgb(79,79,79)" fill-opacity="0.64" stroke="rgb(144,144,144)" stroke-opacity="0.55" stroke-width="0.7" stroke-linejoin="round"/>
<line x1="455.7" y1="150.3" x2="455.9" y2="151.1" stroke="rgb(144,144,144)" stroke-opacity="0.5" stroke-width="0.6"/>
<polygon points="445.6,169.1 447.6,169.8 445.0,171.0 443.9,171.7 441.8,171.2 441.5,170.1 440.4,169.0 442.3,168.1 445.0,166.6 446.1,167.8" fill="rgb(165,165,165)" fill-opacity="0.86" stroke="rgb(214,214,214)" stroke-opacity="0.55" stroke-width="0.7" stroke-linejoin="round"/>
<line x1="442.3" y1="168.1" x2="443.6" y2="169.1" stroke="rgb(214,214,214)" stroke-opacity="0.5" stroke-width="0.6"/>
<line x1="447.6" y1="169.8" x2="445.4" y2="169.6" stroke="rgb(214,214,214)" stroke-opacity="0.5" stroke-width="0.6"/>
<line x1="440.4" y1="169.0" x2="443.1" y2="169.4" stroke="rgb(214,214,214)" stroke-opacity="0.5" stroke-width="0.6"/>
<polygon points="512.7,47.2 515.6,50.4 518.8,48.7 520.6,53.7 517.3,55.1 514.9,55.7 512.5,54.5 508.3,49.8" fill="rgb(54,54,54)" fill-opacity="0.69" stroke="rgb(128,128,128)" stroke-opacity="0.55" stroke-width="0.7" stroke-linejoin="round"/>
<line x1="515.6" y1="50.4" x2="515.3" y2="51.2" stroke="rgb(128,128,128)" stroke-opacity="0.5" stroke-width="0.6"/>
<polygon points="458.6,61.5 457.2,66.0 454.3,61.2 450.7,58.5 452.2,57.5 451.9,52.6 457.3,57.2 459.6,59.1" fill="rgb(107,107,107)" fill-opacity="0.68" stroke="rgb(176,176,176)" stroke-opacity="0.55" stroke-width="0.7" stroke-linejoin="round"/>
<line x1="450.7" y1="58.5" x2="454.2" y2="58.8" stroke="rgb(176,176,176)" stroke-opacity="0.5" stroke-width="0.6"/>
<polygon points="538.1,81.0 539.9,81.7 541.5,82.4 541.2,84.1 541.7,86.2 539.3,85.0 536.2,82.6" fill="rgb(111,111,111)" fill-opacity="0.75" stroke="rgb(168,168,168)" stroke-opacity="0.55" stroke-width="0.7" stroke-linejoin="round"/>
<line x1="539.3" y1="85.0" x2="539.4" y2="84.2" stroke="rgb(168,168,168)" stroke-opacity="0.5" stroke-width="0.6"/>
<line x1="538.1" y1="81.0" x2="539.1" y2="82.5" stroke="rgb(168,168,168)" stroke-opacity="0.5" stroke-width="0.6"/>
<line x1="541.7" y1="86.2" x2="540.4" y2="84.2" stroke="rgb(168,168,168)" stroke-opacity="0.5" stroke-width="0.6"/>
<polygon points="343.7,129.2 341.8,130.5 339.8,131.2 338.0,130.8 336.2,131.3 333.8,130.7 334.2,129.0 336.8,128.2 339.3,126.0 340.7,127.5" fill="rgb(126,126,126)" fill-opacity="0.84" stroke="rgb(178,178,178)" stroke-opacity="0.55" stroke-width="0.7" stroke-linejoin="round"/>
<line x1="338.0" y1="130.8" x2="338.0" y2="130.2" stroke="rgb(178,178,178)" stroke-opacity="0.5" stroke-width="0.6"/>
<line x1="339.3" y1="126.0" x2="338.5" y2="128.3" stroke="rgb(178,178,178)" stroke-opacity="0.5" stroke-width="0.6"/>
<polygon points="498.3,97.5 499.8,100.3 500.5,103.9 501.1,109.7 495.0,109.6 494.1,106.2 492.7,101.4 493.4,96.2" fill="rgb(89,89,89)" fill-opacity="0.79" stroke="rgb(146,146,146)" stroke-opacity="0.55" stroke-width="0.7" stroke-linejoin="round"/>
<line x1="501.1" y1="109.7" x2="498.4" y2="105.6" stroke="rgb(146,146,146)" stroke-opacity="0.5" stroke-width="0.6"/>
<line x1="500.5" y1="103.9" x2="497.7" y2="103.5" stroke="rgb(146,146,146)" stroke-opacity="0.5" stroke-width="0.6"/>
<polygon points="517.2,99.5 514.8,99.4 515.0,96.5 513.7,94.2 515.5,93.5 516.9,93.0 518.4,95.9 518.7,98.7" fill="rgb(131,131,131)" fill-opacity="0.80" stroke="rgb(221,221,221)" stroke-opacity="0.55" stroke-width="0.7" stroke-linejoin="round"/>
<line x1="515.0" y1="96.5" x2="516.0" y2="96.0" stroke="rgb(221,221,221)" stroke-opacity="0.5" stroke-width="0.6"/>
<line x1="515.0" y1="96.5" x2="515.6" y2="96.2" stroke="rgb(221,221,221)" stroke-opacity="0.5" stroke-width="0.6"/>
<line x1="517.2" y1="99.5" x2="516.7" y2="97.4" stroke="rgb(221,221,221)" stroke-opacity="0.5" stroke-width="0.6"/>
<polygon points="541.9,112.3 543.1,113.7 542.4,116.0 543.4,118.7 539.2,117.9 536.1,119.4 536.5,116.9 536.8,115.5 537.4,114.1 540.1,111.5 540.9,111.0" fill="rgb(150,150,150)" fill-opacity="0.90" stroke="rgb(235,235,235)" stroke-opacity="0.55" stroke-width="0.7" stroke-linejoin="round"/>
<line x1="537.4" y1="114.1" x2="538.6" y2="114.5" stroke="rgb(235,235,235)" stroke-opacity="0.5" stroke-width="0.6"/>
<polygon points="431.9,141.0 435.9,145.4 429.3,143.3 427.0,141.8 423.1,141.5 424.5,137.9 427.2,137.6 429.4,136.3 432.6,139.4" fill="rgb(84,84,84)" fill-opacity="0.88" stroke="rgb(127,127,127)" stroke-opacity="0.55" stroke-width="0.7" stroke-linejoin="round"/>
<line x1="432.6" y1="139.4" x2="430.2" y2="140.0" stroke="rgb(127,127,127)" stroke-opacity="0.5" stroke-width="0.6"/>
<line x1="429.4" y1="136.3" x2="429.1" y2="139.2" stroke="rgb(127,127,127)" stroke-opacity="0.5" stroke-width="0.6"/>
</g>
<rect x="337.5" y="47.5" width="206.5" height="143.5" filter="url(#gr)" opacity="0.3" style="mix-blend-mode:overlay"/>
<g clip-path="url(#ci)">
<rect x="338.5" y="49" width="83" height="57" fill="#8e8e8e"/>
<rect x="338.5" y="49" width="83" height="57" filter="url(#tc)" opacity="0.35" style="mix-blend-mode:overlay"/>
<path d="M338,50 L356,50 L354,70 L350,85 L340,98 L338,98 Z" fill="#6c6c6c" opacity="0.8"/>
<path d="M360,50 L372,50 L378,66 L368,70 L360,64 Z" fill="#a8a8a8" opacity="0.5"/>
<path d="M378,64 L398,70 L404,84 L394,86 L384,76 Z" fill="#a0a0a0" opacity="0.6"/>
<path d="M404,84 L414,82 L420,92 L418,104 L406,104 L402,94 Z" fill="#b4b4b4" opacity="0.8"/>
<line x1="384" y1="52" x2="377" y2="66" stroke="#c8c8c8" stroke-width="0.8" opacity="0.7"/>
<line x1="410" y1="62" x2="400" y2="72" stroke="#c8c8c8" stroke-width="0.8" opacity="0.7"/>
<line x1="362" y1="52" x2="370" y2="70" stroke="#b0b0b0" stroke-width="0.7" opacity="0.6"/>
<path d="M346,107 C347.5,100 351,95 356,92.5 C361,91 365,92 367,95 C368,99 368,103 367,107 Z" fill="#1a1a1a"/>
<path d="M356,100 C358,96 362,95 364,98 L365,104 L357,106 Z" fill="#6a6a6a"/>
<path d="M368,92 C374,90 381,92 386,97 L392,106 L370,107 Z" fill="#8a8a8a"/>
<path d="M339.3,99.6 C341,94 342.5,91.5 344.8,88.7 C347.5,85 350,82.4 352.6,80.1 C355.5,77.7 358,75.8 360.5,74.6 C363,73.4 364.8,72.9 366.7,72.7 C369.5,72.7 372,73.6 374.5,74.6 C377,75.8 380,77 382.3,78.5 C385,80.5 387.7,82 390.2,84 C392.5,86 394.5,88 396.4,90.2 C398.5,93 400.5,95.5 401.9,98 L404.2,102.7 L398.8,99.6 C396.8,97.5 395,95.3 393.3,93.3 C391,91 389,89 387,87.1 C384.5,85.5 382,84 379.2,83.2 C376.5,82.2 374,81.6 371.4,81.6 C368.6,81.8 366,82.2 363.6,83.2 C361.2,84.5 359.2,85.7 357.3,87.1 C355,89 353,91 351.1,93.3 C349.2,95.8 347.6,98.5 346.4,101.2 L344,106.5 L339,106.5 Z" fill="#cbcbcb"/>
<path d="M339.3,99.6 C341,94 342.5,91.5 344.8,88.7 C347.5,85 350,82.4 352.6,80.1 C355.5,77.7 358,75.8 360.5,74.6 C363,73.4 364.8,72.9 366.7,72.7 C369.5,72.7 372,73.6 374.5,74.6 C377,75.8 380,77 382.3,78.5 C385,80.5 387.7,82 390.2,84 C392.5,86 394.5,88 396.4,90.2 C398.5,93 400.5,95.5 401.9,98 L404.2,102.7" fill="none" stroke="#ececec" stroke-width="1.4"/>
<path d="M343,104 C346,96 351,88 358,83 C363,79.5 368,78 373,78.3" fill="none" stroke="#e0e0e0" stroke-width="1" opacity="0.7"/>
</g>
<rect x="338.5" y="49" width="83" height="57" fill="none" stroke="#fff" stroke-width="0.9"/>
<rect x="444" y="103.5" width="20.8" height="13.6" fill="#7a7a7a" opacity="0.6"/>
<path d="M445,116 C447,111 450,108.5 454,108.5 C457,109 459,111 461,115" fill="none" stroke="#cfcfcf" stroke-width="1.2"/>
<path d="M449,117 C450,114 452,112 454.5,112 C456.5,112.5 457.5,114 458,117 Z" fill="#2a2a2a"/>
<rect x="443.7" y="103.3" width="21.2" height="14" fill="none" stroke="#fff" stroke-width="0.9"/>
<line x1="421.4" y1="49" x2="464.9" y2="103.3" stroke="#fff" stroke-width="0.7"/>
<line x1="338.5" y1="106.6" x2="443.7" y2="117.3" stroke="#fff" stroke-width="0.7"/>
<rect x="399.3" y="49.8" width="20.8" height="13.2" fill="#fff"/>
<rect x="401.2" y="50.4" width="18" height="1.7" fill="#000"/>
<text x="410.2" y="61.5" font-size="7.6" fill="#111" text-anchor="middle">5 µm</text>
<rect x="524" y="51" width="17" height="16.5" fill="#6c6c6c" opacity="0.9"/>
<text x="523.6" y="63.2" font-size="14.6" fill="#f4f4f4" stroke="#f4f4f4" stroke-width="0.35">(c)</text>
<rect x="341.5" y="175.5" width="25" height="14" fill="#fff"/>
<rect x="342.9" y="176.4" width="23" height="1.6" fill="#000"/>
<text x="354" y="186.9" font-size="8" font-weight="bold" fill="#111" text-anchor="middle">50 µm</text>
<rect x="503.9" y="171.1" width="37.9" height="16.4" fill="#fff"/>
<text x="522.6" y="183" font-size="10.5" font-weight="bold" fill="#000" text-anchor="middle">GNPs</text>
</g>
<!-- info boxes -->
<rect x="47.5" y="192.3" width="62.5" height="48.6" fill="#fff" stroke="#d0d0d0" stroke-width="1"/>
<g font-size="8.75" fill="#333" text-anchor="middle">
<text x="78.5" y="204" font-weight="bold" fill="#1a1a1a" text-decoration="underline">AA2024</text>
<text x="78.5" y="215">Dv<tspan font-size="5.5" dy="1.5">10</tspan><tspan dy="-1.5">= 20 µm</tspan></text>
<text x="78.5" y="225.3">Dv<tspan font-size="5.5" dy="1.5">50</tspan><tspan dy="-1.5">= 37.6 µm</tspan></text>
<text x="78.5" y="235.6">Dv<tspan font-size="5.5" dy="1.5">90</tspan><tspan dy="-1.5">= 63.1 µm</tspan></text>
</g>
<rect x="480.5" y="192.3" width="64" height="47.2" fill="#fff" stroke="#d0d0d0" stroke-width="1"/>
<g font-size="8.75" fill="#333" text-anchor="middle">
<text x="511.8" y="202.5" font-weight="bold" fill="#1a1a1a" text-decoration="underline">GNPs</text>
<text x="511.8" y="213.2">Dv<tspan font-size="5.5" dy="1.5">10</tspan><tspan dy="-1.5">= 11.2 µm</tspan></text>
<text x="511.8" y="223.5">Dv<tspan font-size="5.5" dy="1.5">50</tspan><tspan dy="-1.5">= 35.1 µm</tspan></text>
<text x="511.8" y="233.8">Dv<tspan font-size="5.5" dy="1.5">90</tspan><tspan dy="-1.5">= 93.1 µm</tspan></text>
</g>
<!-- curves -->
<path d="M44.47,342.71 L46.08,342.86 L47.69,342.98 L49.30,343.10 L50.91,343.19 L52.51,343.27 L54.11,343.33 L55.72,343.38 L57.32,343.40 L58.92,343.42 L60.52,343.42 L62.12,343.41 L63.72,343.38 L65.31,343.34 L66.91,343.28 L68.51,343.22 L70.10,343.14 L71.69,343.05 L73.29,342.96 L74.88,342.85 L76.47,342.73 L78.07,342.60 L79.66,342.47 L81.25,342.32 L82.84,342.17 L84.43,342.01 L86.02,341.85 L87.60,341.67 L89.19,341.50 L90.78,341.31 L92.37,341.12 L93.96,340.93 L95.54,340.74 L97.13,340.54 L98.72,340.34 L100.30,340.13 L101.89,339.93 L103.48,339.72 L105.06,339.51 L106.65,339.30 L108.23,339.09 L109.82,338.88 L111.41,338.68 L112.99,338.47 L114.58,338.27 L116.16,338.07 L117.75,337.87 L119.34,337.67 L120.92,337.48 L122.51,337.30 L124.10,337.12 L125.69,336.94 L127.28,336.77 L128.86,336.61 L130.45,336.45 L132.04,336.31 L133.63,336.16 L135.22,336.03 L136.81,335.91 L138.40,335.79 L140.00,335.69 L141.59,335.60 L143.18,335.51 L144.78,335.44 L146.37,335.38 L147.97,335.33 L149.56,335.30 L151.16,335.28 L152.76,335.27 L154.35,335.27 L155.95,335.29 L157.55,335.33 L159.15,335.38 L160.75,335.44 L162.35,335.52 L163.95,335.61 L165.54,335.72 L167.14,335.84 L168.73,335.97 L170.32,336.11 L171.90,336.27 L173.48,336.45 L175.06,336.63 L176.64,336.83 L178.21,337.05 L179.77,337.27 L181.33,337.51 L182.89,337.76 L184.44,338.01 L185.99,338.27 L187.55,338.51 L189.11,338.74 L190.67,338.95 L192.24,339.13 L193.82,339.27 L195.42,339.38 L197.03,339.44 L198.66,339.44 L200.30,339.39 L201.97,339.26 L203.64,339.07 L205.32,338.80 L206.98,338.45 L208.61,338.01 L210.19,337.49 L211.71,336.87 L213.15,336.15 L214.50,335.33 L215.76,334.40 L216.92,333.39 L218.00,332.28 L219.01,331.11 L219.95,329.87 L220.84,328.57 L221.67,327.22 L222.46,325.84 L223.22,324.43 L223.95,323.00 L224.67,321.55 L225.37,320.11 L226.05,318.66 L226.73,317.20 L227.39,315.74 L228.04,314.28 L228.68,312.81 L229.31,311.34 L229.92,309.87 L230.53,308.39 L231.12,306.91 L231.70,305.42 L232.27,303.93 L232.83,302.44 L233.38,300.94 L233.92,299.44 L234.45,297.94 L234.97,296.43 L235.48,294.92 L235.98,293.41 L236.47,291.89 L236.96,290.37 L237.43,288.85 L237.90,287.33 L238.36,285.80 L238.81,284.27 L239.25,282.74 L239.68,281.21 L240.11,279.67 L240.53,278.13 L240.94,276.59 L241.35,275.04 L241.75,273.50 L242.14,271.95 L242.53,270.40 L242.91,268.85 L243.28,267.30 L243.65,265.74 L244.01,264.19 L244.37,262.63 L244.72,261.07 L245.07,259.51 L245.42,257.95 L245.76,256.38 L246.09,254.82 L246.42,253.25 L246.75,251.68 L247.07,250.12 L247.39,248.55 L247.71,246.98 L248.03,245.41 L248.34,243.84 L248.65,242.26 L248.95,240.69 L249.26,239.12 L249.56,237.55 L249.86,235.97 L250.16,234.40 L250.46,232.83 L250.76,231.25 L251.06,229.68 L251.35,228.10 L251.65,226.53 L251.94,224.96 L252.23,223.38 L252.53,221.81 L252.82,220.24 L253.11,218.66 L253.40,217.09 L253.69,215.52 L253.99,213.94 L254.28,212.37 L254.57,210.80 L254.85,209.22 L255.14,207.65 L255.43,206.08 L255.72,204.51 L256.01,202.93 L256.30,201.36 L256.59,199.79 L256.87,198.21 L257.16,196.64 L257.45,195.07 L257.74,193.50 L258.02,191.93 L258.31,190.35 L258.60,188.78 L258.88,187.21 L259.17,185.64 L259.46,184.07 L259.75,182.50 L260.03,180.93 L260.32,179.35 L260.61,177.78 L260.90,176.21 L261.19,174.64 L261.48,173.07 L261.77,171.50 L262.06,169.93 L262.35,168.36 L262.64,166.79 L262.93,165.22 L263.22,163.65 L263.51,162.08 L263.80,160.51 L264.09,158.94 L264.39,157.37 L264.68,155.80 L264.98,154.23 L265.27,152.67 L265.57,151.10 L265.87,149.53 L266.16,147.96 L266.46,146.39 L266.76,144.82 L267.06,143.26 L267.36,141.69 L267.66,140.12 L267.97,138.55 L268.27,136.99 L268.58,135.42 L268.88,133.85 L269.19,132.29 L269.50,130.72 L269.80,129.16 L270.11,127.59 L270.43,126.02 L270.74,124.46 L271.05,122.89 L271.37,121.33 L271.68,119.76 L272.00,118.20 L272.32,116.63 L272.64,115.07 L272.96,113.51 L273.28,111.94 L273.61,110.38 L273.93,108.81 L274.26,107.25 L274.59,105.69 L274.92,104.12 L275.25,102.56 L275.58,101.00 L275.91,99.44 L276.25,97.87 L276.58,96.31 L276.92,94.75 L277.26,93.18 L277.60,91.62 L277.94,90.06 L278.28,88.50 L278.62,86.93 L278.96,85.37 L279.31,83.81 L279.65,82.24 L280.00,80.68 L280.35,79.12 L280.69,77.55 L281.04,75.99 L281.39,74.42 L281.74,72.86 L282.09,71.30 L282.45,69.73 L282.80,68.17 L283.15,66.60 L283.51,65.03 L283.87,63.47 L284.24,61.91 L284.62,60.35 L285.03,58.80 L285.48,57.26 L285.96,55.73 L286.48,54.21 L287.06,52.71 L287.70,51.22 L288.41,49.76 L289.19,48.32 L290.04,46.90 L290.99,45.51 L292.03,44.14 L293.16,42.83 L294.35,41.63 L295.59,40.60 L296.84,39.78 L298.10,39.24 L299.33,39.03 L300.52,39.19 L301.65,39.71 L302.73,40.51 L303.76,41.56 L304.73,42.78 L305.65,44.12 L306.51,45.53 L307.31,46.97 L308.06,48.43 L308.75,49.90 L309.40,51.39 L310.01,52.90 L310.58,54.41 L311.12,55.95 L311.62,57.49 L312.09,59.04 L312.54,60.59 L312.97,62.15 L313.38,63.72 L313.78,65.29 L314.17,66.85 L314.55,68.42 L314.92,69.99 L315.29,71.56 L315.64,73.13 L315.99,74.70 L316.33,76.27 L316.67,77.84 L316.99,79.41 L317.31,80.98 L317.63,82.55 L317.94,84.12 L318.24,85.69 L318.54,87.26 L318.83,88.83 L319.12,90.40 L319.40,91.98 L319.68,93.55 L319.96,95.12 L320.23,96.69 L320.50,98.27 L320.76,99.84 L321.02,101.41 L321.28,102.99 L321.53,104.56 L321.79,106.13 L322.04,107.71 L322.29,109.28 L322.54,110.86 L322.79,112.43 L323.03,114.01 L323.28,115.58 L323.52,117.16 L323.77,118.73 L324.01,120.31 L324.26,121.89 L324.50,123.46 L324.75,125.04 L324.99,126.62 L325.23,128.19 L325.47,129.77 L325.72,131.35 L325.96,132.92 L326.20,134.50 L326.44,136.08 L326.68,137.66 L326.92,139.24 L327.16,140.81 L327.40,142.39 L327.64,143.97 L327.88,145.55 L328.12,147.13 L328.35,148.71 L328.59,150.29 L328.83,151.87 L329.07,153.45 L329.30,155.02 L329.54,156.60 L329.78,158.18 L330.01,159.76 L330.25,161.34 L330.49,162.92 L330.72,164.50 L330.96,166.08 L331.19,167.67 L331.43,169.25 L331.66,170.83 L331.90,172.41 L332.13,173.99 L332.37,175.57 L332.60,177.15 L332.83,178.73 L333.07,180.31 L333.30,181.89 L333.53,183.47 L333.77,185.06 L334.00,186.64 L334.23,188.22 L334.47,189.80 L334.70,191.38 L334.93,192.96 L335.17,194.54 L335.40,196.13 L335.63,197.71 L335.86,199.29 L336.10,200.87 L336.33,202.45 L336.56,204.03 L336.79,205.62 L337.03,207.20 L337.26,208.78 L337.49,210.36 L337.72,211.94 L337.96,213.53 L338.19,215.11 L338.42,216.69 L338.65,218.27 L338.89,219.85 L339.12,221.43 L339.35,223.02 L339.58,224.60 L339.82,226.18 L340.05,227.76 L340.28,229.34 L340.52,230.93 L340.75,232.51 L340.98,234.09 L341.21,235.67 L341.45,237.25 L341.68,238.83 L341.92,240.41 L342.15,242.00 L342.38,243.58 L342.62,245.16 L342.85,246.74 L343.09,248.32 L343.32,249.90 L343.55,251.48 L343.79,253.06 L344.02,254.64 L344.26,256.22 L344.50,257.80 L344.73,259.38 L344.97,260.96 L345.20,262.54 L345.44,264.12 L345.68,265.70 L345.91,267.28 L346.15,268.86 L346.39,270.44 L346.63,272.02 L346.86,273.60 L347.10,275.18 L347.34,276.76 L347.58,278.34 L347.82,279.92 L348.06,281.50 L348.30,283.08 L348.54,284.65 L348.78,286.23 L349.02,287.81 L349.26,289.39 L349.50,290.97 L349.75,292.54 L349.99,294.12 L350.23,295.70 L350.48,297.27 L350.72,298.85 L350.96,300.43 L351.21,302.00 L351.45,303.58 L351.70,305.16 L351.94,306.73 L352.19,308.31 L352.44,309.88 L352.68,311.46 L352.93,313.03 L353.18,314.61 L353.43,316.18 L353.68,317.76 L353.93,319.33 L354.18,320.90 L354.43,322.48 L354.68,324.05 L354.93,325.63 L355.18,327.20 L355.43,328.77 L355.69,330.34 L355.94,331.92 L356.20,333.49 L356.45,335.06 L356.71,336.63 L356.96,338.20 L357.22,339.77 L357.48,341.34 L357.73,342.91 L360,343 L492,343" fill="none" stroke="#5e98d6" stroke-width="2.2" stroke-linejoin="round"/>
<path d="M44.76,343.38 L45.82,343.33 L46.88,343.27 L47.94,343.22 L49.01,343.17 L50.08,343.12 L51.15,343.07 L52.23,343.03 L53.31,342.98 L54.39,342.94 L55.47,342.89 L56.56,342.85 L57.65,342.81 L58.74,342.77 L59.83,342.73 L60.93,342.69 L62.03,342.65 L63.13,342.61 L64.23,342.57 L65.34,342.53 L66.44,342.48 L67.55,342.44 L68.66,342.40 L69.77,342.36 L70.89,342.31 L72.00,342.27 L73.12,342.22 L74.24,342.18 L75.35,342.13 L76.47,342.08 L77.60,342.03 L78.72,341.97 L79.84,341.92 L80.96,341.86 L82.09,341.80 L83.21,341.74 L84.34,341.67 L85.46,341.61 L86.59,341.54 L87.72,341.47 L88.84,341.39 L89.97,341.31 L91.10,341.23 L92.23,341.15 L93.35,341.06 L94.48,340.97 L95.61,340.87 L96.73,340.77 L97.86,340.67 L98.98,340.56 L100.11,340.45 L101.23,340.34 L102.36,340.22 L103.48,340.09 L104.60,339.96 L105.72,339.83 L106.84,339.69 L107.96,339.55 L109.08,339.40 L110.20,339.24 L111.31,339.08 L112.42,338.92 L113.54,338.75 L114.65,338.57 L115.75,338.38 L116.86,338.20 L117.96,338.00 L119.07,337.80 L120.17,337.59 L121.27,337.37 L122.36,337.15 L123.46,336.92 L124.55,336.69 L125.64,336.45 L126.72,336.20 L127.81,335.94 L128.89,335.67 L129.97,335.40 L131.04,335.12 L132.12,334.83 L133.19,334.54 L134.25,334.23 L135.32,333.92 L136.38,333.60 L137.43,333.27 L138.49,332.93 L139.54,332.58 L140.58,332.23 L141.63,331.86 L142.67,331.49 L143.70,331.11 L144.73,330.71 L145.76,330.31 L146.78,329.91 L147.80,329.49 L148.82,329.06 L149.83,328.63 L150.84,328.18 L151.85,327.73 L152.85,327.27 L153.84,326.81 L154.84,326.33 L155.83,325.84 L156.81,325.35 L157.79,324.85 L158.77,324.34 L159.74,323.83 L160.71,323.30 L161.67,322.77 L162.63,322.23 L163.59,321.68 L164.54,321.13 L165.49,320.57 L166.43,320.00 L167.37,319.42 L168.31,318.84 L169.24,318.24 L170.17,317.64 L171.09,317.04 L172.01,316.43 L172.92,315.80 L173.83,315.18 L174.73,314.54 L175.63,313.90 L176.53,313.25 L177.42,312.60 L178.30,311.94 L179.19,311.27 L180.06,310.59 L180.94,309.91 L181.80,309.22 L182.67,308.53 L183.53,307.83 L184.38,307.12 L185.23,306.41 L186.07,305.69 L186.91,304.96 L187.75,304.23 L188.58,303.50 L189.40,302.75 L190.22,302.00 L191.04,301.25 L191.85,300.49 L192.66,299.72 L193.46,298.95 L194.25,298.17 L195.04,297.39 L195.83,296.60 L196.61,295.81 L197.39,295.01 L198.16,294.20 L198.92,293.39 L199.68,292.58 L200.44,291.76 L201.19,290.93 L201.93,290.10 L202.67,289.27 L203.41,288.43 L204.13,287.58 L204.86,286.73 L205.58,285.88 L206.29,285.02 L207.00,284.16 L207.70,283.29 L208.40,282.42 L209.09,281.54 L209.78,280.66 L210.46,279.78 L211.14,278.89 L211.81,278.00 L212.48,277.10 L213.15,276.20 L213.81,275.30 L214.46,274.40 L215.12,273.49 L215.76,272.58 L216.41,271.66 L217.05,270.74 L217.69,269.82 L218.32,268.90 L218.95,267.97 L219.58,267.05 L220.20,266.11 L220.82,265.18 L221.44,264.25 L222.06,263.31 L222.67,262.37 L223.28,261.43 L223.88,260.49 L224.49,259.54 L225.09,258.60 L225.69,257.65 L226.29,256.70 L226.88,255.75 L227.48,254.80 L228.07,253.85 L228.66,252.90 L229.25,251.95 L229.83,251.00 L230.42,250.04 L231.00,249.09 L231.59,248.13 L232.17,247.18 L232.75,246.22 L233.33,245.27 L233.91,244.32 L234.49,243.36 L235.06,242.41 L235.64,241.45 L236.22,240.50 L236.79,239.55 L237.37,238.60 L237.95,237.65 L238.52,236.70 L239.10,235.75 L239.68,234.81 L240.25,233.86 L240.83,232.92 L241.41,231.97 L241.99,231.03 L242.57,230.09 L243.15,229.16 L243.73,228.22 L244.31,227.29 L244.89,226.36 L245.48,225.43 L246.06,224.51 L246.65,223.58 L247.24,222.66 L247.83,221.74 L248.43,220.83 L249.02,219.91 L249.62,219.00 L250.22,218.09 L250.83,217.18 L251.43,216.27 L252.04,215.36 L252.66,214.46 L253.27,213.56 L253.89,212.65 L254.52,211.75 L255.15,210.85 L255.78,209.95 L256.42,209.05 L257.06,208.15 L257.71,207.25 L258.37,206.36 L259.03,205.46 L259.69,204.56 L260.36,203.66 L261.04,202.77 L261.72,201.87 L262.41,200.97 L263.10,200.07 L263.81,199.17 L264.51,198.27 L265.23,197.37 L265.95,196.47 L266.69,195.57 L267.42,194.67 L268.17,193.77 L268.93,192.87 L269.69,191.98 L270.46,191.10 L271.25,190.22 L272.04,189.36 L272.84,188.51 L273.65,187.67 L274.47,186.85 L275.31,186.05 L276.15,185.27 L277.01,184.51 L277.87,183.77 L278.75,183.06 L279.65,182.38 L280.55,181.72 L281.47,181.10 L282.40,180.51 L283.34,179.95 L284.30,179.43 L285.28,178.94 L286.26,178.50 L287.26,178.10 L288.28,177.74 L289.30,177.42 L290.34,177.14 L291.38,176.91 L292.42,176.72 L293.47,176.58 L294.53,176.48 L295.58,176.43 L296.63,176.42 L297.67,176.46 L298.71,176.54 L299.75,176.67 L300.77,176.85 L301.78,177.08 L302.78,177.36 L303.77,177.68 L304.74,178.05 L305.69,178.47 L306.63,178.94 L307.55,179.45 L308.46,179.99 L309.36,180.58 L310.24,181.20 L311.11,181.85 L311.97,182.54 L312.81,183.25 L313.64,183.99 L314.46,184.76 L315.27,185.55 L316.07,186.36 L316.86,187.18 L317.64,188.03 L318.40,188.89 L319.16,189.76 L319.91,190.64 L320.66,191.53 L321.39,192.42 L322.12,193.32 L322.84,194.22 L323.55,195.12 L324.25,196.02 L324.95,196.93 L325.64,197.84 L326.32,198.75 L327.00,199.67 L327.67,200.58 L328.33,201.50 L328.99,202.42 L329.64,203.35 L330.29,204.27 L330.93,205.20 L331.56,206.13 L332.19,207.06 L332.81,208.00 L333.42,208.93 L334.03,209.87 L334.64,210.81 L335.24,211.75 L335.83,212.70 L336.42,213.64 L337.00,214.59 L337.58,215.54 L338.16,216.49 L338.73,217.45 L339.29,218.40 L339.86,219.36 L340.41,220.32 L340.96,221.28 L341.51,222.24 L342.06,223.20 L342.60,224.17 L343.14,225.13 L343.67,226.10 L344.20,227.07 L344.73,228.04 L345.25,229.02 L345.77,229.99 L346.29,230.97 L346.80,231.94 L347.32,232.92 L347.83,233.90 L348.33,234.88 L348.84,235.87 L349.34,236.85 L349.84,237.83 L350.34,238.82 L350.83,239.81 L351.32,240.80 L351.82,241.79 L352.31,242.78 L352.79,243.77 L353.28,244.76 L353.77,245.75 L354.25,246.75 L354.74,247.74 L355.22,248.74 L355.70,249.74 L356.18,250.74 L356.66,251.73 L357.14,252.73 L357.62,253.73 L358.10,254.74 L358.58,255.74 L359.06,256.74 L359.53,257.74 L360.01,258.75 L360.49,259.75 L360.97,260.76 L361.45,261.76 L361.93,262.77 L362.41,263.77 L362.90,264.78 L363.38,265.78 L363.86,266.79 L364.35,267.80 L364.83,268.80 L365.32,269.81 L365.81,270.81 L366.30,271.82 L366.79,272.82 L367.29,273.82 L367.78,274.82 L368.28,275.83 L368.78,276.83 L369.28,277.83 L369.78,278.82 L370.29,279.82 L370.80,280.82 L371.31,281.81 L371.83,282.81 L372.34,283.80 L372.86,284.79 L373.39,285.77 L373.91,286.76 L374.44,287.75 L374.97,288.73 L375.51,289.71 L376.05,290.69 L376.59,291.66 L377.14,292.64 L377.69,293.61 L378.24,294.58 L378.80,295.54 L379.36,296.51 L379.93,297.47 L380.50,298.42 L381.08,299.38 L381.66,300.33 L382.25,301.28 L382.84,302.22 L383.43,303.17 L384.03,304.10 L384.64,305.04 L385.25,305.97 L385.86,306.90 L386.48,307.82 L387.11,308.74 L387.74,309.66 L388.38,310.57 L389.02,311.48 L389.67,312.38 L390.33,313.28 L390.99,314.18 L391.66,315.07 L392.34,315.95 L393.02,316.84 L393.71,317.71 L394.40,318.58 L395.10,319.45 L395.81,320.31 L396.53,321.17 L397.25,322.02 L397.98,322.87 L398.72,323.71 L399.46,324.55 L400.21,325.37 L400.97,326.20 L401.74,327.01 L402.52,327.82 L403.30,328.62 L404.10,329.41 L404.90,330.18 L405.71,330.94 L406.53,331.69 L407.36,332.43 L408.20,333.15 L409.05,333.85 L409.91,334.54 L410.78,335.21 L411.66,335.86 L412.56,336.49 L413.46,337.10 L414.37,337.68 L415.30,338.25 L416.24,338.79 L417.19,339.30 L418.15,339.79 L419.13,340.25 L420.11,340.69 L421.11,341.09 L422.13,341.47 L423.15,341.82 L424.19,342.13 L425.25,342.41 L426.31,342.66 L427.40,342.87 L428.49,343.05 L429.60,343.20 L430.73,343.30 L431.87,343.37 L433.02,343.39 L434.20,343.38 L435.38,343.33 L436.58,343.23 L437.80,343.09 L439.04,342.91 L440.29,342.68 L492,343" fill="none" stroke="#e8000b" stroke-width="2.35" stroke-dasharray="4.3 4.6" stroke-linecap="round"/>
<!-- legend -->
<line x1="467.3" y1="311.5" x2="486.1" y2="311.5" stroke="#5e98d6" stroke-width="2"/>
<line x1="468.3" y1="328.6" x2="486.5" y2="328.6" stroke="#e8000b" stroke-width="2.35" stroke-dasharray="4.3 4.6" stroke-linecap="round"/>
<text x="488.2" y="314.3" font-size="8.6" fill="#404040">AA2024</text>
<text x="488.2" y="331.8" font-size="8.7" fill="#404040">Graphene</text>
</svg>
</body></html>
